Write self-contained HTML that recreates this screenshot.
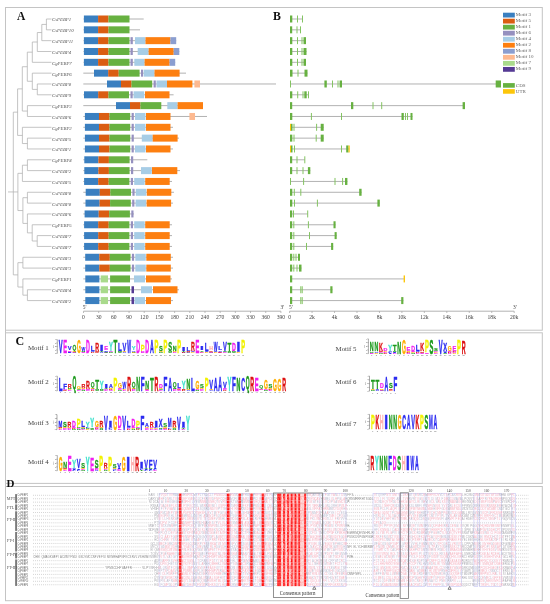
<!DOCTYPE html><html><head><meta charset="utf-8"><title>PEBP figure</title><style>html,body{margin:0;padding:0;background:#fff;}body{width:550px;height:604px;overflow:hidden;}svg{display:block;}</style></head><body>
<svg width="550" height="604" viewBox="0 0 550 604">
<rect width="550" height="604" fill="#fff"/>
<rect x="5.5" y="7.5" width="536.8" height="322.7" fill="none" stroke="#c4c4c4" stroke-width="1"/>
<text x="17" y="19.7" font-family="Liberation Serif, serif" font-weight="bold" font-size="11.5" fill="#111">A</text>
<text x="272.9" y="19.8" font-family="Liberation Serif, serif" font-weight="bold" font-size="11.8" fill="#111">B</text>
<path d="M46.4 19H51.5 M46.4 29.83H51.5 M46.4 19V29.83 M41.8 24.41H46.4 M41.8 40.66H51.5 M41.8 24.41V40.66 M37.3 32.54H41.8 M37.3 51.49H51.5 M37.3 32.54V51.49 M32.3 42.01H37.3 M32.3 62.32H51.5 M32.3 42.01V62.32 M37.3 83.98H51.5 M37.3 94.81H51.5 M37.3 83.98V94.81 M32.3 73.15H51.5 M32.3 89.4H37.3 M32.3 73.15V89.4 M27.3 52.17H32.3 M27.3 81.27H32.3 M27.3 52.17V81.27 M27.4 105.64H51.5 M27.4 116.47H51.5 M27.4 105.64V116.47 M22.3 66.72H27.3 M22.3 111.06H27.4 M22.3 66.72V111.06 M27.4 138.13H51.5 M27.4 148.96H51.5 M27.4 138.13V148.96 M22.4 127.3H51.5 M22.4 143.55H27.4 M22.4 127.3V143.55 M17.6 88.89H22.3 M17.6 135.42H22.4 M17.6 88.89V135.42 M27.4 159.79H51.5 M27.4 170.62H51.5 M27.4 159.79V170.62 M22.4 165.2H27.4 M22.4 181.45H51.5 M22.4 165.2V181.45 M27.4 192.28H51.5 M27.4 203.11H51.5 M27.4 192.28V203.11 M37.2 235.6H51.5 M37.2 246.43H51.5 M37.2 235.6V246.43 M32.2 224.77H51.5 M32.2 241.01H37.2 M32.2 224.77V241.01 M27.4 213.94H51.5 M27.4 232.89H32.2 M27.4 213.94V232.89 M22.9 197.69H27.4 M22.9 223.42H27.4 M22.9 197.69V223.42 M17.9 173.33H22.4 M17.9 210.56H22.9 M17.9 173.33V210.56 M22.9 257.26H51.5 M22.9 268.09H51.5 M22.9 257.26V268.09 M27.4 289.75H51.5 M27.4 300.58H51.5 M27.4 289.75V300.58 M22.9 278.92H51.5 M22.9 295.16H27.4 M22.9 278.92V295.16 M17.9 262.68H22.9 M17.9 287.04H22.9 M17.9 262.68V287.04 M13.3 112.15H17.6 M13.3 191.94H17.9 M13.3 274.86H17.9 M13.3 112.15V274.86 M8 191.94H13.3" fill="none" stroke="#b0b0b0" stroke-width="0.75"/>
<text x="52" y="21.4" font-family="Liberation Serif, serif" font-style="italic" font-size="4.8" fill="#555">CsPEBP1</text>
<text x="52" y="32.23" font-family="Liberation Serif, serif" font-style="italic" font-size="4.8" fill="#555">CsPEBP10</text>
<text x="52" y="43.06" font-family="Liberation Serif, serif" font-style="italic" font-size="4.8" fill="#555">CsPEBP11</text>
<text x="52" y="53.89" font-family="Liberation Serif, serif" font-style="italic" font-size="4.8" fill="#555">CsPEBP4</text>
<text x="52" y="64.72" font-family="Liberation Serif, serif" font-style="italic" font-size="4.8" fill="#555">CgPEBP7</text>
<text x="52" y="75.55" font-family="Liberation Serif, serif" font-style="italic" font-size="4.8" fill="#555">CgPEBP6</text>
<text x="52" y="86.38" font-family="Liberation Serif, serif" font-style="italic" font-size="4.8" fill="#555">CsPEBP8</text>
<text x="52" y="97.21" font-family="Liberation Serif, serif" font-style="italic" font-size="4.8" fill="#555">CsPEBP9</text>
<text x="52" y="108.04" font-family="Liberation Serif, serif" font-style="italic" font-size="4.8" fill="#555">CgPEBP3</text>
<text x="52" y="118.87" font-family="Liberation Serif, serif" font-style="italic" font-size="4.8" fill="#555">CsPEBP6</text>
<text x="52" y="129.7" font-family="Liberation Serif, serif" font-style="italic" font-size="4.8" fill="#555">CgPEBP2</text>
<text x="52" y="140.53" font-family="Liberation Serif, serif" font-style="italic" font-size="4.8" fill="#555">CsPEBP5</text>
<text x="52" y="151.36" font-family="Liberation Serif, serif" font-style="italic" font-size="4.8" fill="#555">CsPEBP1</text>
<text x="52" y="162.19" font-family="Liberation Serif, serif" font-style="italic" font-size="4.8" fill="#555">CgPEBP4</text>
<text x="52" y="173.02" font-family="Liberation Serif, serif" font-style="italic" font-size="4.8" fill="#555">CsPEBP2</text>
<text x="52" y="183.85" font-family="Liberation Serif, serif" font-style="italic" font-size="4.8" fill="#555">CsPEBP5</text>
<text x="52" y="194.68" font-family="Liberation Serif, serif" font-style="italic" font-size="4.8" fill="#555">CsPEBP8</text>
<text x="52" y="205.51" font-family="Liberation Serif, serif" font-style="italic" font-size="4.8" fill="#555">CsPEBP8</text>
<text x="52" y="216.34" font-family="Liberation Serif, serif" font-style="italic" font-size="4.8" fill="#555">CsPEBP6</text>
<text x="52" y="227.17" font-family="Liberation Serif, serif" font-style="italic" font-size="4.8" fill="#555">CgPEBP5</text>
<text x="52" y="238" font-family="Liberation Serif, serif" font-style="italic" font-size="4.8" fill="#555">CsPEBP7</text>
<text x="52" y="248.83" font-family="Liberation Serif, serif" font-style="italic" font-size="4.8" fill="#555">CsPEBP7</text>
<text x="52" y="259.66" font-family="Liberation Serif, serif" font-style="italic" font-size="4.8" fill="#555">CsPEBP3</text>
<text x="52" y="270.49" font-family="Liberation Serif, serif" font-style="italic" font-size="4.8" fill="#555">CsPEBP3</text>
<text x="52" y="281.32" font-family="Liberation Serif, serif" font-style="italic" font-size="4.8" fill="#555">CgPEBP1</text>
<text x="52" y="292.15" font-family="Liberation Serif, serif" font-style="italic" font-size="4.8" fill="#555">CsPEBP4</text>
<text x="52" y="302.98" font-family="Liberation Serif, serif" font-style="italic" font-size="4.8" fill="#555">CsPEBP2</text>
<path d="M83.5 19H143.7" stroke="#a9a9a9" stroke-width="0.9"/>
<rect x="83.9" y="15.5" width="14.2" height="7" fill="#3a7fc0"/>
<rect x="98.1" y="15.5" width="10.4" height="7" fill="#da5d12"/>
<rect x="108.5" y="15.5" width="21" height="7" fill="#67b141"/>
<path d="M83.5 29.83H140" stroke="#a9a9a9" stroke-width="0.9"/>
<rect x="83.9" y="26.33" width="14.2" height="7" fill="#3a7fc0"/>
<rect x="98.1" y="26.33" width="10.4" height="7" fill="#da5d12"/>
<rect x="108.5" y="26.33" width="21" height="7" fill="#67b141"/>
<path d="M83.5 40.66H176.2" stroke="#a9a9a9" stroke-width="0.9"/>
<rect x="83.9" y="37.16" width="14.2" height="7" fill="#3a7fc0"/>
<rect x="98.1" y="37.16" width="10.4" height="7" fill="#da5d12"/>
<rect x="108.5" y="37.16" width="21" height="7" fill="#67b141"/>
<rect x="130.5" y="37.16" width="2.3" height="7" fill="#9590bf"/>
<rect x="135" y="37.16" width="10.5" height="7" fill="#a7cde6"/>
<rect x="145.5" y="37.16" width="24.9" height="7" fill="#fd7f10"/>
<rect x="170.4" y="37.16" width="5.8" height="7" fill="#8b9ed0"/>
<path d="M83.5 51.49H179.3" stroke="#a9a9a9" stroke-width="0.9"/>
<rect x="83.9" y="47.99" width="14.2" height="7" fill="#3a7fc0"/>
<rect x="98.1" y="47.99" width="10.4" height="7" fill="#da5d12"/>
<rect x="108.5" y="47.99" width="21" height="7" fill="#67b141"/>
<rect x="130.5" y="47.99" width="2.3" height="7" fill="#9590bf"/>
<rect x="137.7" y="47.99" width="10.9" height="7" fill="#a7cde6"/>
<rect x="148.6" y="47.99" width="25.1" height="7" fill="#fd7f10"/>
<rect x="173.7" y="47.99" width="5.6" height="7" fill="#8b9ed0"/>
<path d="M83.5 62.32H175.2" stroke="#a9a9a9" stroke-width="0.9"/>
<rect x="83.9" y="58.82" width="14.2" height="7" fill="#3a7fc0"/>
<rect x="98.1" y="58.82" width="10.4" height="7" fill="#da5d12"/>
<rect x="108.5" y="58.82" width="21" height="7" fill="#67b141"/>
<rect x="130.5" y="58.82" width="2.3" height="7" fill="#9590bf"/>
<rect x="134.3" y="58.82" width="10.3" height="7" fill="#a7cde6"/>
<rect x="144.6" y="58.82" width="25" height="7" fill="#fd7f10"/>
<rect x="169.6" y="58.82" width="5.6" height="7" fill="#8b9ed0"/>
<path d="M83.3 73.15H186" stroke="#a9a9a9" stroke-width="0.9"/>
<rect x="94" y="69.65" width="14.2" height="7" fill="#3a7fc0"/>
<rect x="108.2" y="69.65" width="10.5" height="7" fill="#da5d12"/>
<rect x="118.7" y="69.65" width="20.9" height="7" fill="#67b141"/>
<rect x="141" y="69.65" width="2" height="7" fill="#9590bf"/>
<rect x="143.6" y="69.65" width="10.9" height="7" fill="#a7cde6"/>
<rect x="154.5" y="69.65" width="25.1" height="7" fill="#fd7f10"/>
<path d="M83.3 83.98H276" stroke="#a9a9a9" stroke-width="0.9"/>
<rect x="107" y="80.48" width="14" height="7" fill="#3a7fc0"/>
<rect x="121" y="80.48" width="10.5" height="7" fill="#da5d12"/>
<rect x="131.5" y="80.48" width="20.7" height="7" fill="#67b141"/>
<rect x="153.6" y="80.48" width="2.2" height="7" fill="#9590bf"/>
<rect x="156.5" y="80.48" width="10.5" height="7" fill="#a7cde6"/>
<rect x="167" y="80.48" width="25.4" height="7" fill="#fd7f10"/>
<rect x="194.4" y="80.48" width="5.6" height="7" fill="#fdb990"/>
<path d="M83.3 94.81H173.6" stroke="#a9a9a9" stroke-width="0.9"/>
<rect x="84" y="91.31" width="14.2" height="7" fill="#3a7fc0"/>
<rect x="98.2" y="91.31" width="10.3" height="7" fill="#da5d12"/>
<rect x="108.5" y="91.31" width="20.5" height="7" fill="#67b141"/>
<rect x="130.5" y="91.31" width="2.2" height="7" fill="#9590bf"/>
<rect x="133.6" y="91.31" width="10.6" height="7" fill="#a7cde6"/>
<rect x="145" y="91.31" width="24.5" height="7" fill="#fd7f10"/>
<path d="M83.3 105.64H203" stroke="#a9a9a9" stroke-width="0.9"/>
<rect x="116" y="102.14" width="14" height="7" fill="#3a7fc0"/>
<rect x="130" y="102.14" width="10.4" height="7" fill="#da5d12"/>
<rect x="140.4" y="102.14" width="20.9" height="7" fill="#67b141"/>
<rect x="167.3" y="102.14" width="10.3" height="7" fill="#a7cde6"/>
<rect x="177.6" y="102.14" width="25.4" height="7" fill="#fd7f10"/>
<path d="M83.3 116.47H207" stroke="#a9a9a9" stroke-width="0.9"/>
<rect x="84.9" y="112.97" width="14.1" height="7" fill="#3a7fc0"/>
<rect x="99" y="112.97" width="10.5" height="7" fill="#da5d12"/>
<rect x="109.5" y="112.97" width="20.7" height="7" fill="#67b141"/>
<rect x="131.6" y="112.97" width="2.2" height="7" fill="#9590bf"/>
<rect x="135" y="112.97" width="10.5" height="7" fill="#a7cde6"/>
<rect x="146" y="112.97" width="24.5" height="7" fill="#fd7f10"/>
<rect x="189.4" y="112.97" width="5.6" height="7" fill="#fdb990"/>
<path d="M83.3 127.3H173" stroke="#a9a9a9" stroke-width="0.9"/>
<rect x="84.9" y="123.8" width="14.1" height="7" fill="#3a7fc0"/>
<rect x="99" y="123.8" width="10.5" height="7" fill="#da5d12"/>
<rect x="109.5" y="123.8" width="20.7" height="7" fill="#67b141"/>
<rect x="131.6" y="123.8" width="2.2" height="7" fill="#9590bf"/>
<rect x="135" y="123.8" width="10.5" height="7" fill="#a7cde6"/>
<rect x="146" y="123.8" width="24.5" height="7" fill="#fd7f10"/>
<path d="M83.3 138.13H179" stroke="#a9a9a9" stroke-width="0.9"/>
<rect x="84.9" y="134.63" width="14.1" height="7" fill="#3a7fc0"/>
<rect x="99" y="134.63" width="10.5" height="7" fill="#da5d12"/>
<rect x="109.5" y="134.63" width="20.7" height="7" fill="#67b141"/>
<rect x="131.6" y="134.63" width="2.2" height="7" fill="#9590bf"/>
<rect x="141.8" y="134.63" width="10.9" height="7" fill="#a7cde6"/>
<rect x="152.7" y="134.63" width="24.9" height="7" fill="#fd7f10"/>
<path d="M83.3 148.96H173" stroke="#a9a9a9" stroke-width="0.9"/>
<rect x="84.9" y="145.46" width="14.1" height="7" fill="#3a7fc0"/>
<rect x="99" y="145.46" width="10.5" height="7" fill="#da5d12"/>
<rect x="109.5" y="145.46" width="20.7" height="7" fill="#67b141"/>
<rect x="131.6" y="145.46" width="2.2" height="7" fill="#9590bf"/>
<rect x="135" y="145.46" width="10.5" height="7" fill="#a7cde6"/>
<rect x="146" y="145.46" width="24.5" height="7" fill="#fd7f10"/>
<path d="M83.3 159.79H147.3" stroke="#a9a9a9" stroke-width="0.9"/>
<rect x="84.3" y="156.29" width="14.1" height="7" fill="#3a7fc0"/>
<rect x="98.4" y="156.29" width="10.5" height="7" fill="#da5d12"/>
<rect x="108.9" y="156.29" width="20.7" height="7" fill="#67b141"/>
<rect x="131" y="156.29" width="2.2" height="7" fill="#9590bf"/>
<path d="M83.3 170.62H180" stroke="#a9a9a9" stroke-width="0.9"/>
<rect x="84.3" y="167.12" width="14.1" height="7" fill="#3a7fc0"/>
<rect x="98.4" y="167.12" width="10.5" height="7" fill="#da5d12"/>
<rect x="108.9" y="167.12" width="20.7" height="7" fill="#67b141"/>
<rect x="131" y="167.12" width="2.2" height="7" fill="#9590bf"/>
<rect x="141" y="167.12" width="10.8" height="7" fill="#a7cde6"/>
<rect x="152" y="167.12" width="25.3" height="7" fill="#fd7f10"/>
<path d="M83.3 181.45H172" stroke="#a9a9a9" stroke-width="0.9"/>
<rect x="84.1" y="177.95" width="14.1" height="7" fill="#3a7fc0"/>
<rect x="98.2" y="177.95" width="10.5" height="7" fill="#da5d12"/>
<rect x="108.7" y="177.95" width="20.7" height="7" fill="#67b141"/>
<rect x="130.8" y="177.95" width="2.2" height="7" fill="#9590bf"/>
<rect x="134.2" y="177.95" width="10.5" height="7" fill="#a7cde6"/>
<rect x="145.2" y="177.95" width="24.5" height="7" fill="#fd7f10"/>
<path d="M83.3 192.28H174" stroke="#a9a9a9" stroke-width="0.9"/>
<rect x="85.7" y="188.78" width="14.1" height="7" fill="#3a7fc0"/>
<rect x="99.8" y="188.78" width="10.5" height="7" fill="#da5d12"/>
<rect x="110.3" y="188.78" width="20.7" height="7" fill="#67b141"/>
<rect x="132.4" y="188.78" width="2.2" height="7" fill="#9590bf"/>
<rect x="135.8" y="188.78" width="10.5" height="7" fill="#a7cde6"/>
<rect x="146.8" y="188.78" width="24.5" height="7" fill="#fd7f10"/>
<path d="M83.3 203.11H173" stroke="#a9a9a9" stroke-width="0.9"/>
<rect x="85.5" y="199.61" width="14.1" height="7" fill="#3a7fc0"/>
<rect x="99.6" y="199.61" width="10.5" height="7" fill="#da5d12"/>
<rect x="110.1" y="199.61" width="20.7" height="7" fill="#67b141"/>
<rect x="132.2" y="199.61" width="2.2" height="7" fill="#9590bf"/>
<rect x="135.6" y="199.61" width="10.5" height="7" fill="#a7cde6"/>
<rect x="146.6" y="199.61" width="24.5" height="7" fill="#fd7f10"/>
<path d="M83.3 213.94H134" stroke="#a9a9a9" stroke-width="0.9"/>
<rect x="84.6" y="210.44" width="14.1" height="7" fill="#3a7fc0"/>
<rect x="98.7" y="210.44" width="10.5" height="7" fill="#da5d12"/>
<rect x="109.2" y="210.44" width="20.7" height="7" fill="#67b141"/>
<rect x="131.3" y="210.44" width="2.2" height="7" fill="#9590bf"/>
<path d="M83.3 224.77H172" stroke="#a9a9a9" stroke-width="0.9"/>
<rect x="84.1" y="221.27" width="14.1" height="7" fill="#3a7fc0"/>
<rect x="98.2" y="221.27" width="10.5" height="7" fill="#da5d12"/>
<rect x="108.7" y="221.27" width="20.7" height="7" fill="#67b141"/>
<rect x="130.8" y="221.27" width="2.2" height="7" fill="#9590bf"/>
<rect x="134.2" y="221.27" width="10.5" height="7" fill="#a7cde6"/>
<rect x="145.2" y="221.27" width="24.5" height="7" fill="#fd7f10"/>
<path d="M83.3 235.6H172" stroke="#a9a9a9" stroke-width="0.9"/>
<rect x="84.1" y="232.1" width="14.1" height="7" fill="#3a7fc0"/>
<rect x="98.2" y="232.1" width="10.5" height="7" fill="#da5d12"/>
<rect x="108.7" y="232.1" width="20.7" height="7" fill="#67b141"/>
<rect x="130.8" y="232.1" width="2.2" height="7" fill="#9590bf"/>
<rect x="134.2" y="232.1" width="10.5" height="7" fill="#a7cde6"/>
<rect x="145.2" y="232.1" width="24.5" height="7" fill="#fd7f10"/>
<path d="M83.3 246.43H172" stroke="#a9a9a9" stroke-width="0.9"/>
<rect x="84.1" y="242.93" width="14.1" height="7" fill="#3a7fc0"/>
<rect x="98.2" y="242.93" width="10.5" height="7" fill="#da5d12"/>
<rect x="108.7" y="242.93" width="20.7" height="7" fill="#67b141"/>
<rect x="130.8" y="242.93" width="2.2" height="7" fill="#9590bf"/>
<rect x="134.2" y="242.93" width="10.5" height="7" fill="#a7cde6"/>
<rect x="145.2" y="242.93" width="24.5" height="7" fill="#fd7f10"/>
<path d="M83.3 257.26H173" stroke="#a9a9a9" stroke-width="0.9"/>
<rect x="85.2" y="253.76" width="14.1" height="7" fill="#3a7fc0"/>
<rect x="99.3" y="253.76" width="10.5" height="7" fill="#da5d12"/>
<rect x="109.8" y="253.76" width="20.7" height="7" fill="#67b141"/>
<rect x="131.9" y="253.76" width="2.2" height="7" fill="#9590bf"/>
<rect x="135.3" y="253.76" width="10.5" height="7" fill="#a7cde6"/>
<rect x="146.3" y="253.76" width="24.5" height="7" fill="#fd7f10"/>
<path d="M83.3 268.09H173" stroke="#a9a9a9" stroke-width="0.9"/>
<rect x="85.2" y="264.59" width="14.1" height="7" fill="#3a7fc0"/>
<rect x="99.3" y="264.59" width="10.5" height="7" fill="#da5d12"/>
<rect x="109.8" y="264.59" width="20.7" height="7" fill="#67b141"/>
<rect x="131.9" y="264.59" width="2.2" height="7" fill="#9590bf"/>
<rect x="135.3" y="264.59" width="10.5" height="7" fill="#a7cde6"/>
<rect x="146.3" y="264.59" width="24.5" height="7" fill="#fd7f10"/>
<path d="M83.3 278.92H172" stroke="#a9a9a9" stroke-width="0.9"/>
<rect x="85.3" y="275.42" width="14.1" height="7" fill="#3a7fc0"/>
<rect x="100.7" y="275.42" width="7.3" height="7" fill="#a9da8c"/>
<rect x="110.1" y="275.42" width="19.9" height="7" fill="#67b141"/>
<rect x="134" y="275.42" width="11" height="7" fill="#a7cde6"/>
<rect x="146" y="275.42" width="24.5" height="7" fill="#fd7f10"/>
<path d="M83.3 289.75H179" stroke="#a9a9a9" stroke-width="0.9"/>
<rect x="85.3" y="286.25" width="14.1" height="7" fill="#3a7fc0"/>
<rect x="100.7" y="286.25" width="7.3" height="7" fill="#a9da8c"/>
<rect x="110.1" y="286.25" width="19.9" height="7" fill="#67b141"/>
<rect x="131.5" y="286.25" width="2.5" height="7" fill="#553a94"/>
<rect x="141" y="286.25" width="11" height="7" fill="#a7cde6"/>
<rect x="153" y="286.25" width="24.5" height="7" fill="#fd7f10"/>
<path d="M83.3 300.58H173" stroke="#a9a9a9" stroke-width="0.9"/>
<rect x="85.3" y="297.08" width="14.1" height="7" fill="#3a7fc0"/>
<rect x="100.7" y="297.08" width="7.3" height="7" fill="#a9da8c"/>
<rect x="110.1" y="297.08" width="19.9" height="7" fill="#67b141"/>
<rect x="131.5" y="297.08" width="2.5" height="7" fill="#553a94"/>
<rect x="134.5" y="297.08" width="10.5" height="7" fill="#a7cde6"/>
<rect x="146" y="297.08" width="25" height="7" fill="#fd7f10"/>
<path d="M290 19H302.5" stroke="#a9a9a9" stroke-width="0.9"/>
<rect x="290" y="15.5" width="2.3" height="7" fill="#67b141"/>
<rect x="297" y="15.5" width="1" height="7" fill="#84c462"/>
<rect x="302" y="15.5" width="1" height="7" fill="#84c462"/>
<path d="M290 29.83H300.5" stroke="#a9a9a9" stroke-width="0.9"/>
<rect x="290" y="26.33" width="2.2" height="7" fill="#67b141"/>
<rect x="296.5" y="26.33" width="1" height="7" fill="#84c462"/>
<rect x="300" y="26.33" width="1" height="7" fill="#84c462"/>
<path d="M290 40.66H306" stroke="#a9a9a9" stroke-width="0.9"/>
<rect x="290" y="37.16" width="2.3" height="7" fill="#67b141"/>
<rect x="297" y="37.16" width="1" height="7" fill="#84c462"/>
<rect x="301.5" y="37.16" width="1" height="7" fill="#84c462"/>
<rect x="303.5" y="37.16" width="2.5" height="7" fill="#67b141"/>
<path d="M290 51.49H306.5" stroke="#a9a9a9" stroke-width="0.9"/>
<rect x="290" y="47.99" width="2.3" height="7" fill="#67b141"/>
<rect x="297" y="47.99" width="1" height="7" fill="#84c462"/>
<rect x="301.5" y="47.99" width="1" height="7" fill="#84c462"/>
<rect x="303.5" y="47.99" width="3" height="7" fill="#67b141"/>
<path d="M290 62.32H306" stroke="#a9a9a9" stroke-width="0.9"/>
<rect x="290" y="58.82" width="2.3" height="7" fill="#67b141"/>
<rect x="297" y="58.82" width="1" height="7" fill="#84c462"/>
<rect x="301.5" y="58.82" width="1" height="7" fill="#84c462"/>
<rect x="303.5" y="58.82" width="2.5" height="7" fill="#67b141"/>
<path d="M290 73.15H307.5" stroke="#a9a9a9" stroke-width="0.9"/>
<rect x="290" y="69.65" width="2.5" height="7" fill="#67b141"/>
<rect x="297.5" y="69.65" width="1" height="7" fill="#84c462"/>
<rect x="304.5" y="69.65" width="3" height="7" fill="#67b141"/>
<path d="M290 83.98H501" stroke="#a9a9a9" stroke-width="0.9"/>
<rect x="290" y="80.48" width="1" height="7" fill="#84c462"/>
<rect x="324.4" y="80.48" width="2.4" height="7" fill="#67b141"/>
<rect x="332" y="80.48" width="1" height="7" fill="#84c462"/>
<rect x="337.5" y="80.48" width="1" height="7" fill="#84c462"/>
<rect x="339.6" y="80.48" width="2.4" height="7" fill="#67b141"/>
<rect x="495.7" y="80.48" width="5.3" height="7" fill="#67b141"/>
<path d="M290 94.81H308.5" stroke="#a9a9a9" stroke-width="0.9"/>
<rect x="290" y="91.31" width="2.3" height="7" fill="#67b141"/>
<rect x="297.2" y="91.31" width="1" height="7" fill="#84c462"/>
<rect x="302.5" y="91.31" width="1" height="7" fill="#84c462"/>
<rect x="304.3" y="91.31" width="2.4" height="7" fill="#67b141"/>
<rect x="308" y="91.31" width="1" height="7" fill="#84c462"/>
<path d="M290 105.64H465" stroke="#a9a9a9" stroke-width="0.9"/>
<rect x="290" y="102.14" width="2.2" height="7" fill="#67b141"/>
<rect x="351" y="102.14" width="2.3" height="7" fill="#67b141"/>
<rect x="372.5" y="102.14" width="1" height="7" fill="#84c462"/>
<rect x="381.2" y="102.14" width="1" height="7" fill="#84c462"/>
<rect x="462.6" y="102.14" width="2.4" height="7" fill="#67b141"/>
<path d="M290 116.47H412.5" stroke="#a9a9a9" stroke-width="0.9"/>
<rect x="290" y="112.97" width="2.3" height="7" fill="#67b141"/>
<rect x="310.9" y="112.97" width="1" height="7" fill="#84c462"/>
<rect x="341" y="112.97" width="1" height="7" fill="#84c462"/>
<rect x="401.5" y="112.97" width="2.3" height="7" fill="#67b141"/>
<rect x="405" y="112.97" width="1" height="7" fill="#84c462"/>
<rect x="407" y="112.97" width="1" height="7" fill="#84c462"/>
<rect x="410.5" y="112.97" width="2" height="7" fill="#67b141"/>
<path d="M290 127.3H323.7" stroke="#a9a9a9" stroke-width="0.9"/>
<rect x="290" y="123.8" width="1" height="7" fill="#fcc60a"/>
<rect x="291" y="123.8" width="1.5" height="7" fill="#67b141"/>
<rect x="293.5" y="123.8" width="1" height="7" fill="#84c462"/>
<rect x="316.1" y="123.8" width="1" height="7" fill="#84c462"/>
<rect x="320.7" y="123.8" width="3" height="7" fill="#67b141"/>
<path d="M290 138.13H323.7" stroke="#a9a9a9" stroke-width="0.9"/>
<rect x="290" y="134.63" width="2.3" height="7" fill="#67b141"/>
<rect x="293.5" y="134.63" width="1" height="7" fill="#84c462"/>
<rect x="315.7" y="134.63" width="1" height="7" fill="#84c462"/>
<rect x="320.7" y="134.63" width="3" height="7" fill="#67b141"/>
<path d="M290 148.96H349.5" stroke="#a9a9a9" stroke-width="0.9"/>
<rect x="290" y="145.46" width="1" height="7" fill="#fcc60a"/>
<rect x="291" y="145.46" width="1.5" height="7" fill="#67b141"/>
<rect x="294" y="145.46" width="1" height="7" fill="#84c462"/>
<rect x="341" y="145.46" width="1" height="7" fill="#84c462"/>
<rect x="346.2" y="145.46" width="2.3" height="7" fill="#67b141"/>
<rect x="348.5" y="145.46" width="1.2" height="7" fill="#fcc60a"/>
<path d="M290 159.79H304.8" stroke="#a9a9a9" stroke-width="0.9"/>
<rect x="290" y="156.29" width="2.2" height="7" fill="#67b141"/>
<rect x="296.5" y="156.29" width="1" height="7" fill="#84c462"/>
<rect x="304.3" y="156.29" width="1" height="7" fill="#84c462"/>
<path d="M290 170.62H310.3" stroke="#a9a9a9" stroke-width="0.9"/>
<rect x="290" y="167.12" width="2.2" height="7" fill="#67b141"/>
<rect x="296.5" y="167.12" width="1" height="7" fill="#84c462"/>
<rect x="302.5" y="167.12" width="1" height="7" fill="#84c462"/>
<rect x="307.9" y="167.12" width="2.4" height="7" fill="#67b141"/>
<path d="M290 181.45H347.4" stroke="#a9a9a9" stroke-width="0.9"/>
<rect x="290" y="177.95" width="1" height="7" fill="#84c462"/>
<rect x="303.1" y="177.95" width="1" height="7" fill="#84c462"/>
<rect x="334.5" y="177.95" width="1" height="7" fill="#84c462"/>
<rect x="342.1" y="177.95" width="1" height="7" fill="#84c462"/>
<rect x="345" y="177.95" width="2.4" height="7" fill="#67b141"/>
<path d="M290 192.28H361.6" stroke="#a9a9a9" stroke-width="0.9"/>
<rect x="290" y="188.78" width="2.3" height="7" fill="#67b141"/>
<rect x="293.8" y="188.78" width="1" height="7" fill="#84c462"/>
<rect x="300.3" y="188.78" width="1" height="7" fill="#84c462"/>
<rect x="359.2" y="188.78" width="2.4" height="7" fill="#67b141"/>
<path d="M290 203.11H379.8" stroke="#a9a9a9" stroke-width="0.9"/>
<rect x="290" y="199.61" width="2.3" height="7" fill="#67b141"/>
<rect x="294" y="199.61" width="1" height="7" fill="#84c462"/>
<rect x="316.9" y="199.61" width="1" height="7" fill="#84c462"/>
<rect x="377.4" y="199.61" width="2.4" height="7" fill="#67b141"/>
<path d="M290 213.94H307.7" stroke="#a9a9a9" stroke-width="0.9"/>
<rect x="290" y="210.44" width="2.2" height="7" fill="#67b141"/>
<rect x="293" y="210.44" width="1" height="7" fill="#84c462"/>
<rect x="307.2" y="210.44" width="1" height="7" fill="#84c462"/>
<path d="M290 224.77H335.6" stroke="#a9a9a9" stroke-width="0.9"/>
<rect x="290" y="221.27" width="2.2" height="7" fill="#67b141"/>
<rect x="293.3" y="221.27" width="1" height="7" fill="#84c462"/>
<rect x="307.9" y="221.27" width="1" height="7" fill="#84c462"/>
<rect x="333.5" y="221.27" width="2.1" height="7" fill="#67b141"/>
<path d="M290 235.6H336.7" stroke="#a9a9a9" stroke-width="0.9"/>
<rect x="290" y="232.1" width="2.2" height="7" fill="#67b141"/>
<rect x="293.3" y="232.1" width="1" height="7" fill="#84c462"/>
<rect x="309" y="232.1" width="1" height="7" fill="#84c462"/>
<rect x="334.6" y="232.1" width="2.1" height="7" fill="#67b141"/>
<path d="M290 246.43H333.2" stroke="#a9a9a9" stroke-width="0.9"/>
<rect x="290" y="242.93" width="2.2" height="7" fill="#67b141"/>
<rect x="293.3" y="242.93" width="1" height="7" fill="#84c462"/>
<rect x="306" y="242.93" width="1" height="7" fill="#84c462"/>
<rect x="331.1" y="242.93" width="2.1" height="7" fill="#67b141"/>
<path d="M290 257.26H300" stroke="#a9a9a9" stroke-width="0.9"/>
<rect x="290" y="253.76" width="2.2" height="7" fill="#67b141"/>
<rect x="293.3" y="253.76" width="1" height="7" fill="#84c462"/>
<rect x="295.5" y="253.76" width="1" height="7" fill="#84c462"/>
<rect x="298" y="253.76" width="2" height="7" fill="#67b141"/>
<path d="M290 268.09H301.5" stroke="#a9a9a9" stroke-width="0.9"/>
<rect x="290" y="264.59" width="2.2" height="7" fill="#67b141"/>
<rect x="293.3" y="264.59" width="1" height="7" fill="#84c462"/>
<rect x="296.5" y="264.59" width="1" height="7" fill="#84c462"/>
<rect x="299" y="264.59" width="2.5" height="7" fill="#67b141"/>
<path d="M290 278.92H405" stroke="#a9a9a9" stroke-width="0.9"/>
<rect x="290" y="275.42" width="2.2" height="7" fill="#67b141"/>
<rect x="403.6" y="275.42" width="1.4" height="7" fill="#fcc60a"/>
<path d="M290 289.75H332.5" stroke="#a9a9a9" stroke-width="0.9"/>
<rect x="290" y="286.25" width="2.2" height="7" fill="#67b141"/>
<rect x="300.3" y="286.25" width="1" height="7" fill="#84c462"/>
<rect x="301.7" y="286.25" width="1" height="7" fill="#84c462"/>
<rect x="330.3" y="286.25" width="2.2" height="7" fill="#67b141"/>
<path d="M290 300.58H403.4" stroke="#a9a9a9" stroke-width="0.9"/>
<rect x="290" y="297.08" width="2.2" height="7" fill="#67b141"/>
<rect x="300.3" y="297.08" width="1" height="7" fill="#84c462"/>
<rect x="301.7" y="297.08" width="1" height="7" fill="#84c462"/>
<rect x="401.2" y="297.08" width="2.2" height="7" fill="#67b141"/>
<rect x="503" y="12.7" width="11.8" height="4.8" fill="#3a7fc0"/>
<text x="515.8" y="16.2" font-family="Liberation Serif, serif" font-size="5" fill="#666">Motif 3</text>
<rect x="503" y="18.73" width="11.8" height="4.8" fill="#da5d12"/>
<text x="515.8" y="22.23" font-family="Liberation Serif, serif" font-size="5" fill="#666">Motif 5</text>
<rect x="503" y="24.76" width="11.8" height="4.8" fill="#67b141"/>
<text x="515.8" y="28.26" font-family="Liberation Serif, serif" font-size="5" fill="#666">Motif 1</text>
<rect x="503" y="30.79" width="11.8" height="4.8" fill="#9590bf"/>
<text x="515.8" y="34.29" font-family="Liberation Serif, serif" font-size="5" fill="#666">Motif 6</text>
<rect x="503" y="36.82" width="11.8" height="4.8" fill="#a7cde6"/>
<text x="515.8" y="40.32" font-family="Liberation Serif, serif" font-size="5" fill="#666">Motif 4</text>
<rect x="503" y="42.85" width="11.8" height="4.8" fill="#fd7f10"/>
<text x="515.8" y="46.35" font-family="Liberation Serif, serif" font-size="5" fill="#666">Motif 2</text>
<rect x="503" y="48.88" width="11.8" height="4.8" fill="#8b9ed0"/>
<text x="515.8" y="52.38" font-family="Liberation Serif, serif" font-size="5" fill="#666">Motif 8</text>
<rect x="503" y="54.91" width="11.8" height="4.8" fill="#fdb990"/>
<text x="515.8" y="58.41" font-family="Liberation Serif, serif" font-size="5" fill="#666">Motif 10</text>
<rect x="503" y="60.94" width="11.8" height="4.8" fill="#a9da8c"/>
<text x="515.8" y="64.44" font-family="Liberation Serif, serif" font-size="5" fill="#666">Motif 7</text>
<rect x="503" y="66.97" width="11.8" height="4.8" fill="#553a94"/>
<text x="515.8" y="70.47" font-family="Liberation Serif, serif" font-size="5" fill="#666">Motif 9</text>
<rect x="503" y="83.1" width="11.8" height="4.6" fill="#67b141"/>
<text x="515.8" y="86.6" font-family="Liberation Serif, serif" font-size="5" fill="#666">CDS</text>
<rect x="503" y="89.13" width="11.8" height="4.6" fill="#fcc60a"/>
<text x="515.8" y="92.63" font-family="Liberation Serif, serif" font-size="5" fill="#666">UTR</text>
<path d="M83.5 311.2H280.9M289.6 311.2H514.2" stroke="#a0a0a0" stroke-width="0.8"/>
<text x="83.5" y="319.0" text-anchor="middle" font-family="Liberation Serif, serif" font-size="5.6" fill="#444">0</text>
<text x="98.68" y="319.0" text-anchor="middle" font-family="Liberation Serif, serif" font-size="5.6" fill="#444">30</text>
<text x="113.87" y="319.0" text-anchor="middle" font-family="Liberation Serif, serif" font-size="5.6" fill="#444">60</text>
<text x="129.05" y="319.0" text-anchor="middle" font-family="Liberation Serif, serif" font-size="5.6" fill="#444">90</text>
<text x="144.24" y="319.0" text-anchor="middle" font-family="Liberation Serif, serif" font-size="5.6" fill="#444">120</text>
<text x="159.42" y="319.0" text-anchor="middle" font-family="Liberation Serif, serif" font-size="5.6" fill="#444">150</text>
<text x="174.61" y="319.0" text-anchor="middle" font-family="Liberation Serif, serif" font-size="5.6" fill="#444">180</text>
<text x="189.79" y="319.0" text-anchor="middle" font-family="Liberation Serif, serif" font-size="5.6" fill="#444">210</text>
<text x="204.98" y="319.0" text-anchor="middle" font-family="Liberation Serif, serif" font-size="5.6" fill="#444">240</text>
<text x="220.16" y="319.0" text-anchor="middle" font-family="Liberation Serif, serif" font-size="5.6" fill="#444">270</text>
<text x="235.35" y="319.0" text-anchor="middle" font-family="Liberation Serif, serif" font-size="5.6" fill="#444">300</text>
<text x="250.53" y="319.0" text-anchor="middle" font-family="Liberation Serif, serif" font-size="5.6" fill="#444">330</text>
<text x="265.72" y="319.0" text-anchor="middle" font-family="Liberation Serif, serif" font-size="5.6" fill="#444">360</text>
<text x="280.9" y="319.0" text-anchor="middle" font-family="Liberation Serif, serif" font-size="5.6" fill="#444">390</text>
<text x="289.6" y="319.0" text-anchor="middle" font-family="Liberation Serif, serif" font-size="5.6" fill="#444">0</text>
<text x="312.06" y="319.0" text-anchor="middle" font-family="Liberation Serif, serif" font-size="5.6" fill="#444">2k</text>
<text x="334.52" y="319.0" text-anchor="middle" font-family="Liberation Serif, serif" font-size="5.6" fill="#444">4k</text>
<text x="356.98" y="319.0" text-anchor="middle" font-family="Liberation Serif, serif" font-size="5.6" fill="#444">6k</text>
<text x="379.44" y="319.0" text-anchor="middle" font-family="Liberation Serif, serif" font-size="5.6" fill="#444">8k</text>
<text x="401.9" y="319.0" text-anchor="middle" font-family="Liberation Serif, serif" font-size="5.6" fill="#444">10k</text>
<text x="424.36" y="319.0" text-anchor="middle" font-family="Liberation Serif, serif" font-size="5.6" fill="#444">12k</text>
<text x="446.82" y="319.0" text-anchor="middle" font-family="Liberation Serif, serif" font-size="5.6" fill="#444">14k</text>
<text x="469.28" y="319.0" text-anchor="middle" font-family="Liberation Serif, serif" font-size="5.6" fill="#444">16k</text>
<text x="491.74" y="319.0" text-anchor="middle" font-family="Liberation Serif, serif" font-size="5.6" fill="#444">18k</text>
<text x="514.2" y="319.0" text-anchor="middle" font-family="Liberation Serif, serif" font-size="5.6" fill="#444">20k</text>
<path d="M83.5 311.2v1.8M98.68 311.2v1.8M113.87 311.2v1.8M129.05 311.2v1.8M144.24 311.2v1.8M159.42 311.2v1.8M174.61 311.2v1.8M189.79 311.2v1.8M204.98 311.2v1.8M220.16 311.2v1.8M235.35 311.2v1.8M250.53 311.2v1.8M265.72 311.2v1.8M280.9 311.2v1.8M289.6 311.2v1.8M312.06 311.2v1.8M334.52 311.2v1.8M356.98 311.2v1.8M379.44 311.2v1.8M401.9 311.2v1.8M424.36 311.2v1.8M446.82 311.2v1.8M469.28 311.2v1.8M491.74 311.2v1.8M514.2 311.2v1.8" stroke="#a0a0a0" stroke-width="0.7"/>
<text x="84.6" y="309.4" text-anchor="middle" font-family="Liberation Serif, serif" font-size="5.4" fill="#444">5'</text>
<text x="282.3" y="309.4" text-anchor="middle" font-family="Liberation Serif, serif" font-size="5.4" fill="#444">3'</text>
<text x="290.8" y="309.4" text-anchor="middle" font-family="Liberation Serif, serif" font-size="5.4" fill="#444">5'</text>
<text x="514.8" y="309.4" text-anchor="middle" font-family="Liberation Serif, serif" font-size="5.4" fill="#444">3'</text>
<rect x="5.5" y="332.8" width="536.8" height="150.6" fill="none" stroke="#c4c4c4" stroke-width="1"/>
<text x="15.5" y="344.8" font-family="Liberation Serif, serif" font-weight="bold" font-size="12" fill="#111">C</text>
<text x="27.9" y="350.4" font-family="Liberation Serif, serif" font-size="6.9" fill="#404040">Motif 1</text>
<text x="27.9" y="384.4" font-family="Liberation Serif, serif" font-size="6.9" fill="#404040">Motif 2</text>
<text x="27.9" y="425.2" font-family="Liberation Serif, serif" font-size="6.9" fill="#404040">Motif 3</text>
<text x="27.9" y="464" font-family="Liberation Serif, serif" font-size="6.9" fill="#404040">Motif 4</text>
<text x="335.5" y="350.7" font-family="Liberation Serif, serif" font-size="6.9" fill="#404040">Motif 5</text>
<text x="335.5" y="384" font-family="Liberation Serif, serif" font-size="6.9" fill="#404040">Motif 6</text>
<text x="335.5" y="425.7" font-family="Liberation Serif, serif" font-size="6.9" fill="#404040">Motif 7</text>
<text x="335.5" y="464.4" font-family="Liberation Serif, serif" font-size="6.9" fill="#404040">Motif 8</text>
<path d="M57.3 353.4V339.6M57.3 353.4h-1M57.3 349.95h-1M57.3 346.5h-1M57.3 343.05h-1M57.3 339.6h-1" stroke="#666" stroke-width="0.55" fill="none"/><text x="56.1" y="354" font-family="Liberation Sans, sans-serif" font-size="2.1" fill="#666" text-anchor="end">0</text><text x="56.1" y="350.55" font-family="Liberation Sans, sans-serif" font-size="2.1" fill="#666" text-anchor="end">1</text><text x="56.1" y="347.1" font-family="Liberation Sans, sans-serif" font-size="2.1" fill="#666" text-anchor="end">2</text><text x="56.1" y="343.65" font-family="Liberation Sans, sans-serif" font-size="2.1" fill="#666" text-anchor="end">3</text><text x="56.1" y="340.2" font-family="Liberation Sans, sans-serif" font-size="2.1" fill="#666" text-anchor="end">4</text><text transform="translate(54.2 346.5) rotate(-90)" font-family="Liberation Sans, sans-serif" font-size="1.8" fill="#777" text-anchor="middle">bits</text><g font-family="Liberation Sans, sans-serif" font-weight="bold" font-size="10" stroke-width="0.35" vector-effect="non-scaling-stroke"><text transform="translate(58.73 353.4) scale(1 1.899)" textLength="3.83" lengthAdjust="spacingAndGlyphs" fill="#2b2bf0" stroke="#2b2bf0">V</text><text transform="translate(63.29 353.4) scale(1 1.816)" textLength="3.83" lengthAdjust="spacingAndGlyphs" fill="#f01cf0" stroke="#f01cf0">E</text><text transform="translate(67.85 350.4) scale(1 0.559)" textLength="3.83" lengthAdjust="spacingAndGlyphs" fill="#2b2bf0" stroke="#2b2bf0">V</text><text transform="translate(67.85 351.9) scale(1 0.209)" textLength="3.83" lengthAdjust="spacingAndGlyphs" fill="#f01cf0" stroke="#f01cf0">E</text><text transform="translate(67.85 352.8) scale(1 0.126)" textLength="3.83" lengthAdjust="spacingAndGlyphs" fill="#2b2bf0" stroke="#2b2bf0">I</text><text transform="translate(67.85 353.4) scale(1 0.084)" textLength="3.83" lengthAdjust="spacingAndGlyphs" fill="#2b2bf0" stroke="#2b2bf0">L</text><text transform="translate(72.41 349.87) scale(1 0.722)" textLength="3.83" lengthAdjust="spacingAndGlyphs" fill="#1c9a1c" stroke="#1c9a1c">Q</text><text transform="translate(72.41 351.9) scale(1 0.209)" textLength="3.83" lengthAdjust="spacingAndGlyphs" fill="#ffae00" stroke="#ffae00">G</text><text transform="translate(72.41 352.8) scale(1 0.126)" textLength="3.83" lengthAdjust="spacingAndGlyphs" fill="#1c9a1c" stroke="#1c9a1c">S</text><text transform="translate(72.41 353.4) scale(1 0.084)" textLength="3.83" lengthAdjust="spacingAndGlyphs" fill="#f01cf0" stroke="#f01cf0">E</text><text transform="translate(76.97 353.4) scale(1 1.746)" textLength="3.83" lengthAdjust="spacingAndGlyphs" fill="#ffae00" stroke="#ffae00">G</text><text transform="translate(81.53 351.1) scale(1 0.587)" textLength="3.83" lengthAdjust="spacingAndGlyphs" fill="#2b2bf0" stroke="#2b2bf0">W</text><text transform="translate(81.53 352.48) scale(1 0.193)" textLength="3.83" lengthAdjust="spacingAndGlyphs" fill="#1c9a1c" stroke="#1c9a1c">N</text><text transform="translate(81.53 353.4) scale(1 0.128)" textLength="3.83" lengthAdjust="spacingAndGlyphs" fill="#f01cf0" stroke="#f01cf0">E</text><text transform="translate(86.09 353.4) scale(1 1.816)" textLength="3.83" lengthAdjust="spacingAndGlyphs" fill="#f01cf0" stroke="#f01cf0">D</text><text transform="translate(90.65 351.1) scale(1 0.740)" textLength="3.83" lengthAdjust="spacingAndGlyphs" fill="#2b2bf0" stroke="#2b2bf0">L</text><text transform="translate(90.65 352.48) scale(1 0.193)" textLength="3.83" lengthAdjust="spacingAndGlyphs" fill="#2b2bf0" stroke="#2b2bf0">V</text><text transform="translate(90.65 353.4) scale(1 0.128)" textLength="3.83" lengthAdjust="spacingAndGlyphs" fill="#dd1111" stroke="#dd1111">K</text><text transform="translate(95.21 351.1) scale(1 1.117)" textLength="3.83" lengthAdjust="spacingAndGlyphs" fill="#dd1111" stroke="#dd1111">R</text><text transform="translate(95.21 352.48) scale(1 0.193)" textLength="3.83" lengthAdjust="spacingAndGlyphs" fill="#dd1111" stroke="#dd1111">R</text><text transform="translate(95.21 353.4) scale(1 0.128)" textLength="3.83" lengthAdjust="spacingAndGlyphs" fill="#dd1111" stroke="#dd1111">K</text><text transform="translate(99.77 351.1) scale(1 0.894)" textLength="3.83" lengthAdjust="spacingAndGlyphs" fill="#2b2bf0" stroke="#2b2bf0">I</text><text transform="translate(99.77 352.48) scale(1 0.193)" textLength="3.83" lengthAdjust="spacingAndGlyphs" fill="#1c9a1c" stroke="#1c9a1c">T</text><text transform="translate(99.77 353.4) scale(1 0.128)" textLength="3.83" lengthAdjust="spacingAndGlyphs" fill="#2b2bf0" stroke="#2b2bf0">V</text><text transform="translate(104.33 350.4) scale(1 0.559)" textLength="3.83" lengthAdjust="spacingAndGlyphs" fill="#f01cf0" stroke="#f01cf0">E</text><text transform="translate(104.33 351.9) scale(1 0.209)" textLength="3.83" lengthAdjust="spacingAndGlyphs" fill="#2b2bf0" stroke="#2b2bf0">F</text><text transform="translate(104.33 352.8) scale(1 0.126)" textLength="3.83" lengthAdjust="spacingAndGlyphs" fill="#f01cf0" stroke="#f01cf0">D</text><text transform="translate(104.33 353.34) scale(1 0.076)" textLength="3.83" lengthAdjust="spacingAndGlyphs" fill="#1c9a1c" stroke="#1c9a1c">Q</text><text transform="translate(108.89 351.1) scale(1 1.341)" textLength="3.83" lengthAdjust="spacingAndGlyphs" fill="#3ee0cc" stroke="#3ee0cc">Y</text><text transform="translate(108.89 352.48) scale(1 0.193)" textLength="3.83" lengthAdjust="spacingAndGlyphs" fill="#f01cf0" stroke="#f01cf0">D</text><text transform="translate(108.89 353.4) scale(1 0.128)" textLength="3.83" lengthAdjust="spacingAndGlyphs" fill="#1c9a1c" stroke="#1c9a1c">N</text><text transform="translate(113.45 353.4) scale(1 1.899)" textLength="3.83" lengthAdjust="spacingAndGlyphs" fill="#1c9a1c" stroke="#1c9a1c">T</text><text transform="translate(118.01 351.1) scale(1 1.117)" textLength="3.83" lengthAdjust="spacingAndGlyphs" fill="#2b2bf0" stroke="#2b2bf0">L</text><text transform="translate(118.01 352.48) scale(1 0.193)" textLength="3.83" lengthAdjust="spacingAndGlyphs" fill="#1c9a1c" stroke="#1c9a1c">N</text><text transform="translate(118.01 353.4) scale(1 0.128)" textLength="3.83" lengthAdjust="spacingAndGlyphs" fill="#1c9a1c" stroke="#1c9a1c">S</text><text transform="translate(122.57 351.1) scale(1 1.117)" textLength="3.83" lengthAdjust="spacingAndGlyphs" fill="#2b2bf0" stroke="#2b2bf0">V</text><text transform="translate(122.57 352.48) scale(1 0.193)" textLength="3.83" lengthAdjust="spacingAndGlyphs" fill="#ffae00" stroke="#ffae00">G</text><text transform="translate(122.57 353.4) scale(1 0.128)" textLength="3.83" lengthAdjust="spacingAndGlyphs" fill="#2b2bf0" stroke="#2b2bf0">A</text><text transform="translate(127.13 353.4) scale(1 1.816)" textLength="3.83" lengthAdjust="spacingAndGlyphs" fill="#2b2bf0" stroke="#2b2bf0">W</text><text transform="translate(131.69 350.4) scale(1 0.559)" textLength="3.83" lengthAdjust="spacingAndGlyphs" fill="#3ee0cc" stroke="#3ee0cc">Y</text><text transform="translate(131.69 351.9) scale(1 0.209)" textLength="3.83" lengthAdjust="spacingAndGlyphs" fill="#2b2bf0" stroke="#2b2bf0">V</text><text transform="translate(131.69 352.8) scale(1 0.126)" textLength="3.83" lengthAdjust="spacingAndGlyphs" fill="#1c9a1c" stroke="#1c9a1c">N</text><text transform="translate(131.69 353.4) scale(1 0.084)" textLength="3.83" lengthAdjust="spacingAndGlyphs" fill="#ffae00" stroke="#ffae00">G</text><text transform="translate(136.25 353.4) scale(1 1.899)" textLength="3.83" lengthAdjust="spacingAndGlyphs" fill="#f01cf0" stroke="#f01cf0">D</text><text transform="translate(140.81 351.1) scale(1 0.894)" textLength="3.83" lengthAdjust="spacingAndGlyphs" fill="#f2f200" stroke="#f2f200">P</text><text transform="translate(140.81 352.48) scale(1 0.193)" textLength="3.83" lengthAdjust="spacingAndGlyphs" fill="#f01cf0" stroke="#f01cf0">D</text><text transform="translate(140.81 353.4) scale(1 0.128)" textLength="3.83" lengthAdjust="spacingAndGlyphs" fill="#f01cf0" stroke="#f01cf0">E</text><text transform="translate(145.37 353.4) scale(1 1.816)" textLength="3.83" lengthAdjust="spacingAndGlyphs" fill="#f01cf0" stroke="#f01cf0">D</text><text transform="translate(149.93 353.4) scale(1 1.746)" textLength="3.83" lengthAdjust="spacingAndGlyphs" fill="#2b2bf0" stroke="#2b2bf0">A</text><text transform="translate(154.49 353.4) scale(1 1.746)" textLength="3.83" lengthAdjust="spacingAndGlyphs" fill="#f2f200" stroke="#f2f200">P</text><text transform="translate(159.05 351.1) scale(1 0.796)" textLength="3.83" lengthAdjust="spacingAndGlyphs" fill="#1c9a1c" stroke="#1c9a1c">S</text><text transform="translate(159.05 352.48) scale(1 0.193)" textLength="3.83" lengthAdjust="spacingAndGlyphs" fill="#ffae00" stroke="#ffae00">G</text><text transform="translate(159.05 353.4) scale(1 0.128)" textLength="3.83" lengthAdjust="spacingAndGlyphs" fill="#1c9a1c" stroke="#1c9a1c">N</text><text transform="translate(163.61 353.4) scale(1 1.899)" textLength="3.83" lengthAdjust="spacingAndGlyphs" fill="#f2f200" stroke="#f2f200">P</text><text transform="translate(168.17 351.1) scale(1 1.215)" textLength="3.83" lengthAdjust="spacingAndGlyphs" fill="#1c9a1c" stroke="#1c9a1c">S</text><text transform="translate(168.17 352.48) scale(1 0.193)" textLength="3.83" lengthAdjust="spacingAndGlyphs" fill="#1c9a1c" stroke="#1c9a1c">N</text><text transform="translate(168.17 353.4) scale(1 0.128)" textLength="3.83" lengthAdjust="spacingAndGlyphs" fill="#1c9a1c" stroke="#1c9a1c">S</text><text transform="translate(172.73 351.1) scale(1 0.796)" textLength="3.83" lengthAdjust="spacingAndGlyphs" fill="#1c9a1c" stroke="#1c9a1c">N</text><text transform="translate(172.73 352.48) scale(1 0.193)" textLength="3.83" lengthAdjust="spacingAndGlyphs" fill="#ffae00" stroke="#ffae00">G</text><text transform="translate(172.73 353.4) scale(1 0.128)" textLength="3.83" lengthAdjust="spacingAndGlyphs" fill="#f01cf0" stroke="#f01cf0">D</text><text transform="translate(177.29 353.4) scale(1 1.899)" textLength="3.83" lengthAdjust="spacingAndGlyphs" fill="#f2f200" stroke="#f2f200">P</text><text transform="translate(181.85 350.7) scale(1 0.461)" textLength="3.83" lengthAdjust="spacingAndGlyphs" fill="#2b2bf0" stroke="#2b2bf0">I</text><text transform="translate(181.85 352.05) scale(1 0.189)" textLength="3.83" lengthAdjust="spacingAndGlyphs" fill="#1c9a1c" stroke="#1c9a1c">T</text><text transform="translate(181.85 352.86) scale(1 0.113)" textLength="3.83" lengthAdjust="spacingAndGlyphs" fill="#2b2bf0" stroke="#2b2bf0">A</text><text transform="translate(181.85 353.4) scale(1 0.075)" textLength="3.83" lengthAdjust="spacingAndGlyphs" fill="#dd1111" stroke="#dd1111">K</text><text transform="translate(186.41 350.7) scale(1 0.461)" textLength="3.83" lengthAdjust="spacingAndGlyphs" fill="#2b2bf0" stroke="#2b2bf0">L</text><text transform="translate(186.41 352.05) scale(1 0.189)" textLength="3.83" lengthAdjust="spacingAndGlyphs" fill="#dd1111" stroke="#dd1111">R</text><text transform="translate(186.41 352.86) scale(1 0.113)" textLength="3.83" lengthAdjust="spacingAndGlyphs" fill="#ffae00" stroke="#ffae00">G</text><text transform="translate(186.41 353.4) scale(1 0.075)" textLength="3.83" lengthAdjust="spacingAndGlyphs" fill="#2b2bf0" stroke="#2b2bf0">V</text><text transform="translate(190.97 351.1) scale(1 1.215)" textLength="3.83" lengthAdjust="spacingAndGlyphs" fill="#dd1111" stroke="#dd1111">R</text><text transform="translate(190.97 352.48) scale(1 0.193)" textLength="3.83" lengthAdjust="spacingAndGlyphs" fill="#2b2bf0" stroke="#2b2bf0">A</text><text transform="translate(190.97 353.4) scale(1 0.128)" textLength="3.83" lengthAdjust="spacingAndGlyphs" fill="#ffae00" stroke="#ffae00">G</text><text transform="translate(195.53 353.4) scale(1 1.899)" textLength="3.83" lengthAdjust="spacingAndGlyphs" fill="#f01cf0" stroke="#f01cf0">E</text><text transform="translate(200.09 350.4) scale(1 0.559)" textLength="3.83" lengthAdjust="spacingAndGlyphs" fill="#2b2bf0" stroke="#2b2bf0">I</text><text transform="translate(200.09 351.9) scale(1 0.209)" textLength="3.83" lengthAdjust="spacingAndGlyphs" fill="#1c9a1c" stroke="#1c9a1c">T</text><text transform="translate(200.09 352.8) scale(1 0.126)" textLength="3.83" lengthAdjust="spacingAndGlyphs" fill="#ffae00" stroke="#ffae00">G</text><text transform="translate(200.09 353.4) scale(1 0.084)" textLength="3.83" lengthAdjust="spacingAndGlyphs" fill="#f01cf0" stroke="#f01cf0">E</text><text transform="translate(204.65 351.1) scale(1 1.117)" textLength="3.83" lengthAdjust="spacingAndGlyphs" fill="#2b2bf0" stroke="#2b2bf0">L</text><text transform="translate(204.65 352.48) scale(1 0.193)" textLength="3.83" lengthAdjust="spacingAndGlyphs" fill="#2b2bf0" stroke="#2b2bf0">A</text><text transform="translate(204.65 353.4) scale(1 0.128)" textLength="3.83" lengthAdjust="spacingAndGlyphs" fill="#ffae00" stroke="#ffae00">G</text><text transform="translate(209.21 350.4) scale(1 0.559)" textLength="3.83" lengthAdjust="spacingAndGlyphs" fill="#ffb0b0" stroke="#ffb0b0">H</text><text transform="translate(209.21 351.9) scale(1 0.209)" textLength="3.83" lengthAdjust="spacingAndGlyphs" fill="#dd1111" stroke="#dd1111">K</text><text transform="translate(209.21 352.8) scale(1 0.126)" textLength="3.83" lengthAdjust="spacingAndGlyphs" fill="#1c9a1c" stroke="#1c9a1c">N</text><text transform="translate(209.21 353.4) scale(1 0.084)" textLength="3.83" lengthAdjust="spacingAndGlyphs" fill="#f01cf0" stroke="#f01cf0">D</text><text transform="translate(213.77 351.1) scale(1 1.355)" textLength="3.83" lengthAdjust="spacingAndGlyphs" fill="#2b2bf0" stroke="#2b2bf0">W</text><text transform="translate(213.77 352.48) scale(1 0.193)" textLength="3.83" lengthAdjust="spacingAndGlyphs" fill="#2b2bf0" stroke="#2b2bf0">A</text><text transform="translate(213.77 353.4) scale(1 0.128)" textLength="3.83" lengthAdjust="spacingAndGlyphs" fill="#ffae00" stroke="#ffae00">G</text><text transform="translate(218.33 350.4) scale(1 0.559)" textLength="3.83" lengthAdjust="spacingAndGlyphs" fill="#2b2bf0" stroke="#2b2bf0">L</text><text transform="translate(218.33 351.9) scale(1 0.209)" textLength="3.83" lengthAdjust="spacingAndGlyphs" fill="#2b2bf0" stroke="#2b2bf0">V</text><text transform="translate(218.33 352.8) scale(1 0.126)" textLength="3.83" lengthAdjust="spacingAndGlyphs" fill="#f01cf0" stroke="#f01cf0">E</text><text transform="translate(218.33 353.4) scale(1 0.084)" textLength="3.83" lengthAdjust="spacingAndGlyphs" fill="#dd1111" stroke="#dd1111">K</text><text transform="translate(222.89 351.1) scale(1 1.355)" textLength="3.83" lengthAdjust="spacingAndGlyphs" fill="#2b2bf0" stroke="#2b2bf0">V</text><text transform="translate(222.89 352.48) scale(1 0.193)" textLength="3.83" lengthAdjust="spacingAndGlyphs" fill="#1c9a1c" stroke="#1c9a1c">S</text><text transform="translate(222.89 353.4) scale(1 0.128)" textLength="3.83" lengthAdjust="spacingAndGlyphs" fill="#f01cf0" stroke="#f01cf0">D</text><text transform="translate(227.45 351.1) scale(1 1.117)" textLength="3.83" lengthAdjust="spacingAndGlyphs" fill="#1c9a1c" stroke="#1c9a1c">T</text><text transform="translate(227.45 352.35) scale(1 0.175)" textLength="3.83" lengthAdjust="spacingAndGlyphs" fill="#1c9a1c" stroke="#1c9a1c">Q</text><text transform="translate(227.45 353.4) scale(1 0.128)" textLength="3.83" lengthAdjust="spacingAndGlyphs" fill="#1c9a1c" stroke="#1c9a1c">S</text><text transform="translate(232.01 351.1) scale(1 1.117)" textLength="3.83" lengthAdjust="spacingAndGlyphs" fill="#f01cf0" stroke="#f01cf0">D</text><text transform="translate(232.01 352.48) scale(1 0.193)" textLength="3.83" lengthAdjust="spacingAndGlyphs" fill="#1c9a1c" stroke="#1c9a1c">N</text><text transform="translate(232.01 353.4) scale(1 0.128)" textLength="3.83" lengthAdjust="spacingAndGlyphs" fill="#1c9a1c" stroke="#1c9a1c">S</text><text transform="translate(236.57 351.1) scale(1 1.285)" textLength="3.83" lengthAdjust="spacingAndGlyphs" fill="#2b2bf0" stroke="#2b2bf0">I</text><text transform="translate(236.57 352.48) scale(1 0.193)" textLength="3.83" lengthAdjust="spacingAndGlyphs" fill="#2b2bf0" stroke="#2b2bf0">A</text><text transform="translate(236.57 353.4) scale(1 0.128)" textLength="3.83" lengthAdjust="spacingAndGlyphs" fill="#ffae00" stroke="#ffae00">G</text><text transform="translate(241.13 353.4) scale(1 1.746)" textLength="3.83" lengthAdjust="spacingAndGlyphs" fill="#f2f200" stroke="#f2f200">P</text></g><text x="60.6" y="356" font-family="Liberation Sans, sans-serif" font-size="2.0" fill="#555" text-anchor="middle">1</text><text x="65.16" y="356" font-family="Liberation Sans, sans-serif" font-size="2.0" fill="#555" text-anchor="middle">2</text><text x="69.72" y="356" font-family="Liberation Sans, sans-serif" font-size="2.0" fill="#555" text-anchor="middle">3</text><text x="74.28" y="356" font-family="Liberation Sans, sans-serif" font-size="2.0" fill="#555" text-anchor="middle">4</text><text x="78.84" y="356" font-family="Liberation Sans, sans-serif" font-size="2.0" fill="#555" text-anchor="middle">5</text><text x="83.4" y="356" font-family="Liberation Sans, sans-serif" font-size="2.0" fill="#555" text-anchor="middle">6</text><text x="87.96" y="356" font-family="Liberation Sans, sans-serif" font-size="2.0" fill="#555" text-anchor="middle">7</text><text x="92.52" y="356" font-family="Liberation Sans, sans-serif" font-size="2.0" fill="#555" text-anchor="middle">8</text><text x="97.08" y="356" font-family="Liberation Sans, sans-serif" font-size="2.0" fill="#555" text-anchor="middle">9</text><text x="101.64" y="356" font-family="Liberation Sans, sans-serif" font-size="2.0" fill="#555" text-anchor="middle">10</text><text x="106.2" y="356" font-family="Liberation Sans, sans-serif" font-size="2.0" fill="#555" text-anchor="middle">11</text><text x="110.76" y="356" font-family="Liberation Sans, sans-serif" font-size="2.0" fill="#555" text-anchor="middle">12</text><text x="115.32" y="356" font-family="Liberation Sans, sans-serif" font-size="2.0" fill="#555" text-anchor="middle">13</text><text x="119.88" y="356" font-family="Liberation Sans, sans-serif" font-size="2.0" fill="#555" text-anchor="middle">14</text><text x="124.44" y="356" font-family="Liberation Sans, sans-serif" font-size="2.0" fill="#555" text-anchor="middle">15</text><text x="129" y="356" font-family="Liberation Sans, sans-serif" font-size="2.0" fill="#555" text-anchor="middle">16</text><text x="133.56" y="356" font-family="Liberation Sans, sans-serif" font-size="2.0" fill="#555" text-anchor="middle">17</text><text x="138.12" y="356" font-family="Liberation Sans, sans-serif" font-size="2.0" fill="#555" text-anchor="middle">18</text><text x="142.68" y="356" font-family="Liberation Sans, sans-serif" font-size="2.0" fill="#555" text-anchor="middle">19</text><text x="147.24" y="356" font-family="Liberation Sans, sans-serif" font-size="2.0" fill="#555" text-anchor="middle">20</text><text x="151.8" y="356" font-family="Liberation Sans, sans-serif" font-size="2.0" fill="#555" text-anchor="middle">21</text><text x="156.36" y="356" font-family="Liberation Sans, sans-serif" font-size="2.0" fill="#555" text-anchor="middle">22</text><text x="160.92" y="356" font-family="Liberation Sans, sans-serif" font-size="2.0" fill="#555" text-anchor="middle">23</text><text x="165.48" y="356" font-family="Liberation Sans, sans-serif" font-size="2.0" fill="#555" text-anchor="middle">24</text><text x="170.04" y="356" font-family="Liberation Sans, sans-serif" font-size="2.0" fill="#555" text-anchor="middle">25</text><text x="174.6" y="356" font-family="Liberation Sans, sans-serif" font-size="2.0" fill="#555" text-anchor="middle">26</text><text x="179.16" y="356" font-family="Liberation Sans, sans-serif" font-size="2.0" fill="#555" text-anchor="middle">27</text><text x="183.72" y="356" font-family="Liberation Sans, sans-serif" font-size="2.0" fill="#555" text-anchor="middle">28</text><text x="188.28" y="356" font-family="Liberation Sans, sans-serif" font-size="2.0" fill="#555" text-anchor="middle">29</text><text x="192.84" y="356" font-family="Liberation Sans, sans-serif" font-size="2.0" fill="#555" text-anchor="middle">30</text><text x="197.4" y="356" font-family="Liberation Sans, sans-serif" font-size="2.0" fill="#555" text-anchor="middle">31</text><text x="201.96" y="356" font-family="Liberation Sans, sans-serif" font-size="2.0" fill="#555" text-anchor="middle">32</text><text x="206.52" y="356" font-family="Liberation Sans, sans-serif" font-size="2.0" fill="#555" text-anchor="middle">33</text><text x="211.08" y="356" font-family="Liberation Sans, sans-serif" font-size="2.0" fill="#555" text-anchor="middle">34</text><text x="215.64" y="356" font-family="Liberation Sans, sans-serif" font-size="2.0" fill="#555" text-anchor="middle">35</text><text x="220.2" y="356" font-family="Liberation Sans, sans-serif" font-size="2.0" fill="#555" text-anchor="middle">36</text><text x="224.76" y="356" font-family="Liberation Sans, sans-serif" font-size="2.0" fill="#555" text-anchor="middle">37</text><text x="229.32" y="356" font-family="Liberation Sans, sans-serif" font-size="2.0" fill="#555" text-anchor="middle">38</text><text x="233.88" y="356" font-family="Liberation Sans, sans-serif" font-size="2.0" fill="#555" text-anchor="middle">39</text><text x="238.44" y="356" font-family="Liberation Sans, sans-serif" font-size="2.0" fill="#555" text-anchor="middle">40</text><text x="243" y="356" font-family="Liberation Sans, sans-serif" font-size="2.0" fill="#555" text-anchor="middle">41</text>
<path d="M57.3 390.8V376.2M57.3 390.8h-1M57.3 387.15h-1M57.3 383.5h-1M57.3 379.85h-1M57.3 376.2h-1" stroke="#666" stroke-width="0.55" fill="none"/><text x="56.1" y="391.4" font-family="Liberation Sans, sans-serif" font-size="2.1" fill="#666" text-anchor="end">0</text><text x="56.1" y="387.75" font-family="Liberation Sans, sans-serif" font-size="2.1" fill="#666" text-anchor="end">1</text><text x="56.1" y="384.1" font-family="Liberation Sans, sans-serif" font-size="2.1" fill="#666" text-anchor="end">2</text><text x="56.1" y="380.45" font-family="Liberation Sans, sans-serif" font-size="2.1" fill="#666" text-anchor="end">3</text><text x="56.1" y="376.8" font-family="Liberation Sans, sans-serif" font-size="2.1" fill="#666" text-anchor="end">4</text><text transform="translate(54.2 383.5) rotate(-90)" font-family="Liberation Sans, sans-serif" font-size="1.8" fill="#777" text-anchor="middle">bits</text><g font-family="Liberation Sans, sans-serif" font-weight="bold" font-size="10" stroke-width="0.35" vector-effect="non-scaling-stroke"><text transform="translate(58.73 390.8) scale(1 1.802)" textLength="3.83" lengthAdjust="spacingAndGlyphs" fill="#2b2bf0" stroke="#2b2bf0">L</text><text transform="translate(63.29 388.5) scale(1 0.796)" textLength="3.83" lengthAdjust="spacingAndGlyphs" fill="#2b2bf0" stroke="#2b2bf0">F</text><text transform="translate(63.29 389.88) scale(1 0.193)" textLength="3.83" lengthAdjust="spacingAndGlyphs" fill="#f01cf0" stroke="#f01cf0">D</text><text transform="translate(63.29 390.8) scale(1 0.128)" textLength="3.83" lengthAdjust="spacingAndGlyphs" fill="#dd1111" stroke="#dd1111">K</text><text transform="translate(67.85 387.8) scale(1 0.545)" textLength="3.83" lengthAdjust="spacingAndGlyphs" fill="#dd1111" stroke="#dd1111">R</text><text transform="translate(67.85 389.3) scale(1 0.209)" textLength="3.83" lengthAdjust="spacingAndGlyphs" fill="#1c9a1c" stroke="#1c9a1c">N</text><text transform="translate(67.85 390.2) scale(1 0.126)" textLength="3.83" lengthAdjust="spacingAndGlyphs" fill="#ffae00" stroke="#ffae00">G</text><text transform="translate(67.85 390.8) scale(1 0.084)" textLength="3.83" lengthAdjust="spacingAndGlyphs" fill="#f01cf0" stroke="#f01cf0">E</text><text transform="translate(72.41 389.44) scale(1 1.835)" textLength="3.83" lengthAdjust="spacingAndGlyphs" fill="#1c9a1c" stroke="#1c9a1c">Q</text><text transform="translate(76.97 388.95) scale(1 0.315)" textLength="3.83" lengthAdjust="spacingAndGlyphs" fill="#ffae00" stroke="#ffae00">G</text><text transform="translate(76.97 390.06) scale(1 0.155)" textLength="3.83" lengthAdjust="spacingAndGlyphs" fill="#1c9a1c" stroke="#1c9a1c">S</text><text transform="translate(76.97 390.8) scale(1 0.103)" textLength="3.83" lengthAdjust="spacingAndGlyphs" fill="#f01cf0" stroke="#f01cf0">E</text><text transform="translate(81.53 387.8) scale(1 0.615)" textLength="3.83" lengthAdjust="spacingAndGlyphs" fill="#dd1111" stroke="#dd1111">R</text><text transform="translate(81.53 389.3) scale(1 0.209)" textLength="3.83" lengthAdjust="spacingAndGlyphs" fill="#ffae00" stroke="#ffae00">G</text><text transform="translate(81.53 390.2) scale(1 0.126)" textLength="3.83" lengthAdjust="spacingAndGlyphs" fill="#f01cf0" stroke="#f01cf0">D</text><text transform="translate(81.53 390.8) scale(1 0.084)" textLength="3.83" lengthAdjust="spacingAndGlyphs" fill="#1c9a1c" stroke="#1c9a1c">N</text><text transform="translate(86.09 388.5) scale(1 1.173)" textLength="3.83" lengthAdjust="spacingAndGlyphs" fill="#dd1111" stroke="#dd1111">R</text><text transform="translate(86.09 389.88) scale(1 0.193)" textLength="3.83" lengthAdjust="spacingAndGlyphs" fill="#f01cf0" stroke="#f01cf0">E</text><text transform="translate(86.09 390.8) scale(1 0.128)" textLength="3.83" lengthAdjust="spacingAndGlyphs" fill="#f01cf0" stroke="#f01cf0">D</text><text transform="translate(90.65 387.33) scale(1 0.633)" textLength="3.83" lengthAdjust="spacingAndGlyphs" fill="#1c9a1c" stroke="#1c9a1c">Q</text><text transform="translate(90.65 389.3) scale(1 0.209)" textLength="3.83" lengthAdjust="spacingAndGlyphs" fill="#ffae00" stroke="#ffae00">G</text><text transform="translate(90.65 390.2) scale(1 0.126)" textLength="3.83" lengthAdjust="spacingAndGlyphs" fill="#f01cf0" stroke="#f01cf0">D</text><text transform="translate(90.65 390.8) scale(1 0.084)" textLength="3.83" lengthAdjust="spacingAndGlyphs" fill="#dd1111" stroke="#dd1111">K</text><text transform="translate(95.21 388.5) scale(1 1.257)" textLength="3.83" lengthAdjust="spacingAndGlyphs" fill="#1c9a1c" stroke="#1c9a1c">T</text><text transform="translate(95.21 389.88) scale(1 0.193)" textLength="3.83" lengthAdjust="spacingAndGlyphs" fill="#1c9a1c" stroke="#1c9a1c">N</text><text transform="translate(95.21 390.8) scale(1 0.128)" textLength="3.83" lengthAdjust="spacingAndGlyphs" fill="#1c9a1c" stroke="#1c9a1c">S</text><text transform="translate(99.77 388.5) scale(1 1.020)" textLength="3.83" lengthAdjust="spacingAndGlyphs" fill="#3ee0cc" stroke="#3ee0cc">Y</text><text transform="translate(99.77 389.88) scale(1 0.193)" textLength="3.83" lengthAdjust="spacingAndGlyphs" fill="#1c9a1c" stroke="#1c9a1c">N</text><text transform="translate(99.77 390.8) scale(1 0.128)" textLength="3.83" lengthAdjust="spacingAndGlyphs" fill="#1c9a1c" stroke="#1c9a1c">S</text><text transform="translate(104.33 387.96) scale(1 0.484)" textLength="3.83" lengthAdjust="spacingAndGlyphs" fill="#2b2bf0" stroke="#2b2bf0">I</text><text transform="translate(104.33 389.38) scale(1 0.198)" textLength="3.83" lengthAdjust="spacingAndGlyphs" fill="#1c9a1c" stroke="#1c9a1c">T</text><text transform="translate(104.33 390.23) scale(1 0.119)" textLength="3.83" lengthAdjust="spacingAndGlyphs" fill="#f01cf0" stroke="#f01cf0">D</text><text transform="translate(104.33 390.8) scale(1 0.079)" textLength="3.83" lengthAdjust="spacingAndGlyphs" fill="#f01cf0" stroke="#f01cf0">E</text><text transform="translate(108.89 387.8) scale(1 0.615)" textLength="3.83" lengthAdjust="spacingAndGlyphs" fill="#2b2bf0" stroke="#2b2bf0">A</text><text transform="translate(108.89 389.3) scale(1 0.209)" textLength="3.83" lengthAdjust="spacingAndGlyphs" fill="#ffae00" stroke="#ffae00">G</text><text transform="translate(108.89 390.2) scale(1 0.126)" textLength="3.83" lengthAdjust="spacingAndGlyphs" fill="#dd1111" stroke="#dd1111">K</text><text transform="translate(108.89 390.8) scale(1 0.084)" textLength="3.83" lengthAdjust="spacingAndGlyphs" fill="#f01cf0" stroke="#f01cf0">D</text><text transform="translate(113.45 390.8) scale(1 1.872)" textLength="3.83" lengthAdjust="spacingAndGlyphs" fill="#f2f200" stroke="#f2f200">P</text><text transform="translate(118.01 387.8) scale(1 0.698)" textLength="3.83" lengthAdjust="spacingAndGlyphs" fill="#ffae00" stroke="#ffae00">G</text><text transform="translate(118.01 389.3) scale(1 0.209)" textLength="3.83" lengthAdjust="spacingAndGlyphs" fill="#f01cf0" stroke="#f01cf0">E</text><text transform="translate(118.01 390.2) scale(1 0.126)" textLength="3.83" lengthAdjust="spacingAndGlyphs" fill="#f01cf0" stroke="#f01cf0">D</text><text transform="translate(118.01 390.8) scale(1 0.084)" textLength="3.83" lengthAdjust="spacingAndGlyphs" fill="#1c9a1c" stroke="#1c9a1c">N</text><text transform="translate(122.57 387.8) scale(1 0.922)" textLength="3.83" lengthAdjust="spacingAndGlyphs" fill="#2b2bf0" stroke="#2b2bf0">W</text><text transform="translate(122.57 389.3) scale(1 0.209)" textLength="3.83" lengthAdjust="spacingAndGlyphs" fill="#2b2bf0" stroke="#2b2bf0">L</text><text transform="translate(122.57 390.2) scale(1 0.126)" textLength="3.83" lengthAdjust="spacingAndGlyphs" fill="#ffae00" stroke="#ffae00">G</text><text transform="translate(122.57 390.8) scale(1 0.084)" textLength="3.83" lengthAdjust="spacingAndGlyphs" fill="#f01cf0" stroke="#f01cf0">E</text><text transform="translate(127.13 390.8) scale(1 1.955)" textLength="3.83" lengthAdjust="spacingAndGlyphs" fill="#dd1111" stroke="#dd1111">R</text><text transform="translate(131.69 387.24) scale(1 0.759)" textLength="3.83" lengthAdjust="spacingAndGlyphs" fill="#1c9a1c" stroke="#1c9a1c">Q</text><text transform="translate(131.69 389.3) scale(1 0.209)" textLength="3.83" lengthAdjust="spacingAndGlyphs" fill="#ffae00" stroke="#ffae00">G</text><text transform="translate(131.69 390.2) scale(1 0.126)" textLength="3.83" lengthAdjust="spacingAndGlyphs" fill="#f01cf0" stroke="#f01cf0">D</text><text transform="translate(131.69 390.8) scale(1 0.084)" textLength="3.83" lengthAdjust="spacingAndGlyphs" fill="#f01cf0" stroke="#f01cf0">E</text><text transform="translate(136.25 390.8) scale(1 1.955)" textLength="3.83" lengthAdjust="spacingAndGlyphs" fill="#1c9a1c" stroke="#1c9a1c">N</text><text transform="translate(140.81 390.8) scale(1 2.025)" textLength="3.83" lengthAdjust="spacingAndGlyphs" fill="#2b2bf0" stroke="#2b2bf0">F</text><text transform="translate(145.37 388.5) scale(1 1.173)" textLength="3.83" lengthAdjust="spacingAndGlyphs" fill="#1c9a1c" stroke="#1c9a1c">N</text><text transform="translate(145.37 389.88) scale(1 0.193)" textLength="3.83" lengthAdjust="spacingAndGlyphs" fill="#dd1111" stroke="#dd1111">K</text><text transform="translate(145.37 390.8) scale(1 0.128)" textLength="3.83" lengthAdjust="spacingAndGlyphs" fill="#f01cf0" stroke="#f01cf0">E</text><text transform="translate(149.93 390.8) scale(1 1.872)" textLength="3.83" lengthAdjust="spacingAndGlyphs" fill="#1c9a1c" stroke="#1c9a1c">T</text><text transform="translate(154.49 390.8) scale(1 1.955)" textLength="3.83" lengthAdjust="spacingAndGlyphs" fill="#dd1111" stroke="#dd1111">R</text><text transform="translate(159.05 387.96) scale(1 0.484)" textLength="3.83" lengthAdjust="spacingAndGlyphs" fill="#f01cf0" stroke="#f01cf0">D</text><text transform="translate(159.05 389.38) scale(1 0.198)" textLength="3.83" lengthAdjust="spacingAndGlyphs" fill="#ffae00" stroke="#ffae00">G</text><text transform="translate(159.05 390.23) scale(1 0.119)" textLength="3.83" lengthAdjust="spacingAndGlyphs" fill="#1c9a1c" stroke="#1c9a1c">S</text><text transform="translate(159.05 390.8) scale(1 0.079)" textLength="3.83" lengthAdjust="spacingAndGlyphs" fill="#f01cf0" stroke="#f01cf0">E</text><text transform="translate(163.61 390.8) scale(1 2.025)" textLength="3.83" lengthAdjust="spacingAndGlyphs" fill="#2b2bf0" stroke="#2b2bf0">F</text><text transform="translate(168.17 390.8) scale(1 1.872)" textLength="3.83" lengthAdjust="spacingAndGlyphs" fill="#2b2bf0" stroke="#2b2bf0">A</text><text transform="translate(172.73 387.33) scale(1 0.633)" textLength="3.83" lengthAdjust="spacingAndGlyphs" fill="#1c9a1c" stroke="#1c9a1c">Q</text><text transform="translate(172.73 389.3) scale(1 0.209)" textLength="3.83" lengthAdjust="spacingAndGlyphs" fill="#1c9a1c" stroke="#1c9a1c">S</text><text transform="translate(172.73 390.2) scale(1 0.126)" textLength="3.83" lengthAdjust="spacingAndGlyphs" fill="#f01cf0" stroke="#f01cf0">D</text><text transform="translate(172.73 390.8) scale(1 0.084)" textLength="3.83" lengthAdjust="spacingAndGlyphs" fill="#f01cf0" stroke="#f01cf0">E</text><text transform="translate(177.29 387.8) scale(1 0.698)" textLength="3.83" lengthAdjust="spacingAndGlyphs" fill="#2b2bf0" stroke="#2b2bf0">L</text><text transform="translate(177.29 389.3) scale(1 0.209)" textLength="3.83" lengthAdjust="spacingAndGlyphs" fill="#f01cf0" stroke="#f01cf0">E</text><text transform="translate(177.29 390.2) scale(1 0.126)" textLength="3.83" lengthAdjust="spacingAndGlyphs" fill="#dd1111" stroke="#dd1111">K</text><text transform="translate(177.29 390.8) scale(1 0.084)" textLength="3.83" lengthAdjust="spacingAndGlyphs" fill="#f01cf0" stroke="#f01cf0">D</text><text transform="translate(181.85 388.5) scale(1 1.173)" textLength="3.83" lengthAdjust="spacingAndGlyphs" fill="#3ee0cc" stroke="#3ee0cc">Y</text><text transform="translate(181.85 389.88) scale(1 0.193)" textLength="3.83" lengthAdjust="spacingAndGlyphs" fill="#dd1111" stroke="#dd1111">R</text><text transform="translate(181.85 390.8) scale(1 0.128)" textLength="3.83" lengthAdjust="spacingAndGlyphs" fill="#dd1111" stroke="#dd1111">K</text><text transform="translate(186.41 388.5) scale(1 1.397)" textLength="3.83" lengthAdjust="spacingAndGlyphs" fill="#1c9a1c" stroke="#1c9a1c">N</text><text transform="translate(186.41 389.88) scale(1 0.193)" textLength="3.83" lengthAdjust="spacingAndGlyphs" fill="#ffae00" stroke="#ffae00">G</text><text transform="translate(186.41 390.8) scale(1 0.128)" textLength="3.83" lengthAdjust="spacingAndGlyphs" fill="#2b2bf0" stroke="#2b2bf0">A</text><text transform="translate(190.97 390.8) scale(1 1.872)" textLength="3.83" lengthAdjust="spacingAndGlyphs" fill="#2b2bf0" stroke="#2b2bf0">L</text><text transform="translate(195.53 388.5) scale(1 1.173)" textLength="3.83" lengthAdjust="spacingAndGlyphs" fill="#ffae00" stroke="#ffae00">G</text><text transform="translate(195.53 389.88) scale(1 0.193)" textLength="3.83" lengthAdjust="spacingAndGlyphs" fill="#f01cf0" stroke="#f01cf0">D</text><text transform="translate(195.53 390.8) scale(1 0.128)" textLength="3.83" lengthAdjust="spacingAndGlyphs" fill="#1c9a1c" stroke="#1c9a1c">N</text><text transform="translate(200.09 387.8) scale(1 0.615)" textLength="3.83" lengthAdjust="spacingAndGlyphs" fill="#1c9a1c" stroke="#1c9a1c">S</text><text transform="translate(200.09 389.3) scale(1 0.209)" textLength="3.83" lengthAdjust="spacingAndGlyphs" fill="#ffae00" stroke="#ffae00">G</text><text transform="translate(200.09 390.2) scale(1 0.126)" textLength="3.83" lengthAdjust="spacingAndGlyphs" fill="#f01cf0" stroke="#f01cf0">D</text><text transform="translate(200.09 390.8) scale(1 0.084)" textLength="3.83" lengthAdjust="spacingAndGlyphs" fill="#f01cf0" stroke="#f01cf0">E</text><text transform="translate(204.65 390.8) scale(1 1.802)" textLength="3.83" lengthAdjust="spacingAndGlyphs" fill="#f2f200" stroke="#f2f200">P</text><text transform="translate(209.21 388.5) scale(1 1.355)" textLength="3.83" lengthAdjust="spacingAndGlyphs" fill="#2b2bf0" stroke="#2b2bf0">V</text><text transform="translate(209.21 389.88) scale(1 0.193)" textLength="3.83" lengthAdjust="spacingAndGlyphs" fill="#ffae00" stroke="#ffae00">G</text><text transform="translate(209.21 390.8) scale(1 0.128)" textLength="3.83" lengthAdjust="spacingAndGlyphs" fill="#2b2bf0" stroke="#2b2bf0">A</text><text transform="translate(213.77 390.8) scale(1 1.872)" textLength="3.83" lengthAdjust="spacingAndGlyphs" fill="#2b2bf0" stroke="#2b2bf0">A</text><text transform="translate(218.33 390.8) scale(1 2.025)" textLength="3.83" lengthAdjust="spacingAndGlyphs" fill="#2b2bf0" stroke="#2b2bf0">A</text><text transform="translate(222.89 387.8) scale(1 0.838)" textLength="3.83" lengthAdjust="spacingAndGlyphs" fill="#2b2bf0" stroke="#2b2bf0">V</text><text transform="translate(222.89 389.3) scale(1 0.209)" textLength="3.83" lengthAdjust="spacingAndGlyphs" fill="#f01cf0" stroke="#f01cf0">E</text><text transform="translate(222.89 390.2) scale(1 0.126)" textLength="3.83" lengthAdjust="spacingAndGlyphs" fill="#f01cf0" stroke="#f01cf0">D</text><text transform="translate(222.89 390.8) scale(1 0.084)" textLength="3.83" lengthAdjust="spacingAndGlyphs" fill="#dd1111" stroke="#dd1111">K</text><text transform="translate(227.45 390.8) scale(1 2.011)" textLength="3.83" lengthAdjust="spacingAndGlyphs" fill="#3ee0cc" stroke="#3ee0cc">Y</text><text transform="translate(232.01 390.8) scale(1 2.025)" textLength="3.83" lengthAdjust="spacingAndGlyphs" fill="#2b2bf0" stroke="#2b2bf0">F</text><text transform="translate(236.57 390.8) scale(1 1.927)" textLength="3.83" lengthAdjust="spacingAndGlyphs" fill="#1c9a1c" stroke="#1c9a1c">N</text><text transform="translate(241.13 390.8) scale(1 1.746)" textLength="3.83" lengthAdjust="spacingAndGlyphs" fill="#2b2bf0" stroke="#2b2bf0">C</text><text transform="translate(245.69 389.44) scale(1 1.835)" textLength="3.83" lengthAdjust="spacingAndGlyphs" fill="#1c9a1c" stroke="#1c9a1c">Q</text><text transform="translate(250.25 390.8) scale(1 2.025)" textLength="3.83" lengthAdjust="spacingAndGlyphs" fill="#dd1111" stroke="#dd1111">R</text><text transform="translate(254.81 390.8) scale(1 1.927)" textLength="3.83" lengthAdjust="spacingAndGlyphs" fill="#f01cf0" stroke="#f01cf0">E</text><text transform="translate(259.37 388.09) scale(1 0.376)" textLength="3.83" lengthAdjust="spacingAndGlyphs" fill="#1c9a1c" stroke="#1c9a1c">Q</text><text transform="translate(259.37 389.59) scale(1 0.170)" textLength="3.83" lengthAdjust="spacingAndGlyphs" fill="#ffae00" stroke="#ffae00">G</text><text transform="translate(259.37 390.31) scale(1 0.102)" textLength="3.83" lengthAdjust="spacingAndGlyphs" fill="#f01cf0" stroke="#f01cf0">D</text><text transform="translate(259.37 390.8) scale(1 0.068)" textLength="3.83" lengthAdjust="spacingAndGlyphs" fill="#f01cf0" stroke="#f01cf0">E</text><text transform="translate(263.93 388.5) scale(1 1.299)" textLength="3.83" lengthAdjust="spacingAndGlyphs" fill="#ffae00" stroke="#ffae00">G</text><text transform="translate(263.93 389.88) scale(1 0.193)" textLength="3.83" lengthAdjust="spacingAndGlyphs" fill="#f01cf0" stroke="#f01cf0">D</text><text transform="translate(263.93 390.8) scale(1 0.128)" textLength="3.83" lengthAdjust="spacingAndGlyphs" fill="#1c9a1c" stroke="#1c9a1c">N</text><text transform="translate(268.49 387.8) scale(1 0.531)" textLength="3.83" lengthAdjust="spacingAndGlyphs" fill="#1c9a1c" stroke="#1c9a1c">S</text><text transform="translate(268.49 389.3) scale(1 0.209)" textLength="3.83" lengthAdjust="spacingAndGlyphs" fill="#ffae00" stroke="#ffae00">G</text><text transform="translate(268.49 390.2) scale(1 0.126)" textLength="3.83" lengthAdjust="spacingAndGlyphs" fill="#dd1111" stroke="#dd1111">K</text><text transform="translate(268.49 390.8) scale(1 0.084)" textLength="3.83" lengthAdjust="spacingAndGlyphs" fill="#f01cf0" stroke="#f01cf0">E</text><text transform="translate(273.05 390.8) scale(1 1.704)" textLength="3.83" lengthAdjust="spacingAndGlyphs" fill="#ffae00" stroke="#ffae00">G</text><text transform="translate(277.61 390.8) scale(1 1.704)" textLength="3.83" lengthAdjust="spacingAndGlyphs" fill="#ffae00" stroke="#ffae00">G</text><text transform="translate(282.17 390.8) scale(1 1.885)" textLength="3.83" lengthAdjust="spacingAndGlyphs" fill="#dd1111" stroke="#dd1111">R</text></g><text x="60.6" y="393.4" font-family="Liberation Sans, sans-serif" font-size="2.0" fill="#555" text-anchor="middle">1</text><text x="65.16" y="393.4" font-family="Liberation Sans, sans-serif" font-size="2.0" fill="#555" text-anchor="middle">2</text><text x="69.72" y="393.4" font-family="Liberation Sans, sans-serif" font-size="2.0" fill="#555" text-anchor="middle">3</text><text x="74.28" y="393.4" font-family="Liberation Sans, sans-serif" font-size="2.0" fill="#555" text-anchor="middle">4</text><text x="78.84" y="393.4" font-family="Liberation Sans, sans-serif" font-size="2.0" fill="#555" text-anchor="middle">5</text><text x="83.4" y="393.4" font-family="Liberation Sans, sans-serif" font-size="2.0" fill="#555" text-anchor="middle">6</text><text x="87.96" y="393.4" font-family="Liberation Sans, sans-serif" font-size="2.0" fill="#555" text-anchor="middle">7</text><text x="92.52" y="393.4" font-family="Liberation Sans, sans-serif" font-size="2.0" fill="#555" text-anchor="middle">8</text><text x="97.08" y="393.4" font-family="Liberation Sans, sans-serif" font-size="2.0" fill="#555" text-anchor="middle">9</text><text x="101.64" y="393.4" font-family="Liberation Sans, sans-serif" font-size="2.0" fill="#555" text-anchor="middle">10</text><text x="106.2" y="393.4" font-family="Liberation Sans, sans-serif" font-size="2.0" fill="#555" text-anchor="middle">11</text><text x="110.76" y="393.4" font-family="Liberation Sans, sans-serif" font-size="2.0" fill="#555" text-anchor="middle">12</text><text x="115.32" y="393.4" font-family="Liberation Sans, sans-serif" font-size="2.0" fill="#555" text-anchor="middle">13</text><text x="119.88" y="393.4" font-family="Liberation Sans, sans-serif" font-size="2.0" fill="#555" text-anchor="middle">14</text><text x="124.44" y="393.4" font-family="Liberation Sans, sans-serif" font-size="2.0" fill="#555" text-anchor="middle">15</text><text x="129" y="393.4" font-family="Liberation Sans, sans-serif" font-size="2.0" fill="#555" text-anchor="middle">16</text><text x="133.56" y="393.4" font-family="Liberation Sans, sans-serif" font-size="2.0" fill="#555" text-anchor="middle">17</text><text x="138.12" y="393.4" font-family="Liberation Sans, sans-serif" font-size="2.0" fill="#555" text-anchor="middle">18</text><text x="142.68" y="393.4" font-family="Liberation Sans, sans-serif" font-size="2.0" fill="#555" text-anchor="middle">19</text><text x="147.24" y="393.4" font-family="Liberation Sans, sans-serif" font-size="2.0" fill="#555" text-anchor="middle">20</text><text x="151.8" y="393.4" font-family="Liberation Sans, sans-serif" font-size="2.0" fill="#555" text-anchor="middle">21</text><text x="156.36" y="393.4" font-family="Liberation Sans, sans-serif" font-size="2.0" fill="#555" text-anchor="middle">22</text><text x="160.92" y="393.4" font-family="Liberation Sans, sans-serif" font-size="2.0" fill="#555" text-anchor="middle">23</text><text x="165.48" y="393.4" font-family="Liberation Sans, sans-serif" font-size="2.0" fill="#555" text-anchor="middle">24</text><text x="170.04" y="393.4" font-family="Liberation Sans, sans-serif" font-size="2.0" fill="#555" text-anchor="middle">25</text><text x="174.6" y="393.4" font-family="Liberation Sans, sans-serif" font-size="2.0" fill="#555" text-anchor="middle">26</text><text x="179.16" y="393.4" font-family="Liberation Sans, sans-serif" font-size="2.0" fill="#555" text-anchor="middle">27</text><text x="183.72" y="393.4" font-family="Liberation Sans, sans-serif" font-size="2.0" fill="#555" text-anchor="middle">28</text><text x="188.28" y="393.4" font-family="Liberation Sans, sans-serif" font-size="2.0" fill="#555" text-anchor="middle">29</text><text x="192.84" y="393.4" font-family="Liberation Sans, sans-serif" font-size="2.0" fill="#555" text-anchor="middle">30</text><text x="197.4" y="393.4" font-family="Liberation Sans, sans-serif" font-size="2.0" fill="#555" text-anchor="middle">31</text><text x="201.96" y="393.4" font-family="Liberation Sans, sans-serif" font-size="2.0" fill="#555" text-anchor="middle">32</text><text x="206.52" y="393.4" font-family="Liberation Sans, sans-serif" font-size="2.0" fill="#555" text-anchor="middle">33</text><text x="211.08" y="393.4" font-family="Liberation Sans, sans-serif" font-size="2.0" fill="#555" text-anchor="middle">34</text><text x="215.64" y="393.4" font-family="Liberation Sans, sans-serif" font-size="2.0" fill="#555" text-anchor="middle">35</text><text x="220.2" y="393.4" font-family="Liberation Sans, sans-serif" font-size="2.0" fill="#555" text-anchor="middle">36</text><text x="224.76" y="393.4" font-family="Liberation Sans, sans-serif" font-size="2.0" fill="#555" text-anchor="middle">37</text><text x="229.32" y="393.4" font-family="Liberation Sans, sans-serif" font-size="2.0" fill="#555" text-anchor="middle">38</text><text x="233.88" y="393.4" font-family="Liberation Sans, sans-serif" font-size="2.0" fill="#555" text-anchor="middle">39</text><text x="238.44" y="393.4" font-family="Liberation Sans, sans-serif" font-size="2.0" fill="#555" text-anchor="middle">40</text><text x="243" y="393.4" font-family="Liberation Sans, sans-serif" font-size="2.0" fill="#555" text-anchor="middle">41</text><text x="247.56" y="393.4" font-family="Liberation Sans, sans-serif" font-size="2.0" fill="#555" text-anchor="middle">42</text><text x="252.12" y="393.4" font-family="Liberation Sans, sans-serif" font-size="2.0" fill="#555" text-anchor="middle">43</text><text x="256.68" y="393.4" font-family="Liberation Sans, sans-serif" font-size="2.0" fill="#555" text-anchor="middle">44</text><text x="261.24" y="393.4" font-family="Liberation Sans, sans-serif" font-size="2.0" fill="#555" text-anchor="middle">45</text><text x="265.8" y="393.4" font-family="Liberation Sans, sans-serif" font-size="2.0" fill="#555" text-anchor="middle">46</text><text x="270.36" y="393.4" font-family="Liberation Sans, sans-serif" font-size="2.0" fill="#555" text-anchor="middle">47</text><text x="274.92" y="393.4" font-family="Liberation Sans, sans-serif" font-size="2.0" fill="#555" text-anchor="middle">48</text><text x="279.48" y="393.4" font-family="Liberation Sans, sans-serif" font-size="2.0" fill="#555" text-anchor="middle">49</text><text x="284.04" y="393.4" font-family="Liberation Sans, sans-serif" font-size="2.0" fill="#555" text-anchor="middle">50</text>
<path d="M57 429.6V414.6M57 429.6h-1M57 425.85h-1M57 422.1h-1M57 418.35h-1M57 414.6h-1" stroke="#666" stroke-width="0.55" fill="none"/><text x="55.8" y="430.2" font-family="Liberation Sans, sans-serif" font-size="2.1" fill="#666" text-anchor="end">0</text><text x="55.8" y="426.45" font-family="Liberation Sans, sans-serif" font-size="2.1" fill="#666" text-anchor="end">1</text><text x="55.8" y="422.7" font-family="Liberation Sans, sans-serif" font-size="2.1" fill="#666" text-anchor="end">2</text><text x="55.8" y="418.95" font-family="Liberation Sans, sans-serif" font-size="2.1" fill="#666" text-anchor="end">3</text><text x="55.8" y="415.2" font-family="Liberation Sans, sans-serif" font-size="2.1" fill="#666" text-anchor="end">4</text><text transform="translate(53.9 422.1) rotate(-90)" font-family="Liberation Sans, sans-serif" font-size="1.8" fill="#777" text-anchor="middle">bits</text><g font-family="Liberation Sans, sans-serif" font-weight="bold" font-size="10" stroke-width="0.35" vector-effect="non-scaling-stroke"><text transform="translate(58.43 426.6) scale(1 0.866)" textLength="3.83" lengthAdjust="spacingAndGlyphs" fill="#2b2bf0" stroke="#2b2bf0">M</text><text transform="translate(58.43 428.1) scale(1 0.209)" textLength="3.83" lengthAdjust="spacingAndGlyphs" fill="#dd1111" stroke="#dd1111">R</text><text transform="translate(58.43 429) scale(1 0.126)" textLength="3.83" lengthAdjust="spacingAndGlyphs" fill="#ffae00" stroke="#ffae00">G</text><text transform="translate(58.43 429.6) scale(1 0.084)" textLength="3.83" lengthAdjust="spacingAndGlyphs" fill="#f01cf0" stroke="#f01cf0">E</text><text transform="translate(62.99 426.6) scale(1 0.796)" textLength="3.83" lengthAdjust="spacingAndGlyphs" fill="#1c9a1c" stroke="#1c9a1c">S</text><text transform="translate(62.99 428.1) scale(1 0.209)" textLength="3.83" lengthAdjust="spacingAndGlyphs" fill="#ffae00" stroke="#ffae00">G</text><text transform="translate(62.99 429) scale(1 0.126)" textLength="3.83" lengthAdjust="spacingAndGlyphs" fill="#f01cf0" stroke="#f01cf0">D</text><text transform="translate(62.99 429.6) scale(1 0.084)" textLength="3.83" lengthAdjust="spacingAndGlyphs" fill="#f01cf0" stroke="#f01cf0">E</text><text transform="translate(67.55 426.6) scale(1 0.796)" textLength="3.83" lengthAdjust="spacingAndGlyphs" fill="#dd1111" stroke="#dd1111">R</text><text transform="translate(67.55 428.1) scale(1 0.209)" textLength="3.83" lengthAdjust="spacingAndGlyphs" fill="#ffae00" stroke="#ffae00">G</text><text transform="translate(67.55 429) scale(1 0.126)" textLength="3.83" lengthAdjust="spacingAndGlyphs" fill="#f01cf0" stroke="#f01cf0">D</text><text transform="translate(67.55 429.6) scale(1 0.084)" textLength="3.83" lengthAdjust="spacingAndGlyphs" fill="#f01cf0" stroke="#f01cf0">E</text><text transform="translate(72.11 426.6) scale(1 0.950)" textLength="3.83" lengthAdjust="spacingAndGlyphs" fill="#f01cf0" stroke="#f01cf0">D</text><text transform="translate(72.11 428.1) scale(1 0.209)" textLength="3.83" lengthAdjust="spacingAndGlyphs" fill="#f01cf0" stroke="#f01cf0">E</text><text transform="translate(72.11 429) scale(1 0.126)" textLength="3.83" lengthAdjust="spacingAndGlyphs" fill="#dd1111" stroke="#dd1111">K</text><text transform="translate(72.11 429.6) scale(1 0.084)" textLength="3.83" lengthAdjust="spacingAndGlyphs" fill="#1c9a1c" stroke="#1c9a1c">N</text><text transform="translate(76.67 426.6) scale(1 1.103)" textLength="3.83" lengthAdjust="spacingAndGlyphs" fill="#f2f200" stroke="#f2f200">P</text><text transform="translate(76.67 428.1) scale(1 0.209)" textLength="3.83" lengthAdjust="spacingAndGlyphs" fill="#1c9a1c" stroke="#1c9a1c">S</text><text transform="translate(76.67 429) scale(1 0.126)" textLength="3.83" lengthAdjust="spacingAndGlyphs" fill="#f01cf0" stroke="#f01cf0">D</text><text transform="translate(76.67 429.6) scale(1 0.084)" textLength="3.83" lengthAdjust="spacingAndGlyphs" fill="#1c9a1c" stroke="#1c9a1c">N</text><text transform="translate(81.23 426.6) scale(1 0.866)" textLength="3.83" lengthAdjust="spacingAndGlyphs" fill="#2b2bf0" stroke="#2b2bf0">L</text><text transform="translate(81.23 428.1) scale(1 0.209)" textLength="3.83" lengthAdjust="spacingAndGlyphs" fill="#ffae00" stroke="#ffae00">G</text><text transform="translate(81.23 429) scale(1 0.126)" textLength="3.83" lengthAdjust="spacingAndGlyphs" fill="#1c9a1c" stroke="#1c9a1c">N</text><text transform="translate(81.23 429.6) scale(1 0.084)" textLength="3.83" lengthAdjust="spacingAndGlyphs" fill="#f01cf0" stroke="#f01cf0">E</text><text transform="translate(85.79 426.6) scale(1 0.796)" textLength="3.83" lengthAdjust="spacingAndGlyphs" fill="#3ee0cc" stroke="#3ee0cc">Y</text><text transform="translate(85.79 428.1) scale(1 0.209)" textLength="3.83" lengthAdjust="spacingAndGlyphs" fill="#2b2bf0" stroke="#2b2bf0">L</text><text transform="translate(85.79 429) scale(1 0.126)" textLength="3.83" lengthAdjust="spacingAndGlyphs" fill="#1c9a1c" stroke="#1c9a1c">S</text><text transform="translate(85.79 429.6) scale(1 0.084)" textLength="3.83" lengthAdjust="spacingAndGlyphs" fill="#ffae00" stroke="#ffae00">G</text><text transform="translate(90.35 427.3) scale(1 1.201)" textLength="3.83" lengthAdjust="spacingAndGlyphs" fill="#3ee0cc" stroke="#3ee0cc">Y</text><text transform="translate(90.35 428.55) scale(1 0.175)" textLength="3.83" lengthAdjust="spacingAndGlyphs" fill="#1c9a1c" stroke="#1c9a1c">Q</text><text transform="translate(90.35 429.6) scale(1 0.128)" textLength="3.83" lengthAdjust="spacingAndGlyphs" fill="#1c9a1c" stroke="#1c9a1c">S</text><text transform="translate(94.91 426.6) scale(1 0.950)" textLength="3.83" lengthAdjust="spacingAndGlyphs" fill="#ffae00" stroke="#ffae00">G</text><text transform="translate(94.91 428.1) scale(1 0.209)" textLength="3.83" lengthAdjust="spacingAndGlyphs" fill="#f01cf0" stroke="#f01cf0">D</text><text transform="translate(94.91 429) scale(1 0.126)" textLength="3.83" lengthAdjust="spacingAndGlyphs" fill="#dd1111" stroke="#dd1111">K</text><text transform="translate(94.91 429.6) scale(1 0.084)" textLength="3.83" lengthAdjust="spacingAndGlyphs" fill="#f01cf0" stroke="#f01cf0">E</text><text transform="translate(99.47 426.6) scale(1 0.866)" textLength="3.83" lengthAdjust="spacingAndGlyphs" fill="#dd1111" stroke="#dd1111">R</text><text transform="translate(99.47 428.1) scale(1 0.209)" textLength="3.83" lengthAdjust="spacingAndGlyphs" fill="#ffae00" stroke="#ffae00">G</text><text transform="translate(99.47 429) scale(1 0.126)" textLength="3.83" lengthAdjust="spacingAndGlyphs" fill="#1c9a1c" stroke="#1c9a1c">S</text><text transform="translate(99.47 429.6) scale(1 0.084)" textLength="3.83" lengthAdjust="spacingAndGlyphs" fill="#1c9a1c" stroke="#1c9a1c">N</text><text transform="translate(104.03 429.6) scale(1 2.053)" textLength="3.83" lengthAdjust="spacingAndGlyphs" fill="#2b2bf0" stroke="#2b2bf0">V</text><text transform="translate(108.59 426.6) scale(1 0.838)" textLength="3.83" lengthAdjust="spacingAndGlyphs" fill="#2b2bf0" stroke="#2b2bf0">I</text><text transform="translate(108.59 428.1) scale(1 0.209)" textLength="3.83" lengthAdjust="spacingAndGlyphs" fill="#2b2bf0" stroke="#2b2bf0">V</text><text transform="translate(108.59 429) scale(1 0.126)" textLength="3.83" lengthAdjust="spacingAndGlyphs" fill="#2b2bf0" stroke="#2b2bf0">L</text><text transform="translate(108.59 429.6) scale(1 0.084)" textLength="3.83" lengthAdjust="spacingAndGlyphs" fill="#2b2bf0" stroke="#2b2bf0">A</text><text transform="translate(113.15 429.6) scale(1 2.095)" textLength="3.83" lengthAdjust="spacingAndGlyphs" fill="#ffae00" stroke="#ffae00">G</text><text transform="translate(117.71 428) scale(1 1.592)" textLength="3.83" lengthAdjust="spacingAndGlyphs" fill="#f01cf0" stroke="#f01cf0">D</text><text transform="translate(117.71 429.6) scale(1 0.223)" textLength="3.83" lengthAdjust="spacingAndGlyphs" fill="#f01cf0" stroke="#f01cf0">E</text><text transform="translate(122.27 429.6) scale(1 2.095)" textLength="3.83" lengthAdjust="spacingAndGlyphs" fill="#2b2bf0" stroke="#2b2bf0">V</text><text transform="translate(126.83 426.6) scale(1 0.866)" textLength="3.83" lengthAdjust="spacingAndGlyphs" fill="#2b2bf0" stroke="#2b2bf0">L</text><text transform="translate(126.83 428.1) scale(1 0.209)" textLength="3.83" lengthAdjust="spacingAndGlyphs" fill="#2b2bf0" stroke="#2b2bf0">V</text><text transform="translate(126.83 429) scale(1 0.126)" textLength="3.83" lengthAdjust="spacingAndGlyphs" fill="#f01cf0" stroke="#f01cf0">E</text><text transform="translate(126.83 429.6) scale(1 0.084)" textLength="3.83" lengthAdjust="spacingAndGlyphs" fill="#dd1111" stroke="#dd1111">K</text><text transform="translate(131.39 426.6) scale(1 1.034)" textLength="3.83" lengthAdjust="spacingAndGlyphs" fill="#f01cf0" stroke="#f01cf0">D</text><text transform="translate(131.39 428.1) scale(1 0.209)" textLength="3.83" lengthAdjust="spacingAndGlyphs" fill="#f01cf0" stroke="#f01cf0">E</text><text transform="translate(131.39 429) scale(1 0.126)" textLength="3.83" lengthAdjust="spacingAndGlyphs" fill="#ffae00" stroke="#ffae00">G</text><text transform="translate(131.39 429.6) scale(1 0.084)" textLength="3.83" lengthAdjust="spacingAndGlyphs" fill="#1c9a1c" stroke="#1c9a1c">N</text><text transform="translate(135.95 426.6) scale(1 0.866)" textLength="3.83" lengthAdjust="spacingAndGlyphs" fill="#f2f200" stroke="#f2f200">P</text><text transform="translate(135.95 428.1) scale(1 0.209)" textLength="3.83" lengthAdjust="spacingAndGlyphs" fill="#f01cf0" stroke="#f01cf0">E</text><text transform="translate(135.95 429) scale(1 0.126)" textLength="3.83" lengthAdjust="spacingAndGlyphs" fill="#1c9a1c" stroke="#1c9a1c">N</text><text transform="translate(135.95 429.6) scale(1 0.084)" textLength="3.83" lengthAdjust="spacingAndGlyphs" fill="#dd1111" stroke="#dd1111">K</text><text transform="translate(140.51 429.6) scale(1 2.095)" textLength="3.83" lengthAdjust="spacingAndGlyphs" fill="#2b2bf0" stroke="#2b2bf0">F</text><text transform="translate(145.07 426.9) scale(1 0.461)" textLength="3.83" lengthAdjust="spacingAndGlyphs" fill="#2b2bf0" stroke="#2b2bf0">A</text><text transform="translate(145.07 428.25) scale(1 0.189)" textLength="3.83" lengthAdjust="spacingAndGlyphs" fill="#ffae00" stroke="#ffae00">G</text><text transform="translate(145.07 429.06) scale(1 0.113)" textLength="3.83" lengthAdjust="spacingAndGlyphs" fill="#f01cf0" stroke="#f01cf0">D</text><text transform="translate(145.07 429.6) scale(1 0.075)" textLength="3.83" lengthAdjust="spacingAndGlyphs" fill="#f01cf0" stroke="#f01cf0">E</text><text transform="translate(149.63 426.6) scale(1 0.796)" textLength="3.83" lengthAdjust="spacingAndGlyphs" fill="#dd1111" stroke="#dd1111">R</text><text transform="translate(149.63 428.1) scale(1 0.209)" textLength="3.83" lengthAdjust="spacingAndGlyphs" fill="#f01cf0" stroke="#f01cf0">D</text><text transform="translate(149.63 429) scale(1 0.126)" textLength="3.83" lengthAdjust="spacingAndGlyphs" fill="#ffae00" stroke="#ffae00">G</text><text transform="translate(149.63 429.6) scale(1 0.084)" textLength="3.83" lengthAdjust="spacingAndGlyphs" fill="#f01cf0" stroke="#f01cf0">E</text><text transform="translate(154.19 426.6) scale(1 0.908)" textLength="3.83" lengthAdjust="spacingAndGlyphs" fill="#2b2bf0" stroke="#2b2bf0">I</text><text transform="translate(154.19 428.1) scale(1 0.209)" textLength="3.83" lengthAdjust="spacingAndGlyphs" fill="#2b2bf0" stroke="#2b2bf0">L</text><text transform="translate(154.19 429) scale(1 0.126)" textLength="3.83" lengthAdjust="spacingAndGlyphs" fill="#ffae00" stroke="#ffae00">G</text><text transform="translate(154.19 429.6) scale(1 0.084)" textLength="3.83" lengthAdjust="spacingAndGlyphs" fill="#f01cf0" stroke="#f01cf0">E</text><text transform="translate(158.75 427.3) scale(1 1.047)" textLength="3.83" lengthAdjust="spacingAndGlyphs" fill="#2b2bf0" stroke="#2b2bf0">X</text><text transform="translate(158.75 428.55) scale(1 0.175)" textLength="3.83" lengthAdjust="spacingAndGlyphs" fill="#1c9a1c" stroke="#1c9a1c">Q</text><text transform="translate(158.75 429.6) scale(1 0.128)" textLength="3.83" lengthAdjust="spacingAndGlyphs" fill="#2b2bf0" stroke="#2b2bf0">V</text><text transform="translate(163.31 426.6) scale(1 0.531)" textLength="3.83" lengthAdjust="spacingAndGlyphs" fill="#1c9a1c" stroke="#1c9a1c">S</text><text transform="translate(163.31 428.1) scale(1 0.209)" textLength="3.83" lengthAdjust="spacingAndGlyphs" fill="#ffae00" stroke="#ffae00">G</text><text transform="translate(163.31 429) scale(1 0.126)" textLength="3.83" lengthAdjust="spacingAndGlyphs" fill="#dd1111" stroke="#dd1111">R</text><text transform="translate(163.31 429.6) scale(1 0.084)" textLength="3.83" lengthAdjust="spacingAndGlyphs" fill="#f01cf0" stroke="#f01cf0">D</text><text transform="translate(167.87 427.3) scale(1 1.327)" textLength="3.83" lengthAdjust="spacingAndGlyphs" fill="#2b2bf0" stroke="#2b2bf0">M</text><text transform="translate(167.87 428.68) scale(1 0.193)" textLength="3.83" lengthAdjust="spacingAndGlyphs" fill="#2b2bf0" stroke="#2b2bf0">L</text><text transform="translate(167.87 429.6) scale(1 0.128)" textLength="3.83" lengthAdjust="spacingAndGlyphs" fill="#dd1111" stroke="#dd1111">K</text><text transform="translate(172.43 426.6) scale(1 0.978)" textLength="3.83" lengthAdjust="spacingAndGlyphs" fill="#dd1111" stroke="#dd1111">R</text><text transform="translate(172.43 428.1) scale(1 0.209)" textLength="3.83" lengthAdjust="spacingAndGlyphs" fill="#ffae00" stroke="#ffae00">G</text><text transform="translate(172.43 429) scale(1 0.126)" textLength="3.83" lengthAdjust="spacingAndGlyphs" fill="#1c9a1c" stroke="#1c9a1c">S</text><text transform="translate(172.43 429.6) scale(1 0.084)" textLength="3.83" lengthAdjust="spacingAndGlyphs" fill="#1c9a1c" stroke="#1c9a1c">N</text><text transform="translate(176.99 429.6) scale(1 1.844)" textLength="3.83" lengthAdjust="spacingAndGlyphs" fill="#2b2bf0" stroke="#2b2bf0">V</text><text transform="translate(181.55 426.6) scale(1 0.782)" textLength="3.83" lengthAdjust="spacingAndGlyphs" fill="#2b2bf0" stroke="#2b2bf0">I</text><text transform="translate(181.55 428.1) scale(1 0.209)" textLength="3.83" lengthAdjust="spacingAndGlyphs" fill="#2b2bf0" stroke="#2b2bf0">V</text><text transform="translate(181.55 429) scale(1 0.126)" textLength="3.83" lengthAdjust="spacingAndGlyphs" fill="#1c9a1c" stroke="#1c9a1c">T</text><text transform="translate(181.55 429.6) scale(1 0.084)" textLength="3.83" lengthAdjust="spacingAndGlyphs" fill="#f01cf0" stroke="#f01cf0">E</text><text transform="translate(186.11 429.6) scale(1 2.095)" textLength="3.83" lengthAdjust="spacingAndGlyphs" fill="#3ee0cc" stroke="#3ee0cc">Y</text></g><text x="60.3" y="432.2" font-family="Liberation Sans, sans-serif" font-size="2.0" fill="#555" text-anchor="middle">1</text><text x="64.86" y="432.2" font-family="Liberation Sans, sans-serif" font-size="2.0" fill="#555" text-anchor="middle">2</text><text x="69.42" y="432.2" font-family="Liberation Sans, sans-serif" font-size="2.0" fill="#555" text-anchor="middle">3</text><text x="73.98" y="432.2" font-family="Liberation Sans, sans-serif" font-size="2.0" fill="#555" text-anchor="middle">4</text><text x="78.54" y="432.2" font-family="Liberation Sans, sans-serif" font-size="2.0" fill="#555" text-anchor="middle">5</text><text x="83.1" y="432.2" font-family="Liberation Sans, sans-serif" font-size="2.0" fill="#555" text-anchor="middle">6</text><text x="87.66" y="432.2" font-family="Liberation Sans, sans-serif" font-size="2.0" fill="#555" text-anchor="middle">7</text><text x="92.22" y="432.2" font-family="Liberation Sans, sans-serif" font-size="2.0" fill="#555" text-anchor="middle">8</text><text x="96.78" y="432.2" font-family="Liberation Sans, sans-serif" font-size="2.0" fill="#555" text-anchor="middle">9</text><text x="101.34" y="432.2" font-family="Liberation Sans, sans-serif" font-size="2.0" fill="#555" text-anchor="middle">10</text><text x="105.9" y="432.2" font-family="Liberation Sans, sans-serif" font-size="2.0" fill="#555" text-anchor="middle">11</text><text x="110.46" y="432.2" font-family="Liberation Sans, sans-serif" font-size="2.0" fill="#555" text-anchor="middle">12</text><text x="115.02" y="432.2" font-family="Liberation Sans, sans-serif" font-size="2.0" fill="#555" text-anchor="middle">13</text><text x="119.58" y="432.2" font-family="Liberation Sans, sans-serif" font-size="2.0" fill="#555" text-anchor="middle">14</text><text x="124.14" y="432.2" font-family="Liberation Sans, sans-serif" font-size="2.0" fill="#555" text-anchor="middle">15</text><text x="128.7" y="432.2" font-family="Liberation Sans, sans-serif" font-size="2.0" fill="#555" text-anchor="middle">16</text><text x="133.26" y="432.2" font-family="Liberation Sans, sans-serif" font-size="2.0" fill="#555" text-anchor="middle">17</text><text x="137.82" y="432.2" font-family="Liberation Sans, sans-serif" font-size="2.0" fill="#555" text-anchor="middle">18</text><text x="142.38" y="432.2" font-family="Liberation Sans, sans-serif" font-size="2.0" fill="#555" text-anchor="middle">19</text><text x="146.94" y="432.2" font-family="Liberation Sans, sans-serif" font-size="2.0" fill="#555" text-anchor="middle">20</text><text x="151.5" y="432.2" font-family="Liberation Sans, sans-serif" font-size="2.0" fill="#555" text-anchor="middle">21</text><text x="156.06" y="432.2" font-family="Liberation Sans, sans-serif" font-size="2.0" fill="#555" text-anchor="middle">22</text><text x="160.62" y="432.2" font-family="Liberation Sans, sans-serif" font-size="2.0" fill="#555" text-anchor="middle">23</text><text x="165.18" y="432.2" font-family="Liberation Sans, sans-serif" font-size="2.0" fill="#555" text-anchor="middle">24</text><text x="169.74" y="432.2" font-family="Liberation Sans, sans-serif" font-size="2.0" fill="#555" text-anchor="middle">25</text><text x="174.3" y="432.2" font-family="Liberation Sans, sans-serif" font-size="2.0" fill="#555" text-anchor="middle">26</text><text x="178.86" y="432.2" font-family="Liberation Sans, sans-serif" font-size="2.0" fill="#555" text-anchor="middle">27</text><text x="183.42" y="432.2" font-family="Liberation Sans, sans-serif" font-size="2.0" fill="#555" text-anchor="middle">28</text><text x="187.98" y="432.2" font-family="Liberation Sans, sans-serif" font-size="2.0" fill="#555" text-anchor="middle">29</text>
<path d="M57.3 470.7V455.5M57.3 470.7h-1M57.3 466.9h-1M57.3 463.1h-1M57.3 459.3h-1M57.3 455.5h-1" stroke="#666" stroke-width="0.55" fill="none"/><text x="56.1" y="471.3" font-family="Liberation Sans, sans-serif" font-size="2.1" fill="#666" text-anchor="end">0</text><text x="56.1" y="467.5" font-family="Liberation Sans, sans-serif" font-size="2.1" fill="#666" text-anchor="end">1</text><text x="56.1" y="463.7" font-family="Liberation Sans, sans-serif" font-size="2.1" fill="#666" text-anchor="end">2</text><text x="56.1" y="459.9" font-family="Liberation Sans, sans-serif" font-size="2.1" fill="#666" text-anchor="end">3</text><text x="56.1" y="456.1" font-family="Liberation Sans, sans-serif" font-size="2.1" fill="#666" text-anchor="end">4</text><text transform="translate(54.2 463.1) rotate(-90)" font-family="Liberation Sans, sans-serif" font-size="1.8" fill="#777" text-anchor="middle">bits</text><g font-family="Liberation Sans, sans-serif" font-weight="bold" font-size="10" stroke-width="0.35" vector-effect="non-scaling-stroke"><text transform="translate(58.73 470.7) scale(1 2.053)" textLength="3.78" lengthAdjust="spacingAndGlyphs" fill="#ffae00" stroke="#ffae00">G</text><text transform="translate(63.23 467.7) scale(1 0.880)" textLength="3.78" lengthAdjust="spacingAndGlyphs" fill="#1c9a1c" stroke="#1c9a1c">N</text><text transform="translate(63.23 469.2) scale(1 0.209)" textLength="3.78" lengthAdjust="spacingAndGlyphs" fill="#dd1111" stroke="#dd1111">R</text><text transform="translate(63.23 470.1) scale(1 0.126)" textLength="3.78" lengthAdjust="spacingAndGlyphs" fill="#ffae00" stroke="#ffae00">G</text><text transform="translate(63.23 470.7) scale(1 0.084)" textLength="3.78" lengthAdjust="spacingAndGlyphs" fill="#f01cf0" stroke="#f01cf0">E</text><text transform="translate(67.72 470.7) scale(1 2.123)" textLength="3.78" lengthAdjust="spacingAndGlyphs" fill="#f01cf0" stroke="#f01cf0">E</text><text transform="translate(72.22 467.7) scale(1 1.034)" textLength="3.78" lengthAdjust="spacingAndGlyphs" fill="#3ee0cc" stroke="#3ee0cc">Y</text><text transform="translate(72.22 469.2) scale(1 0.209)" textLength="3.78" lengthAdjust="spacingAndGlyphs" fill="#2b2bf0" stroke="#2b2bf0">V</text><text transform="translate(72.22 470.1) scale(1 0.126)" textLength="3.78" lengthAdjust="spacingAndGlyphs" fill="#2b2bf0" stroke="#2b2bf0">I</text><text transform="translate(72.22 470.7) scale(1 0.084)" textLength="3.78" lengthAdjust="spacingAndGlyphs" fill="#2b2bf0" stroke="#2b2bf0">L</text><text transform="translate(76.72 468.4) scale(1 1.355)" textLength="3.78" lengthAdjust="spacingAndGlyphs" fill="#2b2bf0" stroke="#2b2bf0">V</text><text transform="translate(76.72 469.78) scale(1 0.193)" textLength="3.78" lengthAdjust="spacingAndGlyphs" fill="#2b2bf0" stroke="#2b2bf0">I</text><text transform="translate(76.72 470.7) scale(1 0.128)" textLength="3.78" lengthAdjust="spacingAndGlyphs" fill="#2b2bf0" stroke="#2b2bf0">L</text><text transform="translate(81.22 467.7) scale(1 0.642)" textLength="3.78" lengthAdjust="spacingAndGlyphs" fill="#1c9a1c" stroke="#1c9a1c">S</text><text transform="translate(81.22 469.2) scale(1 0.209)" textLength="3.78" lengthAdjust="spacingAndGlyphs" fill="#ffae00" stroke="#ffae00">G</text><text transform="translate(81.22 470.1) scale(1 0.126)" textLength="3.78" lengthAdjust="spacingAndGlyphs" fill="#f01cf0" stroke="#f01cf0">E</text><text transform="translate(81.22 470.7) scale(1 0.084)" textLength="3.78" lengthAdjust="spacingAndGlyphs" fill="#1c9a1c" stroke="#1c9a1c">N</text><text transform="translate(85.72 470.7) scale(1 2.053)" textLength="3.78" lengthAdjust="spacingAndGlyphs" fill="#3ee0cc" stroke="#3ee0cc">Y</text><text transform="translate(90.22 470.7) scale(1 1.899)" textLength="3.78" lengthAdjust="spacingAndGlyphs" fill="#f01cf0" stroke="#f01cf0">E</text><text transform="translate(94.72 467.7) scale(1 1.103)" textLength="3.78" lengthAdjust="spacingAndGlyphs" fill="#1c9a1c" stroke="#1c9a1c">S</text><text transform="translate(94.72 469.2) scale(1 0.209)" textLength="3.78" lengthAdjust="spacingAndGlyphs" fill="#f01cf0" stroke="#f01cf0">E</text><text transform="translate(94.72 470.1) scale(1 0.126)" textLength="3.78" lengthAdjust="spacingAndGlyphs" fill="#f01cf0" stroke="#f01cf0">D</text><text transform="translate(94.72 470.7) scale(1 0.084)" textLength="3.78" lengthAdjust="spacingAndGlyphs" fill="#2b2bf0" stroke="#2b2bf0">V</text><text transform="translate(99.22 470.7) scale(1 2.123)" textLength="3.78" lengthAdjust="spacingAndGlyphs" fill="#f2f200" stroke="#f2f200">P</text><text transform="translate(103.72 467.7) scale(1 0.796)" textLength="3.78" lengthAdjust="spacingAndGlyphs" fill="#dd1111" stroke="#dd1111">R</text><text transform="translate(103.72 469.2) scale(1 0.209)" textLength="3.78" lengthAdjust="spacingAndGlyphs" fill="#ffae00" stroke="#ffae00">G</text><text transform="translate(103.72 470.1) scale(1 0.126)" textLength="3.78" lengthAdjust="spacingAndGlyphs" fill="#f01cf0" stroke="#f01cf0">E</text><text transform="translate(103.72 470.7) scale(1 0.084)" textLength="3.78" lengthAdjust="spacingAndGlyphs" fill="#1c9a1c" stroke="#1c9a1c">N</text><text transform="translate(108.22 470.7) scale(1 2.053)" textLength="3.78" lengthAdjust="spacingAndGlyphs" fill="#f2f200" stroke="#f2f200">P</text><text transform="translate(112.72 468) scale(1 0.461)" textLength="3.78" lengthAdjust="spacingAndGlyphs" fill="#1c9a1c" stroke="#1c9a1c">S</text><text transform="translate(112.72 469.35) scale(1 0.189)" textLength="3.78" lengthAdjust="spacingAndGlyphs" fill="#ffae00" stroke="#ffae00">G</text><text transform="translate(112.72 470.16) scale(1 0.113)" textLength="3.78" lengthAdjust="spacingAndGlyphs" fill="#2b2bf0" stroke="#2b2bf0">V</text><text transform="translate(112.72 470.7) scale(1 0.075)" textLength="3.78" lengthAdjust="spacingAndGlyphs" fill="#2b2bf0" stroke="#2b2bf0">L</text><text transform="translate(117.22 467.7) scale(1 0.642)" textLength="3.78" lengthAdjust="spacingAndGlyphs" fill="#2b2bf0" stroke="#2b2bf0">V</text><text transform="translate(117.22 469.2) scale(1 0.209)" textLength="3.78" lengthAdjust="spacingAndGlyphs" fill="#2b2bf0" stroke="#2b2bf0">I</text><text transform="translate(117.22 470.1) scale(1 0.126)" textLength="3.78" lengthAdjust="spacingAndGlyphs" fill="#f01cf0" stroke="#f01cf0">E</text><text transform="translate(117.22 470.7) scale(1 0.084)" textLength="3.78" lengthAdjust="spacingAndGlyphs" fill="#f01cf0" stroke="#f01cf0">D</text><text transform="translate(121.72 470.7) scale(1 2.053)" textLength="3.78" lengthAdjust="spacingAndGlyphs" fill="#ffae00" stroke="#ffae00">G</text><text transform="translate(126.22 470.7) scale(1 2.053)" textLength="3.78" lengthAdjust="spacingAndGlyphs" fill="#2b2bf0" stroke="#2b2bf0">I</text><text transform="translate(130.72 470.7) scale(1 1.983)" textLength="3.78" lengthAdjust="spacingAndGlyphs" fill="#ffb0b0" stroke="#ffb0b0">H</text><text transform="translate(135.22 470.7) scale(1 2.053)" textLength="3.78" lengthAdjust="spacingAndGlyphs" fill="#dd1111" stroke="#dd1111">R</text><text transform="translate(139.72 467.7) scale(1 0.950)" textLength="3.78" lengthAdjust="spacingAndGlyphs" fill="#2b2bf0" stroke="#2b2bf0">I</text><text transform="translate(139.72 469.2) scale(1 0.209)" textLength="3.78" lengthAdjust="spacingAndGlyphs" fill="#2b2bf0" stroke="#2b2bf0">V</text><text transform="translate(139.72 470.1) scale(1 0.126)" textLength="3.78" lengthAdjust="spacingAndGlyphs" fill="#2b2bf0" stroke="#2b2bf0">L</text><text transform="translate(139.72 470.7) scale(1 0.084)" textLength="3.78" lengthAdjust="spacingAndGlyphs" fill="#1c9a1c" stroke="#1c9a1c">T</text><text transform="translate(144.22 467.7) scale(1 1.103)" textLength="3.78" lengthAdjust="spacingAndGlyphs" fill="#2b2bf0" stroke="#2b2bf0">V</text><text transform="translate(144.22 469.2) scale(1 0.209)" textLength="3.78" lengthAdjust="spacingAndGlyphs" fill="#1c9a1c" stroke="#1c9a1c">T</text><text transform="translate(144.22 470.1) scale(1 0.126)" textLength="3.78" lengthAdjust="spacingAndGlyphs" fill="#2b2bf0" stroke="#2b2bf0">I</text><text transform="translate(144.22 470.7) scale(1 0.084)" textLength="3.78" lengthAdjust="spacingAndGlyphs" fill="#2b2bf0" stroke="#2b2bf0">L</text><text transform="translate(148.72 467.7) scale(1 1.034)" textLength="3.78" lengthAdjust="spacingAndGlyphs" fill="#2b2bf0" stroke="#2b2bf0">F</text><text transform="translate(148.72 469.2) scale(1 0.209)" textLength="3.78" lengthAdjust="spacingAndGlyphs" fill="#1c9a1c" stroke="#1c9a1c">S</text><text transform="translate(148.72 470.1) scale(1 0.126)" textLength="3.78" lengthAdjust="spacingAndGlyphs" fill="#2b2bf0" stroke="#2b2bf0">I</text><text transform="translate(148.72 470.7) scale(1 0.084)" textLength="3.78" lengthAdjust="spacingAndGlyphs" fill="#2b2bf0" stroke="#2b2bf0">L</text><text transform="translate(153.22 467.7) scale(1 1.034)" textLength="3.78" lengthAdjust="spacingAndGlyphs" fill="#2b2bf0" stroke="#2b2bf0">V</text><text transform="translate(153.22 469.2) scale(1 0.209)" textLength="3.78" lengthAdjust="spacingAndGlyphs" fill="#2b2bf0" stroke="#2b2bf0">I</text><text transform="translate(153.22 470.1) scale(1 0.126)" textLength="3.78" lengthAdjust="spacingAndGlyphs" fill="#2b2bf0" stroke="#2b2bf0">L</text><text transform="translate(153.22 470.7) scale(1 0.084)" textLength="3.78" lengthAdjust="spacingAndGlyphs" fill="#f01cf0" stroke="#f01cf0">E</text></g><text x="60.57" y="473.3" font-family="Liberation Sans, sans-serif" font-size="2.0" fill="#555" text-anchor="middle">1</text><text x="65.07" y="473.3" font-family="Liberation Sans, sans-serif" font-size="2.0" fill="#555" text-anchor="middle">2</text><text x="69.57" y="473.3" font-family="Liberation Sans, sans-serif" font-size="2.0" fill="#555" text-anchor="middle">3</text><text x="74.07" y="473.3" font-family="Liberation Sans, sans-serif" font-size="2.0" fill="#555" text-anchor="middle">4</text><text x="78.57" y="473.3" font-family="Liberation Sans, sans-serif" font-size="2.0" fill="#555" text-anchor="middle">5</text><text x="83.07" y="473.3" font-family="Liberation Sans, sans-serif" font-size="2.0" fill="#555" text-anchor="middle">6</text><text x="87.57" y="473.3" font-family="Liberation Sans, sans-serif" font-size="2.0" fill="#555" text-anchor="middle">7</text><text x="92.07" y="473.3" font-family="Liberation Sans, sans-serif" font-size="2.0" fill="#555" text-anchor="middle">8</text><text x="96.57" y="473.3" font-family="Liberation Sans, sans-serif" font-size="2.0" fill="#555" text-anchor="middle">9</text><text x="101.07" y="473.3" font-family="Liberation Sans, sans-serif" font-size="2.0" fill="#555" text-anchor="middle">10</text><text x="105.57" y="473.3" font-family="Liberation Sans, sans-serif" font-size="2.0" fill="#555" text-anchor="middle">11</text><text x="110.07" y="473.3" font-family="Liberation Sans, sans-serif" font-size="2.0" fill="#555" text-anchor="middle">12</text><text x="114.57" y="473.3" font-family="Liberation Sans, sans-serif" font-size="2.0" fill="#555" text-anchor="middle">13</text><text x="119.07" y="473.3" font-family="Liberation Sans, sans-serif" font-size="2.0" fill="#555" text-anchor="middle">14</text><text x="123.57" y="473.3" font-family="Liberation Sans, sans-serif" font-size="2.0" fill="#555" text-anchor="middle">15</text><text x="128.07" y="473.3" font-family="Liberation Sans, sans-serif" font-size="2.0" fill="#555" text-anchor="middle">16</text><text x="132.57" y="473.3" font-family="Liberation Sans, sans-serif" font-size="2.0" fill="#555" text-anchor="middle">17</text><text x="137.07" y="473.3" font-family="Liberation Sans, sans-serif" font-size="2.0" fill="#555" text-anchor="middle">18</text><text x="141.57" y="473.3" font-family="Liberation Sans, sans-serif" font-size="2.0" fill="#555" text-anchor="middle">19</text><text x="146.07" y="473.3" font-family="Liberation Sans, sans-serif" font-size="2.0" fill="#555" text-anchor="middle">20</text><text x="150.57" y="473.3" font-family="Liberation Sans, sans-serif" font-size="2.0" fill="#555" text-anchor="middle">21</text><text x="155.07" y="473.3" font-family="Liberation Sans, sans-serif" font-size="2.0" fill="#555" text-anchor="middle">22</text>
<path d="M368.4 353.6V338.9M368.4 353.6h-1M368.4 349.93h-1M368.4 346.25h-1M368.4 342.58h-1M368.4 338.9h-1" stroke="#666" stroke-width="0.55" fill="none"/><text x="367.2" y="354.2" font-family="Liberation Sans, sans-serif" font-size="2.1" fill="#666" text-anchor="end">0</text><text x="367.2" y="350.53" font-family="Liberation Sans, sans-serif" font-size="2.1" fill="#666" text-anchor="end">1</text><text x="367.2" y="346.85" font-family="Liberation Sans, sans-serif" font-size="2.1" fill="#666" text-anchor="end">2</text><text x="367.2" y="343.18" font-family="Liberation Sans, sans-serif" font-size="2.1" fill="#666" text-anchor="end">3</text><text x="367.2" y="339.5" font-family="Liberation Sans, sans-serif" font-size="2.1" fill="#666" text-anchor="end">4</text><text transform="translate(365.3 346.25) rotate(-90)" font-family="Liberation Sans, sans-serif" font-size="1.8" fill="#777" text-anchor="middle">bits</text><g font-family="Liberation Sans, sans-serif" font-weight="bold" font-size="10" stroke-width="0.35" vector-effect="non-scaling-stroke"><text transform="translate(369.83 351.3) scale(1 1.215)" textLength="3.86" lengthAdjust="spacingAndGlyphs" fill="#1c9a1c" stroke="#1c9a1c">N</text><text transform="translate(369.83 352.68) scale(1 0.193)" textLength="3.86" lengthAdjust="spacingAndGlyphs" fill="#1c9a1c" stroke="#1c9a1c">S</text><text transform="translate(369.83 353.6) scale(1 0.128)" textLength="3.86" lengthAdjust="spacingAndGlyphs" fill="#f01cf0" stroke="#f01cf0">E</text><text transform="translate(374.42 351.3) scale(1 1.215)" textLength="3.86" lengthAdjust="spacingAndGlyphs" fill="#1c9a1c" stroke="#1c9a1c">N</text><text transform="translate(374.42 352.68) scale(1 0.193)" textLength="3.86" lengthAdjust="spacingAndGlyphs" fill="#2b2bf0" stroke="#2b2bf0">V</text><text transform="translate(374.42 353.6) scale(1 0.128)" textLength="3.86" lengthAdjust="spacingAndGlyphs" fill="#ffae00" stroke="#ffae00">G</text><text transform="translate(379.01 350.6) scale(1 1.034)" textLength="3.86" lengthAdjust="spacingAndGlyphs" fill="#dd1111" stroke="#dd1111">K</text><text transform="translate(379.01 352.1) scale(1 0.209)" textLength="3.86" lengthAdjust="spacingAndGlyphs" fill="#dd1111" stroke="#dd1111">R</text><text transform="translate(379.01 353) scale(1 0.126)" textLength="3.86" lengthAdjust="spacingAndGlyphs" fill="#f01cf0" stroke="#f01cf0">E</text><text transform="translate(379.01 353.6) scale(1 0.084)" textLength="3.86" lengthAdjust="spacingAndGlyphs" fill="#1c9a1c" stroke="#1c9a1c">N</text><text transform="translate(383.6 351.12) scale(1 0.422)" textLength="3.86" lengthAdjust="spacingAndGlyphs" fill="#f01cf0" stroke="#f01cf0">D</text><text transform="translate(383.6 352.36) scale(1 0.173)" textLength="3.86" lengthAdjust="spacingAndGlyphs" fill="#ffae00" stroke="#ffae00">G</text><text transform="translate(383.6 353.11) scale(1 0.104)" textLength="3.86" lengthAdjust="spacingAndGlyphs" fill="#f01cf0" stroke="#f01cf0">E</text><text transform="translate(383.6 353.6) scale(1 0.069)" textLength="3.86" lengthAdjust="spacingAndGlyphs" fill="#dd1111" stroke="#dd1111">K</text><text transform="translate(388.19 350.6) scale(1 0.964)" textLength="3.86" lengthAdjust="spacingAndGlyphs" fill="#3ee0cc" stroke="#3ee0cc">Y</text><text transform="translate(388.19 352.1) scale(1 0.209)" textLength="3.86" lengthAdjust="spacingAndGlyphs" fill="#2b2bf0" stroke="#2b2bf0">V</text><text transform="translate(388.19 353) scale(1 0.126)" textLength="3.86" lengthAdjust="spacingAndGlyphs" fill="#2b2bf0" stroke="#2b2bf0">L</text><text transform="translate(388.19 353.6) scale(1 0.084)" textLength="3.86" lengthAdjust="spacingAndGlyphs" fill="#2b2bf0" stroke="#2b2bf0">I</text><text transform="translate(392.78 350.6) scale(1 0.964)" textLength="3.86" lengthAdjust="spacingAndGlyphs" fill="#1c9a1c" stroke="#1c9a1c">T</text><text transform="translate(392.78 352.1) scale(1 0.209)" textLength="3.86" lengthAdjust="spacingAndGlyphs" fill="#1c9a1c" stroke="#1c9a1c">S</text><text transform="translate(392.78 353) scale(1 0.126)" textLength="3.86" lengthAdjust="spacingAndGlyphs" fill="#2b2bf0" stroke="#2b2bf0">I</text><text transform="translate(392.78 353.6) scale(1 0.084)" textLength="3.86" lengthAdjust="spacingAndGlyphs" fill="#f01cf0" stroke="#f01cf0">E</text><text transform="translate(397.37 353.6) scale(1 1.676)" textLength="3.86" lengthAdjust="spacingAndGlyphs" fill="#1c9a1c" stroke="#1c9a1c">N</text><text transform="translate(401.96 353.6) scale(1 2.053)" textLength="3.86" lengthAdjust="spacingAndGlyphs" fill="#ffae00" stroke="#ffae00">G</text><text transform="translate(406.55 350.63) scale(1 0.507)" textLength="3.86" lengthAdjust="spacingAndGlyphs" fill="#f01cf0" stroke="#f01cf0">E</text><text transform="translate(406.55 352.12) scale(1 0.207)" textLength="3.86" lengthAdjust="spacingAndGlyphs" fill="#ffae00" stroke="#ffae00">G</text><text transform="translate(406.55 353.01) scale(1 0.124)" textLength="3.86" lengthAdjust="spacingAndGlyphs" fill="#dd1111" stroke="#dd1111">K</text><text transform="translate(406.55 353.6) scale(1 0.083)" textLength="3.86" lengthAdjust="spacingAndGlyphs" fill="#f01cf0" stroke="#f01cf0">D</text><text transform="translate(411.14 350.6) scale(1 0.810)" textLength="3.86" lengthAdjust="spacingAndGlyphs" fill="#f01cf0" stroke="#f01cf0">D</text><text transform="translate(411.14 352.1) scale(1 0.209)" textLength="3.86" lengthAdjust="spacingAndGlyphs" fill="#f01cf0" stroke="#f01cf0">E</text><text transform="translate(411.14 353) scale(1 0.126)" textLength="3.86" lengthAdjust="spacingAndGlyphs" fill="#ffae00" stroke="#ffae00">G</text><text transform="translate(411.14 353.6) scale(1 0.084)" textLength="3.86" lengthAdjust="spacingAndGlyphs" fill="#1c9a1c" stroke="#1c9a1c">N</text><text transform="translate(415.73 350.6) scale(1 0.894)" textLength="3.86" lengthAdjust="spacingAndGlyphs" fill="#2b2bf0" stroke="#2b2bf0">L</text><text transform="translate(415.73 352.1) scale(1 0.209)" textLength="3.86" lengthAdjust="spacingAndGlyphs" fill="#2b2bf0" stroke="#2b2bf0">V</text><text transform="translate(415.73 353) scale(1 0.126)" textLength="3.86" lengthAdjust="spacingAndGlyphs" fill="#dd1111" stroke="#dd1111">K</text><text transform="translate(415.73 353.6) scale(1 0.084)" textLength="3.86" lengthAdjust="spacingAndGlyphs" fill="#f01cf0" stroke="#f01cf0">E</text><text transform="translate(420.32 351.3) scale(1 1.131)" textLength="3.86" lengthAdjust="spacingAndGlyphs" fill="#dd1111" stroke="#dd1111">K</text><text transform="translate(420.32 352.68) scale(1 0.193)" textLength="3.86" lengthAdjust="spacingAndGlyphs" fill="#dd1111" stroke="#dd1111">R</text><text transform="translate(420.32 353.6) scale(1 0.128)" textLength="3.86" lengthAdjust="spacingAndGlyphs" fill="#f01cf0" stroke="#f01cf0">E</text><text transform="translate(424.91 352) scale(1 1.676)" textLength="3.86" lengthAdjust="spacingAndGlyphs" fill="#f2f200" stroke="#f2f200">P</text><text transform="translate(424.91 353.6) scale(1 0.223)" textLength="3.86" lengthAdjust="spacingAndGlyphs" fill="#f01cf0" stroke="#f01cf0">E</text><text transform="translate(429.5 353.6) scale(1 2.095)" textLength="3.86" lengthAdjust="spacingAndGlyphs" fill="#1c9a1c" stroke="#1c9a1c">S</text><text transform="translate(434.09 351.12) scale(1 0.422)" textLength="3.86" lengthAdjust="spacingAndGlyphs" fill="#1c9a1c" stroke="#1c9a1c">S</text><text transform="translate(434.09 352.36) scale(1 0.173)" textLength="3.86" lengthAdjust="spacingAndGlyphs" fill="#f01cf0" stroke="#f01cf0">D</text><text transform="translate(434.09 353.11) scale(1 0.104)" textLength="3.86" lengthAdjust="spacingAndGlyphs" fill="#ffae00" stroke="#ffae00">G</text><text transform="translate(434.09 353.6) scale(1 0.069)" textLength="3.86" lengthAdjust="spacingAndGlyphs" fill="#f01cf0" stroke="#f01cf0">E</text><text transform="translate(438.68 353.6) scale(1 1.969)" textLength="3.86" lengthAdjust="spacingAndGlyphs" fill="#2b2bf0" stroke="#2b2bf0">V</text><text transform="translate(443.27 350.6) scale(1 1.034)" textLength="3.86" lengthAdjust="spacingAndGlyphs" fill="#2b2bf0" stroke="#2b2bf0">X</text><text transform="translate(443.27 352.1) scale(1 0.209)" textLength="3.86" lengthAdjust="spacingAndGlyphs" fill="#2b2bf0" stroke="#2b2bf0">V</text><text transform="translate(443.27 353) scale(1 0.126)" textLength="3.86" lengthAdjust="spacingAndGlyphs" fill="#2b2bf0" stroke="#2b2bf0">I</text><text transform="translate(443.27 353.6) scale(1 0.084)" textLength="3.86" lengthAdjust="spacingAndGlyphs" fill="#1c9a1c" stroke="#1c9a1c">S</text><text transform="translate(447.86 350.6) scale(1 0.642)" textLength="3.86" lengthAdjust="spacingAndGlyphs" fill="#ffae00" stroke="#ffae00">G</text><text transform="translate(447.86 352.1) scale(1 0.209)" textLength="3.86" lengthAdjust="spacingAndGlyphs" fill="#f01cf0" stroke="#f01cf0">E</text><text transform="translate(447.86 353) scale(1 0.126)" textLength="3.86" lengthAdjust="spacingAndGlyphs" fill="#dd1111" stroke="#dd1111">K</text><text transform="translate(447.86 353.6) scale(1 0.084)" textLength="3.86" lengthAdjust="spacingAndGlyphs" fill="#f01cf0" stroke="#f01cf0">D</text><text transform="translate(452.45 350.6) scale(1 0.642)" textLength="3.86" lengthAdjust="spacingAndGlyphs" fill="#f01cf0" stroke="#f01cf0">E</text><text transform="translate(452.45 352.1) scale(1 0.209)" textLength="3.86" lengthAdjust="spacingAndGlyphs" fill="#dd1111" stroke="#dd1111">K</text><text transform="translate(452.45 353) scale(1 0.126)" textLength="3.86" lengthAdjust="spacingAndGlyphs" fill="#f01cf0" stroke="#f01cf0">D</text><text transform="translate(452.45 353.6) scale(1 0.084)" textLength="3.86" lengthAdjust="spacingAndGlyphs" fill="#ffae00" stroke="#ffae00">G</text><text transform="translate(457.04 353.6) scale(1 2.095)" textLength="3.86" lengthAdjust="spacingAndGlyphs" fill="#f2f200" stroke="#f2f200">P</text><text transform="translate(461.63 353.6) scale(1 1.760)" textLength="3.86" lengthAdjust="spacingAndGlyphs" fill="#dd1111" stroke="#dd1111">R</text></g><text x="371.71" y="356.2" font-family="Liberation Sans, sans-serif" font-size="2.0" fill="#555" text-anchor="middle">1</text><text x="376.3" y="356.2" font-family="Liberation Sans, sans-serif" font-size="2.0" fill="#555" text-anchor="middle">2</text><text x="380.89" y="356.2" font-family="Liberation Sans, sans-serif" font-size="2.0" fill="#555" text-anchor="middle">3</text><text x="385.48" y="356.2" font-family="Liberation Sans, sans-serif" font-size="2.0" fill="#555" text-anchor="middle">4</text><text x="390.07" y="356.2" font-family="Liberation Sans, sans-serif" font-size="2.0" fill="#555" text-anchor="middle">5</text><text x="394.66" y="356.2" font-family="Liberation Sans, sans-serif" font-size="2.0" fill="#555" text-anchor="middle">6</text><text x="399.25" y="356.2" font-family="Liberation Sans, sans-serif" font-size="2.0" fill="#555" text-anchor="middle">7</text><text x="403.84" y="356.2" font-family="Liberation Sans, sans-serif" font-size="2.0" fill="#555" text-anchor="middle">8</text><text x="408.43" y="356.2" font-family="Liberation Sans, sans-serif" font-size="2.0" fill="#555" text-anchor="middle">9</text><text x="413.02" y="356.2" font-family="Liberation Sans, sans-serif" font-size="2.0" fill="#555" text-anchor="middle">10</text><text x="417.61" y="356.2" font-family="Liberation Sans, sans-serif" font-size="2.0" fill="#555" text-anchor="middle">11</text><text x="422.2" y="356.2" font-family="Liberation Sans, sans-serif" font-size="2.0" fill="#555" text-anchor="middle">12</text><text x="426.79" y="356.2" font-family="Liberation Sans, sans-serif" font-size="2.0" fill="#555" text-anchor="middle">13</text><text x="431.38" y="356.2" font-family="Liberation Sans, sans-serif" font-size="2.0" fill="#555" text-anchor="middle">14</text><text x="435.97" y="356.2" font-family="Liberation Sans, sans-serif" font-size="2.0" fill="#555" text-anchor="middle">15</text><text x="440.56" y="356.2" font-family="Liberation Sans, sans-serif" font-size="2.0" fill="#555" text-anchor="middle">16</text><text x="445.15" y="356.2" font-family="Liberation Sans, sans-serif" font-size="2.0" fill="#555" text-anchor="middle">17</text><text x="449.74" y="356.2" font-family="Liberation Sans, sans-serif" font-size="2.0" fill="#555" text-anchor="middle">18</text><text x="454.33" y="356.2" font-family="Liberation Sans, sans-serif" font-size="2.0" fill="#555" text-anchor="middle">19</text><text x="458.92" y="356.2" font-family="Liberation Sans, sans-serif" font-size="2.0" fill="#555" text-anchor="middle">20</text><text x="463.51" y="356.2" font-family="Liberation Sans, sans-serif" font-size="2.0" fill="#555" text-anchor="middle">21</text>
<path d="M369.5 391.1V376.1M369.5 391.1h-1M369.5 387.35h-1M369.5 383.6h-1M369.5 379.85h-1M369.5 376.1h-1" stroke="#666" stroke-width="0.55" fill="none"/><text x="368.3" y="391.7" font-family="Liberation Sans, sans-serif" font-size="2.1" fill="#666" text-anchor="end">0</text><text x="368.3" y="387.95" font-family="Liberation Sans, sans-serif" font-size="2.1" fill="#666" text-anchor="end">1</text><text x="368.3" y="384.2" font-family="Liberation Sans, sans-serif" font-size="2.1" fill="#666" text-anchor="end">2</text><text x="368.3" y="380.45" font-family="Liberation Sans, sans-serif" font-size="2.1" fill="#666" text-anchor="end">3</text><text x="368.3" y="376.7" font-family="Liberation Sans, sans-serif" font-size="2.1" fill="#666" text-anchor="end">4</text><text transform="translate(366.4 383.6) rotate(-90)" font-family="Liberation Sans, sans-serif" font-size="1.8" fill="#777" text-anchor="middle">bits</text><g font-family="Liberation Sans, sans-serif" font-weight="bold" font-size="10" stroke-width="0.35" vector-effect="non-scaling-stroke"><text transform="translate(370.93 388.8) scale(1 1.355)" textLength="3.78" lengthAdjust="spacingAndGlyphs" fill="#1c9a1c" stroke="#1c9a1c">T</text><text transform="translate(370.93 390.18) scale(1 0.193)" textLength="3.78" lengthAdjust="spacingAndGlyphs" fill="#ffae00" stroke="#ffae00">G</text><text transform="translate(370.93 391.1) scale(1 0.128)" textLength="3.78" lengthAdjust="spacingAndGlyphs" fill="#1c9a1c" stroke="#1c9a1c">N</text><text transform="translate(375.43 388.8) scale(1 1.355)" textLength="3.78" lengthAdjust="spacingAndGlyphs" fill="#1c9a1c" stroke="#1c9a1c">T</text><text transform="translate(375.43 390.18) scale(1 0.193)" textLength="3.78" lengthAdjust="spacingAndGlyphs" fill="#2b2bf0" stroke="#2b2bf0">A</text><text transform="translate(375.43 391.1) scale(1 0.128)" textLength="3.78" lengthAdjust="spacingAndGlyphs" fill="#2b2bf0" stroke="#2b2bf0">V</text><text transform="translate(379.93 388.1) scale(1 0.642)" textLength="3.78" lengthAdjust="spacingAndGlyphs" fill="#f01cf0" stroke="#f01cf0">D</text><text transform="translate(379.93 389.6) scale(1 0.209)" textLength="3.78" lengthAdjust="spacingAndGlyphs" fill="#ffae00" stroke="#ffae00">G</text><text transform="translate(379.93 390.5) scale(1 0.126)" textLength="3.78" lengthAdjust="spacingAndGlyphs" fill="#1c9a1c" stroke="#1c9a1c">S</text><text transform="translate(379.93 391.1) scale(1 0.084)" textLength="3.78" lengthAdjust="spacingAndGlyphs" fill="#f01cf0" stroke="#f01cf0">E</text><text transform="translate(384.43 391.1) scale(1 1.983)" textLength="3.78" lengthAdjust="spacingAndGlyphs" fill="#2b2bf0" stroke="#2b2bf0">A</text><text transform="translate(388.93 388.1) scale(1 0.796)" textLength="3.78" lengthAdjust="spacingAndGlyphs" fill="#1c9a1c" stroke="#1c9a1c">S</text><text transform="translate(388.93 389.6) scale(1 0.209)" textLength="3.78" lengthAdjust="spacingAndGlyphs" fill="#dd1111" stroke="#dd1111">R</text><text transform="translate(388.93 390.5) scale(1 0.126)" textLength="3.78" lengthAdjust="spacingAndGlyphs" fill="#f01cf0" stroke="#f01cf0">E</text><text transform="translate(388.93 391.1) scale(1 0.084)" textLength="3.78" lengthAdjust="spacingAndGlyphs" fill="#ffae00" stroke="#ffae00">G</text><text transform="translate(393.43 391.1) scale(1 2.095)" textLength="3.78" lengthAdjust="spacingAndGlyphs" fill="#2b2bf0" stroke="#2b2bf0">F</text></g><text x="372.77" y="393.7" font-family="Liberation Sans, sans-serif" font-size="2.0" fill="#555" text-anchor="middle">1</text><text x="377.27" y="393.7" font-family="Liberation Sans, sans-serif" font-size="2.0" fill="#555" text-anchor="middle">2</text><text x="381.77" y="393.7" font-family="Liberation Sans, sans-serif" font-size="2.0" fill="#555" text-anchor="middle">3</text><text x="386.27" y="393.7" font-family="Liberation Sans, sans-serif" font-size="2.0" fill="#555" text-anchor="middle">4</text><text x="390.77" y="393.7" font-family="Liberation Sans, sans-serif" font-size="2.0" fill="#555" text-anchor="middle">5</text><text x="395.27" y="393.7" font-family="Liberation Sans, sans-serif" font-size="2.0" fill="#555" text-anchor="middle">6</text>
<path d="M369.5 428.9V414.4M369.5 428.9h-1M369.5 425.27h-1M369.5 421.65h-1M369.5 418.02h-1M369.5 414.4h-1" stroke="#666" stroke-width="0.55" fill="none"/><text x="368.3" y="429.5" font-family="Liberation Sans, sans-serif" font-size="2.1" fill="#666" text-anchor="end">0</text><text x="368.3" y="425.88" font-family="Liberation Sans, sans-serif" font-size="2.1" fill="#666" text-anchor="end">1</text><text x="368.3" y="422.25" font-family="Liberation Sans, sans-serif" font-size="2.1" fill="#666" text-anchor="end">2</text><text x="368.3" y="418.62" font-family="Liberation Sans, sans-serif" font-size="2.1" fill="#666" text-anchor="end">3</text><text x="368.3" y="415" font-family="Liberation Sans, sans-serif" font-size="2.1" fill="#666" text-anchor="end">4</text><text transform="translate(366.4 421.65) rotate(-90)" font-family="Liberation Sans, sans-serif" font-size="1.8" fill="#777" text-anchor="middle">bits</text><g font-family="Liberation Sans, sans-serif" font-weight="bold" font-size="10" stroke-width="0.35" vector-effect="non-scaling-stroke"><text transform="translate(370.92 428.9) scale(1 2.025)" textLength="3.75" lengthAdjust="spacingAndGlyphs" fill="#f2f200" stroke="#f2f200">P</text><text transform="translate(375.39 428.9) scale(1 2.025)" textLength="3.75" lengthAdjust="spacingAndGlyphs" fill="#dd1111" stroke="#dd1111">K</text><text transform="translate(379.86 428.9) scale(1 2.025)" textLength="3.75" lengthAdjust="spacingAndGlyphs" fill="#ffb0b0" stroke="#ffb0b0">H</text><text transform="translate(384.33 428.9) scale(1 2.025)" textLength="3.75" lengthAdjust="spacingAndGlyphs" fill="#2b2bf0" stroke="#2b2bf0">I</text><text transform="translate(388.8 428.9) scale(1 2.025)" textLength="3.75" lengthAdjust="spacingAndGlyphs" fill="#1c9a1c" stroke="#1c9a1c">N</text><text transform="translate(393.27 428.9) scale(1 2.025)" textLength="3.75" lengthAdjust="spacingAndGlyphs" fill="#1c9a1c" stroke="#1c9a1c">N</text><text transform="translate(397.74 428.9) scale(1 2.025)" textLength="3.75" lengthAdjust="spacingAndGlyphs" fill="#ffae00" stroke="#ffae00">G</text><text transform="translate(402.21 428.9) scale(1 2.025)" textLength="3.75" lengthAdjust="spacingAndGlyphs" fill="#2b2bf0" stroke="#2b2bf0">C</text><text transform="translate(406.68 428.9) scale(1 2.025)" textLength="3.75" lengthAdjust="spacingAndGlyphs" fill="#2b2bf0" stroke="#2b2bf0">A</text><text transform="translate(411.15 428.9) scale(1 2.025)" textLength="3.75" lengthAdjust="spacingAndGlyphs" fill="#2b2bf0" stroke="#2b2bf0">V</text><text transform="translate(415.62 428.9) scale(1 2.025)" textLength="3.75" lengthAdjust="spacingAndGlyphs" fill="#dd1111" stroke="#dd1111">K</text><text transform="translate(420.09 428.9) scale(1 2.025)" textLength="3.75" lengthAdjust="spacingAndGlyphs" fill="#f2f200" stroke="#f2f200">P</text><text transform="translate(424.56 428.9) scale(1 2.025)" textLength="3.75" lengthAdjust="spacingAndGlyphs" fill="#1c9a1c" stroke="#1c9a1c">S</text><text transform="translate(429.03 428.9) scale(1 2.025)" textLength="3.75" lengthAdjust="spacingAndGlyphs" fill="#2b2bf0" stroke="#2b2bf0">M</text><text transform="translate(433.5 428.9) scale(1 2.025)" textLength="3.75" lengthAdjust="spacingAndGlyphs" fill="#2b2bf0" stroke="#2b2bf0">A</text></g><text x="372.76" y="431.5" font-family="Liberation Sans, sans-serif" font-size="2.0" fill="#555" text-anchor="middle">1</text><text x="377.23" y="431.5" font-family="Liberation Sans, sans-serif" font-size="2.0" fill="#555" text-anchor="middle">2</text><text x="381.7" y="431.5" font-family="Liberation Sans, sans-serif" font-size="2.0" fill="#555" text-anchor="middle">3</text><text x="386.17" y="431.5" font-family="Liberation Sans, sans-serif" font-size="2.0" fill="#555" text-anchor="middle">4</text><text x="390.64" y="431.5" font-family="Liberation Sans, sans-serif" font-size="2.0" fill="#555" text-anchor="middle">5</text><text x="395.11" y="431.5" font-family="Liberation Sans, sans-serif" font-size="2.0" fill="#555" text-anchor="middle">6</text><text x="399.58" y="431.5" font-family="Liberation Sans, sans-serif" font-size="2.0" fill="#555" text-anchor="middle">7</text><text x="404.05" y="431.5" font-family="Liberation Sans, sans-serif" font-size="2.0" fill="#555" text-anchor="middle">8</text><text x="408.52" y="431.5" font-family="Liberation Sans, sans-serif" font-size="2.0" fill="#555" text-anchor="middle">9</text><text x="412.99" y="431.5" font-family="Liberation Sans, sans-serif" font-size="2.0" fill="#555" text-anchor="middle">10</text><text x="417.46" y="431.5" font-family="Liberation Sans, sans-serif" font-size="2.0" fill="#555" text-anchor="middle">11</text><text x="421.93" y="431.5" font-family="Liberation Sans, sans-serif" font-size="2.0" fill="#555" text-anchor="middle">12</text><text x="426.4" y="431.5" font-family="Liberation Sans, sans-serif" font-size="2.0" fill="#555" text-anchor="middle">13</text><text x="430.87" y="431.5" font-family="Liberation Sans, sans-serif" font-size="2.0" fill="#555" text-anchor="middle">14</text><text x="435.34" y="431.5" font-family="Liberation Sans, sans-serif" font-size="2.0" fill="#555" text-anchor="middle">15</text>
<path d="M369.1 470.4V455.7M369.1 470.4h-1M369.1 466.72h-1M369.1 463.05h-1M369.1 459.38h-1M369.1 455.7h-1" stroke="#666" stroke-width="0.55" fill="none"/><text x="367.9" y="471" font-family="Liberation Sans, sans-serif" font-size="2.1" fill="#666" text-anchor="end">0</text><text x="367.9" y="467.32" font-family="Liberation Sans, sans-serif" font-size="2.1" fill="#666" text-anchor="end">1</text><text x="367.9" y="463.65" font-family="Liberation Sans, sans-serif" font-size="2.1" fill="#666" text-anchor="end">2</text><text x="367.9" y="459.98" font-family="Liberation Sans, sans-serif" font-size="2.1" fill="#666" text-anchor="end">3</text><text x="367.9" y="456.3" font-family="Liberation Sans, sans-serif" font-size="2.1" fill="#666" text-anchor="end">4</text><text transform="translate(366 463.05) rotate(-90)" font-family="Liberation Sans, sans-serif" font-size="1.8" fill="#777" text-anchor="middle">bits</text><g font-family="Liberation Sans, sans-serif" font-weight="bold" font-size="10" stroke-width="0.35" vector-effect="non-scaling-stroke"><text transform="translate(370.52 470.4) scale(1 2.053)" textLength="3.74" lengthAdjust="spacingAndGlyphs" fill="#dd1111" stroke="#dd1111">R</text><text transform="translate(374.97 470.4) scale(1 2.053)" textLength="3.74" lengthAdjust="spacingAndGlyphs" fill="#3ee0cc" stroke="#3ee0cc">Y</text><text transform="translate(379.42 470.4) scale(1 2.053)" textLength="3.74" lengthAdjust="spacingAndGlyphs" fill="#1c9a1c" stroke="#1c9a1c">N</text><text transform="translate(383.87 470.4) scale(1 2.053)" textLength="3.74" lengthAdjust="spacingAndGlyphs" fill="#1c9a1c" stroke="#1c9a1c">N</text><text transform="translate(388.32 470.4) scale(1 2.053)" textLength="3.74" lengthAdjust="spacingAndGlyphs" fill="#2b2bf0" stroke="#2b2bf0">F</text><text transform="translate(392.77 470.4) scale(1 2.053)" textLength="3.74" lengthAdjust="spacingAndGlyphs" fill="#f01cf0" stroke="#f01cf0">D</text><text transform="translate(397.22 470.4) scale(1 2.053)" textLength="3.74" lengthAdjust="spacingAndGlyphs" fill="#1c9a1c" stroke="#1c9a1c">S</text><text transform="translate(401.67 470.4) scale(1 2.053)" textLength="3.74" lengthAdjust="spacingAndGlyphs" fill="#ffb0b0" stroke="#ffb0b0">H</text><text transform="translate(406.12 470.4) scale(1 2.053)" textLength="3.74" lengthAdjust="spacingAndGlyphs" fill="#2b2bf0" stroke="#2b2bf0">I</text><text transform="translate(410.57 470.4) scale(1 2.053)" textLength="3.74" lengthAdjust="spacingAndGlyphs" fill="#2b2bf0" stroke="#2b2bf0">W</text><text transform="translate(415.02 470.4) scale(1 2.053)" textLength="3.74" lengthAdjust="spacingAndGlyphs" fill="#2b2bf0" stroke="#2b2bf0">A</text></g><text x="372.35" y="473" font-family="Liberation Sans, sans-serif" font-size="2.0" fill="#555" text-anchor="middle">1</text><text x="376.8" y="473" font-family="Liberation Sans, sans-serif" font-size="2.0" fill="#555" text-anchor="middle">2</text><text x="381.25" y="473" font-family="Liberation Sans, sans-serif" font-size="2.0" fill="#555" text-anchor="middle">3</text><text x="385.7" y="473" font-family="Liberation Sans, sans-serif" font-size="2.0" fill="#555" text-anchor="middle">4</text><text x="390.15" y="473" font-family="Liberation Sans, sans-serif" font-size="2.0" fill="#555" text-anchor="middle">5</text><text x="394.6" y="473" font-family="Liberation Sans, sans-serif" font-size="2.0" fill="#555" text-anchor="middle">6</text><text x="399.05" y="473" font-family="Liberation Sans, sans-serif" font-size="2.0" fill="#555" text-anchor="middle">7</text><text x="403.5" y="473" font-family="Liberation Sans, sans-serif" font-size="2.0" fill="#555" text-anchor="middle">8</text><text x="407.95" y="473" font-family="Liberation Sans, sans-serif" font-size="2.0" fill="#555" text-anchor="middle">9</text><text x="412.4" y="473" font-family="Liberation Sans, sans-serif" font-size="2.0" fill="#555" text-anchor="middle">10</text><text x="416.85" y="473" font-family="Liberation Sans, sans-serif" font-size="2.0" fill="#555" text-anchor="middle">11</text>
<rect x="5.5" y="486.5" width="536.8" height="114.2" fill="none" stroke="#c4c4c4" stroke-width="1"/>
<rect x="15.3" y="494.1" width="1.5" height="9.28" fill="#5a5a5a"/>
<text x="6.8" y="500" font-family="Liberation Serif, serif" font-size="4.2" fill="#555">MFT</text>
<rect x="15.3" y="504.42" width="1.5" height="5.84" fill="#5a5a5a"/>
<text x="6.8" y="509" font-family="Liberation Serif, serif" font-size="4.2" fill="#555">FTL</text>
<rect x="15.3" y="511.3" width="1.5" height="19.6" fill="#5a5a5a"/>
<text x="6.8" y="521" font-family="Liberation Serif, serif" font-size="4.2" fill="#555">FT-II</text>
<rect x="15.3" y="531.94" width="1.5" height="19.6" fill="#5a5a5a"/>
<text x="6.8" y="542.4" font-family="Liberation Serif, serif" font-size="4.2" fill="#555">FT-I</text>
<rect x="15.3" y="552.58" width="1.5" height="5.84" fill="#5a5a5a"/>
<text x="6.8" y="556" font-family="Liberation Serif, serif" font-size="4.2" fill="#555">FT-IV</text>
<rect x="15.3" y="559.46" width="1.5" height="26.48" fill="#5a5a5a"/>
<text x="6.8" y="568.6" font-family="Liberation Serif, serif" font-size="4.2" fill="#555">FT-III</text>
<text x="17.6" y="496.4" textLength="10.6" lengthAdjust="spacingAndGlyphs" font-family="Liberation Sans, sans-serif" font-size="2.9" fill="#666">CsPEBP1</text>
<text x="17.6" y="499.84" textLength="10.6" lengthAdjust="spacingAndGlyphs" font-family="Liberation Sans, sans-serif" font-size="2.9" fill="#666">CsPEBP4</text>
<text x="17.6" y="503.28" textLength="10.6" lengthAdjust="spacingAndGlyphs" font-family="Liberation Sans, sans-serif" font-size="2.9" fill="#666">CsPEBP2</text>
<text x="17.6" y="506.72" textLength="10.6" lengthAdjust="spacingAndGlyphs" font-family="Liberation Sans, sans-serif" font-size="2.9" fill="#666">CsPEBP3</text>
<text x="17.6" y="510.16" textLength="10.6" lengthAdjust="spacingAndGlyphs" font-family="Liberation Sans, sans-serif" font-size="2.9" fill="#666">CsPEBP5</text>
<text x="17.6" y="513.6" textLength="10.6" lengthAdjust="spacingAndGlyphs" font-family="Liberation Sans, sans-serif" font-size="2.9" fill="#666">CsPEBP7</text>
<text x="17.6" y="517.04" textLength="10.6" lengthAdjust="spacingAndGlyphs" font-family="Liberation Sans, sans-serif" font-size="2.9" fill="#666">CsPEBP1</text>
<text x="17.6" y="520.48" textLength="10.6" lengthAdjust="spacingAndGlyphs" font-family="Liberation Sans, sans-serif" font-size="2.9" fill="#666">CgPEBP3</text>
<text x="17.6" y="523.92" textLength="10.6" lengthAdjust="spacingAndGlyphs" font-family="Liberation Sans, sans-serif" font-size="2.9" fill="#666">CsPEBP6</text>
<text x="17.6" y="527.36" textLength="10.6" lengthAdjust="spacingAndGlyphs" font-family="Liberation Sans, sans-serif" font-size="2.9" fill="#666">CsPEBP8</text>
<text x="17.6" y="530.8" textLength="10.6" lengthAdjust="spacingAndGlyphs" font-family="Liberation Sans, sans-serif" font-size="2.9" fill="#666">CsPEBP9</text>
<text x="17.6" y="534.24" textLength="10.6" lengthAdjust="spacingAndGlyphs" font-family="Liberation Sans, sans-serif" font-size="2.9" fill="#666">CsPEBP3</text>
<text x="17.6" y="537.68" textLength="10.6" lengthAdjust="spacingAndGlyphs" font-family="Liberation Sans, sans-serif" font-size="2.9" fill="#666">CsPEBP5</text>
<text x="17.6" y="541.12" textLength="10.6" lengthAdjust="spacingAndGlyphs" font-family="Liberation Sans, sans-serif" font-size="2.9" fill="#666">CsPEBP2</text>
<text x="17.6" y="544.56" textLength="10.6" lengthAdjust="spacingAndGlyphs" font-family="Liberation Sans, sans-serif" font-size="2.9" fill="#666">CsPEBP8</text>
<text x="17.6" y="548" textLength="10.6" lengthAdjust="spacingAndGlyphs" font-family="Liberation Sans, sans-serif" font-size="2.9" fill="#666">CsPEBP6</text>
<text x="17.6" y="551.44" textLength="10.6" lengthAdjust="spacingAndGlyphs" font-family="Liberation Sans, sans-serif" font-size="2.9" fill="#666">CsPEBP9</text>
<text x="17.6" y="554.88" textLength="10.6" lengthAdjust="spacingAndGlyphs" font-family="Liberation Sans, sans-serif" font-size="2.9" fill="#666">CsPEBP4</text>
<text x="17.6" y="558.32" textLength="10.6" lengthAdjust="spacingAndGlyphs" font-family="Liberation Sans, sans-serif" font-size="2.9" fill="#666">CsPEBP7</text>
<text x="17.6" y="561.76" textLength="10.6" lengthAdjust="spacingAndGlyphs" font-family="Liberation Sans, sans-serif" font-size="2.9" fill="#666">CsPEBP1</text>
<text x="17.6" y="565.2" textLength="10.6" lengthAdjust="spacingAndGlyphs" font-family="Liberation Sans, sans-serif" font-size="2.9" fill="#666">CsPEBP7</text>
<text x="17.6" y="568.64" textLength="10.6" lengthAdjust="spacingAndGlyphs" font-family="Liberation Sans, sans-serif" font-size="2.9" fill="#666">CgPEBP4</text>
<text x="17.6" y="572.08" textLength="10.6" lengthAdjust="spacingAndGlyphs" font-family="Liberation Sans, sans-serif" font-size="2.9" fill="#666">CgPEBP7</text>
<text x="17.6" y="575.52" textLength="10.6" lengthAdjust="spacingAndGlyphs" font-family="Liberation Sans, sans-serif" font-size="2.9" fill="#666">CsPEBP5</text>
<text x="17.6" y="578.96" textLength="10.6" lengthAdjust="spacingAndGlyphs" font-family="Liberation Sans, sans-serif" font-size="2.9" fill="#666">CsPEBP11</text>
<text x="17.6" y="582.4" textLength="10.6" lengthAdjust="spacingAndGlyphs" font-family="Liberation Sans, sans-serif" font-size="2.9" fill="#666">CsPEBP10</text>
<text x="17.6" y="585.84" textLength="10.6" lengthAdjust="spacingAndGlyphs" font-family="Liberation Sans, sans-serif" font-size="2.9" fill="#666">CsPEBP6</text>
<text x="149.3" y="491.6" text-anchor="middle" font-family="Liberation Serif, serif" font-size="3.6" fill="#444">1</text>
<text x="165.6" y="491.6" text-anchor="middle" font-family="Liberation Serif, serif" font-size="3.6" fill="#444">10</text>
<text x="186.2" y="491.6" text-anchor="middle" font-family="Liberation Serif, serif" font-size="3.6" fill="#444">20</text>
<text x="206.7" y="491.6" text-anchor="middle" font-family="Liberation Serif, serif" font-size="3.6" fill="#444">30</text>
<text x="227.8" y="491.6" text-anchor="middle" font-family="Liberation Serif, serif" font-size="3.6" fill="#444">40</text>
<text x="246.9" y="491.6" text-anchor="middle" font-family="Liberation Serif, serif" font-size="3.6" fill="#444">50</text>
<text x="267.7" y="491.6" text-anchor="middle" font-family="Liberation Serif, serif" font-size="3.6" fill="#444">60</text>
<text x="284.2" y="491.6" text-anchor="middle" font-family="Liberation Serif, serif" font-size="3.6" fill="#444">70</text>
<text x="305.8" y="491.6" text-anchor="middle" font-family="Liberation Serif, serif" font-size="3.6" fill="#444">80</text>
<text x="325.6" y="491.6" text-anchor="middle" font-family="Liberation Serif, serif" font-size="3.6" fill="#444">90</text>
<text x="345.2" y="491.6" text-anchor="middle" font-family="Liberation Serif, serif" font-size="3.6" fill="#444">100</text>
<text x="392.4" y="491.6" text-anchor="middle" font-family="Liberation Serif, serif" font-size="3.6" fill="#444">110</text>
<text x="411" y="491.6" text-anchor="middle" font-family="Liberation Serif, serif" font-size="3.6" fill="#444">120</text>
<text x="429.5" y="491.6" text-anchor="middle" font-family="Liberation Serif, serif" font-size="3.6" fill="#444">130</text>
<text x="449.5" y="491.6" text-anchor="middle" font-family="Liberation Serif, serif" font-size="3.6" fill="#444">140</text>
<text x="468" y="491.6" text-anchor="middle" font-family="Liberation Serif, serif" font-size="3.6" fill="#444">150</text>
<text x="486.6" y="491.6" text-anchor="middle" font-family="Liberation Serif, serif" font-size="3.6" fill="#444">160</text>
<text x="506.7" y="491.6" text-anchor="middle" font-family="Liberation Serif, serif" font-size="3.6" fill="#444">170</text>
<rect x="159.1" y="493.3" width="18.2" height="93.2" fill="#fcfbff" stroke="#c4c4f4" stroke-width="0.6"/><rect x="181.2" y="493.3" width="12.3" height="93.2" fill="#fcfbff" stroke="#c4c4f4" stroke-width="0.6"/><rect x="196" y="493.3" width="10" height="93.2" fill="#fcfbff" stroke="#c4c4f4" stroke-width="0.6"/><rect x="208" y="493.3" width="18.5" height="93.2" fill="#fcfbff" stroke="#c4c4f4" stroke-width="0.6"/><rect x="230.5" y="493.3" width="7.5" height="93.2" fill="#fcfbff" stroke="#c4c4f4" stroke-width="0.6"/><rect x="242" y="493.3" width="7.8" height="93.2" fill="#fcfbff" stroke="#c4c4f4" stroke-width="0.6"/><rect x="253.8" y="493.3" width="7.2" height="93.2" fill="#fcfbff" stroke="#c4c4f4" stroke-width="0.6"/><rect x="265" y="493.3" width="7.5" height="93.2" fill="#fcfbff" stroke="#c4c4f4" stroke-width="0.6"/><rect x="307.5" y="493.3" width="12.5" height="93.2" fill="#fcfbff" stroke="#c4c4f4" stroke-width="0.6"/><rect x="323" y="493.3" width="23" height="93.2" fill="#fcfbff" stroke="#c4c4f4" stroke-width="0.6"/><rect x="373" y="493.3" width="26.5" height="93.2" fill="#fcfbff" stroke="#c4c4f4" stroke-width="0.6"/><rect x="400.2" y="493.3" width="8.2" height="93.2" fill="#fcfbff" stroke="#c4c4f4" stroke-width="0.6"/><rect x="409" y="493.3" width="16" height="93.2" fill="#fcfbff" stroke="#c4c4f4" stroke-width="0.6"/><rect x="427" y="493.3" width="20" height="93.2" fill="#fcfbff" stroke="#c4c4f4" stroke-width="0.6"/><rect x="449" y="493.3" width="12.5" height="93.2" fill="#fcfbff" stroke="#c4c4f4" stroke-width="0.6"/><rect x="473.9" y="493.3" width="3.9" height="93.2" fill="#fcfbff" stroke="#c4c4f4" stroke-width="0.6"/><rect x="479.3" y="493.3" width="22.4" height="93.2" fill="#fcfbff" stroke="#c4c4f4" stroke-width="0.6"/><rect x="511.8" y="493.3" width="3.8" height="93.2" fill="#fcfbff" stroke="#c4c4f4" stroke-width="0.6"/>
<rect x="277" y="493.4" width="29.5" height="92.8" fill="#ffbcbc"/><rect x="178.9" y="493.6" width="2.5" height="3.05" fill="#ff1010"/><rect x="178.9" y="497.04" width="2.5" height="3.05" fill="#ff1010"/><rect x="178.9" y="500.48" width="2.5" height="3.05" fill="#ff1010"/><rect x="178.9" y="503.92" width="2.5" height="3.05" fill="#ff1010"/><rect x="178.9" y="507.36" width="2.5" height="3.05" fill="#ff1010"/><rect x="178.9" y="510.8" width="2.5" height="3.05" fill="#ff1010"/><rect x="178.9" y="514.24" width="2.5" height="3.05" fill="#ff1010"/><rect x="178.9" y="517.68" width="2.5" height="3.05" fill="#ff1010"/><rect x="178.9" y="521.12" width="2.5" height="3.05" fill="#ff1010"/><rect x="178.9" y="524.56" width="2.5" height="3.05" fill="#ff1010"/><rect x="178.9" y="528" width="2.5" height="3.05" fill="#ff1010"/><rect x="178.9" y="531.44" width="2.5" height="3.05" fill="#ff1010"/><rect x="178.9" y="534.88" width="2.5" height="3.05" fill="#ff1010"/><rect x="178.9" y="538.32" width="2.5" height="3.05" fill="#ff1010"/><rect x="178.9" y="541.76" width="2.5" height="3.05" fill="#ff1010"/><rect x="178.9" y="545.2" width="2.5" height="3.05" fill="#ff1010"/><rect x="178.9" y="548.64" width="2.5" height="3.05" fill="#ff1010"/><rect x="178.9" y="552.08" width="2.5" height="3.05" fill="#ff1010"/><rect x="178.9" y="555.52" width="2.5" height="3.05" fill="#ff1010"/><rect x="178.9" y="558.96" width="2.5" height="3.05" fill="#ff1010"/><rect x="178.9" y="562.4" width="2.5" height="3.05" fill="#ff1010"/><rect x="178.9" y="565.84" width="2.5" height="3.05" fill="#ff1010"/><rect x="178.9" y="569.28" width="2.5" height="3.05" fill="#ff1010"/><rect x="178.9" y="572.72" width="2.5" height="3.05" fill="#ff1010"/><rect x="178.9" y="576.16" width="2.5" height="3.05" fill="#ff1010"/><rect x="178.9" y="579.6" width="2.5" height="3.05" fill="#ff1010"/><rect x="178.9" y="583.04" width="2.5" height="3.05" fill="#ff1010"/><rect x="227" y="493.6" width="2.5" height="3.05" fill="#ff1010"/><rect x="227" y="497.04" width="2.5" height="3.05" fill="#ff1010"/><rect x="227" y="500.48" width="2.5" height="3.05" fill="#ff1010"/><rect x="227" y="503.92" width="2.5" height="3.05" fill="#ff1010"/><rect x="227" y="507.36" width="2.5" height="3.05" fill="#ff1010"/><rect x="227" y="510.8" width="2.5" height="3.05" fill="#ff1010"/><rect x="227" y="514.24" width="2.5" height="3.05" fill="#ff1010"/><rect x="227" y="517.68" width="2.5" height="3.05" fill="#ff1010"/><rect x="227" y="521.12" width="2.5" height="3.05" fill="#ff1010"/><rect x="227" y="524.56" width="2.5" height="3.05" fill="#ff1010"/><rect x="227" y="528" width="2.5" height="3.05" fill="#ff1010"/><rect x="227" y="531.44" width="2.5" height="3.05" fill="#ff1010"/><rect x="227" y="534.88" width="2.5" height="3.05" fill="#ff1010"/><rect x="227" y="538.32" width="2.5" height="3.05" fill="#ff1010"/><rect x="227" y="541.76" width="2.5" height="3.05" fill="#ff1010"/><rect x="227" y="545.2" width="2.5" height="3.05" fill="#ff1010"/><rect x="227" y="548.64" width="2.5" height="3.05" fill="#ff1010"/><rect x="227" y="552.08" width="2.5" height="3.05" fill="#ff1010"/><rect x="227" y="555.52" width="2.5" height="3.05" fill="#ff1010"/><rect x="227" y="558.96" width="2.5" height="3.05" fill="#ff1010"/><rect x="227" y="562.4" width="2.5" height="3.05" fill="#ff1010"/><rect x="227" y="565.84" width="2.5" height="3.05" fill="#ff1010"/><rect x="227" y="569.28" width="2.5" height="3.05" fill="#ff1010"/><rect x="227" y="572.72" width="2.5" height="3.05" fill="#ff1010"/><rect x="227" y="576.16" width="2.5" height="3.05" fill="#ff1010"/><rect x="227" y="579.6" width="2.5" height="3.05" fill="#ff1010"/><rect x="227" y="583.04" width="2.5" height="3.05" fill="#ff1010"/><rect x="238.5" y="493.6" width="2.4" height="3.05" fill="#ff1010"/><rect x="238.5" y="497.04" width="2.4" height="3.05" fill="#ff1010"/><rect x="238.5" y="500.48" width="2.4" height="3.05" fill="#ff1010"/><rect x="238.5" y="503.92" width="2.4" height="3.05" fill="#ff1010"/><rect x="238.5" y="507.36" width="2.4" height="3.05" fill="#ff1010"/><rect x="238.5" y="510.8" width="2.4" height="3.05" fill="#ff1010"/><rect x="238.5" y="514.24" width="2.4" height="3.05" fill="#ff1010"/><rect x="238.5" y="517.68" width="2.4" height="3.05" fill="#ff1010"/><rect x="238.5" y="521.12" width="2.4" height="3.05" fill="#ff1010"/><rect x="238.5" y="524.56" width="2.4" height="3.05" fill="#ff1010"/><rect x="238.5" y="528" width="2.4" height="3.05" fill="#ff1010"/><rect x="238.5" y="531.44" width="2.4" height="3.05" fill="#ff1010"/><rect x="238.5" y="534.88" width="2.4" height="3.05" fill="#ff1010"/><rect x="238.5" y="538.32" width="2.4" height="3.05" fill="#ff1010"/><rect x="238.5" y="541.76" width="2.4" height="3.05" fill="#ff1010"/><rect x="238.5" y="545.2" width="2.4" height="3.05" fill="#ff1010"/><rect x="238.5" y="548.64" width="2.4" height="3.05" fill="#ff1010"/><rect x="238.5" y="552.08" width="2.4" height="3.05" fill="#ff1010"/><rect x="238.5" y="555.52" width="2.4" height="3.05" fill="#ff1010"/><rect x="238.5" y="558.96" width="2.4" height="3.05" fill="#ff1010"/><rect x="238.5" y="562.4" width="2.4" height="3.05" fill="#ff1010"/><rect x="238.5" y="565.84" width="2.4" height="3.05" fill="#ff1010"/><rect x="238.5" y="569.28" width="2.4" height="3.05" fill="#ff1010"/><rect x="238.5" y="572.72" width="2.4" height="3.05" fill="#ff1010"/><rect x="238.5" y="576.16" width="2.4" height="3.05" fill="#ff1010"/><rect x="238.5" y="579.6" width="2.4" height="3.05" fill="#ff1010"/><rect x="238.5" y="583.04" width="2.4" height="3.05" fill="#ff1010"/><rect x="250.2" y="493.6" width="2.5" height="3.05" fill="#ff1010"/><rect x="250.2" y="497.04" width="2.5" height="3.05" fill="#ff1010"/><rect x="250.2" y="500.48" width="2.5" height="3.05" fill="#ff1010"/><rect x="250.2" y="503.92" width="2.5" height="3.05" fill="#ff1010"/><rect x="250.2" y="507.36" width="2.5" height="3.05" fill="#ff1010"/><rect x="250.2" y="510.8" width="2.5" height="3.05" fill="#ff1010"/><rect x="250.2" y="514.24" width="2.5" height="3.05" fill="#ff1010"/><rect x="250.2" y="517.68" width="2.5" height="3.05" fill="#ff1010"/><rect x="250.2" y="521.12" width="2.5" height="3.05" fill="#ff1010"/><rect x="250.2" y="524.56" width="2.5" height="3.05" fill="#ff1010"/><rect x="250.2" y="528" width="2.5" height="3.05" fill="#ff1010"/><rect x="250.2" y="531.44" width="2.5" height="3.05" fill="#ff1010"/><rect x="250.2" y="534.88" width="2.5" height="3.05" fill="#ff1010"/><rect x="250.2" y="538.32" width="2.5" height="3.05" fill="#ff1010"/><rect x="250.2" y="541.76" width="2.5" height="3.05" fill="#ff1010"/><rect x="250.2" y="545.2" width="2.5" height="3.05" fill="#ff1010"/><rect x="250.2" y="548.64" width="2.5" height="3.05" fill="#ff1010"/><rect x="250.2" y="552.08" width="2.5" height="3.05" fill="#ff1010"/><rect x="250.2" y="555.52" width="2.5" height="3.05" fill="#ff1010"/><rect x="250.2" y="558.96" width="2.5" height="3.05" fill="#ff1010"/><rect x="250.2" y="562.4" width="2.5" height="3.05" fill="#ff1010"/><rect x="250.2" y="565.84" width="2.5" height="3.05" fill="#ff1010"/><rect x="250.2" y="569.28" width="2.5" height="3.05" fill="#ff1010"/><rect x="250.2" y="572.72" width="2.5" height="3.05" fill="#ff1010"/><rect x="250.2" y="576.16" width="2.5" height="3.05" fill="#ff1010"/><rect x="250.2" y="579.6" width="2.5" height="3.05" fill="#ff1010"/><rect x="250.2" y="583.04" width="2.5" height="3.05" fill="#ff1010"/><rect x="261.7" y="493.6" width="2.5" height="3.05" fill="#ff1010"/><rect x="261.7" y="497.04" width="2.5" height="3.05" fill="#ff1010"/><rect x="261.7" y="500.48" width="2.5" height="3.05" fill="#ff1010"/><rect x="261.7" y="503.92" width="2.5" height="3.05" fill="#ff1010"/><rect x="261.7" y="507.36" width="2.5" height="3.05" fill="#ff1010"/><rect x="261.7" y="510.8" width="2.5" height="3.05" fill="#ff1010"/><rect x="261.7" y="514.24" width="2.5" height="3.05" fill="#ff1010"/><rect x="261.7" y="517.68" width="2.5" height="3.05" fill="#ff1010"/><rect x="261.7" y="521.12" width="2.5" height="3.05" fill="#ff1010"/><rect x="261.7" y="524.56" width="2.5" height="3.05" fill="#ff1010"/><rect x="261.7" y="528" width="2.5" height="3.05" fill="#ff1010"/><rect x="261.7" y="531.44" width="2.5" height="3.05" fill="#ff1010"/><rect x="261.7" y="534.88" width="2.5" height="3.05" fill="#ff1010"/><rect x="261.7" y="538.32" width="2.5" height="3.05" fill="#ff1010"/><rect x="261.7" y="541.76" width="2.5" height="3.05" fill="#ff1010"/><rect x="261.7" y="545.2" width="2.5" height="3.05" fill="#ff1010"/><rect x="261.7" y="548.64" width="2.5" height="3.05" fill="#ff1010"/><rect x="261.7" y="552.08" width="2.5" height="3.05" fill="#ff1010"/><rect x="261.7" y="555.52" width="2.5" height="3.05" fill="#ff1010"/><rect x="261.7" y="558.96" width="2.5" height="3.05" fill="#ff1010"/><rect x="261.7" y="562.4" width="2.5" height="3.05" fill="#ff1010"/><rect x="261.7" y="565.84" width="2.5" height="3.05" fill="#ff1010"/><rect x="261.7" y="569.28" width="2.5" height="3.05" fill="#ff1010"/><rect x="261.7" y="572.72" width="2.5" height="3.05" fill="#ff1010"/><rect x="261.7" y="576.16" width="2.5" height="3.05" fill="#ff1010"/><rect x="261.7" y="579.6" width="2.5" height="3.05" fill="#ff1010"/><rect x="261.7" y="583.04" width="2.5" height="3.05" fill="#ff1010"/><rect x="277.3" y="493.6" width="3.6" height="3.05" fill="#ff1010"/><rect x="277.3" y="497.04" width="3.6" height="3.05" fill="#ff1010"/><rect x="277.3" y="500.48" width="3.6" height="3.05" fill="#ff1010"/><rect x="277.3" y="503.92" width="3.6" height="3.05" fill="#ff1010"/><rect x="277.3" y="507.36" width="3.6" height="3.05" fill="#ff1010"/><rect x="277.3" y="510.8" width="3.6" height="3.05" fill="#ff1010"/><rect x="277.3" y="514.24" width="3.6" height="3.05" fill="#ff1010"/><rect x="277.3" y="517.68" width="3.6" height="3.05" fill="#ff1010"/><rect x="277.3" y="521.12" width="3.6" height="3.05" fill="#ff1010"/><rect x="277.3" y="524.56" width="3.6" height="3.05" fill="#ff1010"/><rect x="277.3" y="528" width="3.6" height="3.05" fill="#ff1010"/><rect x="277.3" y="531.44" width="3.6" height="3.05" fill="#ff1010"/><rect x="277.3" y="534.88" width="3.6" height="3.05" fill="#ff1010"/><rect x="277.3" y="538.32" width="3.6" height="3.05" fill="#ff1010"/><rect x="277.3" y="541.76" width="3.6" height="3.05" fill="#ff1010"/><rect x="277.3" y="545.2" width="3.6" height="3.05" fill="#ff1010"/><rect x="277.3" y="548.64" width="3.6" height="3.05" fill="#ff1010"/><rect x="277.3" y="552.08" width="3.6" height="3.05" fill="#ff1010"/><rect x="277.3" y="555.52" width="3.6" height="3.05" fill="#ff1010"/><rect x="277.3" y="558.96" width="3.6" height="3.05" fill="#ff1010"/><rect x="277.3" y="562.4" width="3.6" height="3.05" fill="#ff1010"/><rect x="277.3" y="565.84" width="3.6" height="3.05" fill="#ff1010"/><rect x="277.3" y="569.28" width="3.6" height="3.05" fill="#ff1010"/><rect x="277.3" y="572.72" width="3.6" height="3.05" fill="#ff1010"/><rect x="277.3" y="576.16" width="3.6" height="3.05" fill="#ff1010"/><rect x="277.3" y="579.6" width="3.6" height="3.05" fill="#ff1010"/><rect x="277.3" y="583.04" width="3.6" height="3.05" fill="#ff1010"/><rect x="283.1" y="493.6" width="1.8" height="3.05" fill="#ff1010"/><rect x="283.1" y="497.04" width="1.8" height="3.05" fill="#ff1010"/><rect x="283.1" y="500.48" width="1.8" height="3.05" fill="#ff1010"/><rect x="283.1" y="503.92" width="1.8" height="3.05" fill="#ff1010"/><rect x="283.1" y="507.36" width="1.8" height="3.05" fill="#ff1010"/><rect x="283.1" y="510.8" width="1.8" height="3.05" fill="#ff1010"/><rect x="283.1" y="514.24" width="1.8" height="3.05" fill="#ff1010"/><rect x="283.1" y="517.68" width="1.8" height="3.05" fill="#ff1010"/><rect x="283.1" y="521.12" width="1.8" height="3.05" fill="#ff1010"/><rect x="283.1" y="524.56" width="1.8" height="3.05" fill="#ff1010"/><rect x="283.1" y="528" width="1.8" height="3.05" fill="#ff1010"/><rect x="283.1" y="531.44" width="1.8" height="3.05" fill="#ff1010"/><rect x="283.1" y="534.88" width="1.8" height="3.05" fill="#ff1010"/><rect x="283.1" y="538.32" width="1.8" height="3.05" fill="#ff1010"/><rect x="283.1" y="541.76" width="1.8" height="3.05" fill="#ff1010"/><rect x="283.1" y="545.2" width="1.8" height="3.05" fill="#ff1010"/><rect x="283.1" y="548.64" width="1.8" height="3.05" fill="#ff1010"/><rect x="283.1" y="552.08" width="1.8" height="3.05" fill="#ff1010"/><rect x="283.1" y="555.52" width="1.8" height="3.05" fill="#ff1010"/><rect x="283.1" y="558.96" width="1.8" height="3.05" fill="#ff1010"/><rect x="283.1" y="562.4" width="1.8" height="3.05" fill="#ff1010"/><rect x="283.1" y="565.84" width="1.8" height="3.05" fill="#ff1010"/><rect x="283.1" y="569.28" width="1.8" height="3.05" fill="#ff1010"/><rect x="283.1" y="572.72" width="1.8" height="3.05" fill="#ff1010"/><rect x="283.1" y="576.16" width="1.8" height="3.05" fill="#ff1010"/><rect x="283.1" y="579.6" width="1.8" height="3.05" fill="#ff1010"/><rect x="283.1" y="583.04" width="1.8" height="3.05" fill="#ff1010"/><rect x="287" y="493.6" width="1.9" height="3.05" fill="#ff1010"/><rect x="287" y="497.04" width="1.9" height="3.05" fill="#ff1010"/><rect x="287" y="500.48" width="1.9" height="3.05" fill="#ff1010"/><rect x="287" y="503.92" width="1.9" height="3.05" fill="#ff1010"/><rect x="287" y="507.36" width="1.9" height="3.05" fill="#ff1010"/><rect x="287" y="510.8" width="1.9" height="3.05" fill="#ff1010"/><rect x="287" y="514.24" width="1.9" height="3.05" fill="#ff1010"/><rect x="287" y="517.68" width="1.9" height="3.05" fill="#ff1010"/><rect x="287" y="521.12" width="1.9" height="3.05" fill="#ff1010"/><rect x="287" y="524.56" width="1.9" height="3.05" fill="#ff1010"/><rect x="287" y="528" width="1.9" height="3.05" fill="#ff1010"/><rect x="287" y="531.44" width="1.9" height="3.05" fill="#ff1010"/><rect x="287" y="534.88" width="1.9" height="3.05" fill="#ff1010"/><rect x="287" y="538.32" width="1.9" height="3.05" fill="#ff1010"/><rect x="287" y="541.76" width="1.9" height="3.05" fill="#ff1010"/><rect x="287" y="545.2" width="1.9" height="3.05" fill="#ff1010"/><rect x="287" y="548.64" width="1.9" height="3.05" fill="#ff1010"/><rect x="287" y="552.08" width="1.9" height="3.05" fill="#ff1010"/><rect x="287" y="555.52" width="1.9" height="3.05" fill="#ff1010"/><rect x="287" y="558.96" width="1.9" height="3.05" fill="#ff1010"/><rect x="287" y="562.4" width="1.9" height="3.05" fill="#ff1010"/><rect x="287" y="565.84" width="1.9" height="3.05" fill="#ff1010"/><rect x="287" y="569.28" width="1.9" height="3.05" fill="#ff1010"/><rect x="287" y="572.72" width="1.9" height="3.05" fill="#ff1010"/><rect x="287" y="576.16" width="1.9" height="3.05" fill="#ff1010"/><rect x="287" y="579.6" width="1.9" height="3.05" fill="#ff1010"/><rect x="287" y="583.04" width="1.9" height="3.05" fill="#ff1010"/><rect x="290.8" y="493.6" width="1.8" height="3.05" fill="#ff1010"/><rect x="290.8" y="497.04" width="1.8" height="3.05" fill="#ff1010"/><rect x="290.8" y="500.48" width="1.8" height="3.05" fill="#ff1010"/><rect x="290.8" y="503.92" width="1.8" height="3.05" fill="#ff1010"/><rect x="290.8" y="507.36" width="1.8" height="3.05" fill="#ff1010"/><rect x="290.8" y="510.8" width="1.8" height="3.05" fill="#ff1010"/><rect x="290.8" y="514.24" width="1.8" height="3.05" fill="#ff1010"/><rect x="290.8" y="517.68" width="1.8" height="3.05" fill="#ff1010"/><rect x="290.8" y="521.12" width="1.8" height="3.05" fill="#ff1010"/><rect x="290.8" y="524.56" width="1.8" height="3.05" fill="#ff1010"/><rect x="290.8" y="528" width="1.8" height="3.05" fill="#ff1010"/><rect x="290.8" y="531.44" width="1.8" height="3.05" fill="#ff1010"/><rect x="290.8" y="534.88" width="1.8" height="3.05" fill="#ff1010"/><rect x="290.8" y="538.32" width="1.8" height="3.05" fill="#ff1010"/><rect x="290.8" y="541.76" width="1.8" height="3.05" fill="#ff1010"/><rect x="290.8" y="545.2" width="1.8" height="3.05" fill="#ff1010"/><rect x="290.8" y="548.64" width="1.8" height="3.05" fill="#ff1010"/><rect x="290.8" y="552.08" width="1.8" height="3.05" fill="#ff1010"/><rect x="290.8" y="555.52" width="1.8" height="3.05" fill="#ff1010"/><rect x="290.8" y="558.96" width="1.8" height="3.05" fill="#ff1010"/><rect x="290.8" y="562.4" width="1.8" height="3.05" fill="#ff1010"/><rect x="290.8" y="565.84" width="1.8" height="3.05" fill="#ff1010"/><rect x="290.8" y="569.28" width="1.8" height="3.05" fill="#ff1010"/><rect x="290.8" y="572.72" width="1.8" height="3.05" fill="#ff1010"/><rect x="290.8" y="576.16" width="1.8" height="3.05" fill="#ff1010"/><rect x="290.8" y="579.6" width="1.8" height="3.05" fill="#ff1010"/><rect x="290.8" y="583.04" width="1.8" height="3.05" fill="#ff1010"/><rect x="294.6" y="493.6" width="1.9" height="3.05" fill="#ff1010"/><rect x="294.6" y="497.04" width="1.9" height="3.05" fill="#ff1010"/><rect x="294.6" y="500.48" width="1.9" height="3.05" fill="#ff1010"/><rect x="294.6" y="503.92" width="1.9" height="3.05" fill="#ff1010"/><rect x="294.6" y="507.36" width="1.9" height="3.05" fill="#ff1010"/><rect x="294.6" y="510.8" width="1.9" height="3.05" fill="#ff1010"/><rect x="294.6" y="514.24" width="1.9" height="3.05" fill="#ff1010"/><rect x="294.6" y="517.68" width="1.9" height="3.05" fill="#ff1010"/><rect x="294.6" y="521.12" width="1.9" height="3.05" fill="#ff1010"/><rect x="294.6" y="524.56" width="1.9" height="3.05" fill="#ff1010"/><rect x="294.6" y="528" width="1.9" height="3.05" fill="#ff1010"/><rect x="294.6" y="531.44" width="1.9" height="3.05" fill="#ff1010"/><rect x="294.6" y="534.88" width="1.9" height="3.05" fill="#ff1010"/><rect x="294.6" y="538.32" width="1.9" height="3.05" fill="#ff1010"/><rect x="294.6" y="541.76" width="1.9" height="3.05" fill="#ff1010"/><rect x="294.6" y="545.2" width="1.9" height="3.05" fill="#ff1010"/><rect x="294.6" y="548.64" width="1.9" height="3.05" fill="#ff1010"/><rect x="294.6" y="552.08" width="1.9" height="3.05" fill="#ff1010"/><rect x="294.6" y="555.52" width="1.9" height="3.05" fill="#ff1010"/><rect x="294.6" y="558.96" width="1.9" height="3.05" fill="#ff1010"/><rect x="294.6" y="562.4" width="1.9" height="3.05" fill="#ff1010"/><rect x="294.6" y="565.84" width="1.9" height="3.05" fill="#ff1010"/><rect x="294.6" y="569.28" width="1.9" height="3.05" fill="#ff1010"/><rect x="294.6" y="572.72" width="1.9" height="3.05" fill="#ff1010"/><rect x="294.6" y="576.16" width="1.9" height="3.05" fill="#ff1010"/><rect x="294.6" y="579.6" width="1.9" height="3.05" fill="#ff1010"/><rect x="294.6" y="583.04" width="1.9" height="3.05" fill="#ff1010"/><rect x="298.3" y="493.6" width="1.9" height="3.05" fill="#ff1010"/><rect x="298.3" y="497.04" width="1.9" height="3.05" fill="#ff1010"/><rect x="298.3" y="500.48" width="1.9" height="3.05" fill="#ff1010"/><rect x="298.3" y="503.92" width="1.9" height="3.05" fill="#ff1010"/><rect x="298.3" y="507.36" width="1.9" height="3.05" fill="#ff1010"/><rect x="298.3" y="510.8" width="1.9" height="3.05" fill="#ff1010"/><rect x="298.3" y="514.24" width="1.9" height="3.05" fill="#ff1010"/><rect x="298.3" y="517.68" width="1.9" height="3.05" fill="#ff1010"/><rect x="298.3" y="521.12" width="1.9" height="3.05" fill="#ff1010"/><rect x="298.3" y="524.56" width="1.9" height="3.05" fill="#ff1010"/><rect x="298.3" y="528" width="1.9" height="3.05" fill="#ff1010"/><rect x="298.3" y="531.44" width="1.9" height="3.05" fill="#ff1010"/><rect x="298.3" y="534.88" width="1.9" height="3.05" fill="#ff1010"/><rect x="298.3" y="538.32" width="1.9" height="3.05" fill="#ff1010"/><rect x="298.3" y="541.76" width="1.9" height="3.05" fill="#ff1010"/><rect x="298.3" y="545.2" width="1.9" height="3.05" fill="#ff1010"/><rect x="298.3" y="548.64" width="1.9" height="3.05" fill="#ff1010"/><rect x="298.3" y="552.08" width="1.9" height="3.05" fill="#ff1010"/><rect x="298.3" y="555.52" width="1.9" height="3.05" fill="#ff1010"/><rect x="298.3" y="558.96" width="1.9" height="3.05" fill="#ff1010"/><rect x="298.3" y="562.4" width="1.9" height="3.05" fill="#ff1010"/><rect x="298.3" y="565.84" width="1.9" height="3.05" fill="#ff1010"/><rect x="298.3" y="569.28" width="1.9" height="3.05" fill="#ff1010"/><rect x="298.3" y="572.72" width="1.9" height="3.05" fill="#ff1010"/><rect x="298.3" y="576.16" width="1.9" height="3.05" fill="#ff1010"/><rect x="298.3" y="579.6" width="1.9" height="3.05" fill="#ff1010"/><rect x="298.3" y="583.04" width="1.9" height="3.05" fill="#ff1010"/><rect x="304.2" y="493.6" width="1.8" height="3.05" fill="#ff1010"/><rect x="304.2" y="497.04" width="1.8" height="3.05" fill="#ff1010"/><rect x="304.2" y="500.48" width="1.8" height="3.05" fill="#ff1010"/><rect x="304.2" y="503.92" width="1.8" height="3.05" fill="#ff1010"/><rect x="304.2" y="507.36" width="1.8" height="3.05" fill="#ff1010"/><rect x="304.2" y="510.8" width="1.8" height="3.05" fill="#ff1010"/><rect x="304.2" y="514.24" width="1.8" height="3.05" fill="#ff1010"/><rect x="304.2" y="517.68" width="1.8" height="3.05" fill="#ff1010"/><rect x="304.2" y="521.12" width="1.8" height="3.05" fill="#ff1010"/><rect x="304.2" y="524.56" width="1.8" height="3.05" fill="#ff1010"/><rect x="304.2" y="528" width="1.8" height="3.05" fill="#ff1010"/><rect x="304.2" y="531.44" width="1.8" height="3.05" fill="#ff1010"/><rect x="304.2" y="534.88" width="1.8" height="3.05" fill="#ff1010"/><rect x="304.2" y="538.32" width="1.8" height="3.05" fill="#ff1010"/><rect x="304.2" y="541.76" width="1.8" height="3.05" fill="#ff1010"/><rect x="304.2" y="545.2" width="1.8" height="3.05" fill="#ff1010"/><rect x="304.2" y="548.64" width="1.8" height="3.05" fill="#ff1010"/><rect x="304.2" y="552.08" width="1.8" height="3.05" fill="#ff1010"/><rect x="304.2" y="555.52" width="1.8" height="3.05" fill="#ff1010"/><rect x="304.2" y="558.96" width="1.8" height="3.05" fill="#ff1010"/><rect x="304.2" y="562.4" width="1.8" height="3.05" fill="#ff1010"/><rect x="304.2" y="565.84" width="1.8" height="3.05" fill="#ff1010"/><rect x="304.2" y="569.28" width="1.8" height="3.05" fill="#ff1010"/><rect x="304.2" y="572.72" width="1.8" height="3.05" fill="#ff1010"/><rect x="304.2" y="576.16" width="1.8" height="3.05" fill="#ff1010"/><rect x="304.2" y="579.6" width="1.8" height="3.05" fill="#ff1010"/><rect x="304.2" y="583.04" width="1.8" height="3.05" fill="#ff1010"/>
<path d="M33 495.3H147.6 M353.2 495.3H355.25 M355.25 495.3H357.3 M357.3 495.3H359.35 M359.35 495.3H361.4 M361.4 495.3H363.45 M363.45 495.3H365.5 M365.5 495.3H367.55 M367.55 495.3H369.6 M369.6 495.3H371.65 M371.65 495.3H373.7 M516.2 495.3H528.8 M33 498.74H147.6 M516.2 498.74H528.8 M33 502.18H147.8 M349.3 502.18H351.35 M351.35 502.18H353.4 M353.4 502.18H355.45 M355.45 502.18H357.5 M357.5 502.18H359.55 M359.55 502.18H361.6 M361.6 502.18H363.65 M363.65 502.18H365.7 M365.7 502.18H367.75 M367.75 502.18H369.8 M369.8 502.18H371.85 M371.85 502.18H373.9 M516.2 502.18H528.8 M33 505.62H149.6 M347 505.62H349.05 M349.05 505.62H351.1 M351.1 505.62H353.15 M353.15 505.62H355.2 M355.2 505.62H357.25 M357.25 505.62H359.3 M359.3 505.62H361.35 M361.35 505.62H363.4 M363.4 505.62H365.45 M365.45 505.62H367.5 M367.5 505.62H369.55 M369.55 505.62H371.6 M371.6 505.62H373.65 M516.2 505.62H528.8 M33 509.06H149.6 M347 509.06H349.05 M349.05 509.06H351.1 M351.1 509.06H353.15 M353.15 509.06H355.2 M355.2 509.06H357.25 M357.25 509.06H359.3 M359.3 509.06H361.35 M361.35 509.06H363.4 M363.4 509.06H365.45 M365.45 509.06H367.5 M367.5 509.06H369.55 M369.55 509.06H371.6 M371.6 509.06H373.65 M516.2 509.06H528.8 M33 512.5H153.4 M346.7 512.5H348.75 M348.75 512.5H350.8 M350.8 512.5H352.85 M352.85 512.5H354.9 M354.9 512.5H356.95 M356.95 512.5H359 M359 512.5H361.05 M361.05 512.5H363.1 M363.1 512.5H365.15 M365.15 512.5H367.2 M367.2 512.5H369.25 M369.25 512.5H371.3 M371.3 512.5H373.35 M516.2 512.5H528.8 M33 515.94H153.4 M346.7 515.94H348.75 M348.75 515.94H350.8 M350.8 515.94H352.85 M352.85 515.94H354.9 M354.9 515.94H356.95 M356.95 515.94H359 M359 515.94H361.05 M361.05 515.94H363.1 M363.1 515.94H365.15 M365.15 515.94H367.2 M367.2 515.94H369.25 M369.25 515.94H371.3 M371.3 515.94H373.35 M516.2 515.94H528.8 M33 519.38H153.4 M346.7 519.38H348.75 M348.75 519.38H350.8 M350.8 519.38H352.85 M352.85 519.38H354.9 M354.9 519.38H356.95 M356.95 519.38H359 M359 519.38H361.05 M361.05 519.38H363.1 M363.1 519.38H365.15 M365.15 519.38H367.2 M367.2 519.38H369.25 M369.25 519.38H371.3 M371.3 519.38H373.35 M516.2 519.38H528.8 M33 522.82H153.4 M346.7 522.82H348.75 M348.75 522.82H350.8 M350.8 522.82H352.85 M352.85 522.82H354.9 M354.9 522.82H356.95 M356.95 522.82H359 M359 522.82H361.05 M361.05 522.82H363.1 M363.1 522.82H365.15 M365.15 522.82H367.2 M367.2 522.82H369.25 M369.25 522.82H371.3 M371.3 522.82H373.35 M385.65 522.82H387.7 M387.7 522.82H389.75 M389.75 522.82H391.8 M391.8 522.82H393.85 M393.85 522.82H395.9 M395.9 522.82H397.95 M397.95 522.82H400 M400 522.82H402.05 M402.05 522.82H404.1 M404.1 522.82H406.15 M406.15 522.82H408.2 M408.2 522.82H410.25 M410.25 522.82H412.3 M412.3 522.82H414.35 M414.35 522.82H416.4 M416.4 522.82H418.45 M418.45 522.82H420.5 M420.5 522.82H422.55 M422.55 522.82H424.6 M424.6 522.82H426.65 M426.65 522.82H428.7 M428.7 522.82H430.75 M430.75 522.82H432.8 M432.8 522.82H434.85 M434.85 522.82H436.9 M436.9 522.82H438.95 M438.95 522.82H441 M441 522.82H443.05 M443.05 522.82H445.1 M445.1 522.82H447.15 M447.15 522.82H449.2 M449.2 522.82H451.25 M451.25 522.82H453.3 M453.3 522.82H455.35 M455.35 522.82H457.4 M457.4 522.82H459.45 M459.45 522.82H461.5 M461.5 522.82H463.55 M463.55 522.82H465.6 M465.6 522.82H467.65 M467.65 522.82H469.7 M469.7 522.82H471.75 M471.75 522.82H473.8 M473.8 522.82H475.85 M475.85 522.82H477.9 M477.9 522.82H479.95 M479.95 522.82H482 M482 522.82H484.05 M484.05 522.82H486.1 M486.1 522.82H488.15 M488.15 522.82H490.2 M490.2 522.82H492.25 M492.25 522.82H494.3 M494.3 522.82H496.35 M496.35 522.82H498.4 M498.4 522.82H500.45 M500.45 522.82H502.5 M502.5 522.82H504.55 M504.55 522.82H506.6 M506.6 522.82H508.65 M508.65 522.82H510.7 M510.7 522.82H512.75 M512.75 522.82H514.8 M516.2 522.82H528.8 M33 526.26H147.6 M349.1 526.26H351.15 M351.15 526.26H353.2 M353.2 526.26H355.25 M355.25 526.26H357.3 M357.3 526.26H359.35 M359.35 526.26H361.4 M361.4 526.26H363.45 M363.45 526.26H365.5 M365.5 526.26H367.55 M367.55 526.26H369.6 M369.6 526.26H371.65 M371.65 526.26H373.7 M516.2 526.26H528.8 M33 529.7H147.6 M347.05 529.7H349.1 M349.1 529.7H351.15 M351.15 529.7H353.2 M353.2 529.7H355.25 M355.25 529.7H357.3 M357.3 529.7H359.35 M359.35 529.7H361.4 M361.4 529.7H363.45 M363.45 529.7H365.5 M365.5 529.7H367.55 M367.55 529.7H369.6 M369.6 529.7H371.65 M371.65 529.7H373.7 M516.2 529.7H528.8 M33 533.14H153.4 M516.2 533.14H528.8 M33 536.58H153.4 M516.2 536.58H528.8 M33 540.02H153.4 M346.7 540.02H348.75 M348.75 540.02H350.8 M350.8 540.02H352.85 M352.85 540.02H354.9 M354.9 540.02H356.95 M356.95 540.02H359 M359 540.02H361.05 M361.05 540.02H363.1 M363.1 540.02H365.15 M365.15 540.02H367.2 M367.2 540.02H369.25 M369.25 540.02H371.3 M371.3 540.02H373.35 M516.2 540.02H528.8 M33 543.46H149.6 M347 543.46H349.05 M349.05 543.46H351.1 M351.1 543.46H353.15 M353.15 543.46H355.2 M355.2 543.46H357.25 M357.25 543.46H359.3 M359.3 543.46H361.35 M361.35 543.46H363.4 M363.4 543.46H365.45 M365.45 543.46H367.5 M367.5 543.46H369.55 M369.55 543.46H371.6 M371.6 543.46H373.65 M516.2 543.46H528.8 M33 546.9H149.6 M516.2 546.9H528.8 M33 550.34H149.6 M347 550.34H349.05 M349.05 550.34H351.1 M351.1 550.34H353.15 M353.15 550.34H355.2 M355.2 550.34H357.25 M357.25 550.34H359.3 M359.3 550.34H361.35 M361.35 550.34H363.4 M363.4 550.34H365.45 M365.45 550.34H367.5 M367.5 550.34H369.55 M369.55 550.34H371.6 M371.6 550.34H373.65 M516.2 550.34H528.8 M33 553.78H149.6 M347 553.78H349.05 M349.05 553.78H351.1 M351.1 553.78H353.15 M353.15 553.78H355.2 M355.2 553.78H357.25 M357.25 553.78H359.3 M359.3 553.78H361.35 M361.35 553.78H363.4 M363.4 553.78H365.45 M365.45 553.78H367.5 M367.5 553.78H369.55 M369.55 553.78H371.6 M371.6 553.78H373.65 M516.2 553.78H528.8 M352.8 557.22H354.85 M354.85 557.22H356.9 M356.9 557.22H358.95 M358.95 557.22H361 M361 557.22H363.05 M363.05 557.22H365.1 M365.1 557.22H367.15 M367.15 557.22H369.2 M369.2 557.22H371.25 M371.25 557.22H373.3 M516.2 557.22H528.8 M33 560.66H153.4 M346.7 560.66H348.75 M348.75 560.66H350.8 M350.8 560.66H352.85 M352.85 560.66H354.9 M354.9 560.66H356.95 M356.95 560.66H359 M359 560.66H361.05 M361.05 560.66H363.1 M363.1 560.66H365.15 M365.15 560.66H367.2 M367.2 560.66H369.25 M369.25 560.66H371.3 M371.3 560.66H373.35 M516.2 560.66H528.8 M33 564.1H153.4 M346.7 564.1H348.75 M348.75 564.1H350.8 M350.8 564.1H352.85 M352.85 564.1H354.9 M354.9 564.1H356.95 M356.95 564.1H359 M359 564.1H361.05 M361.05 564.1H363.1 M363.1 564.1H365.15 M365.15 564.1H367.2 M367.2 564.1H369.25 M369.25 564.1H371.3 M371.3 564.1H373.35 M516.2 564.1H528.8 M33 567.54H104.4 M131.65 567.54H133.7 M133.7 567.54H135.75 M135.75 567.54H137.8 M137.8 567.54H139.85 M139.85 567.54H141.9 M346.9 567.54H348.95 M348.95 567.54H351 M351 567.54H353.05 M353.05 567.54H355.1 M355.1 567.54H357.15 M357.15 567.54H359.2 M359.2 567.54H361.25 M361.25 567.54H363.3 M363.3 567.54H365.35 M365.35 567.54H367.4 M367.4 567.54H369.45 M369.45 567.54H371.5 M371.5 567.54H373.55 M516.2 567.54H528.8 M33 570.98H153.4 M346.7 570.98H348.75 M348.75 570.98H350.8 M350.8 570.98H352.85 M352.85 570.98H354.9 M354.9 570.98H356.95 M356.95 570.98H359 M359 570.98H361.05 M361.05 570.98H363.1 M363.1 570.98H365.15 M365.15 570.98H367.2 M367.2 570.98H369.25 M369.25 570.98H371.3 M371.3 570.98H373.35 M516.2 570.98H528.8 M33 574.42H153.4 M361.05 574.42H363.1 M363.1 574.42H365.15 M365.15 574.42H367.2 M367.2 574.42H369.25 M369.25 574.42H371.3 M371.3 574.42H373.35 M516.2 574.42H528.8 M33 577.86H153.4 M346.7 577.86H348.75 M348.75 577.86H350.8 M350.8 577.86H352.85 M352.85 577.86H354.9 M354.9 577.86H356.95 M356.95 577.86H359 M359 577.86H361.05 M361.05 577.86H363.1 M363.1 577.86H365.15 M365.15 577.86H367.2 M367.2 577.86H369.25 M369.25 577.86H371.3 M371.3 577.86H373.35 M516.2 577.86H528.8 M33 581.3H153.4 M346.7 581.3H348.75 M348.75 581.3H350.8 M350.8 581.3H352.85 M352.85 581.3H354.9 M354.9 581.3H356.95 M356.95 581.3H359 M359 581.3H361.05 M361.05 581.3H363.1 M363.1 581.3H365.15 M365.15 581.3H367.2 M367.2 581.3H369.25 M369.25 581.3H371.3 M371.3 581.3H373.35 M457.4 581.3H459.45 M459.45 581.3H461.5 M461.5 581.3H463.55 M463.55 581.3H465.6 M465.6 581.3H467.65 M467.65 581.3H469.7 M469.7 581.3H471.75 M516.2 581.3H528.8 M33 584.74H153.4 M346.7 584.74H348.75 M348.75 584.74H350.8 M350.8 584.74H352.85 M352.85 584.74H354.9 M354.9 584.74H356.95 M356.95 584.74H359 M359 584.74H361.05 M361.05 584.74H363.1 M363.1 584.74H365.15 M365.15 584.74H367.2 M367.2 584.74H369.25 M369.25 584.74H371.3 M371.3 584.74H373.35 M516.2 584.74H528.8" stroke="#b5b5b5" stroke-width="0.75" stroke-dasharray="0.75 1.3"/>
<defs><filter id="bl" x="0" y="0" width="1" height="1"><feGaussianBlur stdDeviation="0.35"/></filter></defs>
<g filter="url(#bl)"><text y="496.35" font-family="Liberation Sans, sans-serif" font-size="2.8"><tspan x="148.45" fill="#a8a8ae">E</tspan><tspan x="150.5" fill="#a8a8ae">A</tspan><tspan x="152.55" fill="#a8a8ae">K</tspan><tspan x="154.6" fill="#a8a8ae">I</tspan><tspan x="156.65" fill="#a8a8ae">I</tspan><tspan x="158.7" fill="#bdbdcc">F</tspan><tspan x="160.75" fill="#f7b2bc">V</tspan><tspan x="162.8" fill="#f7b2bc">Q</tspan><tspan x="164.85" fill="#f7b2bc">D</tspan><tspan x="166.9" fill="#bdbdcc">T</tspan><tspan x="168.95" fill="#f7b2bc">V</tspan><tspan x="171" fill="#f7b2bc">V</tspan><tspan x="173.05" fill="#bdbdcc">R</tspan><tspan x="175.1" fill="#bdbdcc">A</tspan><tspan x="177.15" fill="#a8a8ae">G</tspan><tspan x="179.2" fill="#ff7070">Q</tspan><tspan x="181.25" fill="#f7b2bc">M</tspan><tspan x="183.3" fill="#bdbdcc">H</tspan><tspan x="185.35" fill="#f7b2bc">M</tspan><tspan x="187.4" fill="#f7b2bc">P</tspan><tspan x="189.45" fill="#f7b2bc">N</tspan><tspan x="191.5" fill="#f7b2bc">C</tspan><tspan x="193.55" fill="#a8a8ae">V</tspan><tspan x="195.6" fill="#bdbdcc">E</tspan><tspan x="197.65" fill="#f7b2bc">P</tspan><tspan x="199.7" fill="#bdbdcc">L</tspan><tspan x="201.75" fill="#bdbdcc">Y</tspan><tspan x="203.8" fill="#bdbdcc">N</tspan><tspan x="205.85" fill="#a8a8ae">D</tspan><tspan x="207.9" fill="#f7b2bc">C</tspan><tspan x="209.95" fill="#bdbdcc">L</tspan><tspan x="212" fill="#bdbdcc">I</tspan><tspan x="214.05" fill="#f7b2bc">P</tspan><tspan x="216.1" fill="#f7b2bc">N</tspan><tspan x="218.15" fill="#f7b2bc">N</tspan><tspan x="220.2" fill="#f7b2bc">K</tspan><tspan x="222.25" fill="#f7b2bc">D</tspan><tspan x="224.3" fill="#f7b2bc">G</tspan><tspan x="226.35" fill="#ff7070">I</tspan><tspan x="228.4" fill="#ff7070">G</tspan><tspan x="230.45" fill="#f7b2bc">R</tspan><tspan x="232.5" fill="#f7b2bc">V</tspan><tspan x="234.55" fill="#bdbdcc">M</tspan><tspan x="236.6" fill="#f7b2bc">C</tspan><tspan x="238.65" fill="#ff7070">C</tspan><tspan x="240.7" fill="#a8a8ae">M</tspan><tspan x="242.75" fill="#f7b2bc">P</tspan><tspan x="244.8" fill="#bdbdcc">H</tspan><tspan x="246.85" fill="#bdbdcc">W</tspan><tspan x="248.9" fill="#f7b2bc">M</tspan><tspan x="250.95" fill="#ff7070">S</tspan><tspan x="253" fill="#a8a8ae">P</tspan><tspan x="255.05" fill="#f7b2bc">R</tspan><tspan x="257.1" fill="#f7b2bc">F</tspan><tspan x="259.15" fill="#f7b2bc">V</tspan><tspan x="261.2" fill="#ff7070">W</tspan><tspan x="263.25" fill="#ff7070">Q</tspan><tspan x="265.3" fill="#f7b2bc">W</tspan><tspan x="267.35" fill="#bdbdcc">I</tspan><tspan x="269.4" fill="#f7b2bc">F</tspan><tspan x="271.45" fill="#bdbdcc">D</tspan><tspan x="273.5" fill="#a8a8ae">E</tspan><tspan x="275.55" fill="#a8a8ae">F</tspan><tspan x="277.6" fill="#ff7070">G</tspan><tspan x="279.65" fill="#ff7070">Q</tspan><tspan x="281.7" fill="#fff2f2">Y</tspan><tspan x="283.75" fill="#ff7070">D</tspan><tspan x="285.8" fill="#fff2f2">P</tspan><tspan x="287.85" fill="#ff7070">P</tspan><tspan x="289.9" fill="#ff7070">Y</tspan><tspan x="291.95" fill="#ff7070">R</tspan><tspan x="294" fill="#ff7070">T</tspan><tspan x="296.05" fill="#fff2f2">K</tspan><tspan x="298.1" fill="#ff7070">V</tspan><tspan x="300.15" fill="#fff2f2">A</tspan><tspan x="302.2" fill="#fff2f2">E</tspan><tspan x="304.25" fill="#ff7070">V</tspan><tspan x="306.3" fill="#a8a8ae">K</tspan><tspan x="308.35" fill="#f7b2bc">M</tspan><tspan x="310.4" fill="#f7b2bc">Q</tspan><tspan x="312.45" fill="#bdbdcc">A</tspan><tspan x="314.5" fill="#bdbdcc">K</tspan><tspan x="316.55" fill="#f7b2bc">G</tspan><tspan x="318.6" fill="#bdbdcc">E</tspan><tspan x="320.65" fill="#a8a8ae">L</tspan><tspan x="322.7" fill="#bdbdcc">T</tspan><tspan x="324.75" fill="#f7b2bc">F</tspan><tspan x="326.8" fill="#bdbdcc">G</tspan><tspan x="328.85" fill="#bdbdcc">T</tspan><tspan x="330.9" fill="#f7b2bc">Y</tspan><tspan x="332.95" fill="#f7b2bc">A</tspan><tspan x="335" fill="#bdbdcc">N</tspan><tspan x="337.05" fill="#f7b2bc">L</tspan><tspan x="339.1" fill="#bdbdcc">I</tspan><tspan x="341.15" fill="#f7b2bc">D</tspan><tspan x="343.2" fill="#bdbdcc">S</tspan><tspan x="345.25" fill="#a8a8ae">V</tspan><tspan x="347.3" fill="#858585">F</tspan><tspan x="349.35" fill="#858585">F</tspan><tspan x="351.4" fill="#858585">S</tspan><tspan x="373.95" fill="#f7b2bc">V</tspan><tspan x="376" fill="#bdbdcc">T</tspan><tspan x="378.05" fill="#bdbdcc">Q</tspan><tspan x="380.1" fill="#bdbdcc">V</tspan><tspan x="382.15" fill="#bdbdcc">H</tspan><tspan x="384.2" fill="#bdbdcc">P</tspan><tspan x="386.25" fill="#f7b2bc">N</tspan><tspan x="388.3" fill="#f7b2bc">T</tspan><tspan x="390.35" fill="#f7b2bc">I</tspan><tspan x="392.4" fill="#f7b2bc">M</tspan><tspan x="394.45" fill="#f7b2bc">V</tspan><tspan x="396.5" fill="#f7b2bc">I</tspan><tspan x="398.55" fill="#f7b2bc">C</tspan><tspan x="400.6" fill="#bdbdcc">C</tspan><tspan x="402.65" fill="#f7b2bc">D</tspan><tspan x="404.7" fill="#f7b2bc">K</tspan><tspan x="406.75" fill="#f7b2bc">H</tspan><tspan x="408.8" fill="#bdbdcc">W</tspan><tspan x="410.85" fill="#bdbdcc">I</tspan><tspan x="412.9" fill="#f7b2bc">Q</tspan><tspan x="414.95" fill="#bdbdcc">E</tspan><tspan x="417" fill="#f7b2bc">N</tspan><tspan x="419.05" fill="#bdbdcc">R</tspan><tspan x="421.1" fill="#bdbdcc">C</tspan><tspan x="423.15" fill="#f7b2bc">E</tspan><tspan x="425.2" fill="#a8a8ae">M</tspan><tspan x="427.25" fill="#f7b2bc">E</tspan><tspan x="429.3" fill="#f7b2bc">H</tspan><tspan x="431.35" fill="#f7b2bc">F</tspan><tspan x="433.4" fill="#f7b2bc">K</tspan><tspan x="435.45" fill="#f7b2bc">D</tspan><tspan x="437.5" fill="#f7b2bc">V</tspan><tspan x="439.55" fill="#bdbdcc">V</tspan><tspan x="441.6" fill="#bdbdcc">D</tspan><tspan x="443.65" fill="#f7b2bc">I</tspan><tspan x="445.7" fill="#f7b2bc">S</tspan><tspan x="447.75" fill="#a8a8ae">P</tspan><tspan x="449.8" fill="#f7b2bc">C</tspan><tspan x="451.85" fill="#bdbdcc">A</tspan><tspan x="453.9" fill="#bdbdcc">K</tspan><tspan x="455.95" fill="#f7b2bc">R</tspan><tspan x="458" fill="#f7b2bc">V</tspan><tspan x="460.05" fill="#f7b2bc">S</tspan><tspan x="462.1" fill="#a8a8ae">L</tspan><tspan x="464.15" fill="#a8a8ae">H</tspan><tspan x="466.2" fill="#a8a8ae">C</tspan><tspan x="468.25" fill="#a8a8ae">W</tspan><tspan x="470.3" fill="#a8a8ae">V</tspan><tspan x="472.35" fill="#a8a8ae">C</tspan><tspan x="474.4" fill="#f7b2bc">M</tspan><tspan x="476.45" fill="#f7b2bc">W</tspan><tspan x="478.5" fill="#a8a8ae">T</tspan><tspan x="480.55" fill="#f7b2bc">G</tspan><tspan x="482.6" fill="#f7b2bc">T</tspan><tspan x="484.65" fill="#f7b2bc">G</tspan><tspan x="486.7" fill="#f7b2bc">D</tspan><tspan x="488.75" fill="#f7b2bc">I</tspan><tspan x="490.8" fill="#f7b2bc">W</tspan><tspan x="492.85" fill="#f7b2bc">Y</tspan><tspan x="494.9" fill="#f7b2bc">D</tspan><tspan x="496.95" fill="#f7b2bc">W</tspan><tspan x="499" fill="#bdbdcc">M</tspan><tspan x="501.05" fill="#a8a8ae">H</tspan><tspan x="503.1" fill="#a8a8ae">M</tspan><tspan x="505.15" fill="#a8a8ae">I</tspan><tspan x="507.2" fill="#a8a8ae">K</tspan><tspan x="509.25" fill="#a8a8ae">P</tspan><tspan x="511.3" fill="#f7b2bc">F</tspan><tspan x="513.35" fill="#f7b2bc">L</tspan></text><text y="499.79" font-family="Liberation Sans, sans-serif" font-size="2.8"><tspan x="148.45" fill="#a8a8ae">D</tspan><tspan x="150.5" fill="#a8a8ae">A</tspan><tspan x="152.55" fill="#a8a8ae">R</tspan><tspan x="154.6" fill="#a8a8ae">Y</tspan><tspan x="156.65" fill="#a8a8ae">W</tspan><tspan x="158.7" fill="#f7b2bc">E</tspan><tspan x="160.75" fill="#f7b2bc">H</tspan><tspan x="162.8" fill="#bdbdcc">F</tspan><tspan x="164.85" fill="#bdbdcc">D</tspan><tspan x="166.9" fill="#f7b2bc">N</tspan><tspan x="168.95" fill="#bdbdcc">R</tspan><tspan x="171" fill="#bdbdcc">L</tspan><tspan x="173.05" fill="#f7b2bc">T</tspan><tspan x="175.1" fill="#f7b2bc">V</tspan><tspan x="177.15" fill="#a8a8ae">E</tspan><tspan x="179.2" fill="#ff7070">F</tspan><tspan x="181.25" fill="#f7b2bc">K</tspan><tspan x="183.3" fill="#f7b2bc">E</tspan><tspan x="185.35" fill="#f7b2bc">F</tspan><tspan x="187.4" fill="#f7b2bc">Y</tspan><tspan x="189.45" fill="#f7b2bc">M</tspan><tspan x="191.5" fill="#f7b2bc">K</tspan><tspan x="193.55" fill="#a8a8ae">K</tspan><tspan x="195.6" fill="#f7b2bc">C</tspan><tspan x="197.65" fill="#bdbdcc">Q</tspan><tspan x="199.7" fill="#f7b2bc">C</tspan><tspan x="201.75" fill="#bdbdcc">F</tspan><tspan x="203.8" fill="#f7b2bc">K</tspan><tspan x="205.85" fill="#a8a8ae">R</tspan><tspan x="207.9" fill="#f7b2bc">V</tspan><tspan x="209.95" fill="#f7b2bc">V</tspan><tspan x="212" fill="#bdbdcc">D</tspan><tspan x="214.05" fill="#f7b2bc">F</tspan><tspan x="216.1" fill="#f7b2bc">N</tspan><tspan x="218.15" fill="#f7b2bc">F</tspan><tspan x="220.2" fill="#f7b2bc">C</tspan><tspan x="222.25" fill="#bdbdcc">C</tspan><tspan x="224.3" fill="#f7b2bc">H</tspan><tspan x="226.35" fill="#ff7070">E</tspan><tspan x="228.4" fill="#ff7070">N</tspan><tspan x="230.45" fill="#bdbdcc">V</tspan><tspan x="232.5" fill="#bdbdcc">Q</tspan><tspan x="234.55" fill="#bdbdcc">F</tspan><tspan x="236.6" fill="#bdbdcc">I</tspan><tspan x="238.65" fill="#ff7070">G</tspan><tspan x="240.7" fill="#a8a8ae">Q</tspan><tspan x="242.75" fill="#f7b2bc">A</tspan><tspan x="244.8" fill="#f7b2bc">M</tspan><tspan x="246.85" fill="#bdbdcc">Q</tspan><tspan x="248.9" fill="#f7b2bc">I</tspan><tspan x="250.95" fill="#ff7070">E</tspan><tspan x="253" fill="#a8a8ae">P</tspan><tspan x="255.05" fill="#bdbdcc">C</tspan><tspan x="257.1" fill="#f7b2bc">I</tspan><tspan x="259.15" fill="#f7b2bc">R</tspan><tspan x="261.2" fill="#ff7070">I</tspan><tspan x="263.25" fill="#ff7070">I</tspan><tspan x="265.3" fill="#bdbdcc">A</tspan><tspan x="267.35" fill="#f7b2bc">P</tspan><tspan x="269.4" fill="#bdbdcc">D</tspan><tspan x="271.45" fill="#f7b2bc">K</tspan><tspan x="273.5" fill="#a8a8ae">T</tspan><tspan x="275.55" fill="#a8a8ae">P</tspan><tspan x="277.6" fill="#ff7070">V</tspan><tspan x="279.65" fill="#ff7070">M</tspan><tspan x="281.7" fill="#fff2f2">A</tspan><tspan x="283.75" fill="#ff7070">E</tspan><tspan x="285.8" fill="#fff2f2">K</tspan><tspan x="287.85" fill="#ff7070">G</tspan><tspan x="289.9" fill="#ff7070">W</tspan><tspan x="291.95" fill="#ff7070">K</tspan><tspan x="294" fill="#ff7070">C</tspan><tspan x="296.05" fill="#fff2f2">E</tspan><tspan x="298.1" fill="#ff7070">Y</tspan><tspan x="300.15" fill="#fff2f2">Q</tspan><tspan x="302.2" fill="#fff2f2">N</tspan><tspan x="304.25" fill="#ff7070">M</tspan><tspan x="306.3" fill="#a8a8ae">Q</tspan><tspan x="308.35" fill="#bdbdcc">Y</tspan><tspan x="310.4" fill="#f7b2bc">E</tspan><tspan x="312.45" fill="#f7b2bc">W</tspan><tspan x="314.5" fill="#f7b2bc">C</tspan><tspan x="316.55" fill="#f7b2bc">A</tspan><tspan x="318.6" fill="#f7b2bc">V</tspan><tspan x="320.65" fill="#a8a8ae">H</tspan><tspan x="322.7" fill="#f7b2bc">N</tspan><tspan x="324.75" fill="#bdbdcc">M</tspan><tspan x="326.8" fill="#bdbdcc">E</tspan><tspan x="328.85" fill="#bdbdcc">L</tspan><tspan x="330.9" fill="#f7b2bc">Q</tspan><tspan x="332.95" fill="#bdbdcc">L</tspan><tspan x="335" fill="#f7b2bc">H</tspan><tspan x="337.05" fill="#bdbdcc">P</tspan><tspan x="339.1" fill="#bdbdcc">G</tspan><tspan x="341.15" fill="#f7b2bc">L</tspan><tspan x="343.2" fill="#f7b2bc">A</tspan><tspan x="345.25" fill="#a8a8ae">H</tspan><tspan x="347.3" fill="#858585">Q</tspan><tspan x="349.35" fill="#858585">W</tspan><tspan x="351.4" fill="#858585">Y</tspan><tspan x="353.45" fill="#858585">M</tspan><tspan x="355.5" fill="#858585">R</tspan><tspan x="357.55" fill="#858585">R</tspan><tspan x="359.6" fill="#858585">R</tspan><tspan x="361.65" fill="#858585">H</tspan><tspan x="363.7" fill="#858585">T</tspan><tspan x="365.75" fill="#858585">S</tspan><tspan x="367.8" fill="#858585">G</tspan><tspan x="369.85" fill="#858585">D</tspan><tspan x="371.9" fill="#858585">L</tspan><tspan x="373.95" fill="#f7b2bc">T</tspan><tspan x="376" fill="#f7b2bc">Y</tspan><tspan x="378.05" fill="#f7b2bc">I</tspan><tspan x="380.1" fill="#bdbdcc">I</tspan><tspan x="382.15" fill="#f7b2bc">F</tspan><tspan x="384.2" fill="#bdbdcc">I</tspan><tspan x="386.25" fill="#bdbdcc">Y</tspan><tspan x="388.3" fill="#f7b2bc">D</tspan><tspan x="390.35" fill="#f7b2bc">W</tspan><tspan x="392.4" fill="#f7b2bc">P</tspan><tspan x="394.45" fill="#f7b2bc">I</tspan><tspan x="396.5" fill="#bdbdcc">A</tspan><tspan x="398.55" fill="#bdbdcc">E</tspan><tspan x="400.6" fill="#f7b2bc">I</tspan><tspan x="402.65" fill="#f7b2bc">T</tspan><tspan x="404.7" fill="#f7b2bc">V</tspan><tspan x="406.75" fill="#f7b2bc">E</tspan><tspan x="408.8" fill="#bdbdcc">R</tspan><tspan x="410.85" fill="#bdbdcc">V</tspan><tspan x="412.9" fill="#bdbdcc">R</tspan><tspan x="414.95" fill="#f7b2bc">T</tspan><tspan x="417" fill="#f7b2bc">V</tspan><tspan x="419.05" fill="#bdbdcc">G</tspan><tspan x="421.1" fill="#f7b2bc">S</tspan><tspan x="423.15" fill="#bdbdcc">I</tspan><tspan x="425.2" fill="#a8a8ae">K</tspan><tspan x="427.25" fill="#f7b2bc">T</tspan><tspan x="429.3" fill="#f7b2bc">I</tspan><tspan x="431.35" fill="#bdbdcc">D</tspan><tspan x="433.4" fill="#f7b2bc">I</tspan><tspan x="435.45" fill="#bdbdcc">M</tspan><tspan x="437.5" fill="#f7b2bc">D</tspan><tspan x="439.55" fill="#f7b2bc">I</tspan><tspan x="441.6" fill="#bdbdcc">F</tspan><tspan x="443.65" fill="#f7b2bc">D</tspan><tspan x="445.7" fill="#f7b2bc">M</tspan><tspan x="447.75" fill="#a8a8ae">Q</tspan><tspan x="449.8" fill="#f7b2bc">C</tspan><tspan x="451.85" fill="#f7b2bc">Q</tspan><tspan x="453.9" fill="#bdbdcc">W</tspan><tspan x="455.95" fill="#bdbdcc">A</tspan><tspan x="458" fill="#f7b2bc">W</tspan><tspan x="460.05" fill="#bdbdcc">A</tspan><tspan x="462.1" fill="#a8a8ae">L</tspan><tspan x="464.15" fill="#a8a8ae">P</tspan><tspan x="466.2" fill="#a8a8ae">Q</tspan><tspan x="468.25" fill="#a8a8ae">V</tspan><tspan x="470.3" fill="#a8a8ae">V</tspan><tspan x="472.35" fill="#a8a8ae">Y</tspan><tspan x="474.4" fill="#f7b2bc">I</tspan><tspan x="476.45" fill="#f7b2bc">K</tspan><tspan x="478.5" fill="#a8a8ae">A</tspan><tspan x="480.55" fill="#f7b2bc">P</tspan><tspan x="482.6" fill="#f7b2bc">P</tspan><tspan x="484.65" fill="#bdbdcc">R</tspan><tspan x="486.7" fill="#f7b2bc">Y</tspan><tspan x="488.75" fill="#f7b2bc">P</tspan><tspan x="490.8" fill="#f7b2bc">A</tspan><tspan x="492.85" fill="#f7b2bc">Q</tspan><tspan x="494.9" fill="#f7b2bc">R</tspan><tspan x="496.95" fill="#f7b2bc">K</tspan><tspan x="499" fill="#f7b2bc">H</tspan><tspan x="501.05" fill="#a8a8ae">M</tspan><tspan x="503.1" fill="#a8a8ae">P</tspan><tspan x="505.15" fill="#a8a8ae">K</tspan><tspan x="507.2" fill="#a8a8ae">Q</tspan><tspan x="509.25" fill="#a8a8ae">K</tspan><tspan x="511.3" fill="#f7b2bc">D</tspan><tspan x="513.35" fill="#f7b2bc">V</tspan></text><text y="503.23" font-family="Liberation Sans, sans-serif" font-size="2.8"><tspan x="148.65" fill="#a8a8ae">N</tspan><tspan x="150.7" fill="#a8a8ae">I</tspan><tspan x="152.75" fill="#a8a8ae">D</tspan><tspan x="154.8" fill="#a8a8ae">C</tspan><tspan x="156.85" fill="#a8a8ae">A</tspan><tspan x="158.9" fill="#f7b2bc">I</tspan><tspan x="160.95" fill="#bdbdcc">A</tspan><tspan x="163" fill="#f7b2bc">I</tspan><tspan x="165.05" fill="#bdbdcc">E</tspan><tspan x="167.1" fill="#f7b2bc">H</tspan><tspan x="169.15" fill="#bdbdcc">K</tspan><tspan x="171.2" fill="#bdbdcc">G</tspan><tspan x="173.25" fill="#bdbdcc">E</tspan><tspan x="175.3" fill="#bdbdcc">G</tspan><tspan x="177.35" fill="#a8a8ae">E</tspan><tspan x="179.4" fill="#ff7070">W</tspan><tspan x="181.45" fill="#bdbdcc">A</tspan><tspan x="183.5" fill="#f7b2bc">W</tspan><tspan x="185.55" fill="#f7b2bc">P</tspan><tspan x="187.6" fill="#f7b2bc">H</tspan><tspan x="189.65" fill="#f7b2bc">I</tspan><tspan x="191.7" fill="#bdbdcc">L</tspan><tspan x="193.75" fill="#a8a8ae">Y</tspan><tspan x="195.8" fill="#bdbdcc">E</tspan><tspan x="197.85" fill="#bdbdcc">W</tspan><tspan x="199.9" fill="#f7b2bc">N</tspan><tspan x="201.95" fill="#f7b2bc">N</tspan><tspan x="204" fill="#f7b2bc">M</tspan><tspan x="206.05" fill="#a8a8ae">Q</tspan><tspan x="208.1" fill="#f7b2bc">S</tspan><tspan x="210.15" fill="#f7b2bc">N</tspan><tspan x="212.2" fill="#f7b2bc">R</tspan><tspan x="214.25" fill="#f7b2bc">Q</tspan><tspan x="216.3" fill="#bdbdcc">T</tspan><tspan x="218.35" fill="#f7b2bc">K</tspan><tspan x="220.4" fill="#bdbdcc">V</tspan><tspan x="222.45" fill="#f7b2bc">R</tspan><tspan x="224.5" fill="#f7b2bc">W</tspan><tspan x="226.55" fill="#ff7070">I</tspan><tspan x="228.6" fill="#ff7070">D</tspan><tspan x="230.65" fill="#bdbdcc">K</tspan><tspan x="232.7" fill="#bdbdcc">I</tspan><tspan x="234.75" fill="#bdbdcc">W</tspan><tspan x="236.8" fill="#f7b2bc">P</tspan><tspan x="238.85" fill="#ff7070">S</tspan><tspan x="240.9" fill="#a8a8ae">M</tspan><tspan x="242.95" fill="#f7b2bc">G</tspan><tspan x="245" fill="#f7b2bc">N</tspan><tspan x="247.05" fill="#f7b2bc">M</tspan><tspan x="249.1" fill="#a8a8ae">Y</tspan><tspan x="251.15" fill="#ff7070">K</tspan><tspan x="253.2" fill="#f7b2bc">V</tspan><tspan x="255.25" fill="#f7b2bc">H</tspan><tspan x="257.3" fill="#f7b2bc">Q</tspan><tspan x="259.35" fill="#f7b2bc">I</tspan><tspan x="261.4" fill="#ff7070">S</tspan><tspan x="263.45" fill="#ff7070">R</tspan><tspan x="265.5" fill="#f7b2bc">A</tspan><tspan x="267.55" fill="#f7b2bc">I</tspan><tspan x="269.6" fill="#f7b2bc">I</tspan><tspan x="271.65" fill="#f7b2bc">W</tspan><tspan x="273.7" fill="#a8a8ae">V</tspan><tspan x="275.75" fill="#a8a8ae">T</tspan><tspan x="277.8" fill="#ff7070">N</tspan><tspan x="279.85" fill="#ff7070">Q</tspan><tspan x="281.9" fill="#fff2f2">V</tspan><tspan x="283.95" fill="#ff7070">M</tspan><tspan x="286" fill="#ff7070">N</tspan><tspan x="288.05" fill="#ff7070">R</tspan><tspan x="290.1" fill="#ff7070">K</tspan><tspan x="292.15" fill="#fff2f2">L</tspan><tspan x="294.2" fill="#ff7070">K</tspan><tspan x="296.25" fill="#fff2f2">I</tspan><tspan x="298.3" fill="#ff7070">E</tspan><tspan x="300.35" fill="#fff2f2">H</tspan><tspan x="302.4" fill="#fff2f2">M</tspan><tspan x="304.45" fill="#ff7070">E</tspan><tspan x="306.5" fill="#a8a8ae">V</tspan><tspan x="308.55" fill="#f7b2bc">G</tspan><tspan x="310.6" fill="#f7b2bc">S</tspan><tspan x="312.65" fill="#bdbdcc">W</tspan><tspan x="314.7" fill="#f7b2bc">T</tspan><tspan x="316.75" fill="#bdbdcc">E</tspan><tspan x="318.8" fill="#f7b2bc">L</tspan><tspan x="320.85" fill="#a8a8ae">G</tspan><tspan x="322.9" fill="#f7b2bc">L</tspan><tspan x="324.95" fill="#f7b2bc">V</tspan><tspan x="327" fill="#bdbdcc">C</tspan><tspan x="329.05" fill="#f7b2bc">V</tspan><tspan x="331.1" fill="#bdbdcc">F</tspan><tspan x="333.15" fill="#f7b2bc">S</tspan><tspan x="335.2" fill="#bdbdcc">A</tspan><tspan x="337.25" fill="#f7b2bc">S</tspan><tspan x="339.3" fill="#f7b2bc">M</tspan><tspan x="341.35" fill="#f7b2bc">C</tspan><tspan x="343.4" fill="#f7b2bc">S</tspan><tspan x="345.45" fill="#a8a8ae">D</tspan><tspan x="347.5" fill="#858585">P</tspan><tspan x="374.15" fill="#f7b2bc">S</tspan><tspan x="376.2" fill="#f7b2bc">C</tspan><tspan x="378.25" fill="#bdbdcc">W</tspan><tspan x="380.3" fill="#bdbdcc">D</tspan><tspan x="382.35" fill="#f7b2bc">E</tspan><tspan x="384.4" fill="#f7b2bc">Q</tspan><tspan x="386.45" fill="#f7b2bc">Y</tspan><tspan x="388.5" fill="#f7b2bc">T</tspan><tspan x="390.55" fill="#f7b2bc">R</tspan><tspan x="392.6" fill="#bdbdcc">W</tspan><tspan x="394.65" fill="#f7b2bc">L</tspan><tspan x="396.7" fill="#f7b2bc">C</tspan><tspan x="398.75" fill="#a8a8ae">E</tspan><tspan x="400.8" fill="#f7b2bc">H</tspan><tspan x="402.85" fill="#f7b2bc">K</tspan><tspan x="404.9" fill="#f7b2bc">G</tspan><tspan x="406.95" fill="#f7b2bc">V</tspan><tspan x="409" fill="#f7b2bc">A</tspan><tspan x="411.05" fill="#f7b2bc">Y</tspan><tspan x="413.1" fill="#f7b2bc">C</tspan><tspan x="415.15" fill="#bdbdcc">L</tspan><tspan x="417.2" fill="#f7b2bc">R</tspan><tspan x="419.25" fill="#bdbdcc">I</tspan><tspan x="421.3" fill="#bdbdcc">W</tspan><tspan x="423.35" fill="#f7b2bc">H</tspan><tspan x="425.4" fill="#a8a8ae">V</tspan><tspan x="427.45" fill="#bdbdcc">I</tspan><tspan x="429.5" fill="#bdbdcc">K</tspan><tspan x="431.55" fill="#f7b2bc">D</tspan><tspan x="433.6" fill="#f7b2bc">L</tspan><tspan x="435.65" fill="#bdbdcc">W</tspan><tspan x="437.7" fill="#f7b2bc">R</tspan><tspan x="439.75" fill="#bdbdcc">L</tspan><tspan x="441.8" fill="#f7b2bc">K</tspan><tspan x="443.85" fill="#f7b2bc">S</tspan><tspan x="445.9" fill="#f7b2bc">Y</tspan><tspan x="447.95" fill="#a8a8ae">Q</tspan><tspan x="450" fill="#f7b2bc">M</tspan><tspan x="452.05" fill="#f7b2bc">A</tspan><tspan x="454.1" fill="#f7b2bc">W</tspan><tspan x="456.15" fill="#bdbdcc">A</tspan><tspan x="458.2" fill="#f7b2bc">K</tspan><tspan x="460.25" fill="#f7b2bc">G</tspan><tspan x="462.3" fill="#a8a8ae">R</tspan><tspan x="464.35" fill="#a8a8ae">K</tspan><tspan x="466.4" fill="#a8a8ae">G</tspan><tspan x="468.45" fill="#a8a8ae">W</tspan><tspan x="470.5" fill="#a8a8ae">Q</tspan><tspan x="472.55" fill="#a8a8ae">S</tspan><tspan x="474.6" fill="#f7b2bc">D</tspan><tspan x="476.65" fill="#f7b2bc">Q</tspan><tspan x="478.7" fill="#bdbdcc">E</tspan><tspan x="480.75" fill="#f7b2bc">M</tspan><tspan x="482.8" fill="#f7b2bc">S</tspan><tspan x="484.85" fill="#f7b2bc">P</tspan><tspan x="486.9" fill="#f7b2bc">V</tspan><tspan x="488.95" fill="#f7b2bc">D</tspan><tspan x="491" fill="#f7b2bc">M</tspan><tspan x="493.05" fill="#bdbdcc">P</tspan><tspan x="495.1" fill="#f7b2bc">A</tspan><tspan x="497.15" fill="#f7b2bc">V</tspan><tspan x="499.2" fill="#f7b2bc">C</tspan><tspan x="501.25" fill="#a8a8ae">N</tspan><tspan x="503.3" fill="#a8a8ae">Y</tspan><tspan x="505.35" fill="#a8a8ae">S</tspan><tspan x="507.4" fill="#a8a8ae">R</tspan><tspan x="509.45" fill="#a8a8ae">C</tspan><tspan x="511.5" fill="#f7b2bc">H</tspan><tspan x="513.55" fill="#bdbdcc">F</tspan></text><text y="506.67" font-family="Liberation Sans, sans-serif" font-size="2.8"><tspan x="150.45" fill="#a8a8ae">R</tspan><tspan x="152.5" fill="#a8a8ae">S</tspan><tspan x="154.55" fill="#a8a8ae">E</tspan><tspan x="156.6" fill="#a8a8ae">A</tspan><tspan x="158.65" fill="#bdbdcc">Y</tspan><tspan x="160.7" fill="#f7b2bc">G</tspan><tspan x="162.75" fill="#bdbdcc">A</tspan><tspan x="164.8" fill="#f7b2bc">D</tspan><tspan x="166.85" fill="#f7b2bc">E</tspan><tspan x="168.9" fill="#bdbdcc">E</tspan><tspan x="170.95" fill="#f7b2bc">F</tspan><tspan x="173" fill="#f7b2bc">L</tspan><tspan x="175.05" fill="#f7b2bc">K</tspan><tspan x="177.1" fill="#a8a8ae">S</tspan><tspan x="179.15" fill="#ff7070">S</tspan><tspan x="181.2" fill="#f7b2bc">I</tspan><tspan x="183.25" fill="#f7b2bc">F</tspan><tspan x="185.3" fill="#f7b2bc">Y</tspan><tspan x="187.35" fill="#bdbdcc">F</tspan><tspan x="189.4" fill="#f7b2bc">K</tspan><tspan x="191.45" fill="#f7b2bc">Q</tspan><tspan x="193.5" fill="#a8a8ae">T</tspan><tspan x="195.55" fill="#bdbdcc">K</tspan><tspan x="197.6" fill="#bdbdcc">L</tspan><tspan x="199.65" fill="#bdbdcc">W</tspan><tspan x="201.7" fill="#bdbdcc">S</tspan><tspan x="203.75" fill="#f7b2bc">R</tspan><tspan x="205.8" fill="#a8a8ae">N</tspan><tspan x="207.85" fill="#f7b2bc">M</tspan><tspan x="209.9" fill="#f7b2bc">V</tspan><tspan x="211.95" fill="#bdbdcc">M</tspan><tspan x="214" fill="#f7b2bc">I</tspan><tspan x="216.05" fill="#bdbdcc">I</tspan><tspan x="218.1" fill="#f7b2bc">Q</tspan><tspan x="220.15" fill="#f7b2bc">S</tspan><tspan x="222.2" fill="#f7b2bc">P</tspan><tspan x="224.25" fill="#f7b2bc">F</tspan><tspan x="226.3" fill="#ff7070">C</tspan><tspan x="228.35" fill="#ff7070">F</tspan><tspan x="230.4" fill="#bdbdcc">T</tspan><tspan x="232.45" fill="#bdbdcc">M</tspan><tspan x="234.5" fill="#f7b2bc">R</tspan><tspan x="236.55" fill="#f7b2bc">R</tspan><tspan x="238.6" fill="#ff7070">F</tspan><tspan x="240.65" fill="#a8a8ae">Q</tspan><tspan x="242.7" fill="#f7b2bc">F</tspan><tspan x="244.75" fill="#f7b2bc">K</tspan><tspan x="246.8" fill="#f7b2bc">P</tspan><tspan x="248.85" fill="#bdbdcc">M</tspan><tspan x="250.9" fill="#ff7070">V</tspan><tspan x="252.95" fill="#a8a8ae">P</tspan><tspan x="255" fill="#f7b2bc">M</tspan><tspan x="257.05" fill="#bdbdcc">S</tspan><tspan x="259.1" fill="#f7b2bc">C</tspan><tspan x="261.15" fill="#ff7070">I</tspan><tspan x="263.2" fill="#ff7070">L</tspan><tspan x="265.25" fill="#bdbdcc">I</tspan><tspan x="267.3" fill="#bdbdcc">Q</tspan><tspan x="269.35" fill="#f7b2bc">E</tspan><tspan x="271.4" fill="#bdbdcc">L</tspan><tspan x="273.45" fill="#a8a8ae">C</tspan><tspan x="275.5" fill="#a8a8ae">M</tspan><tspan x="277.55" fill="#ff7070">C</tspan><tspan x="279.6" fill="#ff7070">L</tspan><tspan x="281.65" fill="#fff2f2">N</tspan><tspan x="283.7" fill="#ff7070">N</tspan><tspan x="285.75" fill="#fff2f2">Q</tspan><tspan x="287.8" fill="#ff7070">F</tspan><tspan x="289.85" fill="#ff7070">I</tspan><tspan x="291.9" fill="#ff7070">T</tspan><tspan x="293.95" fill="#ff7070">Q</tspan><tspan x="296" fill="#ff7070">W</tspan><tspan x="298.05" fill="#ff7070">G</tspan><tspan x="300.1" fill="#fff2f2">G</tspan><tspan x="302.15" fill="#fff2f2">G</tspan><tspan x="304.2" fill="#ff7070">D</tspan><tspan x="306.25" fill="#a8a8ae">Y</tspan><tspan x="308.3" fill="#f7b2bc">P</tspan><tspan x="310.35" fill="#f7b2bc">I</tspan><tspan x="312.4" fill="#f7b2bc">W</tspan><tspan x="314.45" fill="#f7b2bc">R</tspan><tspan x="316.5" fill="#f7b2bc">R</tspan><tspan x="318.55" fill="#bdbdcc">A</tspan><tspan x="320.6" fill="#a8a8ae">R</tspan><tspan x="322.65" fill="#bdbdcc">L</tspan><tspan x="324.7" fill="#f7b2bc">G</tspan><tspan x="326.75" fill="#bdbdcc">N</tspan><tspan x="328.8" fill="#bdbdcc">L</tspan><tspan x="330.85" fill="#bdbdcc">Q</tspan><tspan x="332.9" fill="#bdbdcc">R</tspan><tspan x="334.95" fill="#bdbdcc">H</tspan><tspan x="337" fill="#f7b2bc">S</tspan><tspan x="339.05" fill="#bdbdcc">P</tspan><tspan x="341.1" fill="#f7b2bc">W</tspan><tspan x="343.15" fill="#f7b2bc">L</tspan><tspan x="345.2" fill="#f7b2bc">P</tspan><tspan x="373.9" fill="#bdbdcc">W</tspan><tspan x="375.95" fill="#bdbdcc">C</tspan><tspan x="378" fill="#bdbdcc">S</tspan><tspan x="380.05" fill="#bdbdcc">L</tspan><tspan x="382.1" fill="#f7b2bc">I</tspan><tspan x="384.15" fill="#f7b2bc">N</tspan><tspan x="386.2" fill="#f7b2bc">H</tspan><tspan x="388.25" fill="#f7b2bc">F</tspan><tspan x="390.3" fill="#f7b2bc">C</tspan><tspan x="392.35" fill="#f7b2bc">R</tspan><tspan x="394.4" fill="#bdbdcc">N</tspan><tspan x="396.45" fill="#bdbdcc">D</tspan><tspan x="398.5" fill="#bdbdcc">M</tspan><tspan x="400.55" fill="#f7b2bc">G</tspan><tspan x="402.6" fill="#bdbdcc">V</tspan><tspan x="404.65" fill="#f7b2bc">N</tspan><tspan x="406.7" fill="#f7b2bc">K</tspan><tspan x="408.75" fill="#bdbdcc">K</tspan><tspan x="410.8" fill="#bdbdcc">S</tspan><tspan x="412.85" fill="#bdbdcc">L</tspan><tspan x="414.9" fill="#bdbdcc">M</tspan><tspan x="416.95" fill="#bdbdcc">R</tspan><tspan x="419" fill="#bdbdcc">F</tspan><tspan x="421.05" fill="#bdbdcc">I</tspan><tspan x="423.1" fill="#bdbdcc">P</tspan><tspan x="425.15" fill="#a8a8ae">V</tspan><tspan x="427.2" fill="#f7b2bc">N</tspan><tspan x="429.25" fill="#f7b2bc">P</tspan><tspan x="431.3" fill="#f7b2bc">V</tspan><tspan x="433.35" fill="#bdbdcc">N</tspan><tspan x="435.4" fill="#f7b2bc">K</tspan><tspan x="437.45" fill="#f7b2bc">N</tspan><tspan x="439.5" fill="#f7b2bc">I</tspan><tspan x="441.55" fill="#bdbdcc">Y</tspan><tspan x="443.6" fill="#f7b2bc">V</tspan><tspan x="445.65" fill="#f7b2bc">Y</tspan><tspan x="447.7" fill="#a8a8ae">D</tspan><tspan x="449.75" fill="#bdbdcc">R</tspan><tspan x="451.8" fill="#f7b2bc">L</tspan><tspan x="453.85" fill="#f7b2bc">E</tspan><tspan x="455.9" fill="#f7b2bc">C</tspan><tspan x="457.95" fill="#f7b2bc">S</tspan><tspan x="460" fill="#bdbdcc">I</tspan><tspan x="462.05" fill="#a8a8ae">F</tspan><tspan x="464.1" fill="#a8a8ae">P</tspan><tspan x="466.15" fill="#a8a8ae">R</tspan><tspan x="468.2" fill="#a8a8ae">N</tspan><tspan x="470.25" fill="#a8a8ae">V</tspan><tspan x="472.3" fill="#a8a8ae">Q</tspan><tspan x="474.35" fill="#bdbdcc">W</tspan><tspan x="476.4" fill="#bdbdcc">F</tspan><tspan x="478.45" fill="#a8a8ae">E</tspan><tspan x="480.5" fill="#f7b2bc">S</tspan><tspan x="482.55" fill="#f7b2bc">K</tspan><tspan x="484.6" fill="#f7b2bc">N</tspan><tspan x="486.65" fill="#bdbdcc">R</tspan><tspan x="488.7" fill="#f7b2bc">N</tspan><tspan x="490.75" fill="#f7b2bc">N</tspan><tspan x="492.8" fill="#f7b2bc">N</tspan><tspan x="494.85" fill="#f7b2bc">K</tspan><tspan x="496.9" fill="#bdbdcc">E</tspan><tspan x="498.95" fill="#f7b2bc">R</tspan><tspan x="501" fill="#a8a8ae">H</tspan><tspan x="503.05" fill="#a8a8ae">Y</tspan><tspan x="505.1" fill="#a8a8ae">A</tspan><tspan x="507.15" fill="#a8a8ae">C</tspan><tspan x="509.2" fill="#a8a8ae">M</tspan><tspan x="511.25" fill="#bdbdcc">I</tspan><tspan x="513.3" fill="#f7b2bc">W</tspan></text><text y="510.11" font-family="Liberation Sans, sans-serif" font-size="2.8"><tspan x="150.45" fill="#a8a8ae">V</tspan><tspan x="152.5" fill="#a8a8ae">H</tspan><tspan x="154.55" fill="#a8a8ae">W</tspan><tspan x="156.6" fill="#a8a8ae">H</tspan><tspan x="158.65" fill="#f7b2bc">I</tspan><tspan x="160.7" fill="#bdbdcc">F</tspan><tspan x="162.75" fill="#f7b2bc">Y</tspan><tspan x="164.8" fill="#bdbdcc">F</tspan><tspan x="166.85" fill="#f7b2bc">V</tspan><tspan x="168.9" fill="#f7b2bc">G</tspan><tspan x="170.95" fill="#f7b2bc">A</tspan><tspan x="173" fill="#bdbdcc">N</tspan><tspan x="175.05" fill="#bdbdcc">I</tspan><tspan x="177.1" fill="#a8a8ae">A</tspan><tspan x="179.15" fill="#ff7070">G</tspan><tspan x="181.2" fill="#f7b2bc">K</tspan><tspan x="183.25" fill="#f7b2bc">Q</tspan><tspan x="185.3" fill="#f7b2bc">D</tspan><tspan x="187.35" fill="#f7b2bc">N</tspan><tspan x="189.4" fill="#f7b2bc">E</tspan><tspan x="191.45" fill="#bdbdcc">I</tspan><tspan x="193.5" fill="#a8a8ae">C</tspan><tspan x="195.55" fill="#f7b2bc">T</tspan><tspan x="197.6" fill="#f7b2bc">A</tspan><tspan x="199.65" fill="#bdbdcc">S</tspan><tspan x="201.7" fill="#bdbdcc">Q</tspan><tspan x="203.75" fill="#bdbdcc">S</tspan><tspan x="205.8" fill="#a8a8ae">R</tspan><tspan x="207.85" fill="#bdbdcc">D</tspan><tspan x="209.9" fill="#f7b2bc">M</tspan><tspan x="211.95" fill="#f7b2bc">D</tspan><tspan x="214" fill="#f7b2bc">Y</tspan><tspan x="216.05" fill="#f7b2bc">V</tspan><tspan x="218.1" fill="#bdbdcc">P</tspan><tspan x="220.15" fill="#f7b2bc">T</tspan><tspan x="222.2" fill="#f7b2bc">T</tspan><tspan x="224.25" fill="#bdbdcc">E</tspan><tspan x="226.3" fill="#ff7070">E</tspan><tspan x="228.35" fill="#ff7070">V</tspan><tspan x="230.4" fill="#f7b2bc">H</tspan><tspan x="232.45" fill="#f7b2bc">I</tspan><tspan x="234.5" fill="#f7b2bc">R</tspan><tspan x="236.55" fill="#f7b2bc">E</tspan><tspan x="238.6" fill="#ff7070">M</tspan><tspan x="240.65" fill="#a8a8ae">K</tspan><tspan x="242.7" fill="#bdbdcc">N</tspan><tspan x="244.75" fill="#f7b2bc">S</tspan><tspan x="246.8" fill="#f7b2bc">D</tspan><tspan x="248.85" fill="#f7b2bc">E</tspan><tspan x="250.9" fill="#ff7070">N</tspan><tspan x="252.95" fill="#a8a8ae">F</tspan><tspan x="255" fill="#f7b2bc">V</tspan><tspan x="257.05" fill="#f7b2bc">V</tspan><tspan x="259.1" fill="#f7b2bc">E</tspan><tspan x="261.15" fill="#ff7070">Q</tspan><tspan x="263.2" fill="#ff7070">C</tspan><tspan x="265.25" fill="#bdbdcc">L</tspan><tspan x="267.3" fill="#f7b2bc">N</tspan><tspan x="269.35" fill="#f7b2bc">T</tspan><tspan x="271.4" fill="#f7b2bc">S</tspan><tspan x="273.45" fill="#a8a8ae">E</tspan><tspan x="275.5" fill="#a8a8ae">N</tspan><tspan x="277.55" fill="#ff7070">V</tspan><tspan x="279.6" fill="#ff7070">N</tspan><tspan x="281.65" fill="#fff2f2">E</tspan><tspan x="283.7" fill="#ff7070">K</tspan><tspan x="285.75" fill="#fff2f2">W</tspan><tspan x="287.8" fill="#ff7070">I</tspan><tspan x="289.85" fill="#ff7070">Q</tspan><tspan x="291.9" fill="#ff7070">V</tspan><tspan x="293.95" fill="#ff7070">Y</tspan><tspan x="296" fill="#ff7070">Y</tspan><tspan x="298.05" fill="#ff7070">V</tspan><tspan x="300.1" fill="#fff2f2">A</tspan><tspan x="302.15" fill="#fff2f2">Y</tspan><tspan x="304.2" fill="#ff7070">K</tspan><tspan x="306.25" fill="#a8a8ae">A</tspan><tspan x="308.3" fill="#f7b2bc">G</tspan><tspan x="310.35" fill="#bdbdcc">L</tspan><tspan x="312.4" fill="#f7b2bc">N</tspan><tspan x="314.45" fill="#f7b2bc">F</tspan><tspan x="316.5" fill="#f7b2bc">P</tspan><tspan x="318.55" fill="#f7b2bc">A</tspan><tspan x="320.6" fill="#a8a8ae">T</tspan><tspan x="322.65" fill="#f7b2bc">H</tspan><tspan x="324.7" fill="#f7b2bc">R</tspan><tspan x="326.75" fill="#f7b2bc">N</tspan><tspan x="328.8" fill="#bdbdcc">M</tspan><tspan x="330.85" fill="#bdbdcc">W</tspan><tspan x="332.9" fill="#f7b2bc">C</tspan><tspan x="334.95" fill="#f7b2bc">Y</tspan><tspan x="337" fill="#f7b2bc">D</tspan><tspan x="339.05" fill="#f7b2bc">Q</tspan><tspan x="341.1" fill="#f7b2bc">R</tspan><tspan x="343.15" fill="#bdbdcc">H</tspan><tspan x="345.2" fill="#f7b2bc">E</tspan><tspan x="373.9" fill="#f7b2bc">E</tspan><tspan x="375.95" fill="#f7b2bc">W</tspan><tspan x="378" fill="#f7b2bc">L</tspan><tspan x="380.05" fill="#bdbdcc">P</tspan><tspan x="382.1" fill="#f7b2bc">C</tspan><tspan x="384.15" fill="#bdbdcc">L</tspan><tspan x="386.2" fill="#bdbdcc">F</tspan><tspan x="388.25" fill="#f7b2bc">L</tspan><tspan x="390.3" fill="#f7b2bc">A</tspan><tspan x="392.35" fill="#f7b2bc">Q</tspan><tspan x="394.4" fill="#f7b2bc">P</tspan><tspan x="396.45" fill="#f7b2bc">I</tspan><tspan x="398.5" fill="#f7b2bc">N</tspan><tspan x="400.55" fill="#f7b2bc">C</tspan><tspan x="402.6" fill="#bdbdcc">R</tspan><tspan x="404.65" fill="#f7b2bc">M</tspan><tspan x="406.7" fill="#f7b2bc">W</tspan><tspan x="408.75" fill="#f7b2bc">Q</tspan><tspan x="410.8" fill="#f7b2bc">P</tspan><tspan x="412.85" fill="#f7b2bc">M</tspan><tspan x="414.9" fill="#f7b2bc">Y</tspan><tspan x="416.95" fill="#f7b2bc">N</tspan><tspan x="419" fill="#f7b2bc">E</tspan><tspan x="421.05" fill="#f7b2bc">W</tspan><tspan x="423.1" fill="#f7b2bc">D</tspan><tspan x="425.15" fill="#a8a8ae">L</tspan><tspan x="427.2" fill="#f7b2bc">M</tspan><tspan x="429.25" fill="#f7b2bc">G</tspan><tspan x="431.3" fill="#f7b2bc">E</tspan><tspan x="433.35" fill="#bdbdcc">H</tspan><tspan x="435.4" fill="#f7b2bc">N</tspan><tspan x="437.45" fill="#f7b2bc">F</tspan><tspan x="439.5" fill="#f7b2bc">F</tspan><tspan x="441.55" fill="#bdbdcc">G</tspan><tspan x="443.6" fill="#f7b2bc">D</tspan><tspan x="445.65" fill="#f7b2bc">S</tspan><tspan x="447.7" fill="#a8a8ae">W</tspan><tspan x="449.75" fill="#f7b2bc">W</tspan><tspan x="451.8" fill="#f7b2bc">W</tspan><tspan x="453.85" fill="#f7b2bc">Y</tspan><tspan x="455.9" fill="#f7b2bc">M</tspan><tspan x="457.95" fill="#f7b2bc">D</tspan><tspan x="460" fill="#f7b2bc">L</tspan><tspan x="462.05" fill="#a8a8ae">W</tspan><tspan x="464.1" fill="#a8a8ae">C</tspan><tspan x="466.15" fill="#a8a8ae">N</tspan><tspan x="468.2" fill="#a8a8ae">T</tspan><tspan x="470.25" fill="#a8a8ae">D</tspan><tspan x="472.3" fill="#a8a8ae">L</tspan><tspan x="474.35" fill="#f7b2bc">R</tspan><tspan x="476.4" fill="#f7b2bc">C</tspan><tspan x="478.45" fill="#a8a8ae">L</tspan><tspan x="480.5" fill="#f7b2bc">D</tspan><tspan x="482.55" fill="#f7b2bc">D</tspan><tspan x="484.6" fill="#f7b2bc">T</tspan><tspan x="486.65" fill="#f7b2bc">W</tspan><tspan x="488.7" fill="#f7b2bc">C</tspan><tspan x="490.75" fill="#f7b2bc">W</tspan><tspan x="492.8" fill="#f7b2bc">M</tspan><tspan x="494.85" fill="#f7b2bc">T</tspan><tspan x="496.9" fill="#f7b2bc">C</tspan><tspan x="498.95" fill="#bdbdcc">M</tspan><tspan x="501" fill="#a8a8ae">D</tspan><tspan x="503.05" fill="#a8a8ae">T</tspan><tspan x="505.1" fill="#a8a8ae">G</tspan><tspan x="507.15" fill="#a8a8ae">C</tspan><tspan x="509.2" fill="#a8a8ae">I</tspan><tspan x="511.25" fill="#bdbdcc">R</tspan><tspan x="513.3" fill="#f7b2bc">T</tspan></text><text y="513.55" font-family="Liberation Sans, sans-serif" font-size="2.8"><tspan x="154.25" fill="#a8a8ae">G</tspan><tspan x="156.3" fill="#a8a8ae">N</tspan><tspan x="158.35" fill="#bdbdcc">N</tspan><tspan x="160.4" fill="#f7b2bc">P</tspan><tspan x="162.45" fill="#bdbdcc">M</tspan><tspan x="164.5" fill="#bdbdcc">C</tspan><tspan x="166.55" fill="#f7b2bc">M</tspan><tspan x="168.6" fill="#bdbdcc">E</tspan><tspan x="170.65" fill="#f7b2bc">P</tspan><tspan x="172.7" fill="#bdbdcc">Y</tspan><tspan x="174.75" fill="#f7b2bc">M</tspan><tspan x="176.8" fill="#a8a8ae">F</tspan><tspan x="178.85" fill="#ff7070">N</tspan><tspan x="180.9" fill="#ff7070">L</tspan><tspan x="182.95" fill="#f7b2bc">P</tspan><tspan x="185" fill="#f7b2bc">D</tspan><tspan x="187.05" fill="#f7b2bc">P</tspan><tspan x="189.1" fill="#f7b2bc">M</tspan><tspan x="191.15" fill="#f7b2bc">T</tspan><tspan x="193.2" fill="#a8a8ae">Q</tspan><tspan x="195.25" fill="#f7b2bc">T</tspan><tspan x="197.3" fill="#f7b2bc">N</tspan><tspan x="199.35" fill="#f7b2bc">H</tspan><tspan x="201.4" fill="#f7b2bc">S</tspan><tspan x="203.45" fill="#f7b2bc">F</tspan><tspan x="205.5" fill="#a8a8ae">L</tspan><tspan x="207.55" fill="#f7b2bc">E</tspan><tspan x="209.6" fill="#bdbdcc">V</tspan><tspan x="211.65" fill="#f7b2bc">T</tspan><tspan x="213.7" fill="#bdbdcc">M</tspan><tspan x="215.75" fill="#f7b2bc">Y</tspan><tspan x="217.8" fill="#f7b2bc">P</tspan><tspan x="219.85" fill="#bdbdcc">G</tspan><tspan x="221.9" fill="#bdbdcc">Y</tspan><tspan x="223.95" fill="#f7b2bc">G</tspan><tspan x="226" fill="#ff7070">C</tspan><tspan x="228.05" fill="#ff7070">Q</tspan><tspan x="230.1" fill="#bdbdcc">N</tspan><tspan x="232.15" fill="#bdbdcc">I</tspan><tspan x="234.2" fill="#f7b2bc">Y</tspan><tspan x="236.25" fill="#f7b2bc">R</tspan><tspan x="238.3" fill="#ff7070">I</tspan><tspan x="240.35" fill="#ff7070">L</tspan><tspan x="242.4" fill="#bdbdcc">S</tspan><tspan x="244.45" fill="#f7b2bc">H</tspan><tspan x="246.5" fill="#bdbdcc">W</tspan><tspan x="248.55" fill="#f7b2bc">R</tspan><tspan x="250.6" fill="#ff7070">P</tspan><tspan x="252.65" fill="#a8a8ae">T</tspan><tspan x="254.7" fill="#f7b2bc">T</tspan><tspan x="256.75" fill="#bdbdcc">G</tspan><tspan x="258.8" fill="#f7b2bc">Y</tspan><tspan x="260.85" fill="#ff7070">K</tspan><tspan x="262.9" fill="#ff7070">C</tspan><tspan x="264.95" fill="#bdbdcc">S</tspan><tspan x="267" fill="#bdbdcc">V</tspan><tspan x="269.05" fill="#bdbdcc">T</tspan><tspan x="271.1" fill="#f7b2bc">L</tspan><tspan x="273.15" fill="#a8a8ae">G</tspan><tspan x="275.2" fill="#a8a8ae">K</tspan><tspan x="277.25" fill="#ff7070">R</tspan><tspan x="279.3" fill="#ff7070">T</tspan><tspan x="281.35" fill="#fff2f2">F</tspan><tspan x="283.4" fill="#ff7070">Q</tspan><tspan x="285.45" fill="#fff2f2">D</tspan><tspan x="287.5" fill="#ff7070">I</tspan><tspan x="289.55" fill="#fff2f2">R</tspan><tspan x="291.6" fill="#ff7070">N</tspan><tspan x="293.65" fill="#ff7070">A</tspan><tspan x="295.7" fill="#ff7070">Q</tspan><tspan x="297.75" fill="#ff7070">C</tspan><tspan x="299.8" fill="#fff2f2">P</tspan><tspan x="301.85" fill="#fff2f2">T</tspan><tspan x="303.9" fill="#ff7070">N</tspan><tspan x="305.95" fill="#a8a8ae">I</tspan><tspan x="308" fill="#bdbdcc">P</tspan><tspan x="310.05" fill="#f7b2bc">N</tspan><tspan x="312.1" fill="#bdbdcc">M</tspan><tspan x="314.15" fill="#bdbdcc">M</tspan><tspan x="316.2" fill="#f7b2bc">F</tspan><tspan x="318.25" fill="#f7b2bc">S</tspan><tspan x="320.3" fill="#a8a8ae">F</tspan><tspan x="322.35" fill="#f7b2bc">S</tspan><tspan x="324.4" fill="#bdbdcc">A</tspan><tspan x="326.45" fill="#f7b2bc">A</tspan><tspan x="328.5" fill="#bdbdcc">F</tspan><tspan x="330.55" fill="#bdbdcc">Y</tspan><tspan x="332.6" fill="#bdbdcc">E</tspan><tspan x="334.65" fill="#f7b2bc">I</tspan><tspan x="336.7" fill="#f7b2bc">C</tspan><tspan x="338.75" fill="#f7b2bc">Y</tspan><tspan x="340.8" fill="#bdbdcc">E</tspan><tspan x="342.85" fill="#bdbdcc">S</tspan><tspan x="344.9" fill="#bdbdcc">A</tspan><tspan x="373.6" fill="#f7b2bc">W</tspan><tspan x="375.65" fill="#f7b2bc">F</tspan><tspan x="377.7" fill="#f7b2bc">A</tspan><tspan x="379.75" fill="#f7b2bc">I</tspan><tspan x="381.8" fill="#f7b2bc">G</tspan><tspan x="383.85" fill="#f7b2bc">D</tspan><tspan x="385.9" fill="#f7b2bc">N</tspan><tspan x="387.95" fill="#f7b2bc">T</tspan><tspan x="390" fill="#f7b2bc">T</tspan><tspan x="392.05" fill="#bdbdcc">P</tspan><tspan x="394.1" fill="#f7b2bc">C</tspan><tspan x="396.15" fill="#f7b2bc">N</tspan><tspan x="398.2" fill="#f7b2bc">A</tspan><tspan x="400.25" fill="#f7b2bc">D</tspan><tspan x="402.3" fill="#f7b2bc">E</tspan><tspan x="404.35" fill="#f7b2bc">M</tspan><tspan x="406.4" fill="#f7b2bc">N</tspan><tspan x="408.45" fill="#bdbdcc">G</tspan><tspan x="410.5" fill="#bdbdcc">R</tspan><tspan x="412.55" fill="#bdbdcc">S</tspan><tspan x="414.6" fill="#f7b2bc">F</tspan><tspan x="416.65" fill="#f7b2bc">R</tspan><tspan x="418.7" fill="#f7b2bc">H</tspan><tspan x="420.75" fill="#bdbdcc">H</tspan><tspan x="422.8" fill="#bdbdcc">M</tspan><tspan x="424.85" fill="#a8a8ae">T</tspan><tspan x="426.9" fill="#bdbdcc">P</tspan><tspan x="428.95" fill="#f7b2bc">V</tspan><tspan x="431" fill="#bdbdcc">C</tspan><tspan x="433.05" fill="#f7b2bc">H</tspan><tspan x="435.1" fill="#bdbdcc">C</tspan><tspan x="437.15" fill="#f7b2bc">M</tspan><tspan x="439.2" fill="#f7b2bc">N</tspan><tspan x="441.25" fill="#bdbdcc">P</tspan><tspan x="443.3" fill="#f7b2bc">P</tspan><tspan x="445.35" fill="#f7b2bc">G</tspan><tspan x="447.4" fill="#a8a8ae">S</tspan><tspan x="449.45" fill="#bdbdcc">N</tspan><tspan x="451.5" fill="#f7b2bc">T</tspan><tspan x="453.55" fill="#f7b2bc">D</tspan><tspan x="455.6" fill="#f7b2bc">D</tspan><tspan x="457.65" fill="#f7b2bc">G</tspan><tspan x="459.7" fill="#f7b2bc">M</tspan><tspan x="461.75" fill="#a8a8ae">M</tspan><tspan x="463.8" fill="#a8a8ae">L</tspan><tspan x="465.85" fill="#a8a8ae">L</tspan><tspan x="467.9" fill="#a8a8ae">R</tspan><tspan x="469.95" fill="#a8a8ae">Y</tspan><tspan x="472" fill="#a8a8ae">Q</tspan><tspan x="474.05" fill="#bdbdcc">G</tspan><tspan x="476.1" fill="#f7b2bc">N</tspan><tspan x="478.15" fill="#a8a8ae">N</tspan><tspan x="480.2" fill="#bdbdcc">Y</tspan><tspan x="482.25" fill="#f7b2bc">K</tspan><tspan x="484.3" fill="#f7b2bc">C</tspan><tspan x="486.35" fill="#f7b2bc">P</tspan><tspan x="488.4" fill="#bdbdcc">G</tspan><tspan x="490.45" fill="#f7b2bc">F</tspan><tspan x="492.5" fill="#f7b2bc">R</tspan><tspan x="494.55" fill="#f7b2bc">D</tspan><tspan x="496.6" fill="#f7b2bc">N</tspan><tspan x="498.65" fill="#f7b2bc">W</tspan><tspan x="500.7" fill="#f7b2bc">F</tspan><tspan x="502.75" fill="#a8a8ae">N</tspan><tspan x="504.8" fill="#a8a8ae">N</tspan><tspan x="506.85" fill="#a8a8ae">R</tspan><tspan x="508.9" fill="#a8a8ae">D</tspan><tspan x="510.95" fill="#a8a8ae">W</tspan><tspan x="513" fill="#f7b2bc">F</tspan></text><text y="516.99" font-family="Liberation Sans, sans-serif" font-size="2.8"><tspan x="154.25" fill="#a8a8ae">P</tspan><tspan x="156.3" fill="#a8a8ae">M</tspan><tspan x="158.35" fill="#f7b2bc">K</tspan><tspan x="160.4" fill="#f7b2bc">E</tspan><tspan x="162.45" fill="#f7b2bc">G</tspan><tspan x="164.5" fill="#bdbdcc">P</tspan><tspan x="166.55" fill="#f7b2bc">E</tspan><tspan x="168.6" fill="#bdbdcc">K</tspan><tspan x="170.65" fill="#bdbdcc">H</tspan><tspan x="172.7" fill="#bdbdcc">L</tspan><tspan x="174.75" fill="#f7b2bc">S</tspan><tspan x="176.8" fill="#a8a8ae">F</tspan><tspan x="178.85" fill="#ff7070">D</tspan><tspan x="180.9" fill="#ff7070">R</tspan><tspan x="182.95" fill="#bdbdcc">G</tspan><tspan x="185" fill="#bdbdcc">R</tspan><tspan x="187.05" fill="#f7b2bc">M</tspan><tspan x="189.1" fill="#f7b2bc">D</tspan><tspan x="191.15" fill="#bdbdcc">L</tspan><tspan x="193.2" fill="#a8a8ae">G</tspan><tspan x="195.25" fill="#bdbdcc">G</tspan><tspan x="197.3" fill="#f7b2bc">T</tspan><tspan x="199.35" fill="#bdbdcc">H</tspan><tspan x="201.4" fill="#bdbdcc">I</tspan><tspan x="203.45" fill="#f7b2bc">A</tspan><tspan x="205.5" fill="#a8a8ae">W</tspan><tspan x="207.55" fill="#f7b2bc">N</tspan><tspan x="209.6" fill="#f7b2bc">V</tspan><tspan x="211.65" fill="#f7b2bc">D</tspan><tspan x="213.7" fill="#bdbdcc">P</tspan><tspan x="215.75" fill="#f7b2bc">S</tspan><tspan x="217.8" fill="#bdbdcc">Q</tspan><tspan x="219.85" fill="#f7b2bc">D</tspan><tspan x="221.9" fill="#f7b2bc">M</tspan><tspan x="223.95" fill="#f7b2bc">R</tspan><tspan x="226" fill="#ff7070">T</tspan><tspan x="228.05" fill="#ff7070">N</tspan><tspan x="230.1" fill="#bdbdcc">F</tspan><tspan x="232.15" fill="#bdbdcc">V</tspan><tspan x="234.2" fill="#bdbdcc">G</tspan><tspan x="236.25" fill="#f7b2bc">F</tspan><tspan x="238.3" fill="#ff7070">C</tspan><tspan x="240.35" fill="#ff7070">E</tspan><tspan x="242.4" fill="#f7b2bc">T</tspan><tspan x="244.45" fill="#f7b2bc">G</tspan><tspan x="246.5" fill="#f7b2bc">I</tspan><tspan x="248.55" fill="#bdbdcc">T</tspan><tspan x="250.6" fill="#ff7070">D</tspan><tspan x="252.65" fill="#a8a8ae">K</tspan><tspan x="254.7" fill="#f7b2bc">H</tspan><tspan x="256.75" fill="#f7b2bc">V</tspan><tspan x="258.8" fill="#f7b2bc">L</tspan><tspan x="260.85" fill="#ff7070">D</tspan><tspan x="262.9" fill="#ff7070">T</tspan><tspan x="264.95" fill="#f7b2bc">G</tspan><tspan x="267" fill="#f7b2bc">W</tspan><tspan x="269.05" fill="#bdbdcc">Y</tspan><tspan x="271.1" fill="#f7b2bc">Y</tspan><tspan x="273.15" fill="#a8a8ae">W</tspan><tspan x="275.2" fill="#a8a8ae">C</tspan><tspan x="277.25" fill="#ff7070">A</tspan><tspan x="279.3" fill="#ff7070">D</tspan><tspan x="281.35" fill="#fff2f2">C</tspan><tspan x="283.4" fill="#ff7070">W</tspan><tspan x="285.45" fill="#fff2f2">K</tspan><tspan x="287.5" fill="#ff7070">H</tspan><tspan x="289.55" fill="#fff2f2">W</tspan><tspan x="291.6" fill="#ff7070">Q</tspan><tspan x="293.65" fill="#ff7070">Y</tspan><tspan x="295.7" fill="#ff7070">A</tspan><tspan x="297.75" fill="#ff7070">S</tspan><tspan x="299.8" fill="#fff2f2">V</tspan><tspan x="301.85" fill="#fff2f2">L</tspan><tspan x="303.9" fill="#ff7070">L</tspan><tspan x="305.95" fill="#a8a8ae">S</tspan><tspan x="308" fill="#bdbdcc">I</tspan><tspan x="310.05" fill="#f7b2bc">P</tspan><tspan x="312.1" fill="#f7b2bc">D</tspan><tspan x="314.15" fill="#f7b2bc">G</tspan><tspan x="316.2" fill="#f7b2bc">S</tspan><tspan x="318.25" fill="#f7b2bc">M</tspan><tspan x="320.3" fill="#a8a8ae">M</tspan><tspan x="322.35" fill="#bdbdcc">M</tspan><tspan x="324.4" fill="#bdbdcc">N</tspan><tspan x="326.45" fill="#bdbdcc">F</tspan><tspan x="328.5" fill="#bdbdcc">T</tspan><tspan x="330.55" fill="#f7b2bc">M</tspan><tspan x="332.6" fill="#f7b2bc">E</tspan><tspan x="334.65" fill="#f7b2bc">I</tspan><tspan x="336.7" fill="#f7b2bc">C</tspan><tspan x="338.75" fill="#bdbdcc">P</tspan><tspan x="340.8" fill="#f7b2bc">Q</tspan><tspan x="342.85" fill="#bdbdcc">G</tspan><tspan x="344.9" fill="#bdbdcc">W</tspan><tspan x="373.6" fill="#bdbdcc">H</tspan><tspan x="375.65" fill="#bdbdcc">S</tspan><tspan x="377.7" fill="#f7b2bc">R</tspan><tspan x="379.75" fill="#f7b2bc">L</tspan><tspan x="381.8" fill="#bdbdcc">D</tspan><tspan x="383.85" fill="#f7b2bc">T</tspan><tspan x="385.9" fill="#f7b2bc">I</tspan><tspan x="387.95" fill="#f7b2bc">N</tspan><tspan x="390" fill="#f7b2bc">L</tspan><tspan x="392.05" fill="#f7b2bc">S</tspan><tspan x="394.1" fill="#bdbdcc">A</tspan><tspan x="396.15" fill="#f7b2bc">Q</tspan><tspan x="398.2" fill="#bdbdcc">K</tspan><tspan x="400.25" fill="#f7b2bc">P</tspan><tspan x="402.3" fill="#f7b2bc">P</tspan><tspan x="404.35" fill="#f7b2bc">V</tspan><tspan x="406.4" fill="#f7b2bc">V</tspan><tspan x="408.45" fill="#f7b2bc">P</tspan><tspan x="410.5" fill="#f7b2bc">V</tspan><tspan x="412.55" fill="#bdbdcc">Y</tspan><tspan x="414.6" fill="#f7b2bc">E</tspan><tspan x="416.65" fill="#f7b2bc">E</tspan><tspan x="418.7" fill="#bdbdcc">M</tspan><tspan x="420.75" fill="#bdbdcc">N</tspan><tspan x="422.8" fill="#bdbdcc">H</tspan><tspan x="424.85" fill="#a8a8ae">P</tspan><tspan x="426.9" fill="#f7b2bc">T</tspan><tspan x="428.95" fill="#f7b2bc">C</tspan><tspan x="431" fill="#bdbdcc">M</tspan><tspan x="433.05" fill="#f7b2bc">T</tspan><tspan x="435.1" fill="#bdbdcc">Y</tspan><tspan x="437.15" fill="#f7b2bc">F</tspan><tspan x="439.2" fill="#f7b2bc">Y</tspan><tspan x="441.25" fill="#bdbdcc">P</tspan><tspan x="443.3" fill="#f7b2bc">L</tspan><tspan x="445.35" fill="#bdbdcc">T</tspan><tspan x="447.4" fill="#a8a8ae">V</tspan><tspan x="449.45" fill="#f7b2bc">S</tspan><tspan x="451.5" fill="#f7b2bc">L</tspan><tspan x="453.55" fill="#f7b2bc">A</tspan><tspan x="455.6" fill="#bdbdcc">E</tspan><tspan x="457.65" fill="#f7b2bc">W</tspan><tspan x="459.7" fill="#f7b2bc">A</tspan><tspan x="461.75" fill="#a8a8ae">K</tspan><tspan x="463.8" fill="#a8a8ae">W</tspan><tspan x="465.85" fill="#a8a8ae">W</tspan><tspan x="467.9" fill="#a8a8ae">I</tspan><tspan x="469.95" fill="#a8a8ae">C</tspan><tspan x="472" fill="#a8a8ae">W</tspan><tspan x="474.05" fill="#f7b2bc">S</tspan><tspan x="476.1" fill="#bdbdcc">Y</tspan><tspan x="478.15" fill="#a8a8ae">P</tspan><tspan x="480.2" fill="#f7b2bc">F</tspan><tspan x="482.25" fill="#f7b2bc">I</tspan><tspan x="484.3" fill="#f7b2bc">E</tspan><tspan x="486.35" fill="#f7b2bc">R</tspan><tspan x="488.4" fill="#f7b2bc">F</tspan><tspan x="490.45" fill="#f7b2bc">H</tspan><tspan x="492.5" fill="#bdbdcc">Y</tspan><tspan x="494.55" fill="#f7b2bc">C</tspan><tspan x="496.6" fill="#f7b2bc">T</tspan><tspan x="498.65" fill="#bdbdcc">M</tspan><tspan x="500.7" fill="#f7b2bc">S</tspan><tspan x="502.75" fill="#a8a8ae">M</tspan><tspan x="504.8" fill="#a8a8ae">G</tspan><tspan x="506.85" fill="#a8a8ae">R</tspan><tspan x="508.9" fill="#a8a8ae">V</tspan><tspan x="510.95" fill="#a8a8ae">M</tspan><tspan x="513" fill="#f7b2bc">V</tspan></text><text y="520.43" font-family="Liberation Sans, sans-serif" font-size="2.8"><tspan x="154.25" fill="#a8a8ae">K</tspan><tspan x="156.3" fill="#a8a8ae">Y</tspan><tspan x="158.35" fill="#f7b2bc">S</tspan><tspan x="160.4" fill="#f7b2bc">I</tspan><tspan x="162.45" fill="#f7b2bc">L</tspan><tspan x="164.5" fill="#bdbdcc">L</tspan><tspan x="166.55" fill="#bdbdcc">H</tspan><tspan x="168.6" fill="#f7b2bc">S</tspan><tspan x="170.65" fill="#bdbdcc">N</tspan><tspan x="172.7" fill="#f7b2bc">K</tspan><tspan x="174.75" fill="#bdbdcc">W</tspan><tspan x="176.8" fill="#a8a8ae">P</tspan><tspan x="178.85" fill="#ff7070">P</tspan><tspan x="180.9" fill="#ff7070">N</tspan><tspan x="182.95" fill="#f7b2bc">F</tspan><tspan x="185" fill="#bdbdcc">L</tspan><tspan x="187.05" fill="#f7b2bc">D</tspan><tspan x="189.1" fill="#f7b2bc">R</tspan><tspan x="191.15" fill="#f7b2bc">S</tspan><tspan x="193.2" fill="#a8a8ae">V</tspan><tspan x="195.25" fill="#bdbdcc">K</tspan><tspan x="197.3" fill="#f7b2bc">K</tspan><tspan x="199.35" fill="#bdbdcc">Y</tspan><tspan x="201.4" fill="#f7b2bc">I</tspan><tspan x="203.45" fill="#f7b2bc">T</tspan><tspan x="205.5" fill="#a8a8ae">I</tspan><tspan x="207.55" fill="#f7b2bc">C</tspan><tspan x="209.6" fill="#f7b2bc">M</tspan><tspan x="211.65" fill="#f7b2bc">E</tspan><tspan x="213.7" fill="#f7b2bc">F</tspan><tspan x="215.75" fill="#bdbdcc">V</tspan><tspan x="217.8" fill="#f7b2bc">G</tspan><tspan x="219.85" fill="#f7b2bc">S</tspan><tspan x="221.9" fill="#bdbdcc">H</tspan><tspan x="223.95" fill="#f7b2bc">L</tspan><tspan x="226" fill="#ff7070">C</tspan><tspan x="228.05" fill="#ff7070">D</tspan><tspan x="230.1" fill="#f7b2bc">W</tspan><tspan x="232.15" fill="#bdbdcc">C</tspan><tspan x="234.2" fill="#f7b2bc">G</tspan><tspan x="236.25" fill="#bdbdcc">G</tspan><tspan x="238.3" fill="#ff7070">C</tspan><tspan x="240.35" fill="#ff7070">P</tspan><tspan x="242.4" fill="#f7b2bc">S</tspan><tspan x="244.45" fill="#bdbdcc">L</tspan><tspan x="246.5" fill="#f7b2bc">A</tspan><tspan x="248.55" fill="#f7b2bc">Y</tspan><tspan x="250.6" fill="#ff7070">M</tspan><tspan x="252.65" fill="#a8a8ae">L</tspan><tspan x="254.7" fill="#bdbdcc">R</tspan><tspan x="256.75" fill="#f7b2bc">V</tspan><tspan x="258.8" fill="#bdbdcc">F</tspan><tspan x="260.85" fill="#ff7070">R</tspan><tspan x="262.9" fill="#ff7070">K</tspan><tspan x="264.95" fill="#bdbdcc">H</tspan><tspan x="267" fill="#f7b2bc">M</tspan><tspan x="269.05" fill="#bdbdcc">R</tspan><tspan x="271.1" fill="#f7b2bc">G</tspan><tspan x="273.15" fill="#a8a8ae">M</tspan><tspan x="275.2" fill="#a8a8ae">L</tspan><tspan x="277.25" fill="#ff7070">W</tspan><tspan x="279.3" fill="#ff7070">H</tspan><tspan x="281.35" fill="#fff2f2">G</tspan><tspan x="283.4" fill="#ff7070">Y</tspan><tspan x="285.45" fill="#fff2f2">P</tspan><tspan x="287.5" fill="#ff7070">Q</tspan><tspan x="289.55" fill="#fff2f2">T</tspan><tspan x="291.6" fill="#ff7070">M</tspan><tspan x="293.65" fill="#ff7070">D</tspan><tspan x="295.7" fill="#ff7070">P</tspan><tspan x="297.75" fill="#ff7070">E</tspan><tspan x="299.8" fill="#fff2f2">G</tspan><tspan x="301.85" fill="#fff2f2">F</tspan><tspan x="303.9" fill="#ff7070">S</tspan><tspan x="305.95" fill="#a8a8ae">M</tspan><tspan x="308" fill="#f7b2bc">I</tspan><tspan x="310.05" fill="#f7b2bc">P</tspan><tspan x="312.1" fill="#bdbdcc">K</tspan><tspan x="314.15" fill="#f7b2bc">L</tspan><tspan x="316.2" fill="#f7b2bc">W</tspan><tspan x="318.25" fill="#f7b2bc">N</tspan><tspan x="320.3" fill="#a8a8ae">C</tspan><tspan x="322.35" fill="#f7b2bc">E</tspan><tspan x="324.4" fill="#f7b2bc">G</tspan><tspan x="326.45" fill="#bdbdcc">T</tspan><tspan x="328.5" fill="#bdbdcc">L</tspan><tspan x="330.55" fill="#f7b2bc">L</tspan><tspan x="332.6" fill="#f7b2bc">I</tspan><tspan x="334.65" fill="#f7b2bc">F</tspan><tspan x="336.7" fill="#bdbdcc">R</tspan><tspan x="338.75" fill="#f7b2bc">Y</tspan><tspan x="340.8" fill="#bdbdcc">V</tspan><tspan x="342.85" fill="#bdbdcc">V</tspan><tspan x="344.9" fill="#bdbdcc">H</tspan><tspan x="373.6" fill="#bdbdcc">Y</tspan><tspan x="375.65" fill="#f7b2bc">D</tspan><tspan x="377.7" fill="#bdbdcc">T</tspan><tspan x="379.75" fill="#bdbdcc">D</tspan><tspan x="381.8" fill="#f7b2bc">E</tspan><tspan x="383.85" fill="#bdbdcc">V</tspan><tspan x="385.9" fill="#f7b2bc">H</tspan><tspan x="387.95" fill="#f7b2bc">F</tspan><tspan x="390" fill="#f7b2bc">T</tspan><tspan x="392.05" fill="#bdbdcc">H</tspan><tspan x="394.1" fill="#f7b2bc">S</tspan><tspan x="396.15" fill="#f7b2bc">T</tspan><tspan x="398.2" fill="#f7b2bc">C</tspan><tspan x="400.25" fill="#f7b2bc">T</tspan><tspan x="402.3" fill="#f7b2bc">W</tspan><tspan x="404.35" fill="#f7b2bc">R</tspan><tspan x="406.4" fill="#f7b2bc">L</tspan><tspan x="408.45" fill="#f7b2bc">P</tspan><tspan x="410.5" fill="#bdbdcc">A</tspan><tspan x="412.55" fill="#f7b2bc">W</tspan><tspan x="414.6" fill="#f7b2bc">Q</tspan><tspan x="416.65" fill="#f7b2bc">D</tspan><tspan x="418.7" fill="#bdbdcc">C</tspan><tspan x="420.75" fill="#bdbdcc">D</tspan><tspan x="422.8" fill="#f7b2bc">S</tspan><tspan x="424.85" fill="#a8a8ae">Q</tspan><tspan x="426.9" fill="#bdbdcc">G</tspan><tspan x="428.95" fill="#f7b2bc">Q</tspan><tspan x="431" fill="#f7b2bc">P</tspan><tspan x="433.05" fill="#f7b2bc">P</tspan><tspan x="435.1" fill="#f7b2bc">V</tspan><tspan x="437.15" fill="#f7b2bc">N</tspan><tspan x="439.2" fill="#f7b2bc">V</tspan><tspan x="441.25" fill="#bdbdcc">F</tspan><tspan x="443.3" fill="#bdbdcc">I</tspan><tspan x="445.35" fill="#bdbdcc">A</tspan><tspan x="447.4" fill="#a8a8ae">R</tspan><tspan x="449.45" fill="#f7b2bc">V</tspan><tspan x="451.5" fill="#f7b2bc">P</tspan><tspan x="453.55" fill="#f7b2bc">I</tspan><tspan x="455.6" fill="#f7b2bc">F</tspan><tspan x="457.65" fill="#f7b2bc">E</tspan><tspan x="459.7" fill="#f7b2bc">Q</tspan><tspan x="461.75" fill="#a8a8ae">A</tspan><tspan x="463.8" fill="#a8a8ae">I</tspan><tspan x="465.85" fill="#a8a8ae">H</tspan><tspan x="467.9" fill="#a8a8ae">D</tspan><tspan x="469.95" fill="#a8a8ae">E</tspan><tspan x="472" fill="#a8a8ae">Y</tspan><tspan x="474.05" fill="#f7b2bc">C</tspan><tspan x="476.1" fill="#f7b2bc">C</tspan><tspan x="478.15" fill="#a8a8ae">C</tspan><tspan x="480.2" fill="#f7b2bc">P</tspan><tspan x="482.25" fill="#f7b2bc">V</tspan><tspan x="484.3" fill="#f7b2bc">C</tspan><tspan x="486.35" fill="#f7b2bc">L</tspan><tspan x="488.4" fill="#f7b2bc">W</tspan><tspan x="490.45" fill="#f7b2bc">Y</tspan><tspan x="492.5" fill="#f7b2bc">M</tspan><tspan x="494.55" fill="#bdbdcc">F</tspan><tspan x="496.6" fill="#f7b2bc">T</tspan><tspan x="498.65" fill="#f7b2bc">L</tspan><tspan x="500.7" fill="#bdbdcc">V</tspan><tspan x="502.75" fill="#a8a8ae">G</tspan><tspan x="504.8" fill="#a8a8ae">Q</tspan><tspan x="506.85" fill="#a8a8ae">V</tspan><tspan x="508.9" fill="#a8a8ae">S</tspan><tspan x="510.95" fill="#a8a8ae">C</tspan><tspan x="513" fill="#bdbdcc">N</tspan></text><text y="523.87" font-family="Liberation Sans, sans-serif" font-size="2.8"><tspan x="154.25" fill="#a8a8ae">P</tspan><tspan x="156.3" fill="#a8a8ae">T</tspan><tspan x="158.35" fill="#bdbdcc">M</tspan><tspan x="160.4" fill="#f7b2bc">Q</tspan><tspan x="162.45" fill="#f7b2bc">P</tspan><tspan x="164.5" fill="#f7b2bc">V</tspan><tspan x="166.55" fill="#f7b2bc">I</tspan><tspan x="168.6" fill="#bdbdcc">F</tspan><tspan x="170.65" fill="#bdbdcc">C</tspan><tspan x="172.7" fill="#bdbdcc">Q</tspan><tspan x="174.75" fill="#f7b2bc">F</tspan><tspan x="176.8" fill="#a8a8ae">K</tspan><tspan x="178.85" fill="#ff7070">H</tspan><tspan x="180.9" fill="#ff7070">M</tspan><tspan x="182.95" fill="#bdbdcc">D</tspan><tspan x="185" fill="#f7b2bc">N</tspan><tspan x="187.05" fill="#f7b2bc">H</tspan><tspan x="189.1" fill="#f7b2bc">P</tspan><tspan x="191.15" fill="#f7b2bc">Y</tspan><tspan x="193.2" fill="#a8a8ae">D</tspan><tspan x="195.25" fill="#bdbdcc">H</tspan><tspan x="197.3" fill="#bdbdcc">W</tspan><tspan x="199.35" fill="#f7b2bc">V</tspan><tspan x="201.4" fill="#bdbdcc">H</tspan><tspan x="203.45" fill="#f7b2bc">M</tspan><tspan x="205.5" fill="#a8a8ae">A</tspan><tspan x="207.55" fill="#bdbdcc">H</tspan><tspan x="209.6" fill="#f7b2bc">E</tspan><tspan x="211.65" fill="#bdbdcc">S</tspan><tspan x="213.7" fill="#f7b2bc">Y</tspan><tspan x="215.75" fill="#bdbdcc">P</tspan><tspan x="217.8" fill="#f7b2bc">V</tspan><tspan x="219.85" fill="#f7b2bc">L</tspan><tspan x="221.9" fill="#f7b2bc">V</tspan><tspan x="223.95" fill="#f7b2bc">L</tspan><tspan x="226" fill="#ff7070">T</tspan><tspan x="228.05" fill="#ff7070">S</tspan><tspan x="230.1" fill="#f7b2bc">R</tspan><tspan x="232.15" fill="#bdbdcc">S</tspan><tspan x="234.2" fill="#bdbdcc">M</tspan><tspan x="236.25" fill="#f7b2bc">N</tspan><tspan x="238.3" fill="#ff7070">C</tspan><tspan x="240.35" fill="#ff7070">W</tspan><tspan x="242.4" fill="#f7b2bc">I</tspan><tspan x="244.45" fill="#f7b2bc">A</tspan><tspan x="246.5" fill="#f7b2bc">W</tspan><tspan x="248.55" fill="#f7b2bc">Q</tspan><tspan x="250.6" fill="#ff7070">H</tspan><tspan x="252.65" fill="#a8a8ae">M</tspan><tspan x="254.7" fill="#f7b2bc">I</tspan><tspan x="256.75" fill="#f7b2bc">I</tspan><tspan x="258.8" fill="#f7b2bc">M</tspan><tspan x="260.85" fill="#ff7070">S</tspan><tspan x="262.9" fill="#ff7070">S</tspan><tspan x="264.95" fill="#f7b2bc">R</tspan><tspan x="267" fill="#f7b2bc">N</tspan><tspan x="269.05" fill="#f7b2bc">V</tspan><tspan x="271.1" fill="#bdbdcc">V</tspan><tspan x="273.15" fill="#a8a8ae">C</tspan><tspan x="275.2" fill="#a8a8ae">T</tspan><tspan x="277.25" fill="#ff7070">C</tspan><tspan x="279.3" fill="#ff7070">D</tspan><tspan x="281.35" fill="#fff2f2">C</tspan><tspan x="283.4" fill="#ff7070">A</tspan><tspan x="285.45" fill="#fff2f2">Q</tspan><tspan x="287.5" fill="#ff7070">F</tspan><tspan x="289.55" fill="#fff2f2">I</tspan><tspan x="291.6" fill="#ff7070">D</tspan><tspan x="293.65" fill="#ff7070">F</tspan><tspan x="295.7" fill="#ff7070">A</tspan><tspan x="297.75" fill="#ff7070">H</tspan><tspan x="299.8" fill="#fff2f2">T</tspan><tspan x="301.85" fill="#fff2f2">R</tspan><tspan x="303.9" fill="#ff7070">N</tspan><tspan x="305.95" fill="#a8a8ae">C</tspan><tspan x="308" fill="#f7b2bc">Y</tspan><tspan x="310.05" fill="#bdbdcc">Y</tspan><tspan x="312.1" fill="#f7b2bc">S</tspan><tspan x="314.15" fill="#f7b2bc">V</tspan><tspan x="316.2" fill="#f7b2bc">A</tspan><tspan x="318.25" fill="#f7b2bc">K</tspan><tspan x="320.3" fill="#a8a8ae">L</tspan><tspan x="322.35" fill="#bdbdcc">A</tspan><tspan x="324.4" fill="#bdbdcc">Q</tspan><tspan x="326.45" fill="#f7b2bc">G</tspan><tspan x="328.5" fill="#bdbdcc">E</tspan><tspan x="330.55" fill="#f7b2bc">I</tspan><tspan x="332.6" fill="#f7b2bc">T</tspan><tspan x="334.65" fill="#f7b2bc">N</tspan><tspan x="336.7" fill="#f7b2bc">P</tspan><tspan x="338.75" fill="#f7b2bc">P</tspan><tspan x="340.8" fill="#bdbdcc">I</tspan><tspan x="342.85" fill="#f7b2bc">I</tspan><tspan x="344.9" fill="#bdbdcc">D</tspan><tspan x="373.6" fill="#f7b2bc">C</tspan><tspan x="375.65" fill="#f7b2bc">P</tspan><tspan x="377.7" fill="#f7b2bc">S</tspan><tspan x="379.75" fill="#bdbdcc">A</tspan><tspan x="381.8" fill="#f7b2bc">D</tspan><tspan x="383.85" fill="#f7b2bc">Q</tspan></text><text y="527.31" font-family="Liberation Sans, sans-serif" font-size="2.8"><tspan x="148.45" fill="#a8a8ae">M</tspan><tspan x="150.5" fill="#a8a8ae">W</tspan><tspan x="152.55" fill="#a8a8ae">E</tspan><tspan x="154.6" fill="#a8a8ae">T</tspan><tspan x="156.65" fill="#a8a8ae">C</tspan><tspan x="158.7" fill="#f7b2bc">I</tspan><tspan x="160.75" fill="#f7b2bc">W</tspan><tspan x="162.8" fill="#bdbdcc">C</tspan><tspan x="164.85" fill="#bdbdcc">K</tspan><tspan x="166.9" fill="#bdbdcc">W</tspan><tspan x="168.95" fill="#bdbdcc">G</tspan><tspan x="171" fill="#f7b2bc">M</tspan><tspan x="173.05" fill="#bdbdcc">H</tspan><tspan x="175.1" fill="#bdbdcc">P</tspan><tspan x="177.15" fill="#a8a8ae">L</tspan><tspan x="179.2" fill="#ff7070">G</tspan><tspan x="181.25" fill="#f7b2bc">W</tspan><tspan x="183.3" fill="#f7b2bc">P</tspan><tspan x="185.35" fill="#f7b2bc">V</tspan><tspan x="187.4" fill="#f7b2bc">F</tspan><tspan x="189.45" fill="#f7b2bc">D</tspan><tspan x="191.5" fill="#f7b2bc">N</tspan><tspan x="193.55" fill="#a8a8ae">Q</tspan><tspan x="195.6" fill="#bdbdcc">I</tspan><tspan x="197.65" fill="#bdbdcc">M</tspan><tspan x="199.7" fill="#bdbdcc">Y</tspan><tspan x="201.75" fill="#bdbdcc">P</tspan><tspan x="203.8" fill="#f7b2bc">M</tspan><tspan x="205.85" fill="#a8a8ae">K</tspan><tspan x="207.9" fill="#f7b2bc">R</tspan><tspan x="209.95" fill="#f7b2bc">N</tspan><tspan x="212" fill="#f7b2bc">P</tspan><tspan x="214.05" fill="#f7b2bc">W</tspan><tspan x="216.1" fill="#bdbdcc">D</tspan><tspan x="218.15" fill="#bdbdcc">L</tspan><tspan x="220.2" fill="#f7b2bc">D</tspan><tspan x="222.25" fill="#f7b2bc">F</tspan><tspan x="224.3" fill="#f7b2bc">F</tspan><tspan x="226.35" fill="#ff7070">M</tspan><tspan x="228.4" fill="#ff7070">N</tspan><tspan x="230.45" fill="#f7b2bc">E</tspan><tspan x="232.5" fill="#f7b2bc">L</tspan><tspan x="234.55" fill="#f7b2bc">K</tspan><tspan x="236.6" fill="#f7b2bc">D</tspan><tspan x="238.65" fill="#ff7070">R</tspan><tspan x="240.7" fill="#a8a8ae">V</tspan><tspan x="242.75" fill="#f7b2bc">V</tspan><tspan x="244.8" fill="#f7b2bc">E</tspan><tspan x="246.85" fill="#f7b2bc">N</tspan><tspan x="248.9" fill="#f7b2bc">Y</tspan><tspan x="250.95" fill="#ff7070">M</tspan><tspan x="253" fill="#a8a8ae">P</tspan><tspan x="255.05" fill="#f7b2bc">A</tspan><tspan x="257.1" fill="#f7b2bc">P</tspan><tspan x="259.15" fill="#bdbdcc">V</tspan><tspan x="261.2" fill="#ff7070">I</tspan><tspan x="263.25" fill="#ff7070">W</tspan><tspan x="265.3" fill="#f7b2bc">T</tspan><tspan x="267.35" fill="#f7b2bc">P</tspan><tspan x="269.4" fill="#f7b2bc">K</tspan><tspan x="271.45" fill="#f7b2bc">S</tspan><tspan x="273.5" fill="#a8a8ae">G</tspan><tspan x="275.55" fill="#a8a8ae">Q</tspan><tspan x="277.6" fill="#ff7070">K</tspan><tspan x="279.65" fill="#ff7070">Q</tspan><tspan x="281.7" fill="#fff2f2">L</tspan><tspan x="283.75" fill="#ff7070">S</tspan><tspan x="285.8" fill="#fff2f2">D</tspan><tspan x="287.85" fill="#ff7070">N</tspan><tspan x="289.9" fill="#ff7070">K</tspan><tspan x="291.95" fill="#ff7070">I</tspan><tspan x="294" fill="#ff7070">S</tspan><tspan x="296.05" fill="#fff2f2">Y</tspan><tspan x="298.1" fill="#ff7070">Y</tspan><tspan x="300.15" fill="#fff2f2">H</tspan><tspan x="302.2" fill="#fff2f2">R</tspan><tspan x="304.25" fill="#ff7070">E</tspan><tspan x="306.3" fill="#a8a8ae">F</tspan><tspan x="308.35" fill="#f7b2bc">L</tspan><tspan x="310.4" fill="#f7b2bc">P</tspan><tspan x="312.45" fill="#f7b2bc">Y</tspan><tspan x="314.5" fill="#f7b2bc">M</tspan><tspan x="316.55" fill="#bdbdcc">Q</tspan><tspan x="318.6" fill="#f7b2bc">Y</tspan><tspan x="320.65" fill="#a8a8ae">M</tspan><tspan x="322.7" fill="#bdbdcc">Y</tspan><tspan x="324.75" fill="#f7b2bc">H</tspan><tspan x="326.8" fill="#bdbdcc">G</tspan><tspan x="328.85" fill="#f7b2bc">M</tspan><tspan x="330.9" fill="#bdbdcc">S</tspan><tspan x="332.95" fill="#f7b2bc">I</tspan><tspan x="335" fill="#bdbdcc">K</tspan><tspan x="337.05" fill="#f7b2bc">P</tspan><tspan x="339.1" fill="#f7b2bc">W</tspan><tspan x="341.15" fill="#f7b2bc">V</tspan><tspan x="343.2" fill="#f7b2bc">V</tspan><tspan x="345.25" fill="#a8a8ae">R</tspan><tspan x="347.3" fill="#858585">H</tspan><tspan x="373.95" fill="#bdbdcc">R</tspan><tspan x="376" fill="#bdbdcc">D</tspan><tspan x="378.05" fill="#f7b2bc">Q</tspan><tspan x="380.1" fill="#f7b2bc">F</tspan><tspan x="382.15" fill="#f7b2bc">I</tspan><tspan x="384.2" fill="#bdbdcc">F</tspan><tspan x="386.25" fill="#f7b2bc">P</tspan><tspan x="388.3" fill="#f7b2bc">Y</tspan><tspan x="390.35" fill="#f7b2bc">P</tspan><tspan x="392.4" fill="#f7b2bc">Q</tspan><tspan x="394.45" fill="#bdbdcc">N</tspan><tspan x="396.5" fill="#f7b2bc">V</tspan><tspan x="398.55" fill="#f7b2bc">D</tspan><tspan x="400.6" fill="#f7b2bc">I</tspan><tspan x="402.65" fill="#f7b2bc">N</tspan><tspan x="404.7" fill="#f7b2bc">Y</tspan><tspan x="406.75" fill="#bdbdcc">P</tspan><tspan x="408.8" fill="#bdbdcc">M</tspan><tspan x="410.85" fill="#f7b2bc">Q</tspan><tspan x="412.9" fill="#f7b2bc">E</tspan><tspan x="414.95" fill="#bdbdcc">T</tspan><tspan x="417" fill="#bdbdcc">V</tspan><tspan x="419.05" fill="#f7b2bc">W</tspan><tspan x="421.1" fill="#f7b2bc">N</tspan><tspan x="423.15" fill="#bdbdcc">W</tspan><tspan x="425.2" fill="#a8a8ae">F</tspan><tspan x="427.25" fill="#bdbdcc">N</tspan><tspan x="429.3" fill="#f7b2bc">S</tspan><tspan x="431.35" fill="#bdbdcc">Q</tspan><tspan x="433.4" fill="#f7b2bc">D</tspan><tspan x="435.45" fill="#f7b2bc">F</tspan><tspan x="437.5" fill="#f7b2bc">M</tspan><tspan x="439.55" fill="#f7b2bc">H</tspan><tspan x="441.6" fill="#f7b2bc">N</tspan><tspan x="443.65" fill="#bdbdcc">R</tspan><tspan x="445.7" fill="#f7b2bc">R</tspan><tspan x="447.75" fill="#a8a8ae">L</tspan><tspan x="449.8" fill="#f7b2bc">C</tspan><tspan x="451.85" fill="#f7b2bc">E</tspan><tspan x="453.9" fill="#f7b2bc">M</tspan><tspan x="455.95" fill="#bdbdcc">G</tspan><tspan x="458" fill="#f7b2bc">I</tspan><tspan x="460.05" fill="#f7b2bc">V</tspan><tspan x="462.1" fill="#a8a8ae">V</tspan><tspan x="464.15" fill="#a8a8ae">Q</tspan><tspan x="466.2" fill="#a8a8ae">R</tspan><tspan x="468.25" fill="#a8a8ae">I</tspan><tspan x="470.3" fill="#a8a8ae">P</tspan><tspan x="472.35" fill="#a8a8ae">G</tspan><tspan x="474.4" fill="#bdbdcc">G</tspan><tspan x="476.45" fill="#f7b2bc">Q</tspan><tspan x="478.5" fill="#a8a8ae">Y</tspan><tspan x="480.55" fill="#f7b2bc">H</tspan><tspan x="482.6" fill="#f7b2bc">Q</tspan><tspan x="484.65" fill="#f7b2bc">H</tspan><tspan x="486.7" fill="#f7b2bc">D</tspan><tspan x="488.75" fill="#f7b2bc">V</tspan><tspan x="490.8" fill="#f7b2bc">M</tspan><tspan x="492.85" fill="#f7b2bc">E</tspan><tspan x="494.9" fill="#f7b2bc">S</tspan><tspan x="496.95" fill="#f7b2bc">M</tspan><tspan x="499" fill="#f7b2bc">Y</tspan><tspan x="501.05" fill="#a8a8ae">E</tspan><tspan x="503.1" fill="#a8a8ae">N</tspan><tspan x="505.15" fill="#a8a8ae">N</tspan><tspan x="507.2" fill="#a8a8ae">R</tspan><tspan x="509.25" fill="#a8a8ae">Y</tspan><tspan x="511.3" fill="#f7b2bc">G</tspan><tspan x="513.35" fill="#bdbdcc">L</tspan></text><text y="530.75" font-family="Liberation Sans, sans-serif" font-size="2.8"><tspan x="148.45" fill="#a8a8ae">W</tspan><tspan x="150.5" fill="#a8a8ae">D</tspan><tspan x="152.55" fill="#a8a8ae">F</tspan><tspan x="154.6" fill="#a8a8ae">M</tspan><tspan x="156.65" fill="#a8a8ae">E</tspan><tspan x="158.7" fill="#f7b2bc">I</tspan><tspan x="160.75" fill="#f7b2bc">G</tspan><tspan x="162.8" fill="#f7b2bc">F</tspan><tspan x="164.85" fill="#bdbdcc">Q</tspan><tspan x="166.9" fill="#f7b2bc">W</tspan><tspan x="168.95" fill="#f7b2bc">G</tspan><tspan x="171" fill="#bdbdcc">V</tspan><tspan x="173.05" fill="#bdbdcc">G</tspan><tspan x="175.1" fill="#f7b2bc">S</tspan><tspan x="177.15" fill="#a8a8ae">G</tspan><tspan x="179.2" fill="#ff7070">M</tspan><tspan x="181.25" fill="#f7b2bc">R</tspan><tspan x="183.3" fill="#bdbdcc">N</tspan><tspan x="185.35" fill="#f7b2bc">S</tspan><tspan x="187.4" fill="#bdbdcc">P</tspan><tspan x="189.45" fill="#f7b2bc">T</tspan><tspan x="191.5" fill="#f7b2bc">Q</tspan><tspan x="193.55" fill="#a8a8ae">Q</tspan><tspan x="195.6" fill="#f7b2bc">R</tspan><tspan x="197.65" fill="#bdbdcc">D</tspan><tspan x="199.7" fill="#f7b2bc">I</tspan><tspan x="201.75" fill="#f7b2bc">K</tspan><tspan x="203.8" fill="#f7b2bc">L</tspan><tspan x="205.85" fill="#a8a8ae">R</tspan><tspan x="207.9" fill="#f7b2bc">W</tspan><tspan x="209.95" fill="#f7b2bc">S</tspan><tspan x="212" fill="#f7b2bc">E</tspan><tspan x="214.05" fill="#bdbdcc">K</tspan><tspan x="216.1" fill="#f7b2bc">N</tspan><tspan x="218.15" fill="#bdbdcc">C</tspan><tspan x="220.2" fill="#f7b2bc">R</tspan><tspan x="222.25" fill="#f7b2bc">Q</tspan><tspan x="224.3" fill="#f7b2bc">I</tspan><tspan x="226.35" fill="#ff7070">C</tspan><tspan x="228.4" fill="#ff7070">R</tspan><tspan x="230.45" fill="#f7b2bc">K</tspan><tspan x="232.5" fill="#f7b2bc">D</tspan><tspan x="234.55" fill="#bdbdcc">E</tspan><tspan x="236.6" fill="#f7b2bc">I</tspan><tspan x="238.65" fill="#ff7070">W</tspan><tspan x="240.7" fill="#a8a8ae">N</tspan><tspan x="242.75" fill="#f7b2bc">Y</tspan><tspan x="244.8" fill="#f7b2bc">G</tspan><tspan x="246.85" fill="#bdbdcc">H</tspan><tspan x="248.9" fill="#f7b2bc">C</tspan><tspan x="250.95" fill="#ff7070">V</tspan><tspan x="253" fill="#a8a8ae">K</tspan><tspan x="255.05" fill="#f7b2bc">Y</tspan><tspan x="257.1" fill="#bdbdcc">M</tspan><tspan x="259.15" fill="#f7b2bc">L</tspan><tspan x="261.2" fill="#ff7070">K</tspan><tspan x="263.25" fill="#ff7070">T</tspan><tspan x="265.3" fill="#f7b2bc">E</tspan><tspan x="267.35" fill="#bdbdcc">Q</tspan><tspan x="269.4" fill="#bdbdcc">K</tspan><tspan x="271.45" fill="#bdbdcc">F</tspan><tspan x="273.5" fill="#a8a8ae">F</tspan><tspan x="275.55" fill="#a8a8ae">I</tspan><tspan x="277.6" fill="#ff7070">F</tspan><tspan x="279.65" fill="#ff7070">M</tspan><tspan x="281.7" fill="#fff2f2">I</tspan><tspan x="283.75" fill="#ff7070">P</tspan><tspan x="285.8" fill="#fff2f2">S</tspan><tspan x="287.85" fill="#ff7070">F</tspan><tspan x="289.9" fill="#ff7070">W</tspan><tspan x="291.95" fill="#ff7070">K</tspan><tspan x="294" fill="#ff7070">Q</tspan><tspan x="296.05" fill="#fff2f2">P</tspan><tspan x="298.1" fill="#ff7070">R</tspan><tspan x="300.15" fill="#fff2f2">D</tspan><tspan x="302.2" fill="#fff2f2">D</tspan><tspan x="304.25" fill="#ff7070">P</tspan><tspan x="306.3" fill="#a8a8ae">T</tspan><tspan x="308.35" fill="#f7b2bc">K</tspan><tspan x="310.4" fill="#f7b2bc">N</tspan><tspan x="312.45" fill="#f7b2bc">S</tspan><tspan x="314.5" fill="#bdbdcc">A</tspan><tspan x="316.55" fill="#f7b2bc">D</tspan><tspan x="318.6" fill="#f7b2bc">R</tspan><tspan x="320.65" fill="#a8a8ae">N</tspan><tspan x="322.7" fill="#bdbdcc">D</tspan><tspan x="324.75" fill="#f7b2bc">P</tspan><tspan x="326.8" fill="#bdbdcc">Q</tspan><tspan x="328.85" fill="#f7b2bc">S</tspan><tspan x="330.9" fill="#f7b2bc">L</tspan><tspan x="332.95" fill="#f7b2bc">W</tspan><tspan x="335" fill="#bdbdcc">S</tspan><tspan x="337.05" fill="#f7b2bc">C</tspan><tspan x="339.1" fill="#f7b2bc">R</tspan><tspan x="341.15" fill="#f7b2bc">G</tspan><tspan x="343.2" fill="#bdbdcc">A</tspan><tspan x="345.25" fill="#a8a8ae">Q</tspan><tspan x="373.95" fill="#bdbdcc">H</tspan><tspan x="376" fill="#bdbdcc">F</tspan><tspan x="378.05" fill="#f7b2bc">L</tspan><tspan x="380.1" fill="#f7b2bc">K</tspan><tspan x="382.15" fill="#f7b2bc">N</tspan><tspan x="384.2" fill="#f7b2bc">N</tspan><tspan x="386.25" fill="#f7b2bc">G</tspan><tspan x="388.3" fill="#bdbdcc">L</tspan><tspan x="390.35" fill="#f7b2bc">I</tspan><tspan x="392.4" fill="#bdbdcc">D</tspan><tspan x="394.45" fill="#f7b2bc">A</tspan><tspan x="396.5" fill="#f7b2bc">D</tspan><tspan x="398.55" fill="#f7b2bc">I</tspan><tspan x="400.6" fill="#f7b2bc">R</tspan><tspan x="402.65" fill="#f7b2bc">M</tspan><tspan x="404.7" fill="#f7b2bc">Q</tspan><tspan x="406.75" fill="#f7b2bc">S</tspan><tspan x="408.8" fill="#f7b2bc">P</tspan><tspan x="410.85" fill="#f7b2bc">E</tspan><tspan x="412.9" fill="#bdbdcc">N</tspan><tspan x="414.95" fill="#f7b2bc">F</tspan><tspan x="417" fill="#bdbdcc">F</tspan><tspan x="419.05" fill="#f7b2bc">F</tspan><tspan x="421.1" fill="#f7b2bc">W</tspan><tspan x="423.15" fill="#f7b2bc">G</tspan><tspan x="425.2" fill="#a8a8ae">H</tspan><tspan x="427.25" fill="#bdbdcc">F</tspan><tspan x="429.3" fill="#bdbdcc">Y</tspan><tspan x="431.35" fill="#f7b2bc">H</tspan><tspan x="433.4" fill="#f7b2bc">E</tspan><tspan x="435.45" fill="#f7b2bc">E</tspan><tspan x="437.5" fill="#f7b2bc">P</tspan><tspan x="439.55" fill="#f7b2bc">Q</tspan><tspan x="441.6" fill="#f7b2bc">F</tspan><tspan x="443.65" fill="#f7b2bc">D</tspan><tspan x="445.7" fill="#bdbdcc">Y</tspan><tspan x="447.75" fill="#a8a8ae">Y</tspan><tspan x="449.8" fill="#f7b2bc">L</tspan><tspan x="451.85" fill="#f7b2bc">A</tspan><tspan x="453.9" fill="#f7b2bc">L</tspan><tspan x="455.95" fill="#f7b2bc">Y</tspan><tspan x="458" fill="#f7b2bc">P</tspan><tspan x="460.05" fill="#f7b2bc">C</tspan><tspan x="462.1" fill="#a8a8ae">I</tspan><tspan x="464.15" fill="#a8a8ae">S</tspan><tspan x="466.2" fill="#a8a8ae">P</tspan><tspan x="468.25" fill="#a8a8ae">E</tspan><tspan x="470.3" fill="#a8a8ae">I</tspan><tspan x="472.35" fill="#a8a8ae">S</tspan><tspan x="474.4" fill="#f7b2bc">Y</tspan><tspan x="476.45" fill="#bdbdcc">A</tspan><tspan x="478.5" fill="#a8a8ae">M</tspan><tspan x="480.55" fill="#f7b2bc">F</tspan><tspan x="482.6" fill="#f7b2bc">W</tspan><tspan x="484.65" fill="#f7b2bc">V</tspan><tspan x="486.7" fill="#bdbdcc">S</tspan><tspan x="488.75" fill="#f7b2bc">D</tspan><tspan x="490.8" fill="#f7b2bc">D</tspan><tspan x="492.85" fill="#f7b2bc">H</tspan><tspan x="494.9" fill="#bdbdcc">C</tspan><tspan x="496.95" fill="#f7b2bc">P</tspan><tspan x="499" fill="#f7b2bc">T</tspan><tspan x="501.05" fill="#a8a8ae">Q</tspan><tspan x="503.1" fill="#a8a8ae">P</tspan><tspan x="505.15" fill="#a8a8ae">D</tspan><tspan x="507.2" fill="#a8a8ae">V</tspan><tspan x="509.25" fill="#a8a8ae">V</tspan><tspan x="511.3" fill="#f7b2bc">Y</tspan><tspan x="513.35" fill="#f7b2bc">D</tspan></text><text y="534.19" font-family="Liberation Sans, sans-serif" font-size="2.8"><tspan x="154.25" fill="#a8a8ae">T</tspan><tspan x="156.3" fill="#a8a8ae">H</tspan><tspan x="158.35" fill="#f7b2bc">F</tspan><tspan x="160.4" fill="#bdbdcc">P</tspan><tspan x="162.45" fill="#f7b2bc">D</tspan><tspan x="164.5" fill="#bdbdcc">Q</tspan><tspan x="166.55" fill="#f7b2bc">I</tspan><tspan x="168.6" fill="#bdbdcc">D</tspan><tspan x="170.65" fill="#f7b2bc">E</tspan><tspan x="172.7" fill="#f7b2bc">Y</tspan><tspan x="174.75" fill="#f7b2bc">G</tspan><tspan x="176.8" fill="#a8a8ae">F</tspan><tspan x="178.85" fill="#ff7070">A</tspan><tspan x="180.9" fill="#ff7070">G</tspan><tspan x="182.95" fill="#bdbdcc">S</tspan><tspan x="185" fill="#f7b2bc">T</tspan><tspan x="187.05" fill="#f7b2bc">K</tspan><tspan x="189.1" fill="#f7b2bc">F</tspan><tspan x="191.15" fill="#f7b2bc">K</tspan><tspan x="193.2" fill="#a8a8ae">E</tspan><tspan x="195.25" fill="#f7b2bc">A</tspan><tspan x="197.3" fill="#f7b2bc">Q</tspan><tspan x="199.35" fill="#f7b2bc">D</tspan><tspan x="201.4" fill="#bdbdcc">W</tspan><tspan x="203.45" fill="#f7b2bc">S</tspan><tspan x="205.5" fill="#a8a8ae">N</tspan><tspan x="207.55" fill="#f7b2bc">C</tspan><tspan x="209.6" fill="#f7b2bc">W</tspan><tspan x="211.65" fill="#f7b2bc">G</tspan><tspan x="213.7" fill="#bdbdcc">E</tspan><tspan x="215.75" fill="#f7b2bc">E</tspan><tspan x="217.8" fill="#f7b2bc">T</tspan><tspan x="219.85" fill="#f7b2bc">A</tspan><tspan x="221.9" fill="#f7b2bc">S</tspan><tspan x="223.95" fill="#f7b2bc">F</tspan><tspan x="226" fill="#ff7070">C</tspan><tspan x="228.05" fill="#ff7070">V</tspan><tspan x="230.1" fill="#f7b2bc">Q</tspan><tspan x="232.15" fill="#f7b2bc">I</tspan><tspan x="234.2" fill="#f7b2bc">M</tspan><tspan x="236.25" fill="#bdbdcc">D</tspan><tspan x="238.3" fill="#ff7070">E</tspan><tspan x="240.35" fill="#ff7070">T</tspan><tspan x="242.4" fill="#f7b2bc">C</tspan><tspan x="244.45" fill="#bdbdcc">T</tspan><tspan x="246.5" fill="#f7b2bc">P</tspan><tspan x="248.55" fill="#bdbdcc">R</tspan><tspan x="250.6" fill="#ff7070">L</tspan><tspan x="252.65" fill="#a8a8ae">M</tspan><tspan x="254.7" fill="#f7b2bc">D</tspan><tspan x="256.75" fill="#f7b2bc">A</tspan><tspan x="258.8" fill="#f7b2bc">L</tspan><tspan x="260.85" fill="#ff7070">L</tspan><tspan x="262.9" fill="#ff7070">Y</tspan><tspan x="264.95" fill="#f7b2bc">I</tspan><tspan x="267" fill="#bdbdcc">W</tspan><tspan x="269.05" fill="#bdbdcc">H</tspan><tspan x="271.1" fill="#bdbdcc">V</tspan><tspan x="273.15" fill="#a8a8ae">I</tspan><tspan x="275.2" fill="#a8a8ae">F</tspan><tspan x="277.25" fill="#ff7070">A</tspan><tspan x="279.3" fill="#ff7070">Q</tspan><tspan x="281.35" fill="#fff2f2">A</tspan><tspan x="283.4" fill="#ff7070">I</tspan><tspan x="285.45" fill="#fff2f2">V</tspan><tspan x="287.5" fill="#ff7070">N</tspan><tspan x="289.55" fill="#fff2f2">A</tspan><tspan x="291.6" fill="#ff7070">M</tspan><tspan x="293.65" fill="#ff7070">A</tspan><tspan x="295.7" fill="#ff7070">P</tspan><tspan x="297.75" fill="#ff7070">L</tspan><tspan x="299.8" fill="#fff2f2">E</tspan><tspan x="301.85" fill="#fff2f2">H</tspan><tspan x="303.9" fill="#ff7070">T</tspan><tspan x="305.95" fill="#a8a8ae">I</tspan><tspan x="308" fill="#f7b2bc">Q</tspan><tspan x="310.05" fill="#bdbdcc">C</tspan><tspan x="312.1" fill="#f7b2bc">F</tspan><tspan x="314.15" fill="#f7b2bc">D</tspan><tspan x="316.2" fill="#bdbdcc">I</tspan><tspan x="318.25" fill="#f7b2bc">T</tspan><tspan x="320.3" fill="#a8a8ae">N</tspan><tspan x="322.35" fill="#bdbdcc">R</tspan><tspan x="324.4" fill="#bdbdcc">D</tspan><tspan x="326.45" fill="#f7b2bc">T</tspan><tspan x="328.5" fill="#f7b2bc">P</tspan><tspan x="330.55" fill="#f7b2bc">W</tspan><tspan x="332.6" fill="#f7b2bc">F</tspan><tspan x="334.65" fill="#bdbdcc">K</tspan><tspan x="336.7" fill="#bdbdcc">P</tspan><tspan x="338.75" fill="#f7b2bc">M</tspan><tspan x="340.8" fill="#f7b2bc">K</tspan><tspan x="342.85" fill="#f7b2bc">H</tspan><tspan x="344.9" fill="#f7b2bc">W</tspan><tspan x="346.95" fill="#858585">E</tspan><tspan x="349" fill="#858585">G</tspan><tspan x="351.05" fill="#858585">R</tspan><tspan x="353.1" fill="#858585">R</tspan><tspan x="355.15" fill="#858585">M</tspan><tspan x="357.2" fill="#858585">Q</tspan><tspan x="359.25" fill="#858585">E</tspan><tspan x="361.3" fill="#858585">V</tspan><tspan x="363.35" fill="#858585">N</tspan><tspan x="365.4" fill="#858585">H</tspan><tspan x="367.45" fill="#858585">R</tspan><tspan x="369.5" fill="#858585">L</tspan><tspan x="371.55" fill="#858585">R</tspan><tspan x="373.6" fill="#bdbdcc">K</tspan><tspan x="375.65" fill="#f7b2bc">D</tspan><tspan x="377.7" fill="#bdbdcc">L</tspan><tspan x="379.75" fill="#f7b2bc">Y</tspan><tspan x="381.8" fill="#f7b2bc">M</tspan><tspan x="383.85" fill="#bdbdcc">I</tspan><tspan x="385.9" fill="#f7b2bc">P</tspan><tspan x="387.95" fill="#f7b2bc">L</tspan><tspan x="390" fill="#f7b2bc">G</tspan><tspan x="392.05" fill="#bdbdcc">P</tspan><tspan x="394.1" fill="#bdbdcc">V</tspan><tspan x="396.15" fill="#f7b2bc">I</tspan><tspan x="398.2" fill="#bdbdcc">E</tspan><tspan x="400.25" fill="#f7b2bc">F</tspan><tspan x="402.3" fill="#f7b2bc">C</tspan><tspan x="404.35" fill="#f7b2bc">I</tspan><tspan x="406.4" fill="#f7b2bc">P</tspan><tspan x="408.45" fill="#bdbdcc">D</tspan><tspan x="410.5" fill="#bdbdcc">K</tspan><tspan x="412.55" fill="#f7b2bc">D</tspan><tspan x="414.6" fill="#f7b2bc">D</tspan><tspan x="416.65" fill="#bdbdcc">R</tspan><tspan x="418.7" fill="#bdbdcc">D</tspan><tspan x="420.75" fill="#f7b2bc">M</tspan><tspan x="422.8" fill="#f7b2bc">R</tspan><tspan x="424.85" fill="#a8a8ae">W</tspan><tspan x="426.9" fill="#bdbdcc">Q</tspan><tspan x="428.95" fill="#f7b2bc">P</tspan><tspan x="431" fill="#bdbdcc">P</tspan><tspan x="433.05" fill="#f7b2bc">G</tspan><tspan x="435.1" fill="#f7b2bc">G</tspan><tspan x="437.15" fill="#bdbdcc">R</tspan><tspan x="439.2" fill="#bdbdcc">C</tspan><tspan x="441.25" fill="#f7b2bc">Y</tspan><tspan x="443.3" fill="#f7b2bc">L</tspan><tspan x="445.35" fill="#f7b2bc">V</tspan><tspan x="447.4" fill="#a8a8ae">D</tspan><tspan x="449.45" fill="#f7b2bc">K</tspan><tspan x="451.5" fill="#f7b2bc">Q</tspan><tspan x="453.55" fill="#f7b2bc">T</tspan><tspan x="455.6" fill="#f7b2bc">V</tspan><tspan x="457.65" fill="#f7b2bc">P</tspan><tspan x="459.7" fill="#f7b2bc">N</tspan><tspan x="461.75" fill="#a8a8ae">S</tspan><tspan x="463.8" fill="#a8a8ae">N</tspan><tspan x="465.85" fill="#a8a8ae">W</tspan><tspan x="467.9" fill="#a8a8ae">T</tspan><tspan x="469.95" fill="#a8a8ae">M</tspan><tspan x="472" fill="#a8a8ae">P</tspan><tspan x="474.05" fill="#f7b2bc">K</tspan><tspan x="476.1" fill="#f7b2bc">M</tspan><tspan x="478.15" fill="#a8a8ae">A</tspan><tspan x="480.2" fill="#f7b2bc">K</tspan><tspan x="482.25" fill="#f7b2bc">S</tspan><tspan x="484.3" fill="#bdbdcc">W</tspan><tspan x="486.35" fill="#f7b2bc">G</tspan><tspan x="488.4" fill="#f7b2bc">I</tspan><tspan x="490.45" fill="#f7b2bc">C</tspan><tspan x="492.5" fill="#f7b2bc">I</tspan><tspan x="494.55" fill="#f7b2bc">P</tspan><tspan x="496.6" fill="#f7b2bc">G</tspan><tspan x="498.65" fill="#f7b2bc">W</tspan><tspan x="500.7" fill="#bdbdcc">N</tspan><tspan x="502.75" fill="#a8a8ae">A</tspan><tspan x="504.8" fill="#a8a8ae">N</tspan><tspan x="506.85" fill="#a8a8ae">W</tspan><tspan x="508.9" fill="#a8a8ae">W</tspan><tspan x="510.95" fill="#a8a8ae">F</tspan><tspan x="513" fill="#bdbdcc">W</tspan></text><text y="537.63" font-family="Liberation Sans, sans-serif" font-size="2.8"><tspan x="154.25" fill="#a8a8ae">S</tspan><tspan x="156.3" fill="#a8a8ae">V</tspan><tspan x="158.35" fill="#f7b2bc">L</tspan><tspan x="160.4" fill="#f7b2bc">C</tspan><tspan x="162.45" fill="#bdbdcc">I</tspan><tspan x="164.5" fill="#f7b2bc">A</tspan><tspan x="166.55" fill="#f7b2bc">A</tspan><tspan x="168.6" fill="#f7b2bc">Y</tspan><tspan x="170.65" fill="#f7b2bc">F</tspan><tspan x="172.7" fill="#bdbdcc">G</tspan><tspan x="174.75" fill="#f7b2bc">M</tspan><tspan x="176.8" fill="#a8a8ae">F</tspan><tspan x="178.85" fill="#ff7070">W</tspan><tspan x="180.9" fill="#ff7070">F</tspan><tspan x="182.95" fill="#f7b2bc">E</tspan><tspan x="185" fill="#bdbdcc">N</tspan><tspan x="187.05" fill="#f7b2bc">N</tspan><tspan x="189.1" fill="#f7b2bc">P</tspan><tspan x="191.15" fill="#f7b2bc">M</tspan><tspan x="193.2" fill="#a8a8ae">F</tspan><tspan x="195.25" fill="#bdbdcc">G</tspan><tspan x="197.3" fill="#bdbdcc">Q</tspan><tspan x="199.35" fill="#bdbdcc">S</tspan><tspan x="201.4" fill="#bdbdcc">G</tspan><tspan x="203.45" fill="#bdbdcc">V</tspan><tspan x="205.5" fill="#a8a8ae">Y</tspan><tspan x="207.55" fill="#f7b2bc">N</tspan><tspan x="209.6" fill="#bdbdcc">W</tspan><tspan x="211.65" fill="#f7b2bc">P</tspan><tspan x="213.7" fill="#f7b2bc">L</tspan><tspan x="215.75" fill="#bdbdcc">A</tspan><tspan x="217.8" fill="#f7b2bc">W</tspan><tspan x="219.85" fill="#f7b2bc">W</tspan><tspan x="221.9" fill="#f7b2bc">Y</tspan><tspan x="223.95" fill="#f7b2bc">Y</tspan><tspan x="226" fill="#ff7070">W</tspan><tspan x="228.05" fill="#ff7070">E</tspan><tspan x="230.1" fill="#f7b2bc">S</tspan><tspan x="232.15" fill="#f7b2bc">D</tspan><tspan x="234.2" fill="#f7b2bc">M</tspan><tspan x="236.25" fill="#bdbdcc">D</tspan><tspan x="238.3" fill="#ff7070">M</tspan><tspan x="240.35" fill="#ff7070">R</tspan><tspan x="242.4" fill="#f7b2bc">A</tspan><tspan x="244.45" fill="#f7b2bc">I</tspan><tspan x="246.5" fill="#f7b2bc">N</tspan><tspan x="248.55" fill="#f7b2bc">E</tspan><tspan x="250.6" fill="#ff7070">C</tspan><tspan x="252.65" fill="#a8a8ae">P</tspan><tspan x="254.7" fill="#f7b2bc">R</tspan><tspan x="256.75" fill="#bdbdcc">G</tspan><tspan x="258.8" fill="#bdbdcc">S</tspan><tspan x="260.85" fill="#ff7070">N</tspan><tspan x="262.9" fill="#ff7070">V</tspan><tspan x="264.95" fill="#f7b2bc">P</tspan><tspan x="267" fill="#bdbdcc">S</tspan><tspan x="269.05" fill="#bdbdcc">W</tspan><tspan x="271.1" fill="#f7b2bc">I</tspan><tspan x="273.15" fill="#a8a8ae">D</tspan><tspan x="275.2" fill="#a8a8ae">C</tspan><tspan x="277.25" fill="#ff7070">L</tspan><tspan x="279.3" fill="#ff7070">A</tspan><tspan x="281.35" fill="#fff2f2">M</tspan><tspan x="283.4" fill="#ff7070">K</tspan><tspan x="285.45" fill="#fff2f2">E</tspan><tspan x="287.5" fill="#ff7070">D</tspan><tspan x="289.55" fill="#fff2f2">M</tspan><tspan x="291.6" fill="#ff7070">G</tspan><tspan x="293.65" fill="#ff7070">P</tspan><tspan x="295.7" fill="#ff7070">G</tspan><tspan x="297.75" fill="#ff7070">D</tspan><tspan x="299.8" fill="#fff2f2">V</tspan><tspan x="301.85" fill="#fff2f2">D</tspan><tspan x="303.9" fill="#ff7070">M</tspan><tspan x="305.95" fill="#a8a8ae">Y</tspan><tspan x="308" fill="#bdbdcc">Y</tspan><tspan x="310.05" fill="#f7b2bc">A</tspan><tspan x="312.1" fill="#f7b2bc">G</tspan><tspan x="314.15" fill="#f7b2bc">Q</tspan><tspan x="316.2" fill="#f7b2bc">E</tspan><tspan x="318.25" fill="#f7b2bc">H</tspan><tspan x="320.3" fill="#a8a8ae">V</tspan><tspan x="322.35" fill="#f7b2bc">V</tspan><tspan x="324.4" fill="#f7b2bc">L</tspan><tspan x="326.45" fill="#f7b2bc">E</tspan><tspan x="328.5" fill="#bdbdcc">W</tspan><tspan x="330.55" fill="#f7b2bc">S</tspan><tspan x="332.6" fill="#f7b2bc">N</tspan><tspan x="334.65" fill="#f7b2bc">D</tspan><tspan x="336.7" fill="#f7b2bc">Y</tspan><tspan x="338.75" fill="#f7b2bc">E</tspan><tspan x="340.8" fill="#bdbdcc">G</tspan><tspan x="342.85" fill="#f7b2bc">D</tspan><tspan x="344.9" fill="#f7b2bc">E</tspan><tspan x="346.95" fill="#858585">P</tspan><tspan x="349" fill="#858585">S</tspan><tspan x="351.05" fill="#858585">S</tspan><tspan x="353.1" fill="#858585">K</tspan><tspan x="355.15" fill="#858585">D</tspan><tspan x="357.2" fill="#858585">V</tspan><tspan x="359.25" fill="#858585">P</tspan><tspan x="361.3" fill="#858585">G</tspan><tspan x="363.35" fill="#858585">N</tspan><tspan x="365.4" fill="#858585">P</tspan><tspan x="367.45" fill="#858585">N</tspan><tspan x="369.5" fill="#858585">G</tspan><tspan x="371.55" fill="#858585">R</tspan><tspan x="373.6" fill="#f7b2bc">C</tspan><tspan x="375.65" fill="#f7b2bc">R</tspan><tspan x="377.7" fill="#f7b2bc">K</tspan><tspan x="379.75" fill="#bdbdcc">F</tspan><tspan x="381.8" fill="#f7b2bc">E</tspan><tspan x="383.85" fill="#bdbdcc">N</tspan><tspan x="385.9" fill="#bdbdcc">Q</tspan><tspan x="387.95" fill="#f7b2bc">W</tspan><tspan x="390" fill="#bdbdcc">C</tspan><tspan x="392.05" fill="#f7b2bc">T</tspan><tspan x="394.1" fill="#f7b2bc">V</tspan><tspan x="396.15" fill="#f7b2bc">S</tspan><tspan x="398.2" fill="#f7b2bc">I</tspan><tspan x="400.25" fill="#f7b2bc">D</tspan><tspan x="402.3" fill="#f7b2bc">C</tspan><tspan x="404.35" fill="#f7b2bc">T</tspan><tspan x="406.4" fill="#f7b2bc">Y</tspan><tspan x="408.45" fill="#f7b2bc">R</tspan><tspan x="410.5" fill="#bdbdcc">G</tspan><tspan x="412.55" fill="#f7b2bc">H</tspan><tspan x="414.6" fill="#f7b2bc">Q</tspan><tspan x="416.65" fill="#f7b2bc">Q</tspan><tspan x="418.7" fill="#bdbdcc">F</tspan><tspan x="420.75" fill="#f7b2bc">K</tspan><tspan x="422.8" fill="#f7b2bc">D</tspan><tspan x="424.85" fill="#a8a8ae">V</tspan><tspan x="426.9" fill="#f7b2bc">P</tspan><tspan x="428.95" fill="#f7b2bc">K</tspan><tspan x="431" fill="#bdbdcc">A</tspan><tspan x="433.05" fill="#f7b2bc">Y</tspan><tspan x="435.1" fill="#f7b2bc">Q</tspan><tspan x="437.15" fill="#f7b2bc">F</tspan><tspan x="439.2" fill="#f7b2bc">W</tspan><tspan x="441.25" fill="#bdbdcc">E</tspan><tspan x="443.3" fill="#bdbdcc">W</tspan><tspan x="445.35" fill="#bdbdcc">L</tspan><tspan x="447.4" fill="#a8a8ae">N</tspan><tspan x="449.45" fill="#f7b2bc">Q</tspan><tspan x="451.5" fill="#f7b2bc">S</tspan><tspan x="453.55" fill="#f7b2bc">S</tspan><tspan x="455.6" fill="#f7b2bc">K</tspan><tspan x="457.65" fill="#f7b2bc">Y</tspan><tspan x="459.7" fill="#f7b2bc">P</tspan><tspan x="461.75" fill="#a8a8ae">M</tspan><tspan x="463.8" fill="#a8a8ae">I</tspan><tspan x="465.85" fill="#a8a8ae">C</tspan><tspan x="467.9" fill="#a8a8ae">S</tspan><tspan x="469.95" fill="#a8a8ae">K</tspan><tspan x="472" fill="#a8a8ae">N</tspan><tspan x="474.05" fill="#f7b2bc">A</tspan><tspan x="476.1" fill="#f7b2bc">L</tspan><tspan x="478.15" fill="#a8a8ae">S</tspan><tspan x="480.2" fill="#bdbdcc">E</tspan><tspan x="482.25" fill="#f7b2bc">I</tspan><tspan x="484.3" fill="#f7b2bc">R</tspan><tspan x="486.35" fill="#f7b2bc">M</tspan><tspan x="488.4" fill="#f7b2bc">Q</tspan><tspan x="490.45" fill="#f7b2bc">D</tspan><tspan x="492.5" fill="#bdbdcc">H</tspan><tspan x="494.55" fill="#f7b2bc">Q</tspan><tspan x="496.6" fill="#bdbdcc">T</tspan><tspan x="498.65" fill="#f7b2bc">C</tspan><tspan x="500.7" fill="#f7b2bc">G</tspan><tspan x="502.75" fill="#a8a8ae">T</tspan><tspan x="504.8" fill="#a8a8ae">P</tspan><tspan x="506.85" fill="#a8a8ae">F</tspan><tspan x="508.9" fill="#a8a8ae">T</tspan><tspan x="510.95" fill="#a8a8ae">W</tspan><tspan x="513" fill="#f7b2bc">A</tspan></text><text y="541.07" font-family="Liberation Sans, sans-serif" font-size="2.8"><tspan x="154.25" fill="#a8a8ae">H</tspan><tspan x="156.3" fill="#a8a8ae">C</tspan><tspan x="158.35" fill="#f7b2bc">I</tspan><tspan x="160.4" fill="#bdbdcc">C</tspan><tspan x="162.45" fill="#f7b2bc">H</tspan><tspan x="164.5" fill="#f7b2bc">R</tspan><tspan x="166.55" fill="#bdbdcc">E</tspan><tspan x="168.6" fill="#f7b2bc">I</tspan><tspan x="170.65" fill="#f7b2bc">Y</tspan><tspan x="172.7" fill="#bdbdcc">S</tspan><tspan x="174.75" fill="#f7b2bc">N</tspan><tspan x="176.8" fill="#a8a8ae">K</tspan><tspan x="178.85" fill="#ff7070">D</tspan><tspan x="180.9" fill="#ff7070">L</tspan><tspan x="182.95" fill="#f7b2bc">A</tspan><tspan x="185" fill="#bdbdcc">G</tspan><tspan x="187.05" fill="#bdbdcc">H</tspan><tspan x="189.1" fill="#f7b2bc">I</tspan><tspan x="191.15" fill="#f7b2bc">K</tspan><tspan x="193.2" fill="#a8a8ae">T</tspan><tspan x="195.25" fill="#bdbdcc">A</tspan><tspan x="197.3" fill="#f7b2bc">A</tspan><tspan x="199.35" fill="#bdbdcc">F</tspan><tspan x="201.4" fill="#bdbdcc">Y</tspan><tspan x="203.45" fill="#f7b2bc">I</tspan><tspan x="205.5" fill="#a8a8ae">L</tspan><tspan x="207.55" fill="#f7b2bc">K</tspan><tspan x="209.6" fill="#bdbdcc">P</tspan><tspan x="211.65" fill="#f7b2bc">R</tspan><tspan x="213.7" fill="#f7b2bc">R</tspan><tspan x="215.75" fill="#bdbdcc">T</tspan><tspan x="217.8" fill="#f7b2bc">P</tspan><tspan x="219.85" fill="#f7b2bc">A</tspan><tspan x="221.9" fill="#f7b2bc">N</tspan><tspan x="223.95" fill="#f7b2bc">Y</tspan><tspan x="226" fill="#ff7070">L</tspan><tspan x="228.05" fill="#ff7070">E</tspan><tspan x="230.1" fill="#f7b2bc">S</tspan><tspan x="232.15" fill="#bdbdcc">K</tspan><tspan x="234.2" fill="#f7b2bc">K</tspan><tspan x="236.25" fill="#f7b2bc">L</tspan><tspan x="238.3" fill="#ff7070">T</tspan><tspan x="240.35" fill="#ff7070">I</tspan><tspan x="242.4" fill="#bdbdcc">C</tspan><tspan x="244.45" fill="#f7b2bc">Y</tspan><tspan x="246.5" fill="#f7b2bc">M</tspan><tspan x="248.55" fill="#f7b2bc">A</tspan><tspan x="250.6" fill="#ff7070">L</tspan><tspan x="252.65" fill="#a8a8ae">K</tspan><tspan x="254.7" fill="#f7b2bc">Q</tspan><tspan x="256.75" fill="#f7b2bc">C</tspan><tspan x="258.8" fill="#bdbdcc">W</tspan><tspan x="260.85" fill="#ff7070">M</tspan><tspan x="262.9" fill="#ff7070">I</tspan><tspan x="264.95" fill="#bdbdcc">V</tspan><tspan x="267" fill="#bdbdcc">S</tspan><tspan x="269.05" fill="#f7b2bc">N</tspan><tspan x="271.1" fill="#bdbdcc">G</tspan><tspan x="273.15" fill="#a8a8ae">V</tspan><tspan x="275.2" fill="#a8a8ae">G</tspan><tspan x="277.25" fill="#ff7070">L</tspan><tspan x="279.3" fill="#ff7070">E</tspan><tspan x="281.35" fill="#fff2f2">S</tspan><tspan x="283.4" fill="#ff7070">F</tspan><tspan x="285.45" fill="#fff2f2">K</tspan><tspan x="287.5" fill="#ff7070">V</tspan><tspan x="289.55" fill="#fff2f2">G</tspan><tspan x="291.6" fill="#ff7070">M</tspan><tspan x="293.65" fill="#ff7070">D</tspan><tspan x="295.7" fill="#ff7070">I</tspan><tspan x="297.75" fill="#ff7070">N</tspan><tspan x="299.8" fill="#fff2f2">I</tspan><tspan x="301.85" fill="#fff2f2">L</tspan><tspan x="303.9" fill="#ff7070">Q</tspan><tspan x="305.95" fill="#a8a8ae">M</tspan><tspan x="308" fill="#f7b2bc">N</tspan><tspan x="310.05" fill="#f7b2bc">L</tspan><tspan x="312.1" fill="#f7b2bc">E</tspan><tspan x="314.15" fill="#f7b2bc">W</tspan><tspan x="316.2" fill="#f7b2bc">Y</tspan><tspan x="318.25" fill="#f7b2bc">H</tspan><tspan x="320.3" fill="#a8a8ae">P</tspan><tspan x="322.35" fill="#f7b2bc">T</tspan><tspan x="324.4" fill="#bdbdcc">C</tspan><tspan x="326.45" fill="#f7b2bc">F</tspan><tspan x="328.5" fill="#f7b2bc">H</tspan><tspan x="330.55" fill="#bdbdcc">W</tspan><tspan x="332.6" fill="#f7b2bc">R</tspan><tspan x="334.65" fill="#bdbdcc">G</tspan><tspan x="336.7" fill="#f7b2bc">S</tspan><tspan x="338.75" fill="#f7b2bc">G</tspan><tspan x="340.8" fill="#f7b2bc">C</tspan><tspan x="342.85" fill="#f7b2bc">K</tspan><tspan x="344.9" fill="#bdbdcc">G</tspan><tspan x="373.6" fill="#f7b2bc">G</tspan><tspan x="375.65" fill="#f7b2bc">D</tspan><tspan x="377.7" fill="#f7b2bc">Q</tspan><tspan x="379.75" fill="#f7b2bc">P</tspan><tspan x="381.8" fill="#f7b2bc">S</tspan><tspan x="383.85" fill="#f7b2bc">C</tspan><tspan x="385.9" fill="#bdbdcc">N</tspan><tspan x="387.95" fill="#bdbdcc">M</tspan><tspan x="390" fill="#f7b2bc">T</tspan><tspan x="392.05" fill="#f7b2bc">A</tspan><tspan x="394.1" fill="#f7b2bc">I</tspan><tspan x="396.15" fill="#f7b2bc">N</tspan><tspan x="398.2" fill="#f7b2bc">E</tspan><tspan x="400.25" fill="#f7b2bc">W</tspan><tspan x="402.3" fill="#f7b2bc">D</tspan><tspan x="404.35" fill="#bdbdcc">L</tspan><tspan x="406.4" fill="#f7b2bc">R</tspan><tspan x="408.45" fill="#f7b2bc">Y</tspan><tspan x="410.5" fill="#bdbdcc">Q</tspan><tspan x="412.55" fill="#f7b2bc">F</tspan><tspan x="414.6" fill="#f7b2bc">S</tspan><tspan x="416.65" fill="#f7b2bc">H</tspan><tspan x="418.7" fill="#f7b2bc">P</tspan><tspan x="420.75" fill="#bdbdcc">I</tspan><tspan x="422.8" fill="#f7b2bc">F</tspan><tspan x="424.85" fill="#a8a8ae">A</tspan><tspan x="426.9" fill="#f7b2bc">W</tspan><tspan x="428.95" fill="#f7b2bc">E</tspan><tspan x="431" fill="#f7b2bc">C</tspan><tspan x="433.05" fill="#bdbdcc">K</tspan><tspan x="435.1" fill="#f7b2bc">Y</tspan><tspan x="437.15" fill="#bdbdcc">C</tspan><tspan x="439.2" fill="#f7b2bc">A</tspan><tspan x="441.25" fill="#f7b2bc">E</tspan><tspan x="443.3" fill="#f7b2bc">P</tspan><tspan x="445.35" fill="#f7b2bc">K</tspan><tspan x="447.4" fill="#a8a8ae">F</tspan><tspan x="449.45" fill="#f7b2bc">H</tspan><tspan x="451.5" fill="#f7b2bc">A</tspan><tspan x="453.55" fill="#f7b2bc">E</tspan><tspan x="455.6" fill="#f7b2bc">K</tspan><tspan x="457.65" fill="#f7b2bc">F</tspan><tspan x="459.7" fill="#f7b2bc">E</tspan><tspan x="461.75" fill="#a8a8ae">Y</tspan><tspan x="463.8" fill="#a8a8ae">E</tspan><tspan x="465.85" fill="#a8a8ae">L</tspan><tspan x="467.9" fill="#a8a8ae">E</tspan><tspan x="469.95" fill="#a8a8ae">E</tspan><tspan x="472" fill="#a8a8ae">S</tspan><tspan x="474.05" fill="#bdbdcc">H</tspan><tspan x="476.1" fill="#bdbdcc">K</tspan><tspan x="478.15" fill="#a8a8ae">H</tspan><tspan x="480.2" fill="#f7b2bc">N</tspan><tspan x="482.25" fill="#f7b2bc">L</tspan><tspan x="484.3" fill="#f7b2bc">V</tspan><tspan x="486.35" fill="#f7b2bc">H</tspan><tspan x="488.4" fill="#f7b2bc">S</tspan><tspan x="490.45" fill="#f7b2bc">A</tspan><tspan x="492.5" fill="#bdbdcc">D</tspan><tspan x="494.55" fill="#f7b2bc">W</tspan><tspan x="496.6" fill="#bdbdcc">F</tspan><tspan x="498.65" fill="#f7b2bc">T</tspan><tspan x="500.7" fill="#bdbdcc">E</tspan><tspan x="502.75" fill="#a8a8ae">I</tspan><tspan x="504.8" fill="#a8a8ae">R</tspan><tspan x="506.85" fill="#a8a8ae">L</tspan><tspan x="508.9" fill="#a8a8ae">K</tspan><tspan x="510.95" fill="#a8a8ae">R</tspan><tspan x="513" fill="#f7b2bc">C</tspan></text><text y="544.51" font-family="Liberation Sans, sans-serif" font-size="2.8"><tspan x="150.45" fill="#a8a8ae">G</tspan><tspan x="152.5" fill="#a8a8ae">C</tspan><tspan x="154.55" fill="#a8a8ae">L</tspan><tspan x="156.6" fill="#a8a8ae">N</tspan><tspan x="158.65" fill="#f7b2bc">M</tspan><tspan x="160.7" fill="#f7b2bc">E</tspan><tspan x="162.75" fill="#f7b2bc">C</tspan><tspan x="164.8" fill="#bdbdcc">F</tspan><tspan x="166.85" fill="#f7b2bc">G</tspan><tspan x="168.9" fill="#bdbdcc">R</tspan><tspan x="170.95" fill="#bdbdcc">K</tspan><tspan x="173" fill="#f7b2bc">D</tspan><tspan x="175.05" fill="#f7b2bc">M</tspan><tspan x="177.1" fill="#a8a8ae">P</tspan><tspan x="179.15" fill="#ff7070">P</tspan><tspan x="181.2" fill="#f7b2bc">R</tspan><tspan x="183.25" fill="#f7b2bc">P</tspan><tspan x="185.3" fill="#f7b2bc">S</tspan><tspan x="187.35" fill="#f7b2bc">G</tspan><tspan x="189.4" fill="#bdbdcc">C</tspan><tspan x="191.45" fill="#f7b2bc">G</tspan><tspan x="193.5" fill="#a8a8ae">W</tspan><tspan x="195.55" fill="#bdbdcc">S</tspan><tspan x="197.6" fill="#f7b2bc">R</tspan><tspan x="199.65" fill="#bdbdcc">P</tspan><tspan x="201.7" fill="#f7b2bc">Y</tspan><tspan x="203.75" fill="#f7b2bc">F</tspan><tspan x="205.8" fill="#a8a8ae">S</tspan><tspan x="207.85" fill="#bdbdcc">E</tspan><tspan x="209.9" fill="#f7b2bc">R</tspan><tspan x="211.95" fill="#f7b2bc">K</tspan><tspan x="214" fill="#f7b2bc">A</tspan><tspan x="216.05" fill="#bdbdcc">T</tspan><tspan x="218.1" fill="#f7b2bc">W</tspan><tspan x="220.15" fill="#bdbdcc">I</tspan><tspan x="222.2" fill="#f7b2bc">M</tspan><tspan x="224.25" fill="#f7b2bc">Y</tspan><tspan x="226.3" fill="#ff7070">I</tspan><tspan x="228.35" fill="#ff7070">S</tspan><tspan x="230.4" fill="#bdbdcc">N</tspan><tspan x="232.45" fill="#f7b2bc">P</tspan><tspan x="234.5" fill="#bdbdcc">V</tspan><tspan x="236.55" fill="#f7b2bc">Y</tspan><tspan x="238.6" fill="#ff7070">G</tspan><tspan x="240.65" fill="#a8a8ae">T</tspan><tspan x="242.7" fill="#bdbdcc">S</tspan><tspan x="244.75" fill="#f7b2bc">G</tspan><tspan x="246.8" fill="#f7b2bc">S</tspan><tspan x="248.85" fill="#bdbdcc">M</tspan><tspan x="250.9" fill="#ff7070">C</tspan><tspan x="252.95" fill="#a8a8ae">T</tspan><tspan x="255" fill="#f7b2bc">I</tspan><tspan x="257.05" fill="#f7b2bc">P</tspan><tspan x="259.1" fill="#f7b2bc">I</tspan><tspan x="261.15" fill="#ff7070">R</tspan><tspan x="263.2" fill="#ff7070">W</tspan><tspan x="265.25" fill="#f7b2bc">R</tspan><tspan x="267.3" fill="#f7b2bc">S</tspan><tspan x="269.35" fill="#bdbdcc">E</tspan><tspan x="271.4" fill="#f7b2bc">A</tspan><tspan x="273.45" fill="#a8a8ae">Q</tspan><tspan x="275.5" fill="#a8a8ae">C</tspan><tspan x="277.55" fill="#ff7070">V</tspan><tspan x="279.6" fill="#ff7070">V</tspan><tspan x="281.65" fill="#fff2f2">A</tspan><tspan x="283.7" fill="#ff7070">D</tspan><tspan x="285.75" fill="#fff2f2">Y</tspan><tspan x="287.8" fill="#ff7070">Y</tspan><tspan x="289.85" fill="#ff7070">L</tspan><tspan x="291.9" fill="#ff7070">T</tspan><tspan x="293.95" fill="#ff7070">V</tspan><tspan x="296" fill="#ff7070">H</tspan><tspan x="298.05" fill="#ff7070">R</tspan><tspan x="300.1" fill="#fff2f2">M</tspan><tspan x="302.15" fill="#fff2f2">N</tspan><tspan x="304.2" fill="#ff7070">C</tspan><tspan x="306.25" fill="#a8a8ae">I</tspan><tspan x="308.3" fill="#f7b2bc">R</tspan><tspan x="310.35" fill="#f7b2bc">Y</tspan><tspan x="312.4" fill="#f7b2bc">N</tspan><tspan x="314.45" fill="#f7b2bc">E</tspan><tspan x="316.5" fill="#f7b2bc">I</tspan><tspan x="318.55" fill="#bdbdcc">N</tspan><tspan x="320.6" fill="#a8a8ae">L</tspan><tspan x="322.65" fill="#bdbdcc">V</tspan><tspan x="324.7" fill="#f7b2bc">E</tspan><tspan x="326.75" fill="#f7b2bc">G</tspan><tspan x="328.8" fill="#f7b2bc">Q</tspan><tspan x="330.85" fill="#f7b2bc">Y</tspan><tspan x="332.9" fill="#bdbdcc">E</tspan><tspan x="334.95" fill="#f7b2bc">P</tspan><tspan x="337" fill="#bdbdcc">H</tspan><tspan x="339.05" fill="#bdbdcc">E</tspan><tspan x="341.1" fill="#bdbdcc">C</tspan><tspan x="343.15" fill="#f7b2bc">W</tspan><tspan x="345.2" fill="#f7b2bc">R</tspan><tspan x="373.9" fill="#bdbdcc">W</tspan><tspan x="375.95" fill="#bdbdcc">F</tspan><tspan x="378" fill="#f7b2bc">A</tspan><tspan x="380.05" fill="#f7b2bc">C</tspan><tspan x="382.1" fill="#bdbdcc">Q</tspan><tspan x="384.15" fill="#bdbdcc">S</tspan><tspan x="386.2" fill="#f7b2bc">G</tspan><tspan x="388.25" fill="#bdbdcc">G</tspan><tspan x="390.3" fill="#f7b2bc">F</tspan><tspan x="392.35" fill="#f7b2bc">Y</tspan><tspan x="394.4" fill="#f7b2bc">M</tspan><tspan x="396.45" fill="#f7b2bc">P</tspan><tspan x="398.5" fill="#bdbdcc">Y</tspan><tspan x="400.55" fill="#f7b2bc">I</tspan><tspan x="402.6" fill="#bdbdcc">M</tspan><tspan x="404.65" fill="#f7b2bc">R</tspan><tspan x="406.7" fill="#f7b2bc">F</tspan><tspan x="408.75" fill="#f7b2bc">T</tspan><tspan x="410.8" fill="#bdbdcc">V</tspan><tspan x="412.85" fill="#bdbdcc">V</tspan><tspan x="414.9" fill="#f7b2bc">H</tspan><tspan x="416.95" fill="#bdbdcc">L</tspan><tspan x="419" fill="#bdbdcc">F</tspan><tspan x="421.05" fill="#f7b2bc">G</tspan><tspan x="423.1" fill="#bdbdcc">M</tspan><tspan x="425.15" fill="#a8a8ae">N</tspan><tspan x="427.2" fill="#f7b2bc">V</tspan><tspan x="429.25" fill="#bdbdcc">W</tspan><tspan x="431.3" fill="#bdbdcc">Q</tspan><tspan x="433.35" fill="#f7b2bc">V</tspan><tspan x="435.4" fill="#bdbdcc">Q</tspan><tspan x="437.45" fill="#f7b2bc">T</tspan><tspan x="439.5" fill="#f7b2bc">P</tspan><tspan x="441.55" fill="#f7b2bc">C</tspan><tspan x="443.6" fill="#bdbdcc">G</tspan><tspan x="445.65" fill="#f7b2bc">K</tspan><tspan x="447.7" fill="#a8a8ae">C</tspan><tspan x="449.75" fill="#f7b2bc">L</tspan><tspan x="451.8" fill="#f7b2bc">V</tspan><tspan x="453.85" fill="#f7b2bc">R</tspan><tspan x="455.9" fill="#bdbdcc">V</tspan><tspan x="457.95" fill="#f7b2bc">V</tspan><tspan x="460" fill="#f7b2bc">T</tspan><tspan x="462.05" fill="#a8a8ae">L</tspan><tspan x="464.1" fill="#a8a8ae">C</tspan><tspan x="466.15" fill="#a8a8ae">P</tspan><tspan x="468.2" fill="#a8a8ae">P</tspan><tspan x="470.25" fill="#a8a8ae">Q</tspan><tspan x="472.3" fill="#a8a8ae">M</tspan><tspan x="474.35" fill="#f7b2bc">V</tspan><tspan x="476.4" fill="#f7b2bc">K</tspan><tspan x="478.45" fill="#a8a8ae">R</tspan><tspan x="480.5" fill="#bdbdcc">I</tspan><tspan x="482.55" fill="#f7b2bc">N</tspan><tspan x="484.6" fill="#f7b2bc">V</tspan><tspan x="486.65" fill="#f7b2bc">H</tspan><tspan x="488.7" fill="#f7b2bc">H</tspan><tspan x="490.75" fill="#bdbdcc">G</tspan><tspan x="492.8" fill="#f7b2bc">D</tspan><tspan x="494.85" fill="#f7b2bc">G</tspan><tspan x="496.9" fill="#f7b2bc">E</tspan><tspan x="498.95" fill="#f7b2bc">Q</tspan><tspan x="501" fill="#a8a8ae">K</tspan><tspan x="503.05" fill="#a8a8ae">F</tspan><tspan x="505.1" fill="#a8a8ae">G</tspan><tspan x="507.15" fill="#a8a8ae">W</tspan><tspan x="509.2" fill="#a8a8ae">K</tspan><tspan x="511.25" fill="#f7b2bc">A</tspan><tspan x="513.3" fill="#f7b2bc">F</tspan></text><text y="547.95" font-family="Liberation Sans, sans-serif" font-size="2.8"><tspan x="150.45" fill="#a8a8ae">M</tspan><tspan x="152.5" fill="#a8a8ae">Y</tspan><tspan x="154.55" fill="#a8a8ae">C</tspan><tspan x="156.6" fill="#a8a8ae">Y</tspan><tspan x="158.65" fill="#f7b2bc">L</tspan><tspan x="160.7" fill="#bdbdcc">W</tspan><tspan x="162.75" fill="#bdbdcc">D</tspan><tspan x="164.8" fill="#f7b2bc">M</tspan><tspan x="166.85" fill="#f7b2bc">G</tspan><tspan x="168.9" fill="#f7b2bc">T</tspan><tspan x="170.95" fill="#f7b2bc">V</tspan><tspan x="173" fill="#f7b2bc">D</tspan><tspan x="175.05" fill="#bdbdcc">H</tspan><tspan x="177.1" fill="#a8a8ae">M</tspan><tspan x="179.15" fill="#ff7070">N</tspan><tspan x="181.2" fill="#f7b2bc">L</tspan><tspan x="183.25" fill="#f7b2bc">Y</tspan><tspan x="185.3" fill="#f7b2bc">V</tspan><tspan x="187.35" fill="#f7b2bc">A</tspan><tspan x="189.4" fill="#f7b2bc">N</tspan><tspan x="191.45" fill="#bdbdcc">Y</tspan><tspan x="193.5" fill="#a8a8ae">I</tspan><tspan x="195.55" fill="#bdbdcc">C</tspan><tspan x="197.6" fill="#f7b2bc">M</tspan><tspan x="199.65" fill="#f7b2bc">E</tspan><tspan x="201.7" fill="#bdbdcc">V</tspan><tspan x="203.75" fill="#bdbdcc">A</tspan><tspan x="205.8" fill="#a8a8ae">N</tspan><tspan x="207.85" fill="#bdbdcc">T</tspan><tspan x="209.9" fill="#f7b2bc">R</tspan><tspan x="211.95" fill="#bdbdcc">L</tspan><tspan x="214" fill="#f7b2bc">H</tspan><tspan x="216.05" fill="#bdbdcc">D</tspan><tspan x="218.1" fill="#bdbdcc">G</tspan><tspan x="220.15" fill="#f7b2bc">V</tspan><tspan x="222.2" fill="#f7b2bc">D</tspan><tspan x="224.25" fill="#bdbdcc">H</tspan><tspan x="226.3" fill="#ff7070">Q</tspan><tspan x="228.35" fill="#ff7070">E</tspan><tspan x="230.4" fill="#bdbdcc">H</tspan><tspan x="232.45" fill="#bdbdcc">Q</tspan><tspan x="234.5" fill="#bdbdcc">D</tspan><tspan x="236.55" fill="#f7b2bc">F</tspan><tspan x="238.6" fill="#ff7070">M</tspan><tspan x="240.65" fill="#a8a8ae">C</tspan><tspan x="242.7" fill="#f7b2bc">D</tspan><tspan x="244.75" fill="#f7b2bc">G</tspan><tspan x="246.8" fill="#f7b2bc">V</tspan><tspan x="248.85" fill="#bdbdcc">I</tspan><tspan x="250.9" fill="#ff7070">Q</tspan><tspan x="252.95" fill="#a8a8ae">P</tspan><tspan x="255" fill="#f7b2bc">R</tspan><tspan x="257.05" fill="#f7b2bc">Q</tspan><tspan x="259.1" fill="#f7b2bc">P</tspan><tspan x="261.15" fill="#ff7070">V</tspan><tspan x="263.2" fill="#ff7070">A</tspan><tspan x="265.25" fill="#f7b2bc">Y</tspan><tspan x="267.3" fill="#f7b2bc">W</tspan><tspan x="269.35" fill="#f7b2bc">D</tspan><tspan x="271.4" fill="#f7b2bc">T</tspan><tspan x="273.45" fill="#a8a8ae">L</tspan><tspan x="275.5" fill="#a8a8ae">Y</tspan><tspan x="277.55" fill="#ff7070">D</tspan><tspan x="279.6" fill="#ff7070">L</tspan><tspan x="281.65" fill="#fff2f2">R</tspan><tspan x="283.7" fill="#ff7070">P</tspan><tspan x="285.75" fill="#fff2f2">P</tspan><tspan x="287.8" fill="#ff7070">A</tspan><tspan x="289.85" fill="#ff7070">S</tspan><tspan x="291.9" fill="#ff7070">G</tspan><tspan x="293.95" fill="#ff7070">V</tspan><tspan x="296" fill="#ff7070">I</tspan><tspan x="298.05" fill="#ff7070">F</tspan><tspan x="300.1" fill="#fff2f2">P</tspan><tspan x="302.15" fill="#fff2f2">V</tspan><tspan x="304.2" fill="#ff7070">L</tspan><tspan x="306.25" fill="#a8a8ae">F</tspan><tspan x="308.3" fill="#f7b2bc">L</tspan><tspan x="310.35" fill="#bdbdcc">N</tspan><tspan x="312.4" fill="#f7b2bc">A</tspan><tspan x="314.45" fill="#f7b2bc">V</tspan><tspan x="316.5" fill="#f7b2bc">C</tspan><tspan x="318.55" fill="#f7b2bc">Y</tspan><tspan x="320.6" fill="#a8a8ae">V</tspan><tspan x="322.65" fill="#f7b2bc">D</tspan><tspan x="324.7" fill="#f7b2bc">N</tspan><tspan x="326.75" fill="#f7b2bc">T</tspan><tspan x="328.8" fill="#f7b2bc">G</tspan><tspan x="330.85" fill="#f7b2bc">K</tspan><tspan x="332.9" fill="#bdbdcc">G</tspan><tspan x="334.95" fill="#bdbdcc">W</tspan><tspan x="337" fill="#f7b2bc">V</tspan><tspan x="339.05" fill="#f7b2bc">V</tspan><tspan x="341.1" fill="#f7b2bc">D</tspan><tspan x="343.15" fill="#bdbdcc">H</tspan><tspan x="345.2" fill="#bdbdcc">S</tspan><tspan x="347.25" fill="#858585">N</tspan><tspan x="349.3" fill="#858585">F</tspan><tspan x="351.35" fill="#858585">I</tspan><tspan x="353.4" fill="#858585">E</tspan><tspan x="355.45" fill="#858585">L</tspan><tspan x="357.5" fill="#858585">Y</tspan><tspan x="359.55" fill="#858585">D</tspan><tspan x="361.6" fill="#858585">H</tspan><tspan x="363.65" fill="#858585">M</tspan><tspan x="365.7" fill="#858585">S</tspan><tspan x="367.75" fill="#858585">R</tspan><tspan x="369.8" fill="#858585">M</tspan><tspan x="371.85" fill="#858585">Y</tspan><tspan x="373.9" fill="#f7b2bc">L</tspan><tspan x="375.95" fill="#f7b2bc">F</tspan><tspan x="378" fill="#bdbdcc">N</tspan><tspan x="380.05" fill="#f7b2bc">Q</tspan><tspan x="382.1" fill="#f7b2bc">M</tspan><tspan x="384.15" fill="#bdbdcc">I</tspan><tspan x="386.2" fill="#f7b2bc">Q</tspan><tspan x="388.25" fill="#f7b2bc">N</tspan><tspan x="390.3" fill="#bdbdcc">M</tspan><tspan x="392.35" fill="#f7b2bc">R</tspan><tspan x="394.4" fill="#f7b2bc">L</tspan><tspan x="396.45" fill="#f7b2bc">E</tspan><tspan x="398.5" fill="#f7b2bc">Y</tspan><tspan x="400.55" fill="#bdbdcc">K</tspan><tspan x="402.6" fill="#bdbdcc">F</tspan><tspan x="404.65" fill="#f7b2bc">H</tspan><tspan x="406.7" fill="#f7b2bc">D</tspan><tspan x="408.75" fill="#bdbdcc">A</tspan><tspan x="410.8" fill="#bdbdcc">A</tspan><tspan x="412.85" fill="#f7b2bc">W</tspan><tspan x="414.9" fill="#f7b2bc">W</tspan><tspan x="416.95" fill="#bdbdcc">C</tspan><tspan x="419" fill="#bdbdcc">V</tspan><tspan x="421.05" fill="#f7b2bc">V</tspan><tspan x="423.1" fill="#f7b2bc">F</tspan><tspan x="425.15" fill="#a8a8ae">I</tspan><tspan x="427.2" fill="#bdbdcc">W</tspan><tspan x="429.25" fill="#f7b2bc">L</tspan><tspan x="431.3" fill="#f7b2bc">T</tspan><tspan x="433.35" fill="#f7b2bc">P</tspan><tspan x="435.4" fill="#bdbdcc">A</tspan><tspan x="437.45" fill="#bdbdcc">Y</tspan><tspan x="439.5" fill="#f7b2bc">T</tspan><tspan x="441.55" fill="#f7b2bc">G</tspan><tspan x="443.6" fill="#bdbdcc">W</tspan><tspan x="445.65" fill="#bdbdcc">F</tspan><tspan x="447.7" fill="#a8a8ae">S</tspan><tspan x="449.75" fill="#f7b2bc">N</tspan><tspan x="451.8" fill="#f7b2bc">S</tspan><tspan x="453.85" fill="#f7b2bc">K</tspan><tspan x="455.9" fill="#f7b2bc">C</tspan><tspan x="457.95" fill="#bdbdcc">T</tspan><tspan x="460" fill="#f7b2bc">N</tspan><tspan x="462.05" fill="#a8a8ae">R</tspan><tspan x="464.1" fill="#a8a8ae">C</tspan><tspan x="466.15" fill="#a8a8ae">C</tspan><tspan x="468.2" fill="#a8a8ae">M</tspan><tspan x="470.25" fill="#a8a8ae">E</tspan><tspan x="472.3" fill="#a8a8ae">T</tspan><tspan x="474.35" fill="#bdbdcc">K</tspan><tspan x="476.4" fill="#f7b2bc">K</tspan><tspan x="478.45" fill="#a8a8ae">W</tspan><tspan x="480.5" fill="#f7b2bc">G</tspan><tspan x="482.55" fill="#f7b2bc">P</tspan><tspan x="484.6" fill="#f7b2bc">D</tspan><tspan x="486.65" fill="#bdbdcc">P</tspan><tspan x="488.7" fill="#f7b2bc">I</tspan><tspan x="490.75" fill="#f7b2bc">N</tspan><tspan x="492.8" fill="#f7b2bc">N</tspan><tspan x="494.85" fill="#bdbdcc">S</tspan><tspan x="496.9" fill="#f7b2bc">A</tspan><tspan x="498.95" fill="#f7b2bc">F</tspan><tspan x="501" fill="#a8a8ae">I</tspan><tspan x="503.05" fill="#a8a8ae">D</tspan><tspan x="505.1" fill="#a8a8ae">T</tspan><tspan x="507.15" fill="#a8a8ae">K</tspan><tspan x="509.2" fill="#a8a8ae">H</tspan><tspan x="511.25" fill="#f7b2bc">F</tspan><tspan x="513.3" fill="#f7b2bc">N</tspan></text><text y="551.39" font-family="Liberation Sans, sans-serif" font-size="2.8"><tspan x="150.45" fill="#a8a8ae">E</tspan><tspan x="152.5" fill="#a8a8ae">I</tspan><tspan x="154.55" fill="#a8a8ae">Q</tspan><tspan x="156.6" fill="#a8a8ae">M</tspan><tspan x="158.65" fill="#f7b2bc">E</tspan><tspan x="160.7" fill="#f7b2bc">S</tspan><tspan x="162.75" fill="#f7b2bc">W</tspan><tspan x="164.8" fill="#f7b2bc">Q</tspan><tspan x="166.85" fill="#f7b2bc">C</tspan><tspan x="168.9" fill="#f7b2bc">W</tspan><tspan x="170.95" fill="#f7b2bc">T</tspan><tspan x="173" fill="#f7b2bc">W</tspan><tspan x="175.05" fill="#f7b2bc">G</tspan><tspan x="177.1" fill="#a8a8ae">G</tspan><tspan x="179.15" fill="#ff7070">T</tspan><tspan x="181.2" fill="#f7b2bc">P</tspan><tspan x="183.25" fill="#f7b2bc">W</tspan><tspan x="185.3" fill="#bdbdcc">L</tspan><tspan x="187.35" fill="#f7b2bc">H</tspan><tspan x="189.4" fill="#bdbdcc">S</tspan><tspan x="191.45" fill="#f7b2bc">G</tspan><tspan x="193.5" fill="#a8a8ae">Q</tspan><tspan x="195.55" fill="#f7b2bc">Y</tspan><tspan x="197.6" fill="#bdbdcc">W</tspan><tspan x="199.65" fill="#bdbdcc">G</tspan><tspan x="201.7" fill="#f7b2bc">T</tspan><tspan x="203.75" fill="#bdbdcc">M</tspan><tspan x="205.8" fill="#a8a8ae">Y</tspan><tspan x="207.85" fill="#f7b2bc">W</tspan><tspan x="209.9" fill="#f7b2bc">P</tspan><tspan x="211.95" fill="#f7b2bc">E</tspan><tspan x="214" fill="#bdbdcc">T</tspan><tspan x="216.05" fill="#f7b2bc">T</tspan><tspan x="218.1" fill="#f7b2bc">F</tspan><tspan x="220.15" fill="#f7b2bc">G</tspan><tspan x="222.2" fill="#f7b2bc">Y</tspan><tspan x="224.25" fill="#f7b2bc">V</tspan><tspan x="226.3" fill="#ff7070">E</tspan><tspan x="228.35" fill="#ff7070">D</tspan><tspan x="230.4" fill="#bdbdcc">S</tspan><tspan x="232.45" fill="#bdbdcc">Y</tspan><tspan x="234.5" fill="#bdbdcc">A</tspan><tspan x="236.55" fill="#bdbdcc">Q</tspan><tspan x="238.6" fill="#ff7070">N</tspan><tspan x="240.65" fill="#a8a8ae">C</tspan><tspan x="242.7" fill="#f7b2bc">T</tspan><tspan x="244.75" fill="#f7b2bc">S</tspan><tspan x="246.8" fill="#f7b2bc">P</tspan><tspan x="248.85" fill="#f7b2bc">W</tspan><tspan x="250.9" fill="#ff7070">F</tspan><tspan x="252.95" fill="#a8a8ae">K</tspan><tspan x="255" fill="#f7b2bc">S</tspan><tspan x="257.05" fill="#f7b2bc">D</tspan><tspan x="259.1" fill="#f7b2bc">V</tspan><tspan x="261.15" fill="#ff7070">H</tspan><tspan x="263.2" fill="#ff7070">A</tspan><tspan x="265.25" fill="#f7b2bc">A</tspan><tspan x="267.3" fill="#f7b2bc">E</tspan><tspan x="269.35" fill="#bdbdcc">P</tspan><tspan x="271.4" fill="#f7b2bc">M</tspan><tspan x="273.45" fill="#a8a8ae">E</tspan><tspan x="275.5" fill="#a8a8ae">F</tspan><tspan x="277.55" fill="#ff7070">Q</tspan><tspan x="279.6" fill="#ff7070">W</tspan><tspan x="281.65" fill="#fff2f2">K</tspan><tspan x="283.7" fill="#ff7070">K</tspan><tspan x="285.75" fill="#fff2f2">V</tspan><tspan x="287.8" fill="#ff7070">Q</tspan><tspan x="289.85" fill="#ff7070">W</tspan><tspan x="291.9" fill="#ff7070">N</tspan><tspan x="293.95" fill="#ff7070">Y</tspan><tspan x="296" fill="#ff7070">K</tspan><tspan x="298.05" fill="#ff7070">P</tspan><tspan x="300.1" fill="#fff2f2">H</tspan><tspan x="302.15" fill="#fff2f2">Q</tspan><tspan x="304.2" fill="#ff7070">V</tspan><tspan x="306.25" fill="#a8a8ae">V</tspan><tspan x="308.3" fill="#f7b2bc">S</tspan><tspan x="310.35" fill="#f7b2bc">V</tspan><tspan x="312.4" fill="#bdbdcc">K</tspan><tspan x="314.45" fill="#f7b2bc">W</tspan><tspan x="316.5" fill="#f7b2bc">P</tspan><tspan x="318.55" fill="#f7b2bc">E</tspan><tspan x="320.6" fill="#a8a8ae">R</tspan><tspan x="322.65" fill="#f7b2bc">G</tspan><tspan x="324.7" fill="#f7b2bc">T</tspan><tspan x="326.75" fill="#bdbdcc">M</tspan><tspan x="328.8" fill="#bdbdcc">Y</tspan><tspan x="330.85" fill="#f7b2bc">C</tspan><tspan x="332.9" fill="#bdbdcc">A</tspan><tspan x="334.95" fill="#f7b2bc">F</tspan><tspan x="337" fill="#f7b2bc">Y</tspan><tspan x="339.05" fill="#f7b2bc">D</tspan><tspan x="341.1" fill="#f7b2bc">N</tspan><tspan x="343.15" fill="#bdbdcc">C</tspan><tspan x="345.2" fill="#bdbdcc">P</tspan><tspan x="373.9" fill="#f7b2bc">T</tspan><tspan x="375.95" fill="#f7b2bc">Y</tspan><tspan x="378" fill="#f7b2bc">G</tspan><tspan x="380.05" fill="#f7b2bc">R</tspan><tspan x="382.1" fill="#f7b2bc">T</tspan><tspan x="384.15" fill="#bdbdcc">C</tspan><tspan x="386.2" fill="#f7b2bc">T</tspan><tspan x="388.25" fill="#f7b2bc">I</tspan><tspan x="390.3" fill="#f7b2bc">C</tspan><tspan x="392.35" fill="#bdbdcc">A</tspan><tspan x="394.4" fill="#bdbdcc">D</tspan><tspan x="396.45" fill="#f7b2bc">P</tspan><tspan x="398.5" fill="#f7b2bc">P</tspan><tspan x="400.55" fill="#f7b2bc">H</tspan><tspan x="402.6" fill="#bdbdcc">D</tspan><tspan x="404.65" fill="#f7b2bc">V</tspan><tspan x="406.7" fill="#bdbdcc">V</tspan><tspan x="408.75" fill="#f7b2bc">N</tspan><tspan x="410.8" fill="#f7b2bc">K</tspan><tspan x="412.85" fill="#f7b2bc">H</tspan><tspan x="414.9" fill="#bdbdcc">P</tspan><tspan x="416.95" fill="#f7b2bc">K</tspan><tspan x="419" fill="#f7b2bc">T</tspan><tspan x="421.05" fill="#f7b2bc">D</tspan><tspan x="423.1" fill="#bdbdcc">M</tspan><tspan x="425.15" fill="#a8a8ae">T</tspan><tspan x="427.2" fill="#bdbdcc">K</tspan><tspan x="429.25" fill="#f7b2bc">W</tspan><tspan x="431.3" fill="#bdbdcc">R</tspan><tspan x="433.35" fill="#f7b2bc">W</tspan><tspan x="435.4" fill="#bdbdcc">I</tspan><tspan x="437.45" fill="#bdbdcc">R</tspan><tspan x="439.5" fill="#bdbdcc">W</tspan><tspan x="441.55" fill="#f7b2bc">S</tspan><tspan x="443.6" fill="#f7b2bc">D</tspan><tspan x="445.65" fill="#bdbdcc">I</tspan><tspan x="447.7" fill="#a8a8ae">I</tspan><tspan x="449.75" fill="#f7b2bc">M</tspan><tspan x="451.8" fill="#f7b2bc">N</tspan><tspan x="453.85" fill="#f7b2bc">A</tspan><tspan x="455.9" fill="#f7b2bc">K</tspan><tspan x="457.95" fill="#f7b2bc">D</tspan><tspan x="460" fill="#f7b2bc">M</tspan><tspan x="462.05" fill="#a8a8ae">G</tspan><tspan x="464.1" fill="#a8a8ae">S</tspan><tspan x="466.15" fill="#a8a8ae">M</tspan><tspan x="468.2" fill="#a8a8ae">N</tspan><tspan x="470.25" fill="#a8a8ae">H</tspan><tspan x="472.3" fill="#a8a8ae">W</tspan><tspan x="474.35" fill="#f7b2bc">K</tspan><tspan x="476.4" fill="#f7b2bc">H</tspan><tspan x="478.45" fill="#a8a8ae">H</tspan><tspan x="480.5" fill="#f7b2bc">I</tspan><tspan x="482.55" fill="#f7b2bc">K</tspan><tspan x="484.6" fill="#f7b2bc">H</tspan><tspan x="486.65" fill="#f7b2bc">Y</tspan><tspan x="488.7" fill="#f7b2bc">E</tspan><tspan x="490.75" fill="#f7b2bc">D</tspan><tspan x="492.8" fill="#f7b2bc">S</tspan><tspan x="494.85" fill="#bdbdcc">V</tspan><tspan x="496.9" fill="#f7b2bc">S</tspan><tspan x="498.95" fill="#f7b2bc">M</tspan><tspan x="501" fill="#a8a8ae">W</tspan><tspan x="503.05" fill="#a8a8ae">K</tspan><tspan x="505.1" fill="#a8a8ae">S</tspan><tspan x="507.15" fill="#a8a8ae">G</tspan><tspan x="509.2" fill="#a8a8ae">T</tspan><tspan x="511.25" fill="#f7b2bc">K</tspan><tspan x="513.3" fill="#f7b2bc">W</tspan></text><text y="554.83" font-family="Liberation Sans, sans-serif" font-size="2.8"><tspan x="150.45" fill="#a8a8ae">T</tspan><tspan x="152.5" fill="#a8a8ae">Q</tspan><tspan x="154.55" fill="#a8a8ae">S</tspan><tspan x="156.6" fill="#a8a8ae">V</tspan><tspan x="158.65" fill="#f7b2bc">C</tspan><tspan x="160.7" fill="#bdbdcc">P</tspan><tspan x="162.75" fill="#f7b2bc">G</tspan><tspan x="164.8" fill="#bdbdcc">E</tspan><tspan x="166.85" fill="#f7b2bc">R</tspan><tspan x="168.9" fill="#f7b2bc">A</tspan><tspan x="170.95" fill="#f7b2bc">H</tspan><tspan x="173" fill="#f7b2bc">E</tspan><tspan x="175.05" fill="#bdbdcc">Y</tspan><tspan x="177.1" fill="#a8a8ae">G</tspan><tspan x="179.15" fill="#ff7070">V</tspan><tspan x="181.2" fill="#f7b2bc">K</tspan><tspan x="183.25" fill="#bdbdcc">S</tspan><tspan x="185.3" fill="#f7b2bc">M</tspan><tspan x="187.35" fill="#f7b2bc">S</tspan><tspan x="189.4" fill="#f7b2bc">Q</tspan><tspan x="191.45" fill="#f7b2bc">N</tspan><tspan x="193.5" fill="#a8a8ae">P</tspan><tspan x="195.55" fill="#f7b2bc">K</tspan><tspan x="197.6" fill="#f7b2bc">W</tspan><tspan x="199.65" fill="#bdbdcc">W</tspan><tspan x="201.7" fill="#bdbdcc">E</tspan><tspan x="203.75" fill="#bdbdcc">I</tspan><tspan x="205.8" fill="#a8a8ae">P</tspan><tspan x="207.85" fill="#f7b2bc">H</tspan><tspan x="209.9" fill="#f7b2bc">F</tspan><tspan x="211.95" fill="#f7b2bc">A</tspan><tspan x="214" fill="#f7b2bc">S</tspan><tspan x="216.05" fill="#f7b2bc">T</tspan><tspan x="218.1" fill="#bdbdcc">M</tspan><tspan x="220.15" fill="#f7b2bc">L</tspan><tspan x="222.2" fill="#f7b2bc">W</tspan><tspan x="224.25" fill="#f7b2bc">E</tspan><tspan x="226.3" fill="#ff7070">C</tspan><tspan x="228.35" fill="#ff7070">H</tspan><tspan x="230.4" fill="#bdbdcc">K</tspan><tspan x="232.45" fill="#f7b2bc">E</tspan><tspan x="234.5" fill="#f7b2bc">M</tspan><tspan x="236.55" fill="#bdbdcc">N</tspan><tspan x="238.6" fill="#ff7070">K</tspan><tspan x="240.65" fill="#a8a8ae">N</tspan><tspan x="242.7" fill="#f7b2bc">A</tspan><tspan x="244.75" fill="#bdbdcc">N</tspan><tspan x="246.8" fill="#f7b2bc">Y</tspan><tspan x="248.85" fill="#f7b2bc">W</tspan><tspan x="250.9" fill="#ff7070">V</tspan><tspan x="252.95" fill="#a8a8ae">G</tspan><tspan x="255" fill="#f7b2bc">L</tspan><tspan x="257.05" fill="#f7b2bc">T</tspan><tspan x="259.1" fill="#bdbdcc">R</tspan><tspan x="261.15" fill="#ff7070">P</tspan><tspan x="263.2" fill="#ff7070">Y</tspan><tspan x="265.25" fill="#f7b2bc">L</tspan><tspan x="267.3" fill="#bdbdcc">F</tspan><tspan x="269.35" fill="#f7b2bc">M</tspan><tspan x="271.4" fill="#f7b2bc">Y</tspan><tspan x="273.45" fill="#a8a8ae">D</tspan><tspan x="275.5" fill="#a8a8ae">D</tspan><tspan x="277.55" fill="#ff7070">G</tspan><tspan x="279.6" fill="#ff7070">M</tspan><tspan x="281.65" fill="#fff2f2">I</tspan><tspan x="283.7" fill="#ff7070">M</tspan><tspan x="285.75" fill="#fff2f2">M</tspan><tspan x="287.8" fill="#ff7070">L</tspan><tspan x="289.85" fill="#ff7070">K</tspan><tspan x="291.9" fill="#ff7070">Y</tspan><tspan x="293.95" fill="#ff7070">P</tspan><tspan x="296" fill="#ff7070">K</tspan><tspan x="298.05" fill="#ff7070">R</tspan><tspan x="300.1" fill="#fff2f2">N</tspan><tspan x="302.15" fill="#fff2f2">W</tspan><tspan x="304.2" fill="#ff7070">T</tspan><tspan x="306.25" fill="#a8a8ae">R</tspan><tspan x="308.3" fill="#f7b2bc">Q</tspan><tspan x="310.35" fill="#f7b2bc">A</tspan><tspan x="312.4" fill="#f7b2bc">I</tspan><tspan x="314.45" fill="#f7b2bc">D</tspan><tspan x="316.5" fill="#f7b2bc">P</tspan><tspan x="318.55" fill="#bdbdcc">D</tspan><tspan x="320.6" fill="#a8a8ae">S</tspan><tspan x="322.65" fill="#f7b2bc">V</tspan><tspan x="324.7" fill="#bdbdcc">P</tspan><tspan x="326.75" fill="#f7b2bc">D</tspan><tspan x="328.8" fill="#f7b2bc">Y</tspan><tspan x="330.85" fill="#f7b2bc">P</tspan><tspan x="332.9" fill="#bdbdcc">I</tspan><tspan x="334.95" fill="#bdbdcc">R</tspan><tspan x="337" fill="#bdbdcc">F</tspan><tspan x="339.05" fill="#f7b2bc">G</tspan><tspan x="341.1" fill="#bdbdcc">N</tspan><tspan x="343.15" fill="#bdbdcc">M</tspan><tspan x="345.2" fill="#bdbdcc">R</tspan><tspan x="373.9" fill="#bdbdcc">V</tspan><tspan x="375.95" fill="#f7b2bc">V</tspan><tspan x="378" fill="#f7b2bc">V</tspan><tspan x="380.05" fill="#f7b2bc">Y</tspan><tspan x="382.1" fill="#f7b2bc">W</tspan><tspan x="384.15" fill="#f7b2bc">V</tspan><tspan x="386.2" fill="#f7b2bc">N</tspan><tspan x="388.25" fill="#bdbdcc">I</tspan><tspan x="390.3" fill="#f7b2bc">R</tspan><tspan x="392.35" fill="#f7b2bc">Q</tspan><tspan x="394.4" fill="#f7b2bc">L</tspan><tspan x="396.45" fill="#bdbdcc">T</tspan><tspan x="398.5" fill="#f7b2bc">F</tspan><tspan x="400.55" fill="#f7b2bc">S</tspan><tspan x="402.6" fill="#bdbdcc">S</tspan><tspan x="404.65" fill="#f7b2bc">S</tspan><tspan x="406.7" fill="#f7b2bc">Q</tspan><tspan x="408.75" fill="#f7b2bc">Y</tspan><tspan x="410.8" fill="#f7b2bc">A</tspan><tspan x="412.85" fill="#f7b2bc">H</tspan><tspan x="414.9" fill="#f7b2bc">V</tspan><tspan x="416.95" fill="#f7b2bc">I</tspan><tspan x="419" fill="#bdbdcc">P</tspan><tspan x="421.05" fill="#f7b2bc">I</tspan><tspan x="423.1" fill="#bdbdcc">Q</tspan><tspan x="425.15" fill="#a8a8ae">T</tspan><tspan x="427.2" fill="#bdbdcc">Y</tspan><tspan x="429.25" fill="#f7b2bc">K</tspan><tspan x="431.3" fill="#bdbdcc">V</tspan><tspan x="433.35" fill="#f7b2bc">Q</tspan><tspan x="435.4" fill="#f7b2bc">D</tspan><tspan x="437.45" fill="#f7b2bc">L</tspan><tspan x="439.5" fill="#bdbdcc">R</tspan><tspan x="441.55" fill="#bdbdcc">K</tspan><tspan x="443.6" fill="#f7b2bc">S</tspan><tspan x="445.65" fill="#f7b2bc">A</tspan><tspan x="447.7" fill="#a8a8ae">V</tspan><tspan x="449.75" fill="#f7b2bc">A</tspan><tspan x="451.8" fill="#f7b2bc">E</tspan><tspan x="453.85" fill="#f7b2bc">F</tspan><tspan x="455.9" fill="#f7b2bc">A</tspan><tspan x="457.95" fill="#f7b2bc">F</tspan><tspan x="460" fill="#f7b2bc">H</tspan><tspan x="462.05" fill="#a8a8ae">L</tspan><tspan x="464.1" fill="#a8a8ae">S</tspan><tspan x="466.15" fill="#a8a8ae">N</tspan><tspan x="468.2" fill="#a8a8ae">R</tspan><tspan x="470.25" fill="#a8a8ae">C</tspan><tspan x="472.3" fill="#a8a8ae">M</tspan><tspan x="474.35" fill="#bdbdcc">D</tspan><tspan x="476.4" fill="#f7b2bc">F</tspan><tspan x="478.45" fill="#a8a8ae">P</tspan><tspan x="480.5" fill="#f7b2bc">D</tspan><tspan x="482.55" fill="#f7b2bc">G</tspan><tspan x="484.6" fill="#f7b2bc">K</tspan><tspan x="486.65" fill="#f7b2bc">A</tspan><tspan x="488.7" fill="#f7b2bc">I</tspan><tspan x="490.75" fill="#f7b2bc">R</tspan><tspan x="492.8" fill="#f7b2bc">C</tspan><tspan x="494.85" fill="#f7b2bc">E</tspan><tspan x="496.9" fill="#f7b2bc">H</tspan><tspan x="498.95" fill="#bdbdcc">L</tspan><tspan x="501" fill="#a8a8ae">G</tspan><tspan x="503.05" fill="#a8a8ae">C</tspan><tspan x="505.1" fill="#a8a8ae">V</tspan><tspan x="507.15" fill="#a8a8ae">T</tspan><tspan x="509.2" fill="#a8a8ae">E</tspan><tspan x="511.25" fill="#f7b2bc">K</tspan><tspan x="513.3" fill="#f7b2bc">L</tspan></text><text y="558.27" font-family="Liberation Sans, sans-serif" font-size="2.8"><tspan x="33.25" fill="#858585">C</tspan><tspan x="35.3" fill="#858585">H</tspan><tspan x="37.35" fill="#858585">E</tspan><tspan x="39.4" fill="#858585">I</tspan><tspan x="41.45" fill="#858585">Q</tspan><tspan x="43.5" fill="#858585">M</tspan><tspan x="45.55" fill="#858585">A</tspan><tspan x="47.6" fill="#858585">G</tspan><tspan x="49.65" fill="#858585">K</tspan><tspan x="51.7" fill="#858585">W</tspan><tspan x="53.75" fill="#858585">E</tspan><tspan x="55.8" fill="#858585">P</tspan><tspan x="57.85" fill="#858585">I</tspan><tspan x="59.9" fill="#858585">A</tspan><tspan x="61.95" fill="#858585">C</tspan><tspan x="64" fill="#858585">W</tspan><tspan x="66.05" fill="#858585">S</tspan><tspan x="68.1" fill="#858585">Y</tspan><tspan x="70.15" fill="#858585">F</tspan><tspan x="72.2" fill="#858585">N</tspan><tspan x="74.25" fill="#858585">D</tspan><tspan x="76.3" fill="#858585">I</tspan><tspan x="78.35" fill="#858585">G</tspan><tspan x="80.4" fill="#858585">S</tspan><tspan x="82.45" fill="#858585">D</tspan><tspan x="84.5" fill="#858585">Y</tspan><tspan x="86.55" fill="#858585">M</tspan><tspan x="88.6" fill="#858585">C</tspan><tspan x="90.65" fill="#858585">C</tspan><tspan x="92.7" fill="#858585">N</tspan><tspan x="94.75" fill="#858585">F</tspan><tspan x="96.8" fill="#858585">V</tspan><tspan x="98.85" fill="#858585">E</tspan><tspan x="100.9" fill="#858585">F</tspan><tspan x="102.95" fill="#858585">S</tspan><tspan x="105" fill="#858585">I</tspan><tspan x="107.05" fill="#858585">M</tspan><tspan x="109.1" fill="#858585">V</tspan><tspan x="111.15" fill="#858585">N</tspan><tspan x="113.2" fill="#858585">R</tspan><tspan x="115.25" fill="#858585">H</tspan><tspan x="117.3" fill="#858585">A</tspan><tspan x="119.35" fill="#858585">P</tspan><tspan x="121.4" fill="#858585">N</tspan><tspan x="123.45" fill="#858585">F</tspan><tspan x="125.5" fill="#858585">K</tspan><tspan x="127.55" fill="#858585">C</tspan><tspan x="129.6" fill="#858585">S</tspan><tspan x="131.65" fill="#858585">R</tspan><tspan x="133.7" fill="#858585">V</tspan><tspan x="135.75" fill="#858585">L</tspan><tspan x="137.8" fill="#858585">V</tspan><tspan x="139.85" fill="#858585">S</tspan><tspan x="141.9" fill="#858585">H</tspan><tspan x="143.95" fill="#858585">W</tspan><tspan x="146" fill="#858585">G</tspan><tspan x="148.05" fill="#a8a8ae">V</tspan><tspan x="150.1" fill="#a8a8ae">N</tspan><tspan x="152.15" fill="#a8a8ae">M</tspan><tspan x="154.2" fill="#a8a8ae">R</tspan><tspan x="156.25" fill="#a8a8ae">K</tspan><tspan x="158.3" fill="#a8a8ae">Y</tspan><tspan x="160.35" fill="#f7b2bc">V</tspan><tspan x="162.4" fill="#f7b2bc">T</tspan><tspan x="164.45" fill="#bdbdcc">L</tspan><tspan x="166.5" fill="#f7b2bc">V</tspan><tspan x="168.55" fill="#bdbdcc">A</tspan><tspan x="170.6" fill="#f7b2bc">T</tspan><tspan x="172.65" fill="#bdbdcc">G</tspan><tspan x="174.7" fill="#bdbdcc">Y</tspan><tspan x="176.75" fill="#a8a8ae">Y</tspan><tspan x="178.8" fill="#ff7070">I</tspan><tspan x="180.85" fill="#ff7070">M</tspan><tspan x="182.9" fill="#f7b2bc">D</tspan><tspan x="184.95" fill="#f7b2bc">V</tspan><tspan x="187" fill="#f7b2bc">H</tspan><tspan x="189.05" fill="#f7b2bc">S</tspan><tspan x="191.1" fill="#f7b2bc">F</tspan><tspan x="193.15" fill="#a8a8ae">M</tspan><tspan x="195.2" fill="#a8a8ae">Q</tspan><tspan x="197.25" fill="#f7b2bc">M</tspan><tspan x="199.3" fill="#bdbdcc">T</tspan><tspan x="201.35" fill="#bdbdcc">C</tspan><tspan x="203.4" fill="#f7b2bc">F</tspan><tspan x="205.45" fill="#a8a8ae">C</tspan><tspan x="207.5" fill="#f7b2bc">H</tspan><tspan x="209.55" fill="#f7b2bc">H</tspan><tspan x="211.6" fill="#f7b2bc">W</tspan><tspan x="213.65" fill="#f7b2bc">P</tspan><tspan x="215.7" fill="#f7b2bc">T</tspan><tspan x="217.75" fill="#f7b2bc">W</tspan><tspan x="219.8" fill="#f7b2bc">N</tspan><tspan x="221.85" fill="#f7b2bc">D</tspan><tspan x="223.9" fill="#f7b2bc">H</tspan><tspan x="225.95" fill="#ff7070">D</tspan><tspan x="228" fill="#ff7070">R</tspan><tspan x="230.05" fill="#f7b2bc">C</tspan><tspan x="232.1" fill="#bdbdcc">Q</tspan><tspan x="234.15" fill="#bdbdcc">C</tspan><tspan x="236.2" fill="#bdbdcc">K</tspan><tspan x="238.25" fill="#ff7070">D</tspan><tspan x="240.3" fill="#ff7070">L</tspan><tspan x="242.35" fill="#bdbdcc">D</tspan><tspan x="244.4" fill="#f7b2bc">T</tspan><tspan x="246.45" fill="#f7b2bc">I</tspan><tspan x="248.5" fill="#f7b2bc">H</tspan><tspan x="250.55" fill="#ff7070">I</tspan><tspan x="252.6" fill="#a8a8ae">W</tspan><tspan x="254.65" fill="#f7b2bc">G</tspan><tspan x="256.7" fill="#f7b2bc">V</tspan><tspan x="258.75" fill="#f7b2bc">E</tspan><tspan x="260.8" fill="#ff7070">W</tspan><tspan x="262.85" fill="#ff7070">N</tspan><tspan x="264.9" fill="#bdbdcc">R</tspan><tspan x="266.95" fill="#bdbdcc">Q</tspan><tspan x="269" fill="#bdbdcc">G</tspan><tspan x="271.05" fill="#f7b2bc">V</tspan><tspan x="273.1" fill="#a8a8ae">M</tspan><tspan x="275.15" fill="#a8a8ae">G</tspan><tspan x="277.2" fill="#ff7070">V</tspan><tspan x="279.25" fill="#ff7070">Y</tspan><tspan x="281.3" fill="#fff2f2">R</tspan><tspan x="283.35" fill="#ff7070">N</tspan><tspan x="285.4" fill="#fff2f2">M</tspan><tspan x="287.45" fill="#ff7070">V</tspan><tspan x="289.5" fill="#fff2f2">M</tspan><tspan x="291.55" fill="#ff7070">N</tspan><tspan x="293.6" fill="#ff7070">Q</tspan><tspan x="295.65" fill="#ff7070">Q</tspan><tspan x="297.7" fill="#ff7070">M</tspan><tspan x="299.75" fill="#fff2f2">Y</tspan><tspan x="301.8" fill="#fff2f2">I</tspan><tspan x="303.85" fill="#ff7070">W</tspan><tspan x="305.9" fill="#a8a8ae">V</tspan><tspan x="307.95" fill="#f7b2bc">H</tspan><tspan x="310" fill="#bdbdcc">V</tspan><tspan x="312.05" fill="#f7b2bc">K</tspan><tspan x="314.1" fill="#f7b2bc">R</tspan><tspan x="316.15" fill="#f7b2bc">P</tspan><tspan x="318.2" fill="#bdbdcc">C</tspan><tspan x="320.25" fill="#a8a8ae">Y</tspan><tspan x="322.3" fill="#bdbdcc">A</tspan><tspan x="324.35" fill="#f7b2bc">L</tspan><tspan x="326.4" fill="#f7b2bc">I</tspan><tspan x="328.45" fill="#f7b2bc">M</tspan><tspan x="330.5" fill="#bdbdcc">K</tspan><tspan x="332.55" fill="#bdbdcc">T</tspan><tspan x="334.6" fill="#f7b2bc">W</tspan><tspan x="336.65" fill="#f7b2bc">C</tspan><tspan x="338.7" fill="#f7b2bc">F</tspan><tspan x="340.75" fill="#bdbdcc">N</tspan><tspan x="342.8" fill="#f7b2bc">I</tspan><tspan x="344.85" fill="#f7b2bc">L</tspan><tspan x="346.9" fill="#858585">P</tspan><tspan x="348.95" fill="#858585">W</tspan><tspan x="351" fill="#858585">H</tspan><tspan x="373.55" fill="#bdbdcc">D</tspan><tspan x="375.6" fill="#f7b2bc">S</tspan><tspan x="377.65" fill="#bdbdcc">W</tspan><tspan x="379.7" fill="#f7b2bc">E</tspan><tspan x="381.75" fill="#f7b2bc">L</tspan><tspan x="383.8" fill="#f7b2bc">W</tspan><tspan x="385.85" fill="#bdbdcc">C</tspan><tspan x="387.9" fill="#f7b2bc">M</tspan><tspan x="389.95" fill="#f7b2bc">Q</tspan><tspan x="392" fill="#bdbdcc">E</tspan><tspan x="394.05" fill="#bdbdcc">I</tspan><tspan x="396.1" fill="#bdbdcc">Y</tspan><tspan x="398.15" fill="#f7b2bc">P</tspan><tspan x="400.2" fill="#f7b2bc">T</tspan><tspan x="402.25" fill="#f7b2bc">V</tspan><tspan x="404.3" fill="#f7b2bc">M</tspan><tspan x="406.35" fill="#f7b2bc">I</tspan><tspan x="408.4" fill="#bdbdcc">P</tspan><tspan x="410.45" fill="#bdbdcc">Y</tspan><tspan x="412.5" fill="#f7b2bc">D</tspan><tspan x="414.55" fill="#bdbdcc">L</tspan><tspan x="416.6" fill="#f7b2bc">F</tspan><tspan x="418.65" fill="#f7b2bc">D</tspan><tspan x="420.7" fill="#f7b2bc">C</tspan><tspan x="422.75" fill="#f7b2bc">K</tspan><tspan x="424.8" fill="#a8a8ae">T</tspan><tspan x="426.85" fill="#bdbdcc">Q</tspan><tspan x="428.9" fill="#bdbdcc">F</tspan><tspan x="430.95" fill="#f7b2bc">S</tspan><tspan x="433" fill="#f7b2bc">S</tspan><tspan x="435.05" fill="#f7b2bc">W</tspan><tspan x="437.1" fill="#bdbdcc">Y</tspan><tspan x="439.15" fill="#f7b2bc">T</tspan><tspan x="441.2" fill="#f7b2bc">D</tspan><tspan x="443.25" fill="#f7b2bc">Q</tspan><tspan x="445.3" fill="#f7b2bc">W</tspan><tspan x="447.35" fill="#a8a8ae">Q</tspan><tspan x="449.4" fill="#f7b2bc">Q</tspan><tspan x="451.45" fill="#f7b2bc">H</tspan><tspan x="453.5" fill="#f7b2bc">Y</tspan><tspan x="455.55" fill="#f7b2bc">L</tspan><tspan x="457.6" fill="#f7b2bc">N</tspan><tspan x="459.65" fill="#f7b2bc">R</tspan><tspan x="461.7" fill="#a8a8ae">R</tspan><tspan x="463.75" fill="#a8a8ae">C</tspan><tspan x="465.8" fill="#a8a8ae">I</tspan><tspan x="467.85" fill="#a8a8ae">H</tspan><tspan x="469.9" fill="#a8a8ae">N</tspan><tspan x="471.95" fill="#a8a8ae">F</tspan><tspan x="474" fill="#f7b2bc">D</tspan><tspan x="476.05" fill="#f7b2bc">C</tspan><tspan x="478.1" fill="#a8a8ae">Y</tspan><tspan x="480.15" fill="#bdbdcc">F</tspan><tspan x="482.2" fill="#f7b2bc">L</tspan><tspan x="484.25" fill="#f7b2bc">E</tspan><tspan x="486.3" fill="#f7b2bc">S</tspan><tspan x="488.35" fill="#f7b2bc">H</tspan><tspan x="490.4" fill="#f7b2bc">H</tspan><tspan x="492.45" fill="#f7b2bc">T</tspan><tspan x="494.5" fill="#f7b2bc">V</tspan><tspan x="496.55" fill="#f7b2bc">F</tspan><tspan x="498.6" fill="#f7b2bc">A</tspan><tspan x="500.65" fill="#f7b2bc">T</tspan><tspan x="502.7" fill="#a8a8ae">G</tspan><tspan x="504.75" fill="#a8a8ae">C</tspan><tspan x="506.8" fill="#a8a8ae">L</tspan><tspan x="508.85" fill="#a8a8ae">H</tspan><tspan x="510.9" fill="#a8a8ae">Y</tspan><tspan x="512.95" fill="#f7b2bc">K</tspan></text><text y="561.71" font-family="Liberation Sans, sans-serif" font-size="2.8"><tspan x="154.25" fill="#a8a8ae">A</tspan><tspan x="156.3" fill="#a8a8ae">D</tspan><tspan x="158.35" fill="#bdbdcc">P</tspan><tspan x="160.4" fill="#bdbdcc">N</tspan><tspan x="162.45" fill="#f7b2bc">A</tspan><tspan x="164.5" fill="#f7b2bc">P</tspan><tspan x="166.55" fill="#f7b2bc">P</tspan><tspan x="168.6" fill="#bdbdcc">E</tspan><tspan x="170.65" fill="#bdbdcc">S</tspan><tspan x="172.7" fill="#f7b2bc">V</tspan><tspan x="174.75" fill="#f7b2bc">H</tspan><tspan x="176.8" fill="#a8a8ae">R</tspan><tspan x="178.85" fill="#ff7070">V</tspan><tspan x="180.9" fill="#ff7070">A</tspan><tspan x="182.95" fill="#f7b2bc">C</tspan><tspan x="185" fill="#f7b2bc">T</tspan><tspan x="187.05" fill="#f7b2bc">S</tspan><tspan x="189.1" fill="#f7b2bc">G</tspan><tspan x="191.15" fill="#f7b2bc">N</tspan><tspan x="193.2" fill="#a8a8ae">L</tspan><tspan x="195.25" fill="#bdbdcc">I</tspan><tspan x="197.3" fill="#f7b2bc">T</tspan><tspan x="199.35" fill="#bdbdcc">C</tspan><tspan x="201.4" fill="#bdbdcc">P</tspan><tspan x="203.45" fill="#bdbdcc">A</tspan><tspan x="205.5" fill="#a8a8ae">K</tspan><tspan x="207.55" fill="#f7b2bc">I</tspan><tspan x="209.6" fill="#f7b2bc">P</tspan><tspan x="211.65" fill="#f7b2bc">D</tspan><tspan x="213.7" fill="#bdbdcc">T</tspan><tspan x="215.75" fill="#bdbdcc">Y</tspan><tspan x="217.8" fill="#f7b2bc">I</tspan><tspan x="219.85" fill="#f7b2bc">W</tspan><tspan x="221.9" fill="#bdbdcc">L</tspan><tspan x="223.95" fill="#f7b2bc">M</tspan><tspan x="226" fill="#ff7070">F</tspan><tspan x="228.05" fill="#ff7070">H</tspan><tspan x="230.1" fill="#bdbdcc">F</tspan><tspan x="232.15" fill="#bdbdcc">H</tspan><tspan x="234.2" fill="#bdbdcc">L</tspan><tspan x="236.25" fill="#bdbdcc">T</tspan><tspan x="238.3" fill="#ff7070">Q</tspan><tspan x="240.35" fill="#ff7070">F</tspan><tspan x="242.4" fill="#bdbdcc">W</tspan><tspan x="244.45" fill="#f7b2bc">M</tspan><tspan x="246.5" fill="#bdbdcc">V</tspan><tspan x="248.55" fill="#f7b2bc">E</tspan><tspan x="250.6" fill="#ff7070">F</tspan><tspan x="252.65" fill="#a8a8ae">A</tspan><tspan x="254.7" fill="#bdbdcc">M</tspan><tspan x="256.75" fill="#bdbdcc">Q</tspan><tspan x="258.8" fill="#f7b2bc">L</tspan><tspan x="260.85" fill="#ff7070">K</tspan><tspan x="262.9" fill="#ff7070">F</tspan><tspan x="264.95" fill="#f7b2bc">H</tspan><tspan x="267" fill="#f7b2bc">G</tspan><tspan x="269.05" fill="#bdbdcc">Y</tspan><tspan x="271.1" fill="#f7b2bc">Y</tspan><tspan x="273.15" fill="#a8a8ae">I</tspan><tspan x="275.2" fill="#a8a8ae">Y</tspan><tspan x="277.25" fill="#ff7070">I</tspan><tspan x="279.3" fill="#ff7070">I</tspan><tspan x="281.35" fill="#fff2f2">A</tspan><tspan x="283.4" fill="#ff7070">N</tspan><tspan x="285.45" fill="#fff2f2">D</tspan><tspan x="287.5" fill="#ff7070">S</tspan><tspan x="289.55" fill="#fff2f2">F</tspan><tspan x="291.6" fill="#ff7070">T</tspan><tspan x="293.65" fill="#ff7070">Y</tspan><tspan x="295.7" fill="#ff7070">S</tspan><tspan x="297.75" fill="#ff7070">N</tspan><tspan x="299.8" fill="#fff2f2">G</tspan><tspan x="301.85" fill="#fff2f2">P</tspan><tspan x="303.9" fill="#ff7070">S</tspan><tspan x="305.95" fill="#a8a8ae">S</tspan><tspan x="308" fill="#f7b2bc">F</tspan><tspan x="310.05" fill="#f7b2bc">I</tspan><tspan x="312.1" fill="#bdbdcc">A</tspan><tspan x="314.15" fill="#f7b2bc">Q</tspan><tspan x="316.2" fill="#bdbdcc">H</tspan><tspan x="318.25" fill="#f7b2bc">D</tspan><tspan x="320.3" fill="#a8a8ae">R</tspan><tspan x="322.35" fill="#f7b2bc">Y</tspan><tspan x="324.4" fill="#bdbdcc">M</tspan><tspan x="326.45" fill="#f7b2bc">I</tspan><tspan x="328.5" fill="#bdbdcc">C</tspan><tspan x="330.55" fill="#bdbdcc">P</tspan><tspan x="332.6" fill="#bdbdcc">P</tspan><tspan x="334.65" fill="#bdbdcc">W</tspan><tspan x="336.7" fill="#bdbdcc">T</tspan><tspan x="338.75" fill="#bdbdcc">C</tspan><tspan x="340.8" fill="#f7b2bc">R</tspan><tspan x="342.85" fill="#bdbdcc">C</tspan><tspan x="344.9" fill="#bdbdcc">I</tspan><tspan x="373.6" fill="#bdbdcc">P</tspan><tspan x="375.65" fill="#f7b2bc">C</tspan><tspan x="377.7" fill="#bdbdcc">T</tspan><tspan x="379.75" fill="#f7b2bc">C</tspan><tspan x="381.8" fill="#f7b2bc">R</tspan><tspan x="383.85" fill="#bdbdcc">L</tspan><tspan x="385.9" fill="#f7b2bc">L</tspan><tspan x="387.95" fill="#f7b2bc">Q</tspan><tspan x="390" fill="#f7b2bc">C</tspan><tspan x="392.05" fill="#f7b2bc">F</tspan><tspan x="394.1" fill="#f7b2bc">R</tspan><tspan x="396.15" fill="#f7b2bc">T</tspan><tspan x="398.2" fill="#bdbdcc">W</tspan><tspan x="400.25" fill="#f7b2bc">V</tspan><tspan x="402.3" fill="#f7b2bc">Q</tspan><tspan x="404.35" fill="#f7b2bc">A</tspan><tspan x="406.4" fill="#bdbdcc">W</tspan><tspan x="408.45" fill="#bdbdcc">H</tspan><tspan x="410.5" fill="#f7b2bc">D</tspan><tspan x="412.55" fill="#bdbdcc">G</tspan><tspan x="414.6" fill="#f7b2bc">E</tspan><tspan x="416.65" fill="#bdbdcc">R</tspan><tspan x="418.7" fill="#f7b2bc">D</tspan><tspan x="420.75" fill="#bdbdcc">P</tspan><tspan x="422.8" fill="#bdbdcc">T</tspan><tspan x="424.85" fill="#a8a8ae">G</tspan><tspan x="426.9" fill="#f7b2bc">P</tspan><tspan x="428.95" fill="#bdbdcc">C</tspan><tspan x="431" fill="#f7b2bc">M</tspan><tspan x="433.05" fill="#f7b2bc">F</tspan><tspan x="435.1" fill="#f7b2bc">F</tspan><tspan x="437.15" fill="#f7b2bc">C</tspan><tspan x="439.2" fill="#bdbdcc">L</tspan><tspan x="441.25" fill="#f7b2bc">R</tspan><tspan x="443.3" fill="#f7b2bc">G</tspan><tspan x="445.35" fill="#bdbdcc">F</tspan><tspan x="447.4" fill="#a8a8ae">A</tspan><tspan x="449.45" fill="#f7b2bc">Y</tspan><tspan x="451.5" fill="#f7b2bc">A</tspan><tspan x="453.55" fill="#f7b2bc">S</tspan><tspan x="455.6" fill="#f7b2bc">A</tspan><tspan x="457.65" fill="#f7b2bc">S</tspan><tspan x="459.7" fill="#f7b2bc">W</tspan><tspan x="461.75" fill="#a8a8ae">R</tspan><tspan x="463.8" fill="#a8a8ae">Q</tspan><tspan x="465.85" fill="#a8a8ae">R</tspan><tspan x="467.9" fill="#a8a8ae">D</tspan><tspan x="469.95" fill="#a8a8ae">Y</tspan><tspan x="472" fill="#a8a8ae">Y</tspan><tspan x="474.05" fill="#f7b2bc">A</tspan><tspan x="476.1" fill="#f7b2bc">V</tspan><tspan x="478.15" fill="#a8a8ae">V</tspan><tspan x="480.2" fill="#f7b2bc">H</tspan><tspan x="482.25" fill="#f7b2bc">F</tspan><tspan x="484.3" fill="#f7b2bc">N</tspan><tspan x="486.35" fill="#f7b2bc">C</tspan><tspan x="488.4" fill="#f7b2bc">Y</tspan><tspan x="490.45" fill="#f7b2bc">D</tspan><tspan x="492.5" fill="#bdbdcc">Q</tspan><tspan x="494.55" fill="#f7b2bc">G</tspan><tspan x="496.6" fill="#f7b2bc">Y</tspan><tspan x="498.65" fill="#f7b2bc">Y</tspan><tspan x="500.7" fill="#f7b2bc">V</tspan><tspan x="502.75" fill="#a8a8ae">R</tspan><tspan x="504.8" fill="#a8a8ae">W</tspan><tspan x="506.85" fill="#a8a8ae">N</tspan><tspan x="508.9" fill="#a8a8ae">C</tspan><tspan x="510.95" fill="#a8a8ae">D</tspan><tspan x="513" fill="#f7b2bc">L</tspan></text><text y="565.15" font-family="Liberation Sans, sans-serif" font-size="2.8"><tspan x="154.25" fill="#a8a8ae">P</tspan><tspan x="156.3" fill="#a8a8ae">D</tspan><tspan x="158.35" fill="#bdbdcc">Q</tspan><tspan x="160.4" fill="#f7b2bc">D</tspan><tspan x="162.45" fill="#f7b2bc">F</tspan><tspan x="164.5" fill="#f7b2bc">K</tspan><tspan x="166.55" fill="#f7b2bc">Q</tspan><tspan x="168.6" fill="#bdbdcc">H</tspan><tspan x="170.65" fill="#bdbdcc">E</tspan><tspan x="172.7" fill="#bdbdcc">T</tspan><tspan x="174.75" fill="#bdbdcc">S</tspan><tspan x="176.8" fill="#a8a8ae">Y</tspan><tspan x="178.85" fill="#ff7070">L</tspan><tspan x="180.9" fill="#ff7070">Q</tspan><tspan x="182.95" fill="#f7b2bc">Y</tspan><tspan x="185" fill="#f7b2bc">K</tspan><tspan x="187.05" fill="#f7b2bc">Y</tspan><tspan x="189.1" fill="#f7b2bc">F</tspan><tspan x="191.15" fill="#f7b2bc">S</tspan><tspan x="193.2" fill="#a8a8ae">S</tspan><tspan x="195.25" fill="#bdbdcc">S</tspan><tspan x="197.3" fill="#f7b2bc">Y</tspan><tspan x="199.35" fill="#bdbdcc">L</tspan><tspan x="201.4" fill="#f7b2bc">A</tspan><tspan x="203.45" fill="#bdbdcc">R</tspan><tspan x="205.5" fill="#a8a8ae">E</tspan><tspan x="207.55" fill="#bdbdcc">H</tspan><tspan x="209.6" fill="#f7b2bc">Q</tspan><tspan x="211.65" fill="#f7b2bc">M</tspan><tspan x="213.7" fill="#f7b2bc">H</tspan><tspan x="215.75" fill="#f7b2bc">H</tspan><tspan x="217.8" fill="#bdbdcc">K</tspan><tspan x="219.85" fill="#f7b2bc">L</tspan><tspan x="221.9" fill="#f7b2bc">V</tspan><tspan x="223.95" fill="#f7b2bc">A</tspan><tspan x="226" fill="#ff7070">M</tspan><tspan x="228.05" fill="#ff7070">M</tspan><tspan x="230.1" fill="#bdbdcc">P</tspan><tspan x="232.15" fill="#bdbdcc">Y</tspan><tspan x="234.2" fill="#f7b2bc">G</tspan><tspan x="236.25" fill="#bdbdcc">M</tspan><tspan x="238.3" fill="#ff7070">S</tspan><tspan x="240.35" fill="#ff7070">S</tspan><tspan x="242.4" fill="#f7b2bc">C</tspan><tspan x="244.45" fill="#f7b2bc">S</tspan><tspan x="246.5" fill="#bdbdcc">R</tspan><tspan x="248.55" fill="#bdbdcc">V</tspan><tspan x="250.6" fill="#ff7070">R</tspan><tspan x="252.65" fill="#a8a8ae">Q</tspan><tspan x="254.7" fill="#bdbdcc">C</tspan><tspan x="256.75" fill="#f7b2bc">L</tspan><tspan x="258.8" fill="#f7b2bc">M</tspan><tspan x="260.85" fill="#ff7070">A</tspan><tspan x="262.9" fill="#ff7070">H</tspan><tspan x="264.95" fill="#bdbdcc">W</tspan><tspan x="267" fill="#f7b2bc">N</tspan><tspan x="269.05" fill="#f7b2bc">F</tspan><tspan x="271.1" fill="#f7b2bc">A</tspan><tspan x="273.15" fill="#a8a8ae">P</tspan><tspan x="275.2" fill="#a8a8ae">V</tspan><tspan x="277.25" fill="#ff7070">G</tspan><tspan x="279.3" fill="#ff7070">W</tspan><tspan x="281.35" fill="#fff2f2">Y</tspan><tspan x="283.4" fill="#ff7070">P</tspan><tspan x="285.45" fill="#fff2f2">G</tspan><tspan x="287.5" fill="#ff7070">Y</tspan><tspan x="289.55" fill="#fff2f2">E</tspan><tspan x="291.6" fill="#ff7070">L</tspan><tspan x="293.65" fill="#ff7070">M</tspan><tspan x="295.7" fill="#ff7070">C</tspan><tspan x="297.75" fill="#ff7070">K</tspan><tspan x="299.8" fill="#fff2f2">Q</tspan><tspan x="301.85" fill="#fff2f2">D</tspan><tspan x="303.9" fill="#ff7070">S</tspan><tspan x="305.95" fill="#a8a8ae">I</tspan><tspan x="308" fill="#f7b2bc">N</tspan><tspan x="310.05" fill="#f7b2bc">L</tspan><tspan x="312.1" fill="#f7b2bc">L</tspan><tspan x="314.15" fill="#bdbdcc">N</tspan><tspan x="316.2" fill="#bdbdcc">H</tspan><tspan x="318.25" fill="#f7b2bc">R</tspan><tspan x="320.3" fill="#a8a8ae">S</tspan><tspan x="322.35" fill="#f7b2bc">T</tspan><tspan x="324.4" fill="#bdbdcc">M</tspan><tspan x="326.45" fill="#f7b2bc">T</tspan><tspan x="328.5" fill="#f7b2bc">M</tspan><tspan x="330.55" fill="#bdbdcc">E</tspan><tspan x="332.6" fill="#bdbdcc">T</tspan><tspan x="334.65" fill="#f7b2bc">F</tspan><tspan x="336.7" fill="#f7b2bc">C</tspan><tspan x="338.75" fill="#f7b2bc">T</tspan><tspan x="340.8" fill="#bdbdcc">L</tspan><tspan x="342.85" fill="#bdbdcc">Y</tspan><tspan x="344.9" fill="#f7b2bc">M</tspan><tspan x="373.6" fill="#f7b2bc">C</tspan><tspan x="375.65" fill="#f7b2bc">L</tspan><tspan x="377.7" fill="#f7b2bc">L</tspan><tspan x="379.75" fill="#f7b2bc">H</tspan><tspan x="381.8" fill="#f7b2bc">H</tspan><tspan x="383.85" fill="#f7b2bc">V</tspan><tspan x="385.9" fill="#f7b2bc">R</tspan><tspan x="387.95" fill="#f7b2bc">K</tspan><tspan x="390" fill="#f7b2bc">K</tspan><tspan x="392.05" fill="#f7b2bc">Y</tspan><tspan x="394.1" fill="#f7b2bc">E</tspan><tspan x="396.15" fill="#f7b2bc">N</tspan><tspan x="398.2" fill="#f7b2bc">K</tspan><tspan x="400.25" fill="#f7b2bc">L</tspan><tspan x="402.3" fill="#f7b2bc">G</tspan><tspan x="404.35" fill="#bdbdcc">Y</tspan><tspan x="406.4" fill="#f7b2bc">V</tspan><tspan x="408.45" fill="#f7b2bc">F</tspan><tspan x="410.5" fill="#f7b2bc">C</tspan><tspan x="412.55" fill="#f7b2bc">C</tspan><tspan x="414.6" fill="#f7b2bc">P</tspan><tspan x="416.65" fill="#bdbdcc">Y</tspan><tspan x="418.7" fill="#bdbdcc">R</tspan><tspan x="420.75" fill="#f7b2bc">L</tspan><tspan x="422.8" fill="#bdbdcc">H</tspan><tspan x="424.85" fill="#a8a8ae">V</tspan><tspan x="426.9" fill="#bdbdcc">D</tspan><tspan x="428.95" fill="#f7b2bc">R</tspan><tspan x="431" fill="#bdbdcc">D</tspan><tspan x="433.05" fill="#f7b2bc">R</tspan><tspan x="435.1" fill="#bdbdcc">L</tspan><tspan x="437.15" fill="#f7b2bc">R</tspan><tspan x="439.2" fill="#f7b2bc">I</tspan><tspan x="441.25" fill="#f7b2bc">Y</tspan><tspan x="443.3" fill="#f7b2bc">N</tspan><tspan x="445.35" fill="#bdbdcc">M</tspan><tspan x="447.4" fill="#a8a8ae">M</tspan><tspan x="449.45" fill="#f7b2bc">R</tspan><tspan x="451.5" fill="#f7b2bc">D</tspan><tspan x="453.55" fill="#f7b2bc">N</tspan><tspan x="455.6" fill="#f7b2bc">G</tspan><tspan x="457.65" fill="#f7b2bc">N</tspan><tspan x="459.7" fill="#f7b2bc">F</tspan><tspan x="461.75" fill="#a8a8ae">P</tspan><tspan x="463.8" fill="#a8a8ae">E</tspan><tspan x="465.85" fill="#a8a8ae">M</tspan><tspan x="467.9" fill="#a8a8ae">V</tspan><tspan x="469.95" fill="#a8a8ae">D</tspan><tspan x="472" fill="#a8a8ae">L</tspan><tspan x="474.05" fill="#f7b2bc">V</tspan><tspan x="476.1" fill="#f7b2bc">W</tspan><tspan x="478.15" fill="#a8a8ae">Y</tspan><tspan x="480.2" fill="#f7b2bc">I</tspan><tspan x="482.25" fill="#f7b2bc">S</tspan><tspan x="484.3" fill="#f7b2bc">M</tspan><tspan x="486.35" fill="#f7b2bc">W</tspan><tspan x="488.4" fill="#f7b2bc">Q</tspan><tspan x="490.45" fill="#f7b2bc">M</tspan><tspan x="492.5" fill="#f7b2bc">I</tspan><tspan x="494.55" fill="#f7b2bc">D</tspan><tspan x="496.6" fill="#f7b2bc">W</tspan><tspan x="498.65" fill="#f7b2bc">E</tspan><tspan x="500.7" fill="#f7b2bc">R</tspan><tspan x="502.75" fill="#a8a8ae">E</tspan><tspan x="504.8" fill="#a8a8ae">R</tspan><tspan x="506.85" fill="#a8a8ae">G</tspan><tspan x="508.9" fill="#a8a8ae">L</tspan><tspan x="510.95" fill="#a8a8ae">P</tspan><tspan x="513" fill="#f7b2bc">D</tspan></text><text y="568.59" font-family="Liberation Sans, sans-serif" font-size="2.8"><tspan x="105.25" fill="#858585">Y</tspan><tspan x="107.3" fill="#858585">P</tspan><tspan x="109.35" fill="#858585">M</tspan><tspan x="111.4" fill="#858585">S</tspan><tspan x="113.45" fill="#858585">C</tspan><tspan x="115.5" fill="#858585">D</tspan><tspan x="117.55" fill="#858585">H</tspan><tspan x="119.6" fill="#858585">F</tspan><tspan x="121.65" fill="#858585">W</tspan><tspan x="123.7" fill="#858585">A</tspan><tspan x="125.75" fill="#858585">F</tspan><tspan x="127.8" fill="#858585">F</tspan><tspan x="129.85" fill="#858585">R</tspan><tspan x="142.15" fill="#858585">V</tspan><tspan x="144.2" fill="#858585">L</tspan><tspan x="146.25" fill="#858585">P</tspan><tspan x="148.3" fill="#a8a8ae">Y</tspan><tspan x="150.35" fill="#a8a8ae">W</tspan><tspan x="152.4" fill="#a8a8ae">R</tspan><tspan x="154.45" fill="#a8a8ae">H</tspan><tspan x="156.5" fill="#a8a8ae">H</tspan><tspan x="158.55" fill="#f7b2bc">M</tspan><tspan x="160.6" fill="#bdbdcc">L</tspan><tspan x="162.65" fill="#bdbdcc">Q</tspan><tspan x="164.7" fill="#bdbdcc">N</tspan><tspan x="166.75" fill="#f7b2bc">W</tspan><tspan x="168.8" fill="#f7b2bc">T</tspan><tspan x="170.85" fill="#bdbdcc">F</tspan><tspan x="172.9" fill="#f7b2bc">C</tspan><tspan x="174.95" fill="#bdbdcc">V</tspan><tspan x="177" fill="#a8a8ae">A</tspan><tspan x="179.05" fill="#ff7070">V</tspan><tspan x="181.1" fill="#f7b2bc">N</tspan><tspan x="183.15" fill="#bdbdcc">L</tspan><tspan x="185.2" fill="#f7b2bc">I</tspan><tspan x="187.25" fill="#f7b2bc">W</tspan><tspan x="189.3" fill="#f7b2bc">M</tspan><tspan x="191.35" fill="#f7b2bc">P</tspan><tspan x="193.4" fill="#a8a8ae">V</tspan><tspan x="195.45" fill="#bdbdcc">H</tspan><tspan x="197.5" fill="#f7b2bc">S</tspan><tspan x="199.55" fill="#f7b2bc">V</tspan><tspan x="201.6" fill="#bdbdcc">N</tspan><tspan x="203.65" fill="#f7b2bc">F</tspan><tspan x="205.7" fill="#a8a8ae">F</tspan><tspan x="207.75" fill="#f7b2bc">F</tspan><tspan x="209.8" fill="#f7b2bc">A</tspan><tspan x="211.85" fill="#f7b2bc">S</tspan><tspan x="213.9" fill="#f7b2bc">F</tspan><tspan x="215.95" fill="#bdbdcc">Q</tspan><tspan x="218" fill="#bdbdcc">Y</tspan><tspan x="220.05" fill="#f7b2bc">Y</tspan><tspan x="222.1" fill="#f7b2bc">T</tspan><tspan x="224.15" fill="#f7b2bc">R</tspan><tspan x="226.2" fill="#ff7070">I</tspan><tspan x="228.25" fill="#ff7070">G</tspan><tspan x="230.3" fill="#bdbdcc">Q</tspan><tspan x="232.35" fill="#bdbdcc">W</tspan><tspan x="234.4" fill="#bdbdcc">I</tspan><tspan x="236.45" fill="#f7b2bc">K</tspan><tspan x="238.5" fill="#ff7070">V</tspan><tspan x="240.55" fill="#a8a8ae">W</tspan><tspan x="242.6" fill="#f7b2bc">N</tspan><tspan x="244.65" fill="#f7b2bc">C</tspan><tspan x="246.7" fill="#f7b2bc">N</tspan><tspan x="248.75" fill="#bdbdcc">S</tspan><tspan x="250.8" fill="#ff7070">D</tspan><tspan x="252.85" fill="#a8a8ae">F</tspan><tspan x="254.9" fill="#bdbdcc">T</tspan><tspan x="256.95" fill="#f7b2bc">K</tspan><tspan x="259" fill="#f7b2bc">D</tspan><tspan x="261.05" fill="#ff7070">Y</tspan><tspan x="263.1" fill="#ff7070">D</tspan><tspan x="265.15" fill="#f7b2bc">I</tspan><tspan x="267.2" fill="#bdbdcc">D</tspan><tspan x="269.25" fill="#bdbdcc">V</tspan><tspan x="271.3" fill="#bdbdcc">L</tspan><tspan x="273.35" fill="#a8a8ae">M</tspan><tspan x="275.4" fill="#a8a8ae">V</tspan><tspan x="277.45" fill="#ff7070">A</tspan><tspan x="279.5" fill="#ff7070">S</tspan><tspan x="281.55" fill="#fff2f2">R</tspan><tspan x="283.6" fill="#ff7070">T</tspan><tspan x="285.65" fill="#fff2f2">S</tspan><tspan x="287.7" fill="#ff7070">W</tspan><tspan x="289.75" fill="#ff7070">M</tspan><tspan x="291.8" fill="#ff7070">Q</tspan><tspan x="293.85" fill="#ff7070">N</tspan><tspan x="295.9" fill="#ff7070">L</tspan><tspan x="297.95" fill="#ff7070">L</tspan><tspan x="300" fill="#fff2f2">G</tspan><tspan x="302.05" fill="#fff2f2">C</tspan><tspan x="304.1" fill="#ff7070">Y</tspan><tspan x="306.15" fill="#a8a8ae">L</tspan><tspan x="308.2" fill="#f7b2bc">W</tspan><tspan x="310.25" fill="#f7b2bc">S</tspan><tspan x="312.3" fill="#f7b2bc">W</tspan><tspan x="314.35" fill="#bdbdcc">L</tspan><tspan x="316.4" fill="#f7b2bc">Y</tspan><tspan x="318.45" fill="#f7b2bc">S</tspan><tspan x="320.5" fill="#a8a8ae">T</tspan><tspan x="322.55" fill="#bdbdcc">D</tspan><tspan x="324.6" fill="#f7b2bc">K</tspan><tspan x="326.65" fill="#f7b2bc">Y</tspan><tspan x="328.7" fill="#f7b2bc">K</tspan><tspan x="330.75" fill="#bdbdcc">E</tspan><tspan x="332.8" fill="#bdbdcc">W</tspan><tspan x="334.85" fill="#f7b2bc">R</tspan><tspan x="336.9" fill="#f7b2bc">G</tspan><tspan x="338.95" fill="#f7b2bc">I</tspan><tspan x="341" fill="#bdbdcc">T</tspan><tspan x="343.05" fill="#bdbdcc">M</tspan><tspan x="345.1" fill="#bdbdcc">F</tspan><tspan x="373.8" fill="#bdbdcc">F</tspan><tspan x="375.85" fill="#bdbdcc">Q</tspan><tspan x="377.9" fill="#f7b2bc">I</tspan><tspan x="379.95" fill="#f7b2bc">G</tspan><tspan x="382" fill="#f7b2bc">N</tspan><tspan x="384.05" fill="#bdbdcc">K</tspan><tspan x="386.1" fill="#f7b2bc">E</tspan><tspan x="388.15" fill="#f7b2bc">R</tspan><tspan x="390.2" fill="#f7b2bc">L</tspan><tspan x="392.25" fill="#f7b2bc">V</tspan><tspan x="394.3" fill="#f7b2bc">P</tspan><tspan x="396.35" fill="#f7b2bc">F</tspan><tspan x="398.4" fill="#f7b2bc">Q</tspan><tspan x="400.45" fill="#f7b2bc">R</tspan><tspan x="402.5" fill="#bdbdcc">M</tspan><tspan x="404.55" fill="#f7b2bc">C</tspan><tspan x="406.6" fill="#f7b2bc">V</tspan><tspan x="408.65" fill="#bdbdcc">Q</tspan><tspan x="410.7" fill="#f7b2bc">K</tspan><tspan x="412.75" fill="#bdbdcc">K</tspan><tspan x="414.8" fill="#bdbdcc">K</tspan><tspan x="416.85" fill="#f7b2bc">P</tspan><tspan x="418.9" fill="#bdbdcc">I</tspan><tspan x="420.95" fill="#bdbdcc">W</tspan><tspan x="423" fill="#f7b2bc">T</tspan><tspan x="425.05" fill="#a8a8ae">G</tspan><tspan x="427.1" fill="#f7b2bc">M</tspan><tspan x="429.15" fill="#bdbdcc">A</tspan><tspan x="431.2" fill="#f7b2bc">A</tspan><tspan x="433.25" fill="#f7b2bc">T</tspan><tspan x="435.3" fill="#f7b2bc">R</tspan><tspan x="437.35" fill="#f7b2bc">L</tspan><tspan x="439.4" fill="#f7b2bc">C</tspan><tspan x="441.45" fill="#f7b2bc">D</tspan><tspan x="443.5" fill="#bdbdcc">Y</tspan><tspan x="445.55" fill="#bdbdcc">H</tspan><tspan x="447.6" fill="#a8a8ae">E</tspan><tspan x="449.65" fill="#f7b2bc">E</tspan><tspan x="451.7" fill="#f7b2bc">Y</tspan><tspan x="453.75" fill="#f7b2bc">W</tspan><tspan x="455.8" fill="#bdbdcc">G</tspan><tspan x="457.85" fill="#f7b2bc">G</tspan><tspan x="459.9" fill="#f7b2bc">R</tspan><tspan x="461.95" fill="#a8a8ae">D</tspan><tspan x="464" fill="#a8a8ae">R</tspan><tspan x="466.05" fill="#a8a8ae">K</tspan><tspan x="468.1" fill="#a8a8ae">Q</tspan><tspan x="470.15" fill="#a8a8ae">M</tspan><tspan x="472.2" fill="#a8a8ae">K</tspan><tspan x="474.25" fill="#bdbdcc">G</tspan><tspan x="476.3" fill="#bdbdcc">K</tspan><tspan x="478.35" fill="#a8a8ae">P</tspan><tspan x="480.4" fill="#f7b2bc">P</tspan><tspan x="482.45" fill="#f7b2bc">C</tspan><tspan x="484.5" fill="#f7b2bc">K</tspan><tspan x="486.55" fill="#f7b2bc">D</tspan><tspan x="488.6" fill="#f7b2bc">H</tspan><tspan x="490.65" fill="#f7b2bc">G</tspan><tspan x="492.7" fill="#f7b2bc">E</tspan><tspan x="494.75" fill="#f7b2bc">Q</tspan><tspan x="496.8" fill="#bdbdcc">E</tspan><tspan x="498.85" fill="#f7b2bc">K</tspan><tspan x="500.9" fill="#f7b2bc">D</tspan><tspan x="502.95" fill="#a8a8ae">K</tspan><tspan x="505" fill="#a8a8ae">R</tspan><tspan x="507.05" fill="#a8a8ae">A</tspan><tspan x="509.1" fill="#a8a8ae">S</tspan><tspan x="511.15" fill="#f7b2bc">F</tspan><tspan x="513.2" fill="#bdbdcc">A</tspan></text><text y="572.03" font-family="Liberation Sans, sans-serif" font-size="2.8"><tspan x="154.25" fill="#a8a8ae">P</tspan><tspan x="156.3" fill="#a8a8ae">K</tspan><tspan x="158.35" fill="#bdbdcc">F</tspan><tspan x="160.4" fill="#bdbdcc">P</tspan><tspan x="162.45" fill="#bdbdcc">T</tspan><tspan x="164.5" fill="#f7b2bc">S</tspan><tspan x="166.55" fill="#bdbdcc">P</tspan><tspan x="168.6" fill="#f7b2bc">D</tspan><tspan x="170.65" fill="#f7b2bc">A</tspan><tspan x="172.7" fill="#f7b2bc">S</tspan><tspan x="174.75" fill="#bdbdcc">V</tspan><tspan x="176.8" fill="#a8a8ae">N</tspan><tspan x="178.85" fill="#ff7070">M</tspan><tspan x="180.9" fill="#ff7070">L</tspan><tspan x="182.95" fill="#f7b2bc">P</tspan><tspan x="185" fill="#f7b2bc">D</tspan><tspan x="187.05" fill="#f7b2bc">M</tspan><tspan x="189.1" fill="#f7b2bc">R</tspan><tspan x="191.15" fill="#f7b2bc">L</tspan><tspan x="193.2" fill="#a8a8ae">G</tspan><tspan x="195.25" fill="#f7b2bc">V</tspan><tspan x="197.3" fill="#bdbdcc">P</tspan><tspan x="199.35" fill="#bdbdcc">L</tspan><tspan x="201.4" fill="#bdbdcc">E</tspan><tspan x="203.45" fill="#f7b2bc">N</tspan><tspan x="205.5" fill="#a8a8ae">R</tspan><tspan x="207.55" fill="#f7b2bc">H</tspan><tspan x="209.6" fill="#f7b2bc">H</tspan><tspan x="211.65" fill="#f7b2bc">W</tspan><tspan x="213.7" fill="#f7b2bc">P</tspan><tspan x="215.75" fill="#f7b2bc">V</tspan><tspan x="217.8" fill="#f7b2bc">S</tspan><tspan x="219.85" fill="#bdbdcc">R</tspan><tspan x="221.9" fill="#f7b2bc">A</tspan><tspan x="223.95" fill="#f7b2bc">C</tspan><tspan x="226" fill="#ff7070">C</tspan><tspan x="228.05" fill="#ff7070">P</tspan><tspan x="230.1" fill="#f7b2bc">E</tspan><tspan x="232.15" fill="#bdbdcc">T</tspan><tspan x="234.2" fill="#f7b2bc">V</tspan><tspan x="236.25" fill="#f7b2bc">W</tspan><tspan x="238.3" fill="#ff7070">D</tspan><tspan x="240.35" fill="#ff7070">C</tspan><tspan x="242.4" fill="#f7b2bc">F</tspan><tspan x="244.45" fill="#f7b2bc">A</tspan><tspan x="246.5" fill="#f7b2bc">Y</tspan><tspan x="248.55" fill="#f7b2bc">F</tspan><tspan x="250.6" fill="#ff7070">C</tspan><tspan x="252.65" fill="#a8a8ae">L</tspan><tspan x="254.7" fill="#f7b2bc">E</tspan><tspan x="256.75" fill="#bdbdcc">G</tspan><tspan x="258.8" fill="#bdbdcc">D</tspan><tspan x="260.85" fill="#ff7070">E</tspan><tspan x="262.9" fill="#ff7070">E</tspan><tspan x="264.95" fill="#f7b2bc">S</tspan><tspan x="267" fill="#f7b2bc">Y</tspan><tspan x="269.05" fill="#f7b2bc">H</tspan><tspan x="271.1" fill="#f7b2bc">P</tspan><tspan x="273.15" fill="#a8a8ae">W</tspan><tspan x="275.2" fill="#a8a8ae">V</tspan><tspan x="277.25" fill="#ff7070">F</tspan><tspan x="279.3" fill="#ff7070">M</tspan><tspan x="281.35" fill="#fff2f2">H</tspan><tspan x="283.4" fill="#ff7070">C</tspan><tspan x="285.45" fill="#fff2f2">W</tspan><tspan x="287.5" fill="#ff7070">G</tspan><tspan x="289.55" fill="#fff2f2">M</tspan><tspan x="291.6" fill="#ff7070">D</tspan><tspan x="293.65" fill="#ff7070">E</tspan><tspan x="295.7" fill="#ff7070">K</tspan><tspan x="297.75" fill="#ff7070">F</tspan><tspan x="299.8" fill="#fff2f2">Q</tspan><tspan x="301.85" fill="#fff2f2">G</tspan><tspan x="303.9" fill="#ff7070">N</tspan><tspan x="305.95" fill="#a8a8ae">V</tspan><tspan x="308" fill="#f7b2bc">G</tspan><tspan x="310.05" fill="#f7b2bc">W</tspan><tspan x="312.1" fill="#bdbdcc">E</tspan><tspan x="314.15" fill="#f7b2bc">Y</tspan><tspan x="316.2" fill="#f7b2bc">G</tspan><tspan x="318.25" fill="#f7b2bc">S</tspan><tspan x="320.3" fill="#a8a8ae">A</tspan><tspan x="322.35" fill="#bdbdcc">G</tspan><tspan x="324.4" fill="#bdbdcc">W</tspan><tspan x="326.45" fill="#bdbdcc">Q</tspan><tspan x="328.5" fill="#bdbdcc">S</tspan><tspan x="330.55" fill="#f7b2bc">H</tspan><tspan x="332.6" fill="#bdbdcc">K</tspan><tspan x="334.65" fill="#f7b2bc">Q</tspan><tspan x="336.7" fill="#bdbdcc">G</tspan><tspan x="338.75" fill="#bdbdcc">C</tspan><tspan x="340.8" fill="#bdbdcc">S</tspan><tspan x="342.85" fill="#bdbdcc">D</tspan><tspan x="344.9" fill="#f7b2bc">L</tspan><tspan x="373.6" fill="#f7b2bc">A</tspan><tspan x="375.65" fill="#f7b2bc">H</tspan><tspan x="377.7" fill="#bdbdcc">T</tspan><tspan x="379.75" fill="#f7b2bc">Y</tspan><tspan x="381.8" fill="#f7b2bc">V</tspan><tspan x="383.85" fill="#bdbdcc">R</tspan><tspan x="385.9" fill="#f7b2bc">H</tspan><tspan x="387.95" fill="#f7b2bc">H</tspan><tspan x="390" fill="#f7b2bc">F</tspan><tspan x="392.05" fill="#f7b2bc">S</tspan><tspan x="394.1" fill="#f7b2bc">G</tspan><tspan x="396.15" fill="#f7b2bc">C</tspan><tspan x="398.2" fill="#f7b2bc">N</tspan><tspan x="400.25" fill="#f7b2bc">Q</tspan><tspan x="402.3" fill="#f7b2bc">Y</tspan><tspan x="404.35" fill="#f7b2bc">R</tspan><tspan x="406.4" fill="#bdbdcc">C</tspan><tspan x="408.45" fill="#f7b2bc">G</tspan><tspan x="410.5" fill="#f7b2bc">A</tspan><tspan x="412.55" fill="#f7b2bc">E</tspan><tspan x="414.6" fill="#bdbdcc">I</tspan><tspan x="416.65" fill="#bdbdcc">W</tspan><tspan x="418.7" fill="#f7b2bc">Q</tspan><tspan x="420.75" fill="#f7b2bc">M</tspan><tspan x="422.8" fill="#f7b2bc">E</tspan><tspan x="424.85" fill="#a8a8ae">E</tspan><tspan x="426.9" fill="#bdbdcc">I</tspan><tspan x="428.95" fill="#f7b2bc">H</tspan><tspan x="431" fill="#f7b2bc">I</tspan><tspan x="433.05" fill="#f7b2bc">W</tspan><tspan x="435.1" fill="#f7b2bc">Q</tspan><tspan x="437.15" fill="#f7b2bc">Y</tspan><tspan x="439.2" fill="#f7b2bc">P</tspan><tspan x="441.25" fill="#bdbdcc">R</tspan><tspan x="443.3" fill="#bdbdcc">N</tspan><tspan x="445.35" fill="#f7b2bc">H</tspan><tspan x="447.4" fill="#a8a8ae">C</tspan><tspan x="449.45" fill="#f7b2bc">W</tspan><tspan x="451.5" fill="#f7b2bc">F</tspan><tspan x="453.55" fill="#f7b2bc">R</tspan><tspan x="455.6" fill="#f7b2bc">G</tspan><tspan x="457.65" fill="#bdbdcc">I</tspan><tspan x="459.7" fill="#f7b2bc">Y</tspan><tspan x="461.75" fill="#a8a8ae">Y</tspan><tspan x="463.8" fill="#a8a8ae">G</tspan><tspan x="465.85" fill="#a8a8ae">W</tspan><tspan x="467.9" fill="#a8a8ae">V</tspan><tspan x="469.95" fill="#a8a8ae">I</tspan><tspan x="472" fill="#a8a8ae">D</tspan><tspan x="474.05" fill="#bdbdcc">Q</tspan><tspan x="476.1" fill="#bdbdcc">S</tspan><tspan x="478.15" fill="#a8a8ae">H</tspan><tspan x="480.2" fill="#f7b2bc">W</tspan><tspan x="482.25" fill="#f7b2bc">R</tspan><tspan x="484.3" fill="#f7b2bc">Q</tspan><tspan x="486.35" fill="#f7b2bc">I</tspan><tspan x="488.4" fill="#f7b2bc">Q</tspan><tspan x="490.45" fill="#bdbdcc">W</tspan><tspan x="492.5" fill="#bdbdcc">W</tspan><tspan x="494.55" fill="#bdbdcc">Q</tspan><tspan x="496.6" fill="#bdbdcc">C</tspan><tspan x="498.65" fill="#f7b2bc">T</tspan><tspan x="500.7" fill="#f7b2bc">T</tspan><tspan x="502.75" fill="#a8a8ae">E</tspan><tspan x="504.8" fill="#a8a8ae">R</tspan><tspan x="506.85" fill="#a8a8ae">S</tspan><tspan x="508.9" fill="#a8a8ae">I</tspan><tspan x="510.95" fill="#a8a8ae">D</tspan><tspan x="513" fill="#f7b2bc">V</tspan></text><text y="575.47" font-family="Liberation Sans, sans-serif" font-size="2.8"><tspan x="154.25" fill="#a8a8ae">Q</tspan><tspan x="156.3" fill="#a8a8ae">H</tspan><tspan x="158.35" fill="#f7b2bc">F</tspan><tspan x="160.4" fill="#bdbdcc">I</tspan><tspan x="162.45" fill="#f7b2bc">D</tspan><tspan x="164.5" fill="#f7b2bc">L</tspan><tspan x="166.55" fill="#bdbdcc">R</tspan><tspan x="168.6" fill="#f7b2bc">W</tspan><tspan x="170.65" fill="#f7b2bc">R</tspan><tspan x="172.7" fill="#bdbdcc">F</tspan><tspan x="174.75" fill="#f7b2bc">P</tspan><tspan x="176.8" fill="#a8a8ae">N</tspan><tspan x="178.85" fill="#ff7070">R</tspan><tspan x="180.9" fill="#ff7070">A</tspan><tspan x="182.95" fill="#f7b2bc">D</tspan><tspan x="185" fill="#f7b2bc">M</tspan><tspan x="187.05" fill="#f7b2bc">L</tspan><tspan x="189.1" fill="#f7b2bc">K</tspan><tspan x="191.15" fill="#f7b2bc">Y</tspan><tspan x="193.2" fill="#a8a8ae">H</tspan><tspan x="195.25" fill="#bdbdcc">D</tspan><tspan x="197.3" fill="#bdbdcc">M</tspan><tspan x="199.35" fill="#f7b2bc">C</tspan><tspan x="201.4" fill="#bdbdcc">N</tspan><tspan x="203.45" fill="#f7b2bc">E</tspan><tspan x="205.5" fill="#a8a8ae">R</tspan><tspan x="207.55" fill="#f7b2bc">Y</tspan><tspan x="209.6" fill="#f7b2bc">N</tspan><tspan x="211.65" fill="#f7b2bc">V</tspan><tspan x="213.7" fill="#f7b2bc">V</tspan><tspan x="215.75" fill="#f7b2bc">H</tspan><tspan x="217.8" fill="#f7b2bc">M</tspan><tspan x="219.85" fill="#f7b2bc">E</tspan><tspan x="221.9" fill="#bdbdcc">W</tspan><tspan x="223.95" fill="#bdbdcc">H</tspan><tspan x="226" fill="#ff7070">I</tspan><tspan x="228.05" fill="#ff7070">M</tspan><tspan x="230.1" fill="#bdbdcc">N</tspan><tspan x="232.15" fill="#bdbdcc">T</tspan><tspan x="234.2" fill="#f7b2bc">K</tspan><tspan x="236.25" fill="#f7b2bc">N</tspan><tspan x="238.3" fill="#ff7070">S</tspan><tspan x="240.35" fill="#ff7070">T</tspan><tspan x="242.4" fill="#bdbdcc">T</tspan><tspan x="244.45" fill="#f7b2bc">S</tspan><tspan x="246.5" fill="#bdbdcc">V</tspan><tspan x="248.55" fill="#f7b2bc">R</tspan><tspan x="250.6" fill="#ff7070">D</tspan><tspan x="252.65" fill="#a8a8ae">H</tspan><tspan x="254.7" fill="#f7b2bc">R</tspan><tspan x="256.75" fill="#bdbdcc">P</tspan><tspan x="258.8" fill="#bdbdcc">L</tspan><tspan x="260.85" fill="#ff7070">D</tspan><tspan x="262.9" fill="#ff7070">E</tspan><tspan x="264.95" fill="#f7b2bc">G</tspan><tspan x="267" fill="#f7b2bc">F</tspan><tspan x="269.05" fill="#f7b2bc">H</tspan><tspan x="271.1" fill="#f7b2bc">A</tspan><tspan x="273.15" fill="#a8a8ae">V</tspan><tspan x="275.2" fill="#a8a8ae">F</tspan><tspan x="277.25" fill="#ff7070">S</tspan><tspan x="279.3" fill="#ff7070">N</tspan><tspan x="281.35" fill="#fff2f2">Q</tspan><tspan x="283.4" fill="#ff7070">R</tspan><tspan x="285.45" fill="#fff2f2">A</tspan><tspan x="287.5" fill="#ff7070">L</tspan><tspan x="289.55" fill="#fff2f2">H</tspan><tspan x="291.6" fill="#ff7070">D</tspan><tspan x="293.65" fill="#ff7070">A</tspan><tspan x="295.7" fill="#ff7070">I</tspan><tspan x="297.75" fill="#ff7070">T</tspan><tspan x="299.8" fill="#fff2f2">M</tspan><tspan x="301.85" fill="#fff2f2">Q</tspan><tspan x="303.9" fill="#ff7070">W</tspan><tspan x="305.95" fill="#a8a8ae">M</tspan><tspan x="308" fill="#f7b2bc">M</tspan><tspan x="310.05" fill="#bdbdcc">T</tspan><tspan x="312.1" fill="#f7b2bc">R</tspan><tspan x="314.15" fill="#f7b2bc">W</tspan><tspan x="316.2" fill="#f7b2bc">L</tspan><tspan x="318.25" fill="#f7b2bc">K</tspan><tspan x="320.3" fill="#a8a8ae">N</tspan><tspan x="322.35" fill="#bdbdcc">L</tspan><tspan x="324.4" fill="#f7b2bc">C</tspan><tspan x="326.45" fill="#f7b2bc">L</tspan><tspan x="328.5" fill="#bdbdcc">G</tspan><tspan x="330.55" fill="#bdbdcc">G</tspan><tspan x="332.6" fill="#f7b2bc">L</tspan><tspan x="334.65" fill="#bdbdcc">G</tspan><tspan x="336.7" fill="#f7b2bc">F</tspan><tspan x="338.75" fill="#f7b2bc">E</tspan><tspan x="340.8" fill="#bdbdcc">M</tspan><tspan x="342.85" fill="#f7b2bc">R</tspan><tspan x="344.9" fill="#f7b2bc">G</tspan><tspan x="346.95" fill="#858585">C</tspan><tspan x="349" fill="#858585">M</tspan><tspan x="351.05" fill="#858585">N</tspan><tspan x="353.1" fill="#858585">F</tspan><tspan x="355.15" fill="#858585">N</tspan><tspan x="357.2" fill="#858585">R</tspan><tspan x="359.25" fill="#858585">V</tspan><tspan x="373.6" fill="#f7b2bc">G</tspan><tspan x="375.65" fill="#bdbdcc">E</tspan><tspan x="377.7" fill="#bdbdcc">P</tspan><tspan x="379.75" fill="#bdbdcc">F</tspan><tspan x="381.8" fill="#f7b2bc">M</tspan><tspan x="383.85" fill="#bdbdcc">V</tspan><tspan x="385.9" fill="#f7b2bc">M</tspan><tspan x="387.95" fill="#f7b2bc">L</tspan><tspan x="390" fill="#bdbdcc">L</tspan><tspan x="392.05" fill="#f7b2bc">W</tspan><tspan x="394.1" fill="#bdbdcc">W</tspan><tspan x="396.15" fill="#f7b2bc">R</tspan><tspan x="398.2" fill="#bdbdcc">E</tspan><tspan x="400.25" fill="#f7b2bc">C</tspan><tspan x="402.3" fill="#f7b2bc">V</tspan><tspan x="404.35" fill="#f7b2bc">A</tspan><tspan x="406.4" fill="#f7b2bc">I</tspan><tspan x="408.45" fill="#f7b2bc">D</tspan><tspan x="410.5" fill="#bdbdcc">Y</tspan><tspan x="412.55" fill="#f7b2bc">W</tspan><tspan x="414.6" fill="#f7b2bc">K</tspan><tspan x="416.65" fill="#f7b2bc">D</tspan><tspan x="418.7" fill="#bdbdcc">R</tspan><tspan x="420.75" fill="#bdbdcc">D</tspan><tspan x="422.8" fill="#f7b2bc">P</tspan><tspan x="424.85" fill="#a8a8ae">M</tspan><tspan x="426.9" fill="#bdbdcc">Y</tspan><tspan x="428.95" fill="#bdbdcc">C</tspan><tspan x="431" fill="#f7b2bc">N</tspan><tspan x="433.05" fill="#f7b2bc">Q</tspan><tspan x="435.1" fill="#f7b2bc">N</tspan><tspan x="437.15" fill="#f7b2bc">N</tspan><tspan x="439.2" fill="#bdbdcc">R</tspan><tspan x="441.25" fill="#f7b2bc">D</tspan><tspan x="443.3" fill="#bdbdcc">R</tspan><tspan x="445.35" fill="#bdbdcc">Q</tspan><tspan x="447.4" fill="#a8a8ae">L</tspan><tspan x="449.45" fill="#f7b2bc">G</tspan><tspan x="451.5" fill="#f7b2bc">Q</tspan><tspan x="453.55" fill="#f7b2bc">Q</tspan><tspan x="455.6" fill="#f7b2bc">W</tspan><tspan x="457.65" fill="#f7b2bc">F</tspan><tspan x="459.7" fill="#bdbdcc">S</tspan><tspan x="461.75" fill="#a8a8ae">T</tspan><tspan x="463.8" fill="#a8a8ae">M</tspan><tspan x="465.85" fill="#a8a8ae">D</tspan><tspan x="467.9" fill="#a8a8ae">W</tspan><tspan x="469.95" fill="#a8a8ae">P</tspan><tspan x="472" fill="#a8a8ae">D</tspan><tspan x="474.05" fill="#f7b2bc">A</tspan><tspan x="476.1" fill="#f7b2bc">K</tspan><tspan x="478.15" fill="#a8a8ae">V</tspan><tspan x="480.2" fill="#f7b2bc">R</tspan><tspan x="482.25" fill="#f7b2bc">F</tspan><tspan x="484.3" fill="#f7b2bc">P</tspan><tspan x="486.35" fill="#f7b2bc">S</tspan><tspan x="488.4" fill="#f7b2bc">L</tspan><tspan x="490.45" fill="#f7b2bc">L</tspan><tspan x="492.5" fill="#f7b2bc">R</tspan><tspan x="494.55" fill="#f7b2bc">A</tspan><tspan x="496.6" fill="#bdbdcc">L</tspan><tspan x="498.65" fill="#f7b2bc">S</tspan><tspan x="500.7" fill="#f7b2bc">L</tspan><tspan x="502.75" fill="#a8a8ae">S</tspan><tspan x="504.8" fill="#a8a8ae">I</tspan><tspan x="506.85" fill="#a8a8ae">A</tspan><tspan x="508.9" fill="#a8a8ae">E</tspan><tspan x="510.95" fill="#a8a8ae">K</tspan><tspan x="513" fill="#bdbdcc">S</tspan></text><text y="578.91" font-family="Liberation Sans, sans-serif" font-size="2.8"><tspan x="154.25" fill="#a8a8ae">D</tspan><tspan x="156.3" fill="#a8a8ae">Y</tspan><tspan x="158.35" fill="#bdbdcc">N</tspan><tspan x="160.4" fill="#f7b2bc">W</tspan><tspan x="162.45" fill="#bdbdcc">K</tspan><tspan x="164.5" fill="#bdbdcc">S</tspan><tspan x="166.55" fill="#f7b2bc">E</tspan><tspan x="168.6" fill="#f7b2bc">W</tspan><tspan x="170.65" fill="#f7b2bc">K</tspan><tspan x="172.7" fill="#f7b2bc">C</tspan><tspan x="174.75" fill="#bdbdcc">R</tspan><tspan x="176.8" fill="#a8a8ae">F</tspan><tspan x="178.85" fill="#ff7070">N</tspan><tspan x="180.9" fill="#ff7070">G</tspan><tspan x="182.95" fill="#f7b2bc">C</tspan><tspan x="185" fill="#f7b2bc">Q</tspan><tspan x="187.05" fill="#f7b2bc">N</tspan><tspan x="189.1" fill="#f7b2bc">L</tspan><tspan x="191.15" fill="#f7b2bc">D</tspan><tspan x="193.2" fill="#a8a8ae">G</tspan><tspan x="195.25" fill="#bdbdcc">E</tspan><tspan x="197.3" fill="#f7b2bc">G</tspan><tspan x="199.35" fill="#bdbdcc">M</tspan><tspan x="201.4" fill="#f7b2bc">L</tspan><tspan x="203.45" fill="#f7b2bc">N</tspan><tspan x="205.5" fill="#a8a8ae">W</tspan><tspan x="207.55" fill="#bdbdcc">N</tspan><tspan x="209.6" fill="#f7b2bc">A</tspan><tspan x="211.65" fill="#f7b2bc">L</tspan><tspan x="213.7" fill="#f7b2bc">S</tspan><tspan x="215.75" fill="#f7b2bc">G</tspan><tspan x="217.8" fill="#f7b2bc">F</tspan><tspan x="219.85" fill="#bdbdcc">H</tspan><tspan x="221.9" fill="#f7b2bc">V</tspan><tspan x="223.95" fill="#bdbdcc">T</tspan><tspan x="226" fill="#ff7070">V</tspan><tspan x="228.05" fill="#ff7070">E</tspan><tspan x="230.1" fill="#bdbdcc">Q</tspan><tspan x="232.15" fill="#f7b2bc">D</tspan><tspan x="234.2" fill="#bdbdcc">F</tspan><tspan x="236.25" fill="#f7b2bc">S</tspan><tspan x="238.3" fill="#ff7070">N</tspan><tspan x="240.35" fill="#ff7070">F</tspan><tspan x="242.4" fill="#bdbdcc">R</tspan><tspan x="244.45" fill="#f7b2bc">Y</tspan><tspan x="246.5" fill="#f7b2bc">M</tspan><tspan x="248.55" fill="#f7b2bc">L</tspan><tspan x="250.6" fill="#ff7070">E</tspan><tspan x="252.65" fill="#a8a8ae">I</tspan><tspan x="254.7" fill="#bdbdcc">F</tspan><tspan x="256.75" fill="#f7b2bc">F</tspan><tspan x="258.8" fill="#f7b2bc">L</tspan><tspan x="260.85" fill="#ff7070">F</tspan><tspan x="262.9" fill="#ff7070">D</tspan><tspan x="264.95" fill="#bdbdcc">Q</tspan><tspan x="267" fill="#f7b2bc">E</tspan><tspan x="269.05" fill="#bdbdcc">S</tspan><tspan x="271.1" fill="#f7b2bc">C</tspan><tspan x="273.15" fill="#a8a8ae">C</tspan><tspan x="275.2" fill="#a8a8ae">T</tspan><tspan x="277.25" fill="#ff7070">W</tspan><tspan x="279.3" fill="#ff7070">C</tspan><tspan x="281.35" fill="#fff2f2">S</tspan><tspan x="283.4" fill="#ff7070">E</tspan><tspan x="285.45" fill="#fff2f2">K</tspan><tspan x="287.5" fill="#ff7070">C</tspan><tspan x="289.55" fill="#fff2f2">D</tspan><tspan x="291.6" fill="#ff7070">L</tspan><tspan x="293.65" fill="#ff7070">A</tspan><tspan x="295.7" fill="#ff7070">E</tspan><tspan x="297.75" fill="#ff7070">E</tspan><tspan x="299.8" fill="#fff2f2">Y</tspan><tspan x="301.85" fill="#fff2f2">H</tspan><tspan x="303.9" fill="#ff7070">W</tspan><tspan x="305.95" fill="#a8a8ae">H</tspan><tspan x="308" fill="#f7b2bc">G</tspan><tspan x="310.05" fill="#f7b2bc">A</tspan><tspan x="312.1" fill="#bdbdcc">K</tspan><tspan x="314.15" fill="#f7b2bc">N</tspan><tspan x="316.2" fill="#bdbdcc">T</tspan><tspan x="318.25" fill="#f7b2bc">Y</tspan><tspan x="320.3" fill="#a8a8ae">W</tspan><tspan x="322.35" fill="#f7b2bc">D</tspan><tspan x="324.4" fill="#bdbdcc">W</tspan><tspan x="326.45" fill="#f7b2bc">T</tspan><tspan x="328.5" fill="#bdbdcc">H</tspan><tspan x="330.55" fill="#bdbdcc">G</tspan><tspan x="332.6" fill="#f7b2bc">V</tspan><tspan x="334.65" fill="#bdbdcc">E</tspan><tspan x="336.7" fill="#bdbdcc">T</tspan><tspan x="338.75" fill="#f7b2bc">S</tspan><tspan x="340.8" fill="#f7b2bc">W</tspan><tspan x="342.85" fill="#f7b2bc">E</tspan><tspan x="344.9" fill="#bdbdcc">N</tspan><tspan x="373.6" fill="#f7b2bc">Q</tspan><tspan x="375.65" fill="#f7b2bc">I</tspan><tspan x="377.7" fill="#f7b2bc">M</tspan><tspan x="379.75" fill="#f7b2bc">E</tspan><tspan x="381.8" fill="#bdbdcc">S</tspan><tspan x="383.85" fill="#f7b2bc">L</tspan><tspan x="385.9" fill="#f7b2bc">C</tspan><tspan x="387.95" fill="#f7b2bc">S</tspan><tspan x="390" fill="#f7b2bc">L</tspan><tspan x="392.05" fill="#f7b2bc">L</tspan><tspan x="394.1" fill="#f7b2bc">R</tspan><tspan x="396.15" fill="#f7b2bc">Q</tspan><tspan x="398.2" fill="#f7b2bc">Q</tspan><tspan x="400.25" fill="#bdbdcc">D</tspan><tspan x="402.3" fill="#bdbdcc">S</tspan><tspan x="404.35" fill="#f7b2bc">N</tspan><tspan x="406.4" fill="#f7b2bc">S</tspan><tspan x="408.45" fill="#f7b2bc">P</tspan><tspan x="410.5" fill="#f7b2bc">D</tspan><tspan x="412.55" fill="#f7b2bc">P</tspan><tspan x="414.6" fill="#bdbdcc">W</tspan><tspan x="416.65" fill="#f7b2bc">G</tspan><tspan x="418.7" fill="#f7b2bc">H</tspan><tspan x="420.75" fill="#bdbdcc">Y</tspan><tspan x="422.8" fill="#f7b2bc">P</tspan><tspan x="424.85" fill="#a8a8ae">Q</tspan><tspan x="426.9" fill="#f7b2bc">S</tspan><tspan x="428.95" fill="#f7b2bc">W</tspan><tspan x="431" fill="#f7b2bc">P</tspan><tspan x="433.05" fill="#bdbdcc">Y</tspan><tspan x="435.1" fill="#f7b2bc">S</tspan><tspan x="437.15" fill="#bdbdcc">F</tspan><tspan x="439.2" fill="#f7b2bc">E</tspan><tspan x="441.25" fill="#f7b2bc">S</tspan><tspan x="443.3" fill="#f7b2bc">F</tspan><tspan x="445.35" fill="#bdbdcc">C</tspan><tspan x="447.4" fill="#a8a8ae">S</tspan><tspan x="449.45" fill="#bdbdcc">A</tspan><tspan x="451.5" fill="#f7b2bc">P</tspan><tspan x="453.55" fill="#f7b2bc">M</tspan><tspan x="455.6" fill="#f7b2bc">Y</tspan><tspan x="457.65" fill="#f7b2bc">D</tspan><tspan x="459.7" fill="#f7b2bc">T</tspan><tspan x="461.75" fill="#a8a8ae">R</tspan><tspan x="463.8" fill="#a8a8ae">H</tspan><tspan x="465.85" fill="#a8a8ae">L</tspan><tspan x="467.9" fill="#a8a8ae">S</tspan><tspan x="469.95" fill="#a8a8ae">S</tspan><tspan x="472" fill="#a8a8ae">T</tspan><tspan x="474.05" fill="#f7b2bc">K</tspan><tspan x="476.1" fill="#f7b2bc">V</tspan><tspan x="478.15" fill="#a8a8ae">C</tspan><tspan x="480.2" fill="#bdbdcc">Q</tspan><tspan x="482.25" fill="#f7b2bc">E</tspan><tspan x="484.3" fill="#bdbdcc">M</tspan><tspan x="486.35" fill="#f7b2bc">R</tspan><tspan x="488.4" fill="#f7b2bc">C</tspan><tspan x="490.45" fill="#bdbdcc">L</tspan><tspan x="492.5" fill="#f7b2bc">G</tspan><tspan x="494.55" fill="#f7b2bc">F</tspan><tspan x="496.6" fill="#f7b2bc">P</tspan><tspan x="498.65" fill="#f7b2bc">E</tspan><tspan x="500.7" fill="#f7b2bc">S</tspan><tspan x="502.75" fill="#a8a8ae">V</tspan><tspan x="504.8" fill="#a8a8ae">W</tspan><tspan x="506.85" fill="#a8a8ae">S</tspan><tspan x="508.9" fill="#a8a8ae">S</tspan><tspan x="510.95" fill="#a8a8ae">V</tspan><tspan x="513" fill="#f7b2bc">G</tspan></text><text y="582.35" font-family="Liberation Sans, sans-serif" font-size="2.8"><tspan x="154.25" fill="#a8a8ae">P</tspan><tspan x="156.3" fill="#a8a8ae">K</tspan><tspan x="158.35" fill="#bdbdcc">S</tspan><tspan x="160.4" fill="#bdbdcc">P</tspan><tspan x="162.45" fill="#bdbdcc">N</tspan><tspan x="164.5" fill="#f7b2bc">L</tspan><tspan x="166.55" fill="#bdbdcc">A</tspan><tspan x="168.6" fill="#bdbdcc">F</tspan><tspan x="170.65" fill="#bdbdcc">N</tspan><tspan x="172.7" fill="#f7b2bc">W</tspan><tspan x="174.75" fill="#f7b2bc">M</tspan><tspan x="176.8" fill="#a8a8ae">Q</tspan><tspan x="178.85" fill="#ff7070">N</tspan><tspan x="180.9" fill="#ff7070">N</tspan><tspan x="182.95" fill="#f7b2bc">Q</tspan><tspan x="185" fill="#f7b2bc">I</tspan><tspan x="187.05" fill="#f7b2bc">L</tspan><tspan x="189.1" fill="#bdbdcc">D</tspan><tspan x="191.15" fill="#f7b2bc">E</tspan><tspan x="193.2" fill="#a8a8ae">A</tspan><tspan x="195.25" fill="#f7b2bc">V</tspan><tspan x="197.3" fill="#bdbdcc">R</tspan><tspan x="199.35" fill="#bdbdcc">Q</tspan><tspan x="201.4" fill="#f7b2bc">Q</tspan><tspan x="203.45" fill="#bdbdcc">S</tspan><tspan x="205.5" fill="#a8a8ae">M</tspan><tspan x="207.55" fill="#f7b2bc">P</tspan><tspan x="209.6" fill="#f7b2bc">M</tspan><tspan x="211.65" fill="#f7b2bc">S</tspan><tspan x="213.7" fill="#f7b2bc">H</tspan><tspan x="215.75" fill="#bdbdcc">T</tspan><tspan x="217.8" fill="#f7b2bc">M</tspan><tspan x="219.85" fill="#f7b2bc">L</tspan><tspan x="221.9" fill="#f7b2bc">Q</tspan><tspan x="223.95" fill="#bdbdcc">D</tspan><tspan x="226" fill="#ff7070">V</tspan><tspan x="228.05" fill="#ff7070">H</tspan><tspan x="230.1" fill="#f7b2bc">L</tspan><tspan x="232.15" fill="#bdbdcc">L</tspan><tspan x="234.2" fill="#bdbdcc">P</tspan><tspan x="236.25" fill="#bdbdcc">Y</tspan><tspan x="238.3" fill="#ff7070">D</tspan><tspan x="240.35" fill="#ff7070">W</tspan><tspan x="242.4" fill="#f7b2bc">E</tspan><tspan x="244.45" fill="#f7b2bc">K</tspan><tspan x="246.5" fill="#f7b2bc">T</tspan><tspan x="248.55" fill="#f7b2bc">H</tspan><tspan x="250.6" fill="#ff7070">D</tspan><tspan x="252.65" fill="#a8a8ae">L</tspan><tspan x="254.7" fill="#bdbdcc">T</tspan><tspan x="256.75" fill="#f7b2bc">Q</tspan><tspan x="258.8" fill="#f7b2bc">M</tspan><tspan x="260.85" fill="#ff7070">P</tspan><tspan x="262.9" fill="#ff7070">K</tspan><tspan x="264.95" fill="#f7b2bc">Y</tspan><tspan x="267" fill="#f7b2bc">V</tspan><tspan x="269.05" fill="#bdbdcc">A</tspan><tspan x="271.1" fill="#bdbdcc">T</tspan><tspan x="273.15" fill="#a8a8ae">W</tspan><tspan x="275.2" fill="#a8a8ae">S</tspan><tspan x="277.25" fill="#ff7070">H</tspan><tspan x="279.3" fill="#ff7070">R</tspan><tspan x="281.35" fill="#fff2f2">K</tspan><tspan x="283.4" fill="#ff7070">V</tspan><tspan x="285.45" fill="#fff2f2">Y</tspan><tspan x="287.5" fill="#ff7070">Q</tspan><tspan x="289.55" fill="#fff2f2">W</tspan><tspan x="291.6" fill="#ff7070">C</tspan><tspan x="293.65" fill="#ff7070">T</tspan><tspan x="295.7" fill="#ff7070">H</tspan><tspan x="297.75" fill="#ff7070">N</tspan><tspan x="299.8" fill="#fff2f2">R</tspan><tspan x="301.85" fill="#fff2f2">F</tspan><tspan x="303.9" fill="#ff7070">I</tspan><tspan x="305.95" fill="#a8a8ae">F</tspan><tspan x="308" fill="#bdbdcc">L</tspan><tspan x="310.05" fill="#f7b2bc">Q</tspan><tspan x="312.1" fill="#f7b2bc">D</tspan><tspan x="314.15" fill="#f7b2bc">Q</tspan><tspan x="316.2" fill="#f7b2bc">L</tspan><tspan x="318.25" fill="#f7b2bc">K</tspan><tspan x="320.3" fill="#a8a8ae">I</tspan><tspan x="322.35" fill="#f7b2bc">P</tspan><tspan x="324.4" fill="#f7b2bc">F</tspan><tspan x="326.45" fill="#bdbdcc">I</tspan><tspan x="328.5" fill="#f7b2bc">L</tspan><tspan x="330.55" fill="#bdbdcc">V</tspan><tspan x="332.6" fill="#bdbdcc">Q</tspan><tspan x="334.65" fill="#f7b2bc">C</tspan><tspan x="336.7" fill="#f7b2bc">K</tspan><tspan x="338.75" fill="#bdbdcc">K</tspan><tspan x="340.8" fill="#bdbdcc">K</tspan><tspan x="342.85" fill="#bdbdcc">G</tspan><tspan x="344.9" fill="#bdbdcc">C</tspan><tspan x="373.6" fill="#bdbdcc">S</tspan><tspan x="375.65" fill="#bdbdcc">C</tspan><tspan x="377.7" fill="#f7b2bc">D</tspan><tspan x="379.75" fill="#bdbdcc">L</tspan><tspan x="381.8" fill="#bdbdcc">Q</tspan><tspan x="383.85" fill="#f7b2bc">D</tspan><tspan x="385.9" fill="#f7b2bc">F</tspan><tspan x="387.95" fill="#bdbdcc">W</tspan><tspan x="390" fill="#f7b2bc">E</tspan><tspan x="392.05" fill="#bdbdcc">W</tspan><tspan x="394.1" fill="#f7b2bc">T</tspan><tspan x="396.15" fill="#f7b2bc">D</tspan><tspan x="398.2" fill="#bdbdcc">E</tspan><tspan x="400.25" fill="#f7b2bc">M</tspan><tspan x="402.3" fill="#f7b2bc">W</tspan><tspan x="404.35" fill="#bdbdcc">I</tspan><tspan x="406.4" fill="#f7b2bc">H</tspan><tspan x="408.45" fill="#f7b2bc">G</tspan><tspan x="410.5" fill="#f7b2bc">K</tspan><tspan x="412.55" fill="#bdbdcc">K</tspan><tspan x="414.6" fill="#f7b2bc">C</tspan><tspan x="416.65" fill="#bdbdcc">N</tspan><tspan x="418.7" fill="#f7b2bc">E</tspan><tspan x="420.75" fill="#f7b2bc">Q</tspan><tspan x="422.8" fill="#bdbdcc">I</tspan><tspan x="424.85" fill="#a8a8ae">F</tspan><tspan x="426.9" fill="#f7b2bc">N</tspan><tspan x="428.95" fill="#bdbdcc">N</tspan><tspan x="431" fill="#bdbdcc">A</tspan><tspan x="433.05" fill="#f7b2bc">Y</tspan><tspan x="435.1" fill="#bdbdcc">C</tspan><tspan x="437.15" fill="#f7b2bc">I</tspan><tspan x="439.2" fill="#f7b2bc">P</tspan><tspan x="441.25" fill="#bdbdcc">N</tspan><tspan x="443.3" fill="#f7b2bc">E</tspan><tspan x="445.35" fill="#bdbdcc">I</tspan><tspan x="447.4" fill="#a8a8ae">P</tspan><tspan x="449.45" fill="#bdbdcc">A</tspan><tspan x="451.5" fill="#bdbdcc">P</tspan><tspan x="453.55" fill="#f7b2bc">K</tspan><tspan x="455.6" fill="#f7b2bc">I</tspan><tspan x="472" fill="#a8a8ae">G</tspan><tspan x="474.05" fill="#bdbdcc">R</tspan><tspan x="476.1" fill="#bdbdcc">Q</tspan><tspan x="478.15" fill="#a8a8ae">K</tspan><tspan x="480.2" fill="#f7b2bc">D</tspan><tspan x="482.25" fill="#f7b2bc">S</tspan><tspan x="484.3" fill="#bdbdcc">Q</tspan><tspan x="486.35" fill="#f7b2bc">M</tspan><tspan x="488.4" fill="#f7b2bc">E</tspan><tspan x="490.45" fill="#f7b2bc">K</tspan><tspan x="492.5" fill="#f7b2bc">N</tspan><tspan x="494.55" fill="#f7b2bc">V</tspan><tspan x="496.6" fill="#f7b2bc">R</tspan><tspan x="498.65" fill="#f7b2bc">C</tspan><tspan x="500.7" fill="#f7b2bc">G</tspan><tspan x="502.75" fill="#a8a8ae">F</tspan><tspan x="504.8" fill="#a8a8ae">A</tspan><tspan x="506.85" fill="#a8a8ae">P</tspan><tspan x="508.9" fill="#a8a8ae">H</tspan><tspan x="510.95" fill="#a8a8ae">L</tspan><tspan x="513" fill="#f7b2bc">M</tspan></text><text y="585.79" font-family="Liberation Sans, sans-serif" font-size="2.8"><tspan x="154.25" fill="#a8a8ae">E</tspan><tspan x="156.3" fill="#a8a8ae">G</tspan><tspan x="158.35" fill="#f7b2bc">I</tspan><tspan x="160.4" fill="#bdbdcc">F</tspan><tspan x="162.45" fill="#bdbdcc">Q</tspan><tspan x="164.5" fill="#f7b2bc">M</tspan><tspan x="166.55" fill="#f7b2bc">F</tspan><tspan x="168.6" fill="#bdbdcc">W</tspan><tspan x="170.65" fill="#f7b2bc">L</tspan><tspan x="172.7" fill="#f7b2bc">Q</tspan><tspan x="174.75" fill="#bdbdcc">P</tspan><tspan x="176.8" fill="#a8a8ae">W</tspan><tspan x="178.85" fill="#ff7070">I</tspan><tspan x="180.9" fill="#ff7070">A</tspan><tspan x="182.95" fill="#bdbdcc">A</tspan><tspan x="185" fill="#f7b2bc">Y</tspan><tspan x="187.05" fill="#bdbdcc">D</tspan><tspan x="189.1" fill="#f7b2bc">H</tspan><tspan x="191.15" fill="#f7b2bc">G</tspan><tspan x="193.2" fill="#a8a8ae">Y</tspan><tspan x="195.25" fill="#bdbdcc">Q</tspan><tspan x="197.3" fill="#f7b2bc">F</tspan><tspan x="199.35" fill="#f7b2bc">N</tspan><tspan x="201.4" fill="#f7b2bc">W</tspan><tspan x="203.45" fill="#f7b2bc">T</tspan><tspan x="205.5" fill="#a8a8ae">R</tspan><tspan x="207.55" fill="#f7b2bc">S</tspan><tspan x="209.6" fill="#f7b2bc">H</tspan><tspan x="211.65" fill="#f7b2bc">K</tspan><tspan x="213.7" fill="#f7b2bc">S</tspan><tspan x="215.75" fill="#bdbdcc">Q</tspan><tspan x="217.8" fill="#f7b2bc">Y</tspan><tspan x="219.85" fill="#f7b2bc">L</tspan><tspan x="221.9" fill="#f7b2bc">H</tspan><tspan x="223.95" fill="#bdbdcc">Q</tspan><tspan x="226" fill="#ff7070">A</tspan><tspan x="228.05" fill="#ff7070">L</tspan><tspan x="230.1" fill="#f7b2bc">K</tspan><tspan x="232.15" fill="#bdbdcc">R</tspan><tspan x="234.2" fill="#bdbdcc">N</tspan><tspan x="236.25" fill="#f7b2bc">R</tspan><tspan x="238.3" fill="#ff7070">S</tspan><tspan x="240.35" fill="#ff7070">F</tspan><tspan x="242.4" fill="#bdbdcc">M</tspan><tspan x="244.45" fill="#f7b2bc">P</tspan><tspan x="246.5" fill="#f7b2bc">P</tspan><tspan x="248.55" fill="#f7b2bc">Y</tspan><tspan x="250.6" fill="#ff7070">E</tspan><tspan x="252.65" fill="#a8a8ae">V</tspan><tspan x="254.7" fill="#f7b2bc">C</tspan><tspan x="256.75" fill="#f7b2bc">I</tspan><tspan x="258.8" fill="#bdbdcc">N</tspan><tspan x="260.85" fill="#ff7070">Y</tspan><tspan x="262.9" fill="#ff7070">C</tspan><tspan x="264.95" fill="#f7b2bc">A</tspan><tspan x="267" fill="#f7b2bc">Y</tspan><tspan x="269.05" fill="#bdbdcc">P</tspan><tspan x="271.1" fill="#bdbdcc">F</tspan><tspan x="273.15" fill="#a8a8ae">V</tspan><tspan x="275.2" fill="#a8a8ae">C</tspan><tspan x="277.25" fill="#ff7070">W</tspan><tspan x="279.3" fill="#ff7070">G</tspan><tspan x="281.35" fill="#fff2f2">K</tspan><tspan x="283.4" fill="#ff7070">G</tspan><tspan x="285.45" fill="#fff2f2">T</tspan><tspan x="287.5" fill="#ff7070">S</tspan><tspan x="289.55" fill="#fff2f2">M</tspan><tspan x="291.6" fill="#ff7070">R</tspan><tspan x="293.65" fill="#ff7070">F</tspan><tspan x="295.7" fill="#ff7070">D</tspan><tspan x="297.75" fill="#ff7070">M</tspan><tspan x="299.8" fill="#fff2f2">T</tspan><tspan x="301.85" fill="#fff2f2">Q</tspan><tspan x="303.9" fill="#ff7070">F</tspan><tspan x="305.95" fill="#a8a8ae">K</tspan><tspan x="308" fill="#f7b2bc">E</tspan><tspan x="310.05" fill="#f7b2bc">F</tspan><tspan x="312.1" fill="#f7b2bc">K</tspan><tspan x="314.15" fill="#f7b2bc">Q</tspan><tspan x="316.2" fill="#f7b2bc">K</tspan><tspan x="318.25" fill="#f7b2bc">K</tspan><tspan x="320.3" fill="#a8a8ae">Q</tspan><tspan x="322.35" fill="#f7b2bc">G</tspan><tspan x="324.4" fill="#bdbdcc">S</tspan><tspan x="326.45" fill="#bdbdcc">F</tspan><tspan x="328.5" fill="#f7b2bc">R</tspan><tspan x="330.55" fill="#f7b2bc">F</tspan><tspan x="332.6" fill="#f7b2bc">G</tspan><tspan x="334.65" fill="#f7b2bc">K</tspan><tspan x="336.7" fill="#f7b2bc">R</tspan><tspan x="338.75" fill="#f7b2bc">S</tspan><tspan x="340.8" fill="#bdbdcc">N</tspan><tspan x="342.85" fill="#f7b2bc">V</tspan><tspan x="344.9" fill="#f7b2bc">S</tspan><tspan x="373.6" fill="#f7b2bc">F</tspan><tspan x="375.65" fill="#f7b2bc">D</tspan><tspan x="377.7" fill="#f7b2bc">L</tspan><tspan x="379.75" fill="#bdbdcc">G</tspan><tspan x="381.8" fill="#f7b2bc">K</tspan><tspan x="383.85" fill="#f7b2bc">W</tspan><tspan x="385.9" fill="#f7b2bc">A</tspan><tspan x="387.95" fill="#f7b2bc">W</tspan><tspan x="390" fill="#f7b2bc">D</tspan><tspan x="392.05" fill="#f7b2bc">S</tspan><tspan x="394.1" fill="#f7b2bc">M</tspan><tspan x="396.15" fill="#f7b2bc">E</tspan><tspan x="398.2" fill="#bdbdcc">W</tspan><tspan x="400.25" fill="#f7b2bc">E</tspan><tspan x="402.3" fill="#f7b2bc">F</tspan><tspan x="404.35" fill="#f7b2bc">R</tspan><tspan x="406.4" fill="#f7b2bc">S</tspan><tspan x="408.45" fill="#bdbdcc">K</tspan><tspan x="410.5" fill="#f7b2bc">A</tspan><tspan x="412.55" fill="#bdbdcc">C</tspan><tspan x="414.6" fill="#f7b2bc">R</tspan><tspan x="416.65" fill="#f7b2bc">W</tspan><tspan x="418.7" fill="#bdbdcc">C</tspan><tspan x="420.75" fill="#f7b2bc">L</tspan><tspan x="422.8" fill="#bdbdcc">C</tspan><tspan x="424.85" fill="#a8a8ae">V</tspan><tspan x="426.9" fill="#f7b2bc">Y</tspan><tspan x="428.95" fill="#f7b2bc">P</tspan><tspan x="431" fill="#bdbdcc">I</tspan><tspan x="433.05" fill="#f7b2bc">P</tspan><tspan x="435.1" fill="#f7b2bc">H</tspan><tspan x="437.15" fill="#f7b2bc">P</tspan><tspan x="439.2" fill="#f7b2bc">F</tspan><tspan x="441.25" fill="#bdbdcc">S</tspan><tspan x="443.3" fill="#bdbdcc">L</tspan><tspan x="445.35" fill="#f7b2bc">Y</tspan><tspan x="447.4" fill="#a8a8ae">E</tspan><tspan x="449.45" fill="#f7b2bc">N</tspan><tspan x="451.5" fill="#f7b2bc">S</tspan><tspan x="453.55" fill="#f7b2bc">P</tspan><tspan x="455.6" fill="#f7b2bc">W</tspan><tspan x="457.65" fill="#f7b2bc">D</tspan><tspan x="459.7" fill="#f7b2bc">N</tspan><tspan x="461.75" fill="#a8a8ae">Q</tspan><tspan x="463.8" fill="#a8a8ae">Q</tspan><tspan x="465.85" fill="#a8a8ae">D</tspan><tspan x="467.9" fill="#a8a8ae">C</tspan><tspan x="469.95" fill="#a8a8ae">T</tspan><tspan x="472" fill="#a8a8ae">M</tspan><tspan x="474.05" fill="#bdbdcc">R</tspan><tspan x="476.1" fill="#bdbdcc">F</tspan><tspan x="478.15" fill="#a8a8ae">T</tspan><tspan x="480.2" fill="#f7b2bc">T</tspan><tspan x="482.25" fill="#f7b2bc">R</tspan><tspan x="484.3" fill="#f7b2bc">S</tspan><tspan x="486.35" fill="#f7b2bc">F</tspan><tspan x="488.4" fill="#f7b2bc">L</tspan><tspan x="490.45" fill="#f7b2bc">T</tspan><tspan x="492.5" fill="#f7b2bc">W</tspan><tspan x="494.55" fill="#bdbdcc">D</tspan><tspan x="496.6" fill="#f7b2bc">T</tspan><tspan x="498.65" fill="#f7b2bc">Q</tspan><tspan x="500.7" fill="#f7b2bc">R</tspan><tspan x="502.75" fill="#a8a8ae">W</tspan><tspan x="504.8" fill="#a8a8ae">K</tspan><tspan x="506.85" fill="#a8a8ae">N</tspan><tspan x="508.9" fill="#a8a8ae">K</tspan><tspan x="510.95" fill="#a8a8ae">W</tspan><tspan x="513" fill="#f7b2bc">D</tspan></text></g>
<rect x="273.4" y="493" width="49" height="104.6" fill="none" stroke="#777" stroke-width="0.8"/>
<rect x="400.2" y="492.8" width="8.2" height="105.8" fill="none" stroke="#777" stroke-width="0.8"/>
<text x="279.8" y="595.2" textLength="35.6" lengthAdjust="spacingAndGlyphs" font-family="Liberation Serif, serif" font-size="5.1" fill="#333">Consensus pattern</text>
<text x="365.6" y="597.4" textLength="33.8" lengthAdjust="spacingAndGlyphs" font-family="Liberation Serif, serif" font-size="5.1" fill="#333">Consensus pattern</text>
<path d="M314.3 586.5l1.6 2.8h-3.2z" fill="none" stroke="#333" stroke-width="0.6"/>
<path d="M449.6 586.5l1.6 2.8h-3.2z" fill="none" stroke="#333" stroke-width="0.6"/>
<path d="M5.5 330V333M5.5 483.4V486.5" stroke="#c4c4c4" stroke-width="1"/>
<text x="6.6" y="486.8" font-family="Liberation Serif, serif" font-weight="bold" font-size="11" fill="#111">D</text>
</svg></body></html>
